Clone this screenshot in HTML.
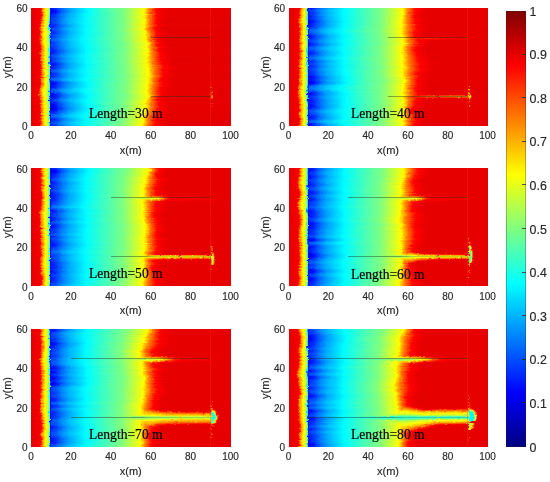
<!DOCTYPE html>
<html><head><meta charset="utf-8"><title>Length comparison</title>
<style>
html,body{margin:0;padding:0;background:#fff}
body{width:550px;height:482px;position:relative;overflow:hidden;font-family:"Liberation Sans",Arial,sans-serif;color:#262626;-webkit-text-stroke:.15px #262626}
.p{position:absolute;overflow:hidden}
.h{position:absolute;left:-3px;top:-3px;right:-3px;filter:url(#d)}
.h i{display:block;height:1px}
.t{position:absolute;font-size:10px;line-height:10px;white-space:nowrap}
.xt{transform:translateX(-50%)}
.yt{text-align:right;width:20px}
.xl{position:absolute;font-size:11px;line-height:11px;transform:translateX(-50%);white-space:nowrap}
.yl{position:absolute;font-size:11px;line-height:11px;transform:translate(-50%,-50%) rotate(-90deg);white-space:nowrap}
.lg{position:absolute;font-family:"Liberation Serif","Times New Roman",serif;font-size:14px;line-height:14px;color:#000;white-space:nowrap;transform:scaleX(.97);transform-origin:0 0;-webkit-text-stroke:.2px #000}
.f{position:absolute;height:1px;background:rgba(30,45,30,.42)}
.v{position:absolute;width:1px;top:0;bottom:0;background:rgba(255,50,0,.32)}
.cb{position:absolute;left:506px;top:10.5px;width:20px;height:436px;background:linear-gradient(180deg,#800000 0%,#ff0000 12.5%,#ffff00 37.5%,#00ffff 62.5%,#0000ff 87.5%,#000080 100%);box-shadow:inset 0 0 0 .6px rgba(38,38,38,.5)}
.ct{position:absolute;left:529.6px;font-size:12.4px;line-height:12px;white-space:nowrap}
.tk{position:absolute;left:522px;width:4px;height:1px;background:rgba(38,38,38,.75)}
</style></head><body>
<svg width="0" height="0" style="position:absolute"><filter id="d" x="0" y="0" width="100%" height="100%" color-interpolation-filters="sRGB"><feTurbulence type="fractalNoise" baseFrequency="0.4" numOctaves="1" seed="3" result="n"/><feDisplacementMap in="SourceGraphic" in2="n" scale="3" xChannelSelector="R" yChannelSelector="G"/></filter></svg>
<div class="p" style="left:31px;top:7.5px;width:199.5px;height:118px"><div class="h"><i style="background:linear-gradient(90deg,#e50000 3.5px,#f40000 12.5px,#ff1d00 13.5px,#ff6a00 14.5px,#ffc800 16.5px,#fff200 17.5px,#f5ff0a 18.5px,#baff45 20.5px,#61ff9e 21.5px,#000dff 22.5px,#0026ff 27.4px,#006fff 34.4px,#00a3ff 41.4px,#00feff 59.4px,#53ffac 81.3px,#7fff80 96.3px,#fcff03 116.2px,#fff300 117.2px,#ff8500 122.2px,#ff0300 131.2px,#e60000 144.1px,#e60000 202px)"></i><i style="background:linear-gradient(90deg,#e50000 3.5px,#f40000 12.5px,#ff1d00 13.5px,#ff6a00 14.5px,#ffc800 16.5px,#fff200 17.5px,#f5ff0a 18.5px,#baff45 20.5px,#61ff9e 21.5px,#000dff 22.5px,#0026ff 27.4px,#006fff 34.4px,#00a3ff 41.4px,#00feff 59.4px,#53ffac 81.3px,#7fff80 96.3px,#fcff03 116.2px,#fff300 117.2px,#ff8500 122.2px,#ff0300 131.2px,#e60000 144.1px,#e60000 202px)"></i><i style="background:linear-gradient(90deg,#e50000 3.5px,#f40000 12.5px,#ff1d00 13.5px,#ff6a00 14.5px,#ffc800 16.5px,#fff200 17.5px,#f5ff0a 18.5px,#baff45 20.5px,#61ff9e 21.5px,#000dff 22.5px,#0026ff 27.4px,#006fff 34.4px,#00a3ff 41.4px,#00feff 59.4px,#53ffac 81.3px,#7fff80 96.3px,#fcff03 116.2px,#fff300 117.2px,#ff8500 122.2px,#ff0300 131.2px,#e60000 144.1px,#e60000 202px)"></i><i style="background:linear-gradient(90deg,#e50000 3.5px,#f40000 12.5px,#ff1d00 13.5px,#ff6a00 14.5px,#ffc800 16.5px,#fff200 17.5px,#f5ff0a 18.5px,#baff45 20.5px,#61ff9e 21.5px,#000dff 22.5px,#0026ff 27.4px,#006fff 34.4px,#00a3ff 41.4px,#00feff 59.4px,#53ffac 81.3px,#7fff80 96.3px,#fcff03 116.2px,#fff300 117.2px,#ff8500 122.2px,#ff0300 131.2px,#e60000 144.1px,#e60000 202px)"></i><i style="background:linear-gradient(90deg,#e50000 3.5px,#f40000 12.5px,#ff2000 13.5px,#ff6c00 14.5px,#ffc900 16.5px,#fff200 17.5px,#f6ff09 18.5px,#c7ff38 20.5px,#97ff68 21.5px,#0039ff 22.5px,#0006ff 23.4px,#002cff 28.4px,#006dff 34.4px,#00a2ff 41.4px,#00fdff 59.4px,#53ffac 81.3px,#7eff81 96.3px,#faff05 116.2px,#fff400 117.2px,#ff7a00 121.2px,#f00 127.2px,#e60000 136.2px,#e60000 202px)"></i><i style="background:linear-gradient(90deg,#e60000 3.5px,#f40000 12.5px,#ff2b00 13.5px,#f70 14.5px,#ffa400 15.5px,#fff400 17.5px,#f3ff0c 18.5px,#b6ff49 20.5px,#58ffa7 21.5px,#000dff 22.5px,#0000fb 23.4px,#0016ff 27.4px,#0064ff 34.4px,#009cff 41.4px,#0ff 60.4px,#50ffaf 80.3px,#80ff7f 96.3px,#fffa00 116.2px,#ff7b00 121.2px,#ff0400 128.2px,#fc0000 129.2px,#e60000 139.2px,#e60000 202px)"></i><i style="background:linear-gradient(90deg,#e60000 3.5px,#f50000 12.5px,#ff8700 14.5px,#fff900 17.5px,#f0ff0f 18.5px,#c0ff3f 20.5px,#92ff6d 21.5px,#03f 22.5px,#00e 23.4px,#0000fb 24.4px,#01f 27.4px,#0060ff 34.4px,#00a0ff 42.4px,#04fffb 61.4px,#53ffac 81.3px,#80ff7f 96.3px,#fffb00 116.2px,#ff7d00 121.2px,#ff0700 128.2px,#fd0000 129.2px,#e60000 139.2px,#e60000 202px)"></i><i style="background:linear-gradient(90deg,#e50000 3.5px,#f40000 13.5px,#ff3100 14.5px,#ff7f00 15.5px,#ffdf00 17.5px,#feff01 18.5px,#c7ff38 20.5px,#80ff7f 21.5px,#000aff 22.5px,#0000fd 23.4px,#0019ff 27.4px,#06f 34.4px,#009dff 41.4px,#00fcff 59.4px,#81ff7e 96.3px,#faff05 115.2px,#fff500 116.2px,#ff7500 121.2px,#fe0000 128.2px,#e60000 138.2px,#e60000 202px)"></i><i style="background:linear-gradient(90deg,#e60000 3.5px,#f40000 12.5px,#ff2d00 13.5px,#ff7900 14.5px,#ffa400 15.5px,#fff500 17.5px,#f2ff0d 18.5px,#b5ff4a 20.5px,#54ffab 21.5px,#000eff 22.5px,#002eff 27.4px,#0075ff 34.4px,#00a7ff 41.4px,#00fcff 58.4px,#7eff81 95.3px,#fdff02 115.2px,#ffeb00 116.2px,#ff8300 120.2px,#fe0000 128.2px,#e60000 138.2px,#e60000 202px)"></i><i style="background:linear-gradient(90deg,#e50000 3.5px,#f50000 13.5px,#f80 15.5px,#ffe500 17.5px,#fcff03 18.5px,#c6ff39 20.5px,#85ff7a 21.5px,#0009ff 22.5px,#02f 23.4px,#0037ff 27.4px,#007bff 34.4px,#00acff 41.4px,#00fcff 58.4px,#82ff7d 97.3px,#feff01 117.2px,#ff8200 122.2px,#fe0000 130.2px,#e60000 140.2px,#e60000 202px)"></i><i style="background:linear-gradient(90deg,#e50000 3.5px,#f40000 12.5px,#ff2000 13.5px,#ff6c00 14.5px,#ffc900 16.5px,#fff200 17.5px,#f4ff0b 18.5px,#dcff23 19.5px,#b1ff4e 20.5px,#38ffc7 21.5px,#0013ff 22.5px,#0027ff 23.4px,#0039ff 27.4px,#007cff 34.4px,#00adff 41.4px,#00feff 58.4px,#81ff7e 96.3px,#fffa00 116.2px,#ff7600 121.2px,#fd0000 128.2px,#e60000 138.2px,#e60000 202px)"></i><i style="background:linear-gradient(90deg,#e50000 3.5px,#f40000 12.5px,#ff1a00 13.5px,#f60 14.5px,#fff100 17.5px,#f5ff0a 18.5px,#b6ff49 20.5px,#4dffb2 21.5px,#0010ff 22.5px,#0025ff 23.4px,#0037ff 27.4px,#007bff 34.4px,#00acff 41.4px,#00fdff 58.4px,#7fff80 96.3px,#fcff03 116.2px,#ffef00 117.2px,#ff8400 121.2px,#ff0800 128.2px,#fd0000 129.2px,#e60000 139.2px,#e60000 202px)"></i><i style="background:linear-gradient(90deg,#e60000 3.5px,#f40000 12.5px,#ff2f00 13.5px,#ff7c00 14.5px,#fff500 17.5px,#f2ff0d 18.5px,#b8ff47 20.5px,#60ff9f 21.5px,#000cff 22.5px,#0032ff 23.4px,#004aff 28.4px,#0083ff 34.4px,#00b7ff 42.4px,#00fbff 57.4px,#80ff7f 95.3px,#fffd00 115.2px,#ff8700 120.2px,#fe0000 129.2px,#e60000 140.2px,#e50000 202px)"></i><i style="background:linear-gradient(90deg,#e50000 3.5px,#f40000 12.5px,#ff0e00 13.5px,#ff5a00 14.5px,#ff9400 15.5px,#fe0 17.5px,#f8ff07 18.5px,#c1ff3e 20.5px,#7bff84 21.5px,#0009ff 22.5px,#0036ff 23.4px,#004eff 28.4px,#0087ff 34.4px,#00b9ff 42.4px,#00fbff 57.4px,#81ff7e 96.3px,#feff01 116.2px,#ff8400 121.2px,#fe0000 129.2px,#e50000 140.2px,#e50000 202px)"></i><i style="background:linear-gradient(90deg,#e70000 3.5px,#f40000 11.5px,#ff0d00 12.5px,#ff5a00 13.5px,#ff9400 14.5px,#ffe300 16.5px,#fffe00 17.5px,#eaff15 18.5px,#d4ff2b 19.5px,#a4ff5b 20.5px,#00eaff 21.5px,#0015ff 22.5px,#003eff 23.4px,#0052ff 28.4px,#0089ff 34.4px,#0bf 42.4px,#00fcff 57.4px,#7fff80 96.3px,#faff05 116.2px,#fff600 117.2px,#ff7100 122.2px,#ff0400 128.2px,#fc0000 129.2px,#e50000 138.2px,#e50000 202px)"></i><i style="background:linear-gradient(90deg,#e50000 3.5px,#fa0000 13.5px,#ff8b00 15.5px,#ffe700 17.5px,#fbff04 18.5px,#c2ff3d 20.5px,#71ff8e 21.5px,#000cff 22.5px,#0037ff 23.4px,#004eff 28.4px,#0086ff 34.4px,#00b9ff 42.4px,#00faff 57.4px,#82ff7d 97.3px,#feff01 117.2px,#ff7400 122.2px,#fe0000 128.2px,#e50000 137.2px,#e50000 202px)"></i><i style="background:linear-gradient(90deg,#e70000 3.5px,#f40000 11.5px,#ff2300 12.5px,#ff7000 13.5px,#ff9f00 14.5px,#ffec00 16.5px,#fcff03 17.5px,#d1ff2e 19.5px,#9eff61 20.5px,#00b7ff 21.5px,#0017ff 22.5px,#0039ff 23.4px,#004eff 28.4px,#0087ff 34.4px,#00baff 42.4px,#00fbff 57.4px,#81ff7e 96.3px,#feff01 116.2px,#ff7f00 121.2px,#ff0700 128.2px,#fd0000 129.2px,#e50000 139.2px,#e50000 202px)"></i><i style="background:linear-gradient(90deg,#e60000 3.5px,#fc0000 12.5px,#ff8b00 14.5px,#fffb00 17.5px,#edff12 18.5px,#d5ff2a 19.5px,#a2ff5d 20.5px,#00a7ff 21.5px,#0019ff 22.5px,#0041ff 23.4px,#0054ff 28.4px,#008bff 34.4px,#00bcff 42.4px,#00fcff 57.4px,#7fff80 96.3px,#fffe00 117.2px,#ff8100 121.2px,#ff0500 127.2px,#fc0000 128.2px,#e50000 136.2px,#e50000 202px)"></i><i style="background:linear-gradient(90deg,#e60000 3.5px,#f50000 12.5px,#ff8300 14.5px,#fff700 17.5px,#f0ff0f 18.5px,#daff25 19.5px,#b3ff4c 20.5px,#4fffb0 21.5px,#000eff 22.5px,#0039ff 23.4px,#004fff 28.4px,#0087ff 34.4px,#00baff 42.4px,#00fbff 57.4px,#7fff80 95.3px,#fcff03 115.2px,#fff200 116.2px,#ff7500 121.2px,#fe0000 128.2px,#e60000 138.2px,#e50000 202px)"></i><i style="background:linear-gradient(90deg,#e80000 3.5px,#f40000 10.5px,#ff0800 11.5px,#ff9100 13.5px,#ffe000 15.5px,#fffa00 16.5px,#f2ff0d 17.5px,#c1ff3e 19.5px,#8aff75 20.5px,#04f 21.5px,#001aff 22.5px,#0037ff 27.4px,#007bff 34.4px,#00acff 41.4px,#00fdff 58.4px,#81ff7e 96.3px,#fffa00 116.2px,#ff7e00 121.2px,#fe0000 129.2px,#e60000 140.2px,#e60000 202px)"></i><i style="background:linear-gradient(90deg,#e70000 3.5px,#f40000 11.5px,#ff2500 12.5px,#ff7100 13.5px,#ffa000 14.5px,#ffed00 16.5px,#fbff04 17.5px,#d1ff2e 19.5px,#9eff61 20.5px,#00beff 21.5px,#0016ff 22.5px,#002fff 27.4px,#0075ff 34.4px,#00a8ff 41.4px,#00fbff 58.4px,#81ff7e 96.3px,#fffa00 116.2px,#ff8300 121.2px,#ff0500 129.2px,#fd0000 130.2px,#e60000 141.2px,#e60000 202px)"></i><i style="background:linear-gradient(90deg,#e70000 3.5px,#f40000 11.5px,#ff2600 12.5px,#ff7200 13.5px,#ffa100 14.5px,#fe0 16.5px,#fbff04 17.5px,#d2ff2d 19.5px,#a2ff5d 20.5px,#00f9ff 21.5px,#0013ff 22.5px,#0af 41.4px,#00fcff 58.4px,#7eff81 96.3px,#fffc00 117.2px,#f70 122.2px,#fe0000 129.2px,#e60000 139.2px,#e60000 202px)"></i><i style="background:linear-gradient(90deg,#e90000 3.5px,#f40000 10.5px,#ff1f00 11.5px,#ff6c00 12.5px,#ff9d00 13.5px,#ffed00 15.5px,#ff0 16.5px,#dcff23 18.5px,#9bff64 20.5px,#10ffef 21.5px,#000fff 22.5px,#002bff 23.4px,#003cff 27.4px,#007fff 34.4px,#00aeff 41.4px,#00feff 58.4px,#82ff7d 96.3px,#fff800 116.2px,#ff8000 120.2px,#fd0000 127.2px,#e50000 136.2px,#e50000 202px)"></i><i style="background:linear-gradient(90deg,#e80000 3.5px,#f50000 11.5px,#ff8400 13.5px,#fff400 16.5px,#f7ff08 17.5px,#cdff32 19.5px,#9eff61 20.5px,#00e4ff 21.5px,#0013ff 22.5px,#003dff 23.4px,#0051ff 28.4px,#0089ff 34.4px,#0bf 42.4px,#00fbff 57.4px,#7fff80 96.3px,#fff900 117.2px,#ff7000 121.2px,#fe0000 126.2px,#e50000 134.2px,#e50000 202px)"></i><i style="background:linear-gradient(90deg,#e80000 3.5px,#f40000 10.5px,#ff1400 11.5px,#ff6100 12.5px,#ff9700 13.5px,#ffe700 15.5px,#fffd00 16.5px,#f0ff0f 17.5px,#c7ff38 19.5px,#9eff61 20.5px,#31ffce 21.5px,#000eff 22.5px,#003dff 23.4px,#0052ff 28.4px,#0089ff 34.4px,#0bf 42.4px,#00fdff 57.4px,#80ff7f 95.3px,#fffb00 115.2px,#ff8300 120.2px,#ff0400 128.2px,#fc0000 129.2px,#e50000 140.2px,#e50000 202px)"></i><i style="background:linear-gradient(90deg,#e80000 3.5px,#f40000 10.5px,#ff0700 11.5px,#ff9100 13.5px,#ffe000 15.5px,#fffa00 16.5px,#f2ff0d 17.5px,#d0ff2f 19.5px,#af5 20.5px,#5fffa0 21.5px,#0007ff 22.5px,#03f 23.4px,#004dff 28.4px,#0086ff 34.4px,#00b9ff 42.4px,#00fbff 57.4px,#81ff7e 96.3px,#fffe00 116.2px,#ff7800 121.2px,#fe0000 128.2px,#e50000 138.2px,#e50000 202px)"></i><i style="background:linear-gradient(90deg,#e70000 3.5px,#f40000 11.5px,#ff1600 12.5px,#ff6200 13.5px,#ff9800 14.5px,#ffe700 16.5px,#feff01 17.5px,#dbff24 19.5px,#9aff65 21.5px,#009bff 22.5px,#0021ff 23.4px,#00afff 41.4px,#00feff 58.4px,#7eff81 96.3px,#fffe00 117.2px,#ff7400 122.2px,#ff0400 128.2px,#fc0000 129.2px,#e50000 138.2px,#e50000 202px)"></i><i style="background:linear-gradient(90deg,#e80000 3.5px,#f50000 11.5px,#ff8600 13.5px,#fff500 16.5px,#f6ff09 17.5px,#d9ff26 19.5px,#a6ff59 21.5px,#3bffc4 22.5px,#0018ff 23.4px,#007cff 34.4px,#00acff 41.4px,#00fdff 58.4px,#7fff80 96.3px,#fbff04 116.2px,#fff500 117.2px,#ff7600 122.2px,#fe0000 129.2px,#e60000 139.2px,#e60000 202px)"></i><i style="background:linear-gradient(90deg,#e80000 3.5px,#f30000 10.5px,#ff0500 11.5px,#ff8f00 13.5px,#ffdf00 15.5px,#fff900 16.5px,#f3ff0c 17.5px,#d2ff2d 19.5px,#aeff51 20.5px,#70ff8f 21.5px,#0016ff 22.5px,#00adff 41.4px,#00fcff 58.4px,#7fff80 97.3px,#ff0 118.2px,#ff8700 122.2px,#fe0000 129.2px,#e60000 138.2px,#e60000 202px)"></i><i style="background:linear-gradient(90deg,#e80000 3.5px,#f40000 10.5px,#ff0f00 11.5px,#ff5c00 12.5px,#ff9500 13.5px,#ffbd00 14.5px,#ffe400 15.5px,#fffb00 16.5px,#f1ff0e 17.5px,#d2ff2d 19.5px,#89ff76 21.5px,#0078ff 22.5px,#002eff 23.4px,#00b3ff 41.4px,#00faff 57.4px,#7fff80 96.3px,#fffc00 117.2px,#ff7f00 122.2px,#fe0000 130.2px,#e50000 141.2px,#e50000 202px)"></i><i style="background:linear-gradient(90deg,#e90000 3.5px,#f40000 10.5px,#ff2900 11.5px,#ff7500 12.5px,#ffa200 13.5px,#fff100 15.5px,#fcff03 16.5px,#cf3 19.5px,#82ff7d 21.5px,#0078ff 22.5px,#0037ff 23.4px,#00b7ff 41.4px,#00fbff 57.4px,#80ff7f 97.3px,#ff0 118.2px,#ff7900 122.2px,#ff0800 127.2px,#fc0000 128.2px,#e60000 135.2px,#e50000 202px)"></i><i style="background:linear-gradient(90deg,#e80000 3.5px,#f40000 10.5px,#ff1000 11.5px,#ff5c00 12.5px,#ff9500 13.5px,#ffbd00 14.5px,#ffe500 15.5px,#fffc00 16.5px,#f0ff0f 17.5px,#cfff30 19.5px,#abff54 20.5px,#67ff98 21.5px,#0005ff 22.5px,#0037ff 23.4px,#0051ff 28.4px,#0089ff 34.4px,#0bf 42.4px,#00fbff 57.4px,#7fff80 96.3px,#fff800 117.2px,#ff7500 122.2px,#fd0000 129.2px,#e50000 139.2px,#e50000 202px)"></i><i style="background:linear-gradient(90deg,#e80000 3.5px,#f30000 10.5px,#ff0200 11.5px,#ff8e00 13.5px,#fd0 15.5px,#fff800 16.5px,#f3ff0c 17.5px,#c6ff39 19.5px,#98ff67 20.5px,#00afff 21.5px,#0015ff 22.5px,#003fff 23.4px,#0053ff 28.4px,#008aff 34.4px,#00bcff 42.4px,#00fcff 57.4px,#7fff80 96.3px,#fffc00 117.2px,#ff7c00 122.2px,#ff0400 129.2px,#fc0000 130.2px,#e50000 140.2px,#e50000 202px)"></i><i style="background:linear-gradient(90deg,#e80000 3.5px,#f50000 11.5px,#ff3800 12.5px,#ff8200 13.5px,#fff300 16.5px,#f8ff07 17.5px,#d3ff2c 19.5px,#acff53 20.5px,#59ffa6 21.5px,#0009ff 22.5px,#004eff 23.4px,#0061ff 28.4px,#0094ff 34.4px,#00beff 41.4px,#0ff 57.4px,#32ffcd 70.3px,#81ff7e 97.3px,#fff800 118.2px,#ff7400 123.2px,#fd0000 130.2px,#e50000 140.2px,#e50000 202px)"></i><i style="background:linear-gradient(90deg,#e90000 3.5px,#f40000 10.5px,#ff1900 11.5px,#f60 12.5px,#ff9a00 13.5px,#ffea00 15.5px,#fffe00 16.5px,#ef1 17.5px,#c6ff39 19.5px,#9eff61 20.5px,#3fc 21.5px,#000dff 22.5px,#005dff 23.4px,#006bff 28.4px,#009cff 34.4px,#00c8ff 42.4px,#00fdff 56.4px,#80ff7f 96.3px,#fff800 117.2px,#ff7300 122.2px,#ff0500 128.2px,#fc0000 129.2px,#e50000 138.2px,#e50000 202px)"></i><i style="background:linear-gradient(90deg,#e70000 3.5px,#f40000 11.5px,#ff1b00 12.5px,#ff6800 13.5px,#ff9b00 14.5px,#ffe900 16.5px,#fdff02 17.5px,#d4ff2b 19.5px,#a8ff57 20.5px,#36ffc9 21.5px,#0010ff 22.5px,#005bff 23.4px,#0069ff 28.4px,#009aff 34.4px,#00c7ff 42.4px,#00fbff 56.4px,#81ff7e 97.3px,#fff900 118.2px,#f70 123.2px,#fe0000 130.2px,#e50000 140.2px,#e50000 202px)"></i><i style="background:linear-gradient(90deg,#e80000 3.5px,#f70000 11.5px,#ff8900 13.5px,#ffd800 15.5px,#fff600 16.5px,#f5ff0a 17.5px,#ceff31 19.5px,#a3ff5c 20.5px,#35ffca 21.5px,#000eff 22.5px,#0048ff 23.4px,#005bff 28.4px,#0090ff 34.4px,#00baff 41.4px,#00fdff 57.4px,#80ff7f 97.3px,#ff0 118.2px,#ff7600 123.2px,#ff0700 129.2px,#fc0000 130.2px,#e50000 139.2px,#e50000 202px)"></i><i style="background:linear-gradient(90deg,#e80000 3.5px,#f30000 10.5px,#ff0500 11.5px,#ff8f00 13.5px,#ffdf00 15.5px,#fff900 16.5px,#f3ff0c 17.5px,#ceff31 19.5px,#a5ff5a 20.5px,#48ffb7 21.5px,#000bff 22.5px,#0039ff 23.4px,#0050ff 28.4px,#08f 34.4px,#00baff 42.4px,#00faff 57.4px,#7fff80 97.3px,#fcff03 118.2px,#fff000 119.2px,#f70 124.2px,#ff0400 131.2px,#fc0000 132.2px,#e50000 142.2px,#e50000 202px)"></i><i style="background:linear-gradient(90deg,#e80000 3.5px,#fc0000 11.5px,#ff8b00 13.5px,#ffdb00 15.5px,#fff700 16.5px,#f4ff0b 17.5px,#d1ff2e 19.5px,#a9ff56 20.5px,#57ffa8 21.5px,#0009ff 22.5px,#003aff 23.4px,#0052ff 28.4px,#0089ff 34.4px,#0bf 42.4px,#0ff 58.4px,#83ff7c 99.3px,#fffe00 120.2px,#ff8200 124.2px,#ff0700 130.2px,#fc0000 131.2px,#e60000 139.2px,#e50000 202px)"></i><i style="background:linear-gradient(90deg,#e70000 3.5px,#f40000 11.5px,#ff1d00 12.5px,#ff6a00 13.5px,#ff9c00 14.5px,#ffea00 16.5px,#fdff02 17.5px,#d8ff27 19.5px,#b9ff46 20.5px,#8f7 21.5px,#0037ff 22.5px,#0057ff 28.4px,#008dff 34.4px,#00b9ff 41.4px,#00fbff 57.4px,#80ff7f 98.3px,#fdff02 119.2px,#ffe600 120.2px,#ff8000 123.2px,#fe0000 129.2px,#e50000 137.2px,#e50000 202px)"></i><i style="background:linear-gradient(90deg,#e70000 3.5px,#f40000 11.5px,#ff1d00 12.5px,#ff6900 13.5px,#ff9c00 14.5px,#ffea00 16.5px,#fdff02 17.5px,#d5ff2a 19.5px,#acff53 20.5px,#4bffb4 21.5px,#000dff 22.5px,#003aff 23.4px,#0050ff 28.4px,#08f 34.4px,#00baff 42.4px,#0ff 58.4px,#32ffcd 71.3px,#81ff7e 98.3px,#fffe00 119.2px,#ff7600 124.2px,#ff0700 130.2px,#fd0000 131.2px,#e50000 140.2px,#e50000 202px)"></i><i style="background:linear-gradient(90deg,#e60000 3.5px,#f50000 12.5px,#ff8300 14.5px,#fff700 17.5px,#f0ff0f 18.5px,#daff25 19.5px,#b2ff4d 20.5px,#4dffb2 21.5px,#000fff 22.5px,#0034ff 23.4px,#004bff 28.4px,#0084ff 34.4px,#00b8ff 42.4px,#00feff 58.4px,#81ff7e 98.3px,#ff0 119.2px,#ff8a00 123.2px,#ff0200 130.2px,#e50000 140.2px,#e50000 202px)"></i><i style="background:linear-gradient(90deg,#e70000 3.5px,#f40000 11.5px,#ff1400 12.5px,#ff6000 13.5px,#ff9700 14.5px,#ffe600 16.5px,#ff0 17.5px,#d6ff29 19.5px,#adff52 20.5px,#48ffb7 21.5px,#000eff 22.5px,#0034ff 23.4px,#004bff 28.4px,#0084ff 34.4px,#00b8ff 42.4px,#00feff 58.4px,#7fff80 97.3px,#feff01 118.2px,#ff7d00 124.2px,#fd0000 133.2px,#e60000 144.1px,#e50000 202px)"></i><i style="background:linear-gradient(90deg,#e60000 3.5px,#fd0000 12.5px,#ff8c00 14.5px,#fffb00 17.5px,#ef1 18.5px,#d9ff26 19.5px,#b3ff4c 20.5px,#59ffa6 21.5px,#000cff 22.5px,#002cff 23.4px,#003eff 27.4px,#0080ff 34.4px,#00afff 41.4px,#00fdff 58.4px,#80ff7f 98.3px,#ff0 119.2px,#ff7400 124.2px,#ff0300 130.2px,#fc0000 131.2px,#e50000 140.2px,#e50000 202px)"></i><i style="background:linear-gradient(90deg,#e60000 3.5px,#f40000 12.5px,#ff3200 13.5px,#ff7e00 14.5px,#fff600 17.5px,#f1ff0e 18.5px,#d9ff26 19.5px,#af5 20.5px,#09fff6 21.5px,#0016ff 22.5px,#03f 27.4px,#0078ff 34.4px,#0af 41.4px,#00faff 58.4px,#7fff80 98.3px,#feff01 119.2px,#ff7900 124.2px,#ff0900 130.2px,#fd0000 131.2px,#e60000 140.2px,#e60000 202px)"></i><i style="background:linear-gradient(90deg,#e70000 3.5px,#f40000 11.5px,#ff3200 12.5px,#ff7e00 13.5px,#fff100 16.5px,#f9ff06 17.5px,#d4ff2b 19.5px,#afff50 20.5px,#65ff9a 21.5px,#0008ff 22.5px,#00a6ff 41.4px,#00fdff 59.4px,#7fff80 98.3px,#fcff03 119.2px,#ffed00 120.2px,#ff7a00 124.2px,#ff0700 130.2px,#fc0000 131.2px,#e60000 140.2px,#e60000 202px)"></i><i style="background:linear-gradient(90deg,#e70000 3.5px,#f40000 11.5px,#ff0f00 12.5px,#ff5b00 13.5px,#ff9500 14.5px,#ffe300 16.5px,#fffe00 17.5px,#ebff14 18.5px,#d6ff29 19.5px,#abff54 20.5px,#3fffc0 21.5px,#000fff 22.5px,#002aff 27.4px,#0072ff 34.4px,#00a5ff 41.4px,#00fdff 59.4px,#82ff7d 99.3px,#ff0 120.2px,#ff8700 124.2px,#fe0000 131.2px,#e60000 140.2px,#e60000 202px)"></i><i style="background:linear-gradient(90deg,#e70000 3.5px,#f40000 11.5px,#ff2b00 12.5px,#f70 13.5px,#ffa300 14.5px,#fff000 16.5px,#faff05 17.5px,#d3ff2c 19.5px,#a9ff56 20.5px,#45ffba 21.5px,#000dff 22.5px,#00a7ff 41.4px,#00feff 59.4px,#53ffac 82.3px,#80ff7f 98.3px,#feff01 119.2px,#ff8500 124.2px,#ff0100 132.2px,#e60000 143.1px,#e60000 202px)"></i><i style="background:linear-gradient(90deg,#e70000 3.5px,#f40000 11.5px,#ff0b00 12.5px,#ff5700 13.5px,#ff9200 14.5px,#fffd00 17.5px,#ecff13 18.5px,#d7ff28 19.5px,#aeff51 20.5px,#48ffb7 21.5px,#000eff 22.5px,#0029ff 23.4px,#003bff 27.4px,#007eff 34.4px,#00aeff 41.4px,#00fdff 58.4px,#7fff80 97.3px,#feff01 118.2px,#f70 124.2px,#fe0000 132.2px,#e50000 143.1px,#e50000 202px)"></i><i style="background:linear-gradient(90deg,#e80000 3.5px,#f50000 11.5px,#ff8500 13.5px,#fff400 16.5px,#f7ff08 17.5px,#ceff31 19.5px,#a1ff5e 20.5px,#20ffdf 21.5px,#01f 22.5px,#0034ff 23.4px,#004bff 28.4px,#0084ff 34.4px,#00b8ff 42.4px,#00feff 58.4px,#80ff7f 98.3px,#feff01 119.2px,#ff8600 124.2px,#ff0200 132.2px,#e60000 143.1px,#e50000 202px)"></i><i style="background:linear-gradient(90deg,#e60000 3.5px,#fb0000 12.5px,#ff8b00 14.5px,#fffa00 17.5px,#edff12 18.5px,#d7ff28 19.5px,#a9ff56 20.5px,#26ffd9 21.5px,#0013ff 22.5px,#0046ff 23.4px,#0059ff 28.4px,#008eff 34.4px,#00b9ff 41.4px,#00fcff 57.4px,#82ff7d 98.3px,#fff900 119.2px,#f70 125.2px,#ff0200 133.2px,#e60000 145.1px,#e50000 202px)"></i><i style="background:linear-gradient(90deg,#e70000 3.5px,#f40000 11.5px,#ff1a00 12.5px,#f60 13.5px,#ff9a00 14.5px,#ffe800 16.5px,#feff01 17.5px,#d2ff2d 19.5px,#9eff61 20.5px,#009fff 21.5px,#0018ff 22.5px,#0049ff 23.4px,#05f 27.4px,#0090ff 34.4px,#00c0ff 42.4px,#00fdff 57.4px,#82ff7d 98.3px,#fff700 119.2px,#ff7f00 124.2px,#f00 132.2px,#e60000 143.1px,#e50000 202px)"></i><i style="background:linear-gradient(90deg,#e80000 3.5px,#f80000 11.5px,#ff8900 13.5px,#ffd900 15.5px,#fff600 16.5px,#f5ff0a 17.5px,#c9ff36 19.5px,#9bff64 20.5px,#00c7ff 21.5px,#0014ff 22.5px,#0041ff 23.4px,#05f 28.4px,#008bff 34.4px,#00bdff 42.4px,#00fbff 57.4px,#82ff7d 98.3px,#fff800 119.2px,#ff7f00 124.2px,#f00 132.2px,#e60000 143.1px,#e50000 202px)"></i><i style="background:linear-gradient(90deg,#e70000 3.5px,#f40000 11.5px,#ff1600 12.5px,#ff6200 13.5px,#ff9800 14.5px,#ffe600 16.5px,#ff0 17.5px,#d4ff2b 19.5px,#a4ff5b 20.5px,#05fffa 21.5px,#0014ff 22.5px,#0032ff 23.4px,#0042ff 27.4px,#0083ff 34.4px,#00b1ff 41.4px,#00fdff 58.4px,#80ff7f 98.3px,#feff01 119.2px,#ff7a00 125.2px,#f00 133.2px,#e50000 145.1px,#e50000 202px)"></i><i style="background:linear-gradient(90deg,#e70000 3.5px,#f40000 11.5px,#ff3000 12.5px,#ff7c00 13.5px,#fff100 16.5px,#f9ff06 17.5px,#d1ff2e 19.5px,#a2ff5d 20.5px,#13ffec 21.5px,#0012ff 22.5px,#0032ff 23.4px,#0042ff 27.4px,#0083ff 34.4px,#00b1ff 41.4px,#00feff 58.4px,#82ff7d 98.3px,#fff700 119.2px,#ff8000 124.2px,#ff0300 132.2px,#fc0000 133.2px,#e50000 144.1px,#e50000 202px)"></i><i style="background:linear-gradient(90deg,#e70000 3.5px,#f40000 11.5px,#ff1e00 12.5px,#ff6a00 13.5px,#ff9c00 14.5px,#ffea00 16.5px,#fdff02 17.5px,#d3ff2c 19.5px,#a6ff59 20.5px,#2fffd0 21.5px,#01f 22.5px,#0038ff 23.4px,#004eff 28.4px,#0086ff 34.4px,#00b9ff 42.4px,#00feff 58.4px,#80ff7f 98.3px,#fdff02 119.2px,#fff100 120.2px,#ff8000 125.2px,#fe0000 134.2px,#e50000 146.1px,#e50000 202px)"></i><i style="background:linear-gradient(90deg,#e60000 3.5px,#f50000 12.5px,#ff8700 14.5px,#fff900 17.5px,#efff10 18.5px,#d8ff27 19.5px,#adff52 20.5px,#3affc5 21.5px,#01f 22.5px,#0035ff 23.4px,#004bff 28.4px,#0084ff 34.4px,#00b8ff 42.4px,#00feff 58.4px,#7fff80 97.3px,#feff01 118.2px,#ff7b00 124.2px,#ff0200 132.2px,#e50000 144.1px,#e50000 202px)"></i><i style="background:linear-gradient(90deg,#e60000 3.5px,#f50000 12.5px,#ff8500 14.5px,#fff800 17.5px,#ef1 18.5px,#d5ff2a 19.5px,#a0ff5f 20.5px,#0073ff 21.5px,#001cff 22.5px,#0036ff 27.4px,#007aff 34.4px,#00abff 41.4px,#00fcff 58.4px,#7fff80 97.3px,#fffa00 118.2px,#f70 125.2px,#fd0000 135.2px,#e60000 148.1px,#e60000 202px)"></i><i style="background:linear-gradient(90deg,#e80000 3.5px,#fd0000 11.5px,#ff8c00 13.5px,#ffdb00 15.5px,#fff700 16.5px,#f4ff0b 17.5px,#c7ff38 19.5px,#98ff67 20.5px,#009cff 21.5px,#0016ff 22.5px,#0013ff 23.4px,#0028ff 27.4px,#0070ff 34.4px,#00a4ff 41.4px,#00fdff 59.4px,#7eff81 98.3px,#fff700 120.2px,#ff7d00 125.2px,#fe0000 133.2px,#e60000 144.1px,#e60000 202px)"></i><i style="background:linear-gradient(90deg,#e60000 3.5px,#f30000 11.5px,#ff0300 12.5px,#ff8e00 14.5px,#fffc00 17.5px,#edff12 18.5px,#d7ff28 19.5px,#abff54 20.5px,#38ffc7 21.5px,#01f 22.5px,#0008ff 23.4px,#001fff 27.4px,#006aff 34.4px,#00a0ff 41.4px,#00fbff 59.4px,#7fff80 98.3px,#feff01 119.2px,#ff7e00 125.2px,#f00 134.2px,#e60000 146.1px,#e60000 202px)"></i><i style="background:linear-gradient(90deg,#e70000 3.5px,#f40000 11.5px,#ff1400 12.5px,#ff6000 13.5px,#ff9700 14.5px,#ffe600 16.5px,#ff0 17.5px,#d6ff29 19.5px,#acff53 20.5px,#47ffb8 21.5px,#000eff 22.5px,#0028ff 27.4px,#0070ff 34.4px,#00a4ff 41.4px,#00fcff 59.4px,#7eff81 98.3px,#fffb00 120.2px,#ff8200 126.2px,#fe0000 136.2px,#e60000 149.1px,#e60000 202px)"></i><i style="background:linear-gradient(90deg,#e60000 3.5px,#f60000 12.5px,#f80 14.5px,#fff900 17.5px,#f0ff0f 18.5px,#bfff40 20.5px,#8cff73 21.5px,#001cff 22.5px,#01f 23.4px,#00a6ff 41.4px,#00feff 59.4px,#80ff7f 98.3px,#feff01 119.2px,#ff8600 125.2px,#f00 135.2px,#e60000 148.1px,#e60000 202px)"></i><i style="background:linear-gradient(90deg,#e70000 3.5px,#f40000 11.5px,#ff0f00 12.5px,#ff5c00 13.5px,#ff9500 14.5px,#ffe400 16.5px,#fffe00 17.5px,#ebff14 18.5px,#d8ff27 19.5px,#b2ff4d 20.5px,#5fffa0 21.5px,#000aff 22.5px,#00a7ff 41.4px,#00feff 59.4px,#80ff7f 98.3px,#ff0 119.2px,#ff8000 126.2px,#fe0000 137.2px,#e60000 152.1px,#e60000 202px)"></i><i style="background:linear-gradient(90deg,#e60000 3.5px,#f50000 12.5px,#ff8600 14.5px,#fff900 17.5px,#f1ff0e 18.5px,#c1ff3e 20.5px,#95ff6a 21.5px,#003dff 22.5px,#001cff 23.4px,#00abff 41.4px,#00faff 58.4px,#81ff7e 99.3px,#fdff02 120.2px,#fff000 121.2px,#ff8000 126.2px,#fe0000 135.2px,#e60000 147.1px,#e60000 202px)"></i><i style="background:linear-gradient(90deg,#e70000 3.5px,#f40000 11.5px,#ff2800 12.5px,#ff7400 13.5px,#ffa200 14.5px,#fe0 16.5px,#fbff04 17.5px,#d4ff2b 19.5px,#adff52 20.5px,#54ffab 21.5px,#000bff 22.5px,#003dff 23.4px,#0053ff 28.4px,#008aff 34.4px,#00bcff 42.4px,#00faff 57.4px,#7fff80 98.3px,#fffb00 120.2px,#ff7c00 126.2px,#f00 135.2px,#e50000 148.1px,#e50000 202px)"></i><i style="background:linear-gradient(90deg,#e60000 3.5px,#f50000 12.5px,#ff3700 13.5px,#ff8100 14.5px,#fff700 17.5px,#f1ff0e 18.5px,#b6ff49 20.5px,#5effa1 21.5px,#000cff 22.5px,#0050ff 23.4px,#0061ff 28.4px,#0095ff 34.4px,#00c3ff 42.4px,#00fdff 57.4px,#83ff7c 99.3px,#ff0 120.2px,#ff8500 125.2px,#ff0400 133.2px,#fc0000 134.2px,#e60000 144.1px,#e50000 202px)"></i><i style="background:linear-gradient(90deg,#e70000 3.5px,#f40000 11.5px,#ff1000 12.5px,#ff5c00 13.5px,#ff9500 14.5px,#ffbd00 15.5px,#fffe00 17.5px,#ebff14 18.5px,#d5ff2a 19.5px,#a9ff56 20.5px,#35ffca 21.5px,#01f 22.5px,#0050ff 23.4px,#0060ff 28.4px,#0094ff 34.4px,#00c2ff 42.4px,#00fdff 57.4px,#7fff80 98.3px,#fffd00 120.2px,#ff7c00 126.2px,#fe0000 135.2px,#e60000 147.1px,#e50000 202px)"></i><i style="background:linear-gradient(90deg,#e60000 3.5px,#f50000 12.5px,#ff3500 13.5px,#ff8100 14.5px,#fff700 17.5px,#f2ff0d 18.5px,#bdff42 20.5px,#7dff82 21.5px,#0007ff 22.5px,#003bff 23.4px,#0054ff 28.4px,#008bff 34.4px,#00bcff 42.4px,#00fbff 57.4px,#80ff7f 98.3px,#fdff02 119.2px,#fff200 120.2px,#ff7b00 126.2px,#ff0300 135.2px,#fd0000 136.2px,#e50000 149.1px,#e50000 202px)"></i><i style="background:linear-gradient(90deg,#e60000 3.5px,#fc0000 12.5px,#ff8b00 14.5px,#fffb00 17.5px,#efff10 18.5px,#bf4 20.5px,#7dff82 21.5px,#0006ff 22.5px,#0029ff 23.4px,#0046ff 28.4px,#0081ff 34.4px,#00b6ff 42.4px,#02fffd 59.4px,#80ff7f 99.3px,#fbff04 120.2px,#fff700 121.2px,#ff8100 126.2px,#ff0500 134.2px,#fd0000 135.2px,#e50000 146.1px,#e50000 202px)"></i><i style="background:linear-gradient(90deg,#e50000 3.5px,#f40000 12.5px,#ff2300 13.5px,#ff7000 14.5px,#ffcb00 16.5px,#fff300 17.5px,#f4ff0b 18.5px,#bf4 20.5px,#67ff98 21.5px,#000bff 22.5px,#0028ff 23.4px,#003bff 27.4px,#007eff 34.4px,#00aeff 41.4px,#00fcff 58.4px,#7eff81 98.3px,#fffb00 120.2px,#ff7900 126.2px,#fd0000 135.2px,#e60000 147.1px,#e60000 202px)"></i><i style="background:linear-gradient(90deg,#e50000 3.5px,#f40000 12.5px,#ff1500 13.5px,#ff6100 14.5px,#ff9800 15.5px,#fff000 17.5px,#f6ff09 18.5px,#df2 19.5px,#b2ff4d 20.5px,#38ffc7 21.5px,#0014ff 22.5px,#002bff 23.4px,#003cff 27.4px,#007fff 34.4px,#00aeff 41.4px,#00fbff 58.4px,#7fff80 99.3px,#feff01 121.2px,#ff7b00 127.2px,#ff0300 135.2px,#e60000 147.1px,#e50000 202px)"></i><i style="background:linear-gradient(90deg,#e70000 3.5px,#f40000 11.5px,#ff1500 12.5px,#ff6200 13.5px,#ff9800 14.5px,#ffe600 16.5px,#ff0 17.5px,#d4ff2b 19.5px,#a7ff58 20.5px,#2fffd0 21.5px,#0012ff 22.5px,#002eff 23.4px,#003fff 27.4px,#0080ff 34.4px,#00b0ff 41.4px,#00fcff 58.4px,#80ff7f 99.3px,#fff900 121.2px,#ff7b00 127.2px,#f00 136.2px,#e50000 149.1px,#e50000 202px)"></i><i style="background:linear-gradient(90deg,#e50000 3.5px,#f40000 13.5px,#ff2f00 14.5px,#ff7d00 15.5px,#ffde00 17.5px,#fdff02 18.5px,#e0ff1f 19.5px,#b2ff4d 20.5px,#00ecff 21.5px,#001bff 22.5px,#003aff 23.4px,#0048ff 27.4px,#0087ff 34.4px,#00b4ff 41.4px,#00feff 58.4px,#81ff7e 99.3px,#fcff03 120.2px,#fff000 121.2px,#ff7b00 126.2px,#fe0000 134.2px,#e60000 145.1px,#e50000 202px)"></i><i style="background:linear-gradient(90deg,#e60000 3.5px,#f70000 12.5px,#ff8900 14.5px,#fffa00 17.5px,#ef1 18.5px,#d8ff27 19.5px,#acff53 20.5px,#35ffca 21.5px,#0012ff 22.5px,#0056ff 23.4px,#0065ff 28.4px,#0097ff 34.4px,#00c5ff 42.4px,#00feff 57.4px,#82ff7d 99.3px,#feff01 120.2px,#ff8200 125.2px,#fe0000 133.2px,#e60000 143.1px,#e50000 202px)"></i><i style="background:linear-gradient(90deg,#e60000 3.5px,#f80000 12.5px,#ff8900 14.5px,#fffa00 17.5px,#ecff13 18.5px,#d3ff2c 19.5px,#9aff65 20.5px,#0023ff 21.5px,#05f 22.5px,#005fff 23.4px,#006bff 28.4px,#009cff 34.4px,#00c8ff 42.4px,#00fbff 56.4px,#7fff80 98.3px,#fffc00 120.2px,#ff8100 125.2px,#f00 133.2px,#e50000 144.1px,#e50000 202px)"></i><i style="background:linear-gradient(90deg,#e70000 3.5px,#f40000 11.5px,#ff0c00 12.5px,#ff5900 13.5px,#ff9300 14.5px,#ffe200 16.5px,#fffe00 17.5px,#eaff15 18.5px,#d4ff2b 19.5px,#a3ff5c 20.5px,#00d9ff 21.5px,#0016ff 22.5px,#004bff 23.4px,#0056ff 27.4px,#0091ff 34.4px,#00c1ff 42.4px,#00fcff 57.4px,#7fff80 98.3px,#fff800 120.2px,#ff8000 125.2px,#ff0200 133.2px,#e60000 144.1px,#e50000 202px)"></i><i style="background:linear-gradient(90deg,#e70000 3.5px,#f40000 11.5px,#ff2a00 12.5px,#f70 13.5px,#ffa300 14.5px,#ffef00 16.5px,#faff05 17.5px,#cdff32 19.5px,#9aff65 20.5px,#007fff 21.5px,#0019ff 22.5px,#0034ff 27.4px,#0079ff 34.4px,#0af 41.4px,#0ff 59.4px,#81ff7e 99.3px,#feff01 120.2px,#ff7a00 125.2px,#fe0000 132.2px,#e60000 142.2px,#e60000 202px)"></i><i style="background:linear-gradient(90deg,#e70000 3.5px,#f40000 11.5px,#ff0d00 12.5px,#ff5a00 13.5px,#ff9400 14.5px,#ffe300 16.5px,#fffe00 17.5px,#ebff14 18.5px,#d5ff2a 19.5px,#a9ff56 20.5px,#35ffca 21.5px,#01f 22.5px,#0001ff 23.4px,#001aff 27.4px,#06f 34.4px,#009dff 41.4px,#00feff 60.4px,#53ffac 83.3px,#80ff7f 99.3px,#fcff03 120.2px,#ff7a00 126.2px,#fe0000 134.2px,#e60000 145.1px,#e60000 202px)"></i><i style="background:linear-gradient(90deg,#e60000 3.5px,#f30000 11.5px,#fe0000 12.5px,#ff8c00 14.5px,#fffb00 17.5px,#edff12 18.5px,#d7ff28 19.5px,#af5 20.5px,#2fffd0 21.5px,#0013ff 22.5px,#0000f7 23.4px,#0012ff 27.4px,#0061ff 34.4px,#00a0ff 42.4px,#02fffd 61.4px,#52ffad 82.3px,#80ff7f 98.3px,#fffe00 119.2px,#ff7d00 125.2px,#fe0000 134.2px,#e60000 146.1px,#e60000 202px)"></i><i style="background:linear-gradient(90deg,#e60000 3.5px,#f40000 12.5px,#ff2f00 13.5px,#ff7b00 14.5px,#fff500 17.5px,#f2ff0d 18.5px,#b6ff49 20.5px,#5affa5 21.5px,#000dff 22.5px,#0003ff 23.4px,#001cff 27.4px,#0068ff 34.4px,#009eff 41.4px,#0ff 60.4px,#52ffad 82.3px,#7eff81 98.3px,#fcff03 119.2px,#ff7d00 125.2px,#ff0200 133.2px,#e60000 145.1px,#e60000 202px)"></i><i style="background:linear-gradient(90deg,#e70000 3.5px,#f40000 11.5px,#ff2a00 12.5px,#f70 13.5px,#ffa300 14.5px,#fff000 16.5px,#faff05 17.5px,#d5ff2a 19.5px,#aeff51 20.5px,#5affa5 21.5px,#000aff 22.5px,#00f 23.4px,#009eff 41.4px,#0ff 60.4px,#49ffb6 79.3px,#81ff7e 98.3px,#fbff04 118.2px,#fff600 119.2px,#ff7d00 125.2px,#fe0000 135.2px,#e60000 148.1px,#e60000 202px)"></i><i style="background:linear-gradient(90deg,#e80000 3.5px,#f50000 11.5px,#ff8400 13.5px,#fff400 16.5px,#f7ff08 17.5px,#d1ff2e 19.5px,#a5ff5a 20.5px,#3dffc2 21.5px,#000eff 22.5px,#0009ff 23.4px,#0021ff 27.4px,#006bff 34.4px,#00a1ff 41.4px,#00fbff 59.4px,#7fff80 98.3px,#fdff02 119.2px,#ffed00 120.2px,#ff7900 125.2px,#fe0000 133.2px,#e60000 144.1px,#e60000 202px)"></i><i style="background:linear-gradient(90deg,#e80000 3.5px,#f50000 11.5px,#ff3700 12.5px,#ff8200 13.5px,#fff300 16.5px,#f8ff07 17.5px,#d2ff2d 19.5px,#a8ff57 20.5px,#4fb 21.5px,#000dff 22.5px,#002dff 27.4px,#0074ff 34.4px,#00a7ff 41.4px,#00feff 59.4px,#53ffac 82.3px,#7fff80 98.3px,#fdff02 119.2px,#fe0 120.2px,#f80 124.2px,#f00 132.2px,#e60000 143.1px,#e60000 182.1px,#ff8b00 183px,#ff0c00 184px,#e60000 185px,#e60000 202px)"></i><i style="background:linear-gradient(90deg,#e80000 3.5px,#f40000 10.5px,#ff0d00 11.5px,#ff5a00 12.5px,#ff9400 13.5px,#ffe300 15.5px,#fffb00 16.5px,#f1ff0e 17.5px,#c7ff38 19.5px,#9cff63 20.5px,#09fff6 21.5px,#0010ff 22.5px,#03f 23.4px,#0043ff 27.4px,#0083ff 34.4px,#00b2ff 41.4px,#00fdff 58.4px,#7fff80 98.3px,#fcff03 119.2px,#fff100 120.2px,#ff7800 125.2px,#ff0700 132.2px,#fd0000 133.2px,#e60000 143.1px,#e50000 202px)"></i><i style="background:linear-gradient(90deg,#e90000 3.5px,#f40000 10.5px,#ff2f00 11.5px,#ff7c00 12.5px,#fff200 15.5px,#fbff04 16.5px,#daff25 18.5px,#9fff60 20.5px,#40ffbf 21.5px,#000aff 22.5px,#004aff 23.4px,#005dff 28.4px,#0092ff 34.4px,#00bcff 41.4px,#00fdff 57.4px,#82ff7d 98.3px,#fffb00 119.2px,#ff7f00 124.2px,#f00 132.2px,#e50000 143.1px,#e50000 202px)"></i><i style="background:linear-gradient(90deg,#e90000 3.5px,#f40000 10.5px,#ff2100 11.5px,#ff6e00 12.5px,#ff9e00 13.5px,#ffed00 15.5px,#feff01 16.5px,#c7ff38 19.5px,#a3ff5c 20.5px,#4cffb3 21.5px,#0009ff 22.5px,#0054ff 23.4px,#06f 28.4px,#0098ff 34.4px,#00c0ff 41.4px,#00fbff 56.4px,#80ff7f 97.3px,#feff01 118.2px,#ff8000 124.2px,#f00 133.2px,#e60000 145.1px,#e50000 182.1px,#ff2900 183px,#e50000 184px,#e50000 202px)"></i><i style="background:linear-gradient(90deg,#e90000 3.5px,#f80000 10.5px,#ff8900 12.5px,#fff900 15.5px,#f6ff09 16.5px,#d6ff29 18.5px,#b5ff4a 19.5px,#80ff7f 20.5px,#0087ff 21.5px,#0014ff 22.5px,#004fff 23.4px,#0060ff 28.4px,#0093ff 34.4px,#00c2ff 42.4px,#00feff 57.4px,#7fff80 97.3px,#fdff02 118.2px,#fff000 119.2px,#f70 124.2px,#ff0400 131.2px,#fc0000 132.2px,#e50000 142.2px,#e50000 183px,#ff7e00 184px,#e50000 185px,#e50000 202px)"></i><i style="background:linear-gradient(90deg,#e90000 3.5px,#f40000 10.5px,#ff1a00 11.5px,#ff6700 12.5px,#ff9b00 13.5px,#ffea00 15.5px,#fffe00 16.5px,#ef1 17.5px,#caff35 19.5px,#a6ff59 20.5px,#57ffa8 21.5px,#0007ff 22.5px,#002fff 23.4px,#004aff 28.4px,#0083ff 34.4px,#00b7ff 42.4px,#00feff 58.4px,#81ff7e 98.3px,#faff05 118.2px,#fffa00 119.2px,#ff7400 125.2px,#fe0000 133.2px,#e60000 144.1px,#e50000 183px,#ffd000 184px,#e50000 185px,#e50000 202px)"></i><i style="background:linear-gradient(90deg,#e90000 3.5px,#f40000 10.5px,#ff1f00 11.5px,#ff6b00 12.5px,#ff9d00 13.5px,#ffec00 15.5px,#ff0 16.5px,#c8ff37 19.5px,#a4ff5b 20.5px,#51ffae 21.5px,#0008ff 22.5px,#0029ff 27.4px,#0071ff 34.4px,#00a5ff 41.4px,#00fdff 59.4px,#80ff7f 98.3px,#fffe00 119.2px,#ff7900 124.2px,#fe0000 131.2px,#e60000 141.2px,#e60000 182.1px,#ff4900 183px,#e60000 184px,#e60000 202px)"></i><i style="background:linear-gradient(90deg,#eb0000 3.5px,#f40000 9.5px,#ff2e00 10.5px,#ff7a00 11.5px,#ffa500 12.5px,#fff300 14.5px,#f6ff09 15.5px,#cbff34 18.5px,#92ff6d 20.5px,#35ffca 21.5px,#0008ff 22.5px,#0000f7 23.4px,#0015ff 27.4px,#0063ff 34.4px,#009bff 41.4px,#00fdff 60.4px,#54ffab 83.3px,#7eff81 98.3px,#faff05 119.2px,#fff700 120.2px,#ff7d00 125.2px,#fe0000 133.2px,#e60000 144.1px,#e60000 182.1px,#ffa400 183px,#e60000 184px,#e60000 202px)"></i><i style="background:linear-gradient(90deg,#e90000 3.5px,#f40000 10.5px,#ff3200 11.5px,#ff7e00 12.5px,#fff300 15.5px,#faff05 16.5px,#d9ff26 18.5px,#98ff67 20.5px,#0bfff4 21.5px,#000eff 22.5px,#0000fa 23.4px,#0016ff 27.4px,#0063ff 34.4px,#009bff 41.4px,#00fdff 60.4px,#54ffab 83.3px,#7dff82 98.3px,#fffd00 120.2px,#ff7e00 125.2px,#fe0000 133.2px,#e60000 143.1px,#e60000 183px,#ffdf00 184px,#e60000 185px,#e60000 202px)"></i><i style="background:linear-gradient(90deg,#e90000 3.5px,#f40000 10.5px,#ff1f00 11.5px,#ff6c00 12.5px,#ff9d00 13.5px,#ffed00 15.5px,#ff0 16.5px,#dbff24 18.5px,#bf4 19.5px,#80ff7f 20.5px,#0041ff 21.5px,#0000fd 23.4px,#0017ff 27.4px,#0064ff 34.4px,#009cff 41.4px,#00fdff 60.4px,#53ffac 83.3px,#7fff80 99.3px,#fbff04 120.2px,#fff000 121.2px,#ff7400 125.2px,#ff0a00 130.2px,#fd0000 131.2px,#e60000 139.2px,#e60000 183px,#ffe900 184px,#e60000 185px,#e60000 202px)"></i><i style="background:linear-gradient(90deg,#e80000 3.5px,#f50000 11.5px,#ff3500 12.5px,#ff8100 13.5px,#fff200 16.5px,#f8ff07 17.5px,#d0ff2f 19.5px,#a2ff5d 20.5px,#1fffe0 21.5px,#01f 22.5px,#0006ff 23.4px,#001eff 27.4px,#0069ff 34.4px,#009fff 41.4px,#0ff 60.4px,#52ffad 82.3px,#7fff80 98.3px,#feff01 119.2px,#ff8700 123.2px,#fe0000 130.2px,#e60000 139.2px,#e60000 182.1px,#ff7200 183px,#ffdf00 184px,#e60000 185px,#e60000 202px)"></i><i style="background:linear-gradient(90deg,#e90000 3.5px,#f40000 10.5px,#ff1a00 11.5px,#f60 12.5px,#ff9a00 13.5px,#ffea00 15.5px,#fffe00 16.5px,#ef1 17.5px,#bdff42 19.5px,#8f7 20.5px,#005dff 21.5px,#0018ff 22.5px,#0014ff 23.4px,#0029ff 27.4px,#0071ff 34.4px,#00a5ff 41.4px,#00fdff 59.4px,#7eff81 98.3px,#fff700 120.2px,#f70 125.2px,#fe0000 132.2px,#e60000 142.2px,#e60000 183px,#ff8600 184px,#e60000 185px,#e60000 202px)"></i><i style="background:linear-gradient(90deg,#e80000 3.5px,#f30000 10.5px,#ff0300 11.5px,#ff8e00 13.5px,#ffde00 15.5px,#fff800 16.5px,#f3ff0c 17.5px,#c5ff3a 19.5px,#97ff68 20.5px,#00a0ff 21.5px,#0016ff 22.5px,#0030ff 23.4px,#0040ff 27.4px,#0081ff 34.4px,#00b0ff 41.4px,#00fdff 58.4px,#82ff7d 98.3px,#fbff04 118.2px,#fff200 119.2px,#ff7800 123.2px,#fe0000 129.2px,#e50000 138.2px,#e50000 202px)"></i><i style="background:linear-gradient(90deg,#e70000 3.5px,#f40000 11.5px,#ff1d00 12.5px,#ff6900 13.5px,#ff9c00 14.5px,#ffea00 16.5px,#fdff02 17.5px,#caff35 19.5px,#87ff78 20.5px,#0008ff 21.5px,#0030ff 22.5px,#004dff 28.4px,#0086ff 34.4px,#00b9ff 42.4px,#0ff 58.4px,#82ff7d 98.3px,#fbff04 118.2px,#fff100 119.2px,#f70 123.2px,#fe0000 129.2px,#e60000 137.2px,#e50000 182.1px,#ff1f00 183px,#e50000 184px,#e50000 202px)"></i><i style="background:linear-gradient(90deg,#e70000 3.5px,#f40000 11.5px,#ff1d00 12.5px,#ff6a00 13.5px,#ff9c00 14.5px,#ffea00 16.5px,#fdff02 17.5px,#d3ff2c 19.5px,#a3ff5c 20.5px,#00fcff 21.5px,#0014ff 22.5px,#002bff 23.4px,#003cff 27.4px,#007fff 34.4px,#00aeff 41.4px,#00fdff 58.4px,#81ff7e 97.3px,#fcff03 117.2px,#fff300 118.2px,#f70 124.2px,#fd0000 133.2px,#e60000 145.1px,#e50000 202px)"></i><i style="background:linear-gradient(90deg,#e70000 3.5px,#f40000 11.5px,#ff2800 12.5px,#ff7400 13.5px,#ffa200 14.5px,#fe0 16.5px,#fbff04 17.5px,#d2ff2d 19.5px,#a4ff5b 20.5px,#1dffe2 21.5px,#0012ff 22.5px,#0028ff 27.4px,#0071ff 34.4px,#00a4ff 41.4px,#00feff 59.4px,#5fa 82.3px,#7fff80 97.3px,#fffa00 118.2px,#ff7600 123.2px,#fd0000 130.2px,#e60000 140.2px,#e60000 202px)"></i><i style="background:linear-gradient(90deg,#e90000 3.5px,#f40000 10.5px,#ff1c00 11.5px,#ff6900 12.5px,#ffeb00 15.5px,#ff0 16.5px,#ef1 17.5px,#c8ff37 19.5px,#a3ff5c 20.5px,#48ffb7 21.5px,#000aff 22.5px,#0003ff 23.4px,#001eff 27.4px,#0069ff 34.4px,#009fff 41.4px,#01fffe 60.4px,#53ffac 81.3px,#7eff81 96.3px,#faff05 116.2px,#fff700 117.2px,#ff8600 122.2px,#f00 131.2px,#e60000 143.1px,#e60000 183px,#ff4b00 184px,#e60000 185px,#e60000 202px)"></i><i style="background:linear-gradient(90deg,#e70000 3.5px,#f40000 11.5px,#ff0e00 12.5px,#ff5b00 13.5px,#ff9400 14.5px,#ffe300 16.5px,#fffe00 17.5px,#ebff14 18.5px,#d7ff28 19.5px,#b1ff4e 20.5px,#5bffa4 21.5px,#000bff 22.5px,#0000f9 23.4px,#0016ff 27.4px,#0063ff 34.4px,#00a2ff 42.4px,#04fffb 61.4px,#52ffad 81.3px,#7dff82 96.3px,#fffb00 117.2px,#ff8500 122.2px,#fe0000 131.2px,#e60000 142.2px,#e60000 202px)"></i><i style="background:linear-gradient(90deg,#e80000 3.5px,#f50000 11.5px,#ff8700 13.5px,#fff500 16.5px,#f6ff09 17.5px,#cfff30 19.5px,#a3ff5c 20.5px,#34ffcb 21.5px,#000fff 22.5px,#0000fb 23.4px,#0016ff 27.4px,#0064ff 34.4px,#009bff 41.4px,#00feff 60.4px,#81ff7e 98.3px,#fbff04 118.2px,#fff400 119.2px,#ff8600 123.2px,#ff0600 130.2px,#fd0000 131.2px,#e60000 140.2px,#e60000 202px)"></i><i style="background:linear-gradient(90deg,#e80000 3.5px,#fa0000 11.5px,#ff8a00 13.5px,#ffda00 15.5px,#fff700 16.5px,#f5ff0a 17.5px,#d3ff2c 19.5px,#b0ff4f 20.5px,#73ff8c 21.5px,#0016ff 22.5px,#0000e6 23.4px,#0000fb 25.4px,#000aff 27.4px,#005bff 34.4px,#009cff 42.4px,#00fcff 60.4px,#7fff80 97.3px,#fbff04 117.2px,#fff400 118.2px,#ff8100 123.2px,#fe0000 132.2px,#e60000 143.1px,#e60000 183px,#ff1e00 184px,#e60000 185px,#e60000 202px)"></i><i style="background:linear-gradient(90deg,#e70000 3.5px,#f40000 11.5px,#ff2c00 12.5px,#ff7800 13.5px,#ffa400 14.5px,#fff000 16.5px,#faff05 17.5px,#d0ff2f 19.5px,#a0ff5f 20.5px,#00e1ff 21.5px,#0014ff 22.5px,#0000e6 23.4px,#0005ff 27.4px,#0058ff 34.4px,#009aff 42.4px,#00fbff 60.4px,#7fff80 97.3px,#faff05 117.2px,#fff600 118.2px,#ff7c00 123.2px,#fe0000 131.2px,#e60000 142.2px,#e60000 202px)"></i><i style="background:linear-gradient(90deg,#e70000 3.5px,#f40000 11.5px,#ff0f00 12.5px,#ff5c00 13.5px,#ff9500 14.5px,#ffe400 16.5px,#fffe00 17.5px,#edff12 18.5px,#c3ff3c 20.5px,#9bff64 21.5px,#00a7ff 22.5px,#0000d3 23.4px,#0000e4 24.4px,#0008ff 28.4px,#0053ff 34.4px,#008fff 41.4px,#0ff 61.4px,#51ffae 81.3px,#7dff82 96.3px,#fbff04 116.2px,#fff300 117.2px,#ff7f00 122.2px,#ff0400 130.2px,#fd0000 131.2px,#e60000 142.2px,#e60000 202px)"></i><i style="background:linear-gradient(90deg,#e70000 3.5px,#f40000 11.5px,#ff3200 12.5px,#ff7e00 13.5px,#fff100 16.5px,#f9ff06 17.5px,#d5ff2a 19.5px,#b3ff4c 20.5px,#74ff8b 21.5px,#0006ff 22.5px,#0000dc 23.4px,#0001ff 27.4px,#05f 34.4px,#0091ff 41.4px,#0ff 61.4px,#53ffac 82.3px,#7eff81 97.3px,#faff05 117.2px,#fff400 118.2px,#ff8100 122.2px,#f00 129.2px,#e60000 138.2px,#e60000 202px)"></i><i style="background:linear-gradient(90deg,#e80000 3.5px,#f50000 11.5px,#ff3900 12.5px,#ff8300 13.5px,#fff300 16.5px,#f7ff08 17.5px,#ceff31 19.5px,#9fff60 20.5px,#00f8ff 21.5px,#0013ff 22.5px,#0000f2 23.4px,#000eff 27.4px,#005eff 34.4px,#009fff 42.4px,#00fdff 60.4px,#52ffad 81.3px,#7eff81 96.3px,#fbff04 116.2px,#fff600 117.2px,#f70 123.2px,#ff0400 131.2px,#fd0000 132.2px,#e60000 144.1px,#e60000 202px)"></i><i style="background:linear-gradient(90deg,#e70000 3.5px,#f40000 11.5px,#ff1e00 12.5px,#ff6b00 13.5px,#ff9d00 14.5px,#ffea00 16.5px,#fdff02 17.5px,#cdff32 19.5px,#97ff68 20.5px,#0037ff 21.5px,#01f 23.4px,#0026ff 27.4px,#006fff 34.4px,#00a3ff 41.4px,#00feff 59.4px,#54ffab 81.3px,#80ff7f 96.3px,#feff01 116.2px,#ff8000 121.2px,#ff0800 128.2px,#fd0000 129.2px,#e60000 139.2px,#e60000 202px)"></i><i style="background:linear-gradient(90deg,#e60000 3.5px,#f50000 12.5px,#ff8400 14.5px,#fff800 17.5px,#efff10 18.5px,#d7ff28 19.5px,#a6ff59 20.5px,#00d8ff 21.5px,#0017ff 22.5px,#00acff 41.4px,#00fdff 58.4px,#7fff80 96.3px,#fcff03 116.2px,#fff300 117.2px,#ff7d00 122.2px,#ff0100 130.2px,#e60000 142.2px,#e60000 202px)"></i><i style="background:linear-gradient(90deg,#e80000 3.5px,#f30000 10.5px,#ff0300 11.5px,#ff8e00 13.5px,#ffde00 15.5px,#fff900 16.5px,#f3ff0c 17.5px,#c7ff38 19.5px,#9bff64 20.5px,#00d6ff 21.5px,#0013ff 22.5px,#0039ff 23.4px,#004eff 28.4px,#0086ff 34.4px,#00b9ff 42.4px,#00fbff 57.4px,#82ff7d 96.3px,#fffc00 116.2px,#ff8000 121.2px,#f00 129.2px,#e50000 140.2px,#e50000 202px)"></i><i style="background:linear-gradient(90deg,#e70000 3.5px,#f40000 11.5px,#ff2e00 12.5px,#ff7a00 13.5px,#fff000 16.5px,#faff05 17.5px,#d1ff2e 19.5px,#a2ff5d 20.5px,#0bfff4 21.5px,#0012ff 22.5px,#0052ff 23.4px,#0062ff 28.4px,#0095ff 34.4px,#00beff 41.4px,#00fbff 56.4px,#82ff7d 96.3px,#ff0 116.2px,#ff7e00 121.2px,#ff0600 128.2px,#fc0000 129.2px,#e50000 139.2px,#e50000 202px)"></i><i style="background:linear-gradient(90deg,#e60000 3.5px,#f40000 12.5px,#ff2700 13.5px,#ff7400 14.5px,#fc0 16.5px,#fff400 17.5px,#f3ff0c 18.5px,#b7ff48 20.5px,#59ffa6 21.5px,#000eff 22.5px,#0065ff 23.4px,#0071ff 28.4px,#00a1ff 34.4px,#00cbff 42.4px,#00faff 55.4px,#80ff7f 94.3px,#feff01 114.2px,#ff7d00 120.2px,#fd0000 129.2px,#e50000 141.2px,#e50000 202px)"></i><i style="background:linear-gradient(90deg,#e70000 3.5px,#f40000 11.5px,#ff1600 12.5px,#ff6300 13.5px,#ff9800 14.5px,#ffe700 16.5px,#feff01 17.5px,#d7ff28 19.5px,#b1ff4e 20.5px,#60ff9f 21.5px,#000aff 22.5px,#0065ff 23.4px,#0073ff 28.4px,#00a2ff 34.4px,#0cf 42.4px,#00fbff 55.4px,#84ff7b 95.3px,#feff01 114.2px,#ff7b00 120.2px,#ff0200 128.2px,#e50000 140.2px,#e50000 202px)"></i><i style="background:linear-gradient(90deg,#e80000 3.5px,#f40000 10.5px,#ff0a00 11.5px,#ff5700 12.5px,#ff9200 13.5px,#ffe200 15.5px,#fffa00 16.5px,#f2ff0d 17.5px,#c7ff38 19.5px,#9dff62 20.5px,#07fff8 21.5px,#01f 22.5px,#004dff 23.4px,#005eff 28.4px,#0092ff 34.4px,#00bcff 41.4px,#00faff 56.4px,#83ff7c 95.3px,#fdff02 114.2px,#ffec00 115.2px,#ff8000 119.2px,#ff0500 126.2px,#fc0000 127.2px,#e50000 137.2px,#e50000 202px)"></i><i style="background:linear-gradient(90deg,#e60000 3.5px,#f50000 12.5px,#ff3800 13.5px,#ff8200 14.5px,#fff700 17.5px,#f1ff0e 18.5px,#dbff24 19.5px,#b4ff4b 20.5px,#53ffac 21.5px,#000eff 22.5px,#002eff 23.4px,#0047ff 28.4px,#0081ff 34.4px,#00b6ff 42.4px,#00faff 57.4px,#81ff7e 95.3px,#fff700 115.2px,#ff7d00 120.2px,#fe0000 128.2px,#e50000 139.2px,#e50000 202px)"></i><i style="background:linear-gradient(90deg,#e70000 3.5px,#f40000 11.5px,#ff1f00 12.5px,#ff6b00 13.5px,#ff9d00 14.5px,#ffea00 16.5px,#fdff02 17.5px,#d4ff2b 19.5px,#a8ff57 20.5px,#37ffc8 21.5px,#0010ff 22.5px,#002eff 27.4px,#0075ff 34.4px,#00a7ff 41.4px,#00fcff 58.4px,#81ff7e 95.3px,#fcff03 114.2px,#fff100 115.2px,#f70 120.2px,#ff0500 127.2px,#fd0000 128.2px,#e60000 138.2px,#e60000 202px)"></i><i style="background:linear-gradient(90deg,#e70000 3.5px,#f40000 11.5px,#ff3400 12.5px,#ff8000 13.5px,#fff200 16.5px,#f8ff07 17.5px,#d1ff2e 19.5px,#a5ff5a 20.5px,#34ffcb 21.5px,#000fff 22.5px,#0021ff 23.4px,#0034ff 27.4px,#0079ff 34.4px,#0af 41.4px,#00fdff 58.4px,#80ff7f 95.3px,#faff05 114.2px,#fff600 115.2px,#ff7d00 119.2px,#ff0400 125.2px,#fc0000 126.2px,#e60000 134.2px,#e60000 202px)"></i><i style="background:linear-gradient(90deg,#e60000 3.5px,#fb0000 12.5px,#ff8b00 14.5px,#fffa00 17.5px,#ef1 18.5px,#d8ff27 19.5px,#b0ff4f 20.5px,#4affb5 21.5px,#000eff 22.5px,#03f 23.4px,#004aff 28.4px,#0084ff 34.4px,#00b7ff 42.4px,#00fbff 57.4px,#81ff7e 95.3px,#fbff04 114.2px,#fff300 115.2px,#ff7f00 120.2px,#ff0500 128.2px,#fd0000 129.2px,#e50000 140.2px,#e50000 202px)"></i><i style="background:linear-gradient(90deg,#e70000 3.5px,#f40000 11.5px,#ff1600 12.5px,#ff6300 13.5px,#ff9800 14.5px,#ffe700 16.5px,#feff01 17.5px,#d1ff2e 19.5px,#9aff65 20.5px,#005eff 21.5px,#001bff 22.5px,#0047ff 23.4px,#0059ff 28.4px,#008eff 34.4px,#00bfff 42.4px,#00feff 57.4px,#80ff7f 95.3px,#ff0 115.2px,#ff7d00 120.2px,#ff0500 127.2px,#fc0000 128.2px,#e50000 138.2px,#e50000 202px)"></i><i style="background:linear-gradient(90deg,#e70000 3.5px,#f40000 11.5px,#ff1d00 12.5px,#ff6900 13.5px,#ff9c00 14.5px,#ffe900 16.5px,#fdff02 17.5px,#d3ff2c 19.5px,#a5ff5a 20.5px,#18ffe7 21.5px,#0012ff 22.5px,#0047ff 23.4px,#005aff 28.4px,#008fff 34.4px,#00baff 41.4px,#00faff 56.4px,#80ff7f 94.3px,#fffa00 114.2px,#f70 120.2px,#ff0200 128.2px,#e60000 140.2px,#e50000 202px)"></i><i style="background:linear-gradient(90deg,#e70000 3.5px,#f40000 11.5px,#ff2600 12.5px,#ff7300 13.5px,#ffa100 14.5px,#fe0 16.5px,#fbff04 17.5px,#d4ff2b 19.5px,#acff53 20.5px,#50ffaf 21.5px,#000bff 22.5px,#0039ff 23.4px,#004fff 28.4px,#0087ff 34.4px,#00baff 42.4px,#00fdff 57.4px,#80ff7f 94.3px,#fcff03 113.2px,#fff200 114.2px,#ff7c00 119.2px,#f00 127.2px,#e60000 138.2px,#e50000 202px)"></i><i style="background:linear-gradient(90deg,#e60000 3.5px,#fc0000 12.5px,#ff8b00 14.5px,#fffb00 17.5px,#edff12 18.5px,#d5ff2a 19.5px,#a5ff5a 20.5px,#00deff 21.5px,#0017ff 22.5px,#002cff 23.4px,#003dff 27.4px,#007fff 34.4px,#00afff 41.4px,#00faff 57.4px,#80ff7f 94.3px,#fcff03 113.2px,#fff100 114.2px,#f70 119.2px,#ff0200 126.2px,#e50000 137.2px,#e50000 202px)"></i><i style="background:linear-gradient(90deg,#e60000 3.5px,#fc0000 12.5px,#ff8b00 14.5px,#fffb00 17.5px,#edff12 18.5px,#d5ff2a 19.5px,#a5ff5a 20.5px,#00deff 21.5px,#0017ff 22.5px,#002cff 23.4px,#003dff 27.4px,#007fff 34.4px,#00afff 41.4px,#00faff 57.4px,#80ff7f 94.3px,#fcff03 113.2px,#fff100 114.2px,#f70 119.2px,#ff0200 126.2px,#e50000 137.2px,#e50000 202px)"></i><i style="background:linear-gradient(90deg,#e60000 3.5px,#fc0000 12.5px,#ff8b00 14.5px,#fffb00 17.5px,#edff12 18.5px,#d5ff2a 19.5px,#a5ff5a 20.5px,#00deff 21.5px,#0017ff 22.5px,#002cff 23.4px,#003dff 27.4px,#007fff 34.4px,#00afff 41.4px,#00faff 57.4px,#80ff7f 94.3px,#fcff03 113.2px,#fff100 114.2px,#f70 119.2px,#ff0200 126.2px,#e50000 137.2px,#e50000 202px)"></i><i style="background:linear-gradient(90deg,#e60000 3.5px,#fc0000 12.5px,#ff8b00 14.5px,#fffb00 17.5px,#edff12 18.5px,#d5ff2a 19.5px,#a5ff5a 20.5px,#00deff 21.5px,#0017ff 22.5px,#002cff 23.4px,#003dff 27.4px,#007fff 34.4px,#00afff 41.4px,#00faff 57.4px,#80ff7f 94.3px,#fcff03 113.2px,#fff100 114.2px,#f70 119.2px,#ff0200 126.2px,#e50000 137.2px,#e50000 202px)"></i></div><b class="f" style="left:119.7px;top:29.0px;width:59.8px"></b><b class="f" style="left:119.7px;top:88.0px;width:59.8px"></b><b class="v" style="left:178.9px"></b></div>
<span class="t xt" style="left:31.0px;top:131.0px">0</span><span class="t xt" style="left:70.9px;top:131.0px">20</span><span class="t xt" style="left:110.8px;top:131.0px">40</span><span class="t xt" style="left:150.7px;top:131.0px">60</span><span class="t xt" style="left:190.6px;top:131.0px">80</span><span class="t xt" style="left:230.5px;top:131.0px">100</span><span class="t yt" style="left:7.5px;top:121.8px">0</span><span class="t yt" style="left:7.5px;top:82.5px">20</span><span class="t yt" style="left:7.5px;top:43.1px">40</span><span class="t yt" style="left:7.5px;top:3.8px">60</span><span class="xl" style="left:130.8px;top:144.5px">x(m)</span><span class="yl" style="left:7.0px;top:66.5px">y(m)</span><span class="lg" style="left:88.9px;top:107.0px">Length=30 m</span>
<div class="p" style="left:288.5px;top:7.5px;width:199px;height:118px"><div class="h"><i style="background:linear-gradient(90deg,#e60000 3.5px,#f40000 13.4px,#ff1a00 14.4px,#ff6800 15.4px,#ffd600 17.4px,#fffe00 18.4px,#e1ff1e 19.4px,#b1ff4e 20.4px,#00aeff 21.4px,#0000fc 22.4px,#0021ff 27.4px,#006bff 34.3px,#00a1ff 41.3px,#02fffd 60.2px,#53ffac 81.1px,#7eff81 96px,#fffb00 116.9px,#ff8500 121.9px,#fd0000 130.9px,#e60000 141.8px,#e60000 201.5px)"></i><i style="background:linear-gradient(90deg,#e60000 3.5px,#f40000 13.4px,#ff1a00 14.4px,#ff6800 15.4px,#ffd600 17.4px,#fffe00 18.4px,#e1ff1e 19.4px,#b1ff4e 20.4px,#00aeff 21.4px,#0000fc 22.4px,#0021ff 27.4px,#006bff 34.3px,#00a1ff 41.3px,#02fffd 60.2px,#53ffac 81.1px,#7eff81 96px,#fffb00 116.9px,#ff8500 121.9px,#fd0000 130.9px,#e60000 141.8px,#e60000 201.5px)"></i><i style="background:linear-gradient(90deg,#e60000 3.5px,#f40000 13.4px,#ff1a00 14.4px,#ff6800 15.4px,#ffd600 17.4px,#fffe00 18.4px,#e1ff1e 19.4px,#b1ff4e 20.4px,#00aeff 21.4px,#0000fc 22.4px,#0021ff 27.4px,#006bff 34.3px,#00a1ff 41.3px,#02fffd 60.2px,#53ffac 81.1px,#7eff81 96px,#fffb00 116.9px,#ff8500 121.9px,#fd0000 130.9px,#e60000 141.8px,#e60000 201.5px)"></i><i style="background:linear-gradient(90deg,#e60000 3.5px,#f40000 13.4px,#ff1a00 14.4px,#ff6800 15.4px,#ffd600 17.4px,#fffe00 18.4px,#e1ff1e 19.4px,#b1ff4e 20.4px,#00aeff 21.4px,#0000fc 22.4px,#0021ff 27.4px,#006bff 34.3px,#00a1ff 41.3px,#02fffd 60.2px,#53ffac 81.1px,#7eff81 96px,#fffb00 116.9px,#ff8500 121.9px,#fd0000 130.9px,#e60000 141.8px,#e60000 201.5px)"></i><i style="background:linear-gradient(90deg,#e60000 3.5px,#f40000 13.4px,#ff2c00 14.4px,#ff7a00 15.4px,#fd0 17.4px,#fcff03 18.4px,#df2 19.4px,#a5ff5a 20.4px,#000eff 21.4px,#0027ff 22.4px,#003cff 27.4px,#007fff 34.3px,#00aeff 41.3px,#00feff 58.2px,#7fff80 96px,#fbff04 115.9px,#fff600 116.9px,#ff7b00 121.9px,#fd0000 129.9px,#e60000 139.8px,#e60000 201.5px)"></i><i style="background:linear-gradient(90deg,#e60000 3.5px,#f50000 13.4px,#ff3600 14.4px,#ff8200 15.4px,#ffe000 17.4px,#fcff03 18.4px,#e0ff1f 19.4px,#b1ff4e 20.4px,#00e9ff 21.4px,#001aff 22.4px,#003cff 23.4px,#0049ff 27.4px,#08f 34.3px,#00b5ff 41.3px,#00fbff 57.2px,#7fff80 96px,#fff900 116.9px,#ff7b00 121.9px,#ff0600 128.9px,#fd0000 129.9px,#e60000 139.8px,#e60000 201.5px)"></i><i style="background:linear-gradient(90deg,#e60000 3.5px,#f40000 12.5px,#f10 13.4px,#ff5d00 14.4px,#ff9600 15.4px,#ffef00 17.4px,#f6ff09 18.4px,#dcff23 19.4px,#aeff51 20.4px,#01fffe 21.4px,#0018ff 22.4px,#03f 23.4px,#0042ff 27.4px,#0083ff 34.3px,#00b1ff 41.3px,#0ff 58.2px,#7fff80 96px,#fffd00 116.9px,#ff8400 121.9px,#ff0400 129.9px,#fc0000 130.9px,#e60000 141.8px,#e60000 201.5px)"></i><i style="background:linear-gradient(90deg,#e60000 3.5px,#f50000 12.5px,#ff3600 13.4px,#ff8100 14.4px,#fff700 17.4px,#f2ff0d 18.4px,#beff41 20.4px,#81ff7e 21.4px,#0006ff 22.4px,#02f 23.4px,#0040ff 28.4px,#007cff 34.3px,#00adff 41.3px,#00fdff 58.2px,#7fff80 96px,#faff05 115.9px,#fff500 116.9px,#ff7200 121.9px,#ff0600 127.9px,#fc0000 128.9px,#e60000 137.8px,#e60000 201.5px)"></i><i style="background:linear-gradient(90deg,#e60000 3.5px,#f40000 12.5px,#ff1e00 13.4px,#ff6a00 14.4px,#ffc800 16.4px,#fff200 17.4px,#f5ff0a 18.4px,#b6ff49 20.4px,#50ffaf 21.4px,#000fff 22.4px,#002bff 23.4px,#003cff 27.4px,#007fff 34.3px,#00aeff 41.3px,#00fdff 58.2px,#82ff7d 97px,#ff0 116.9px,#f70 121.9px,#ff0800 127.9px,#fd0000 128.9px,#e60000 137.8px,#e60000 201.5px)"></i><i style="background:linear-gradient(90deg,#e60000 3.5px,#f40000 12.5px,#ff2300 13.4px,#ff6f00 14.4px,#ffca00 16.4px,#fff300 17.4px,#f5ff0a 18.4px,#c0ff3f 20.4px,#80ff7f 21.4px,#0007ff 22.4px,#002cff 23.4px,#0048ff 28.4px,#0082ff 34.3px,#00b6ff 42.3px,#00feff 58.2px,#83ff7c 97px,#ff0 116.9px,#ff7f00 121.9px,#fd0000 129.9px,#e60000 139.8px,#e60000 201.5px)"></i><i style="background:linear-gradient(90deg,#e60000 3.5px,#f40000 12.5px,#ff2c00 13.4px,#ff7900 14.4px,#ffa400 15.4px,#fff500 17.4px,#f3ff0c 18.4px,#bf4 20.4px,#6cff93 21.4px,#000aff 22.4px,#0027ff 23.4px,#003bff 27.4px,#007eff 34.3px,#00aeff 41.3px,#00feff 58.2px,#80ff7f 96px,#fdff02 115.9px,#ffeb00 116.9px,#ff7e00 120.9px,#ff0100 127.9px,#e60000 137.8px,#e60000 201.5px)"></i><i style="background:linear-gradient(90deg,#e60000 3.5px,#f40000 12.5px,#ff3000 13.4px,#ff7d00 14.4px,#fff500 17.4px,#f2ff0d 18.4px,#daff25 19.4px,#b1ff4e 20.4px,#42ffbd 21.4px,#01f 22.4px,#0af 41.3px,#00fcff 58.2px,#80ff7f 96px,#feff01 115.9px,#ff8200 120.9px,#fe0000 128.9px,#e60000 139.8px,#e60000 201.5px)"></i><i style="background:linear-gradient(90deg,#e60000 3.5px,#f40000 12.5px,#ff1400 13.4px,#ff6100 14.4px,#ff9800 15.4px,#fff000 17.4px,#f6ff09 18.4px,#df2 19.4px,#b2ff4d 20.4px,#37ffc8 21.4px,#0014ff 22.4px,#0031ff 27.4px,#07f 34.3px,#00a9ff 41.3px,#00fbff 58.2px,#7fff80 96px,#fbff04 115.9px,#fff300 116.9px,#ff7f00 120.9px,#fe0000 127.9px,#e60000 136.8px,#e60000 201.5px)"></i><i style="background:linear-gradient(90deg,#e70000 3.5px,#f40000 11.5px,#ff1200 12.5px,#ff5f00 13.4px,#ff9700 14.4px,#ffe500 16.4px,#ff0 17.4px,#eaff15 18.4px,#d4ff2b 19.4px,#a4ff5b 20.4px,#00faff 21.4px,#0014ff 22.4px,#00abff 41.3px,#00fcff 58.2px,#82ff7d 97px,#feff01 116.9px,#ff8500 121.9px,#ff0100 129.9px,#e60000 140.8px,#e60000 201.5px)"></i><i style="background:linear-gradient(90deg,#e70000 3.5px,#f40000 11.5px,#ff2c00 12.5px,#ff7800 13.4px,#ffa400 14.4px,#fff000 16.4px,#faff05 17.4px,#d0ff2f 19.4px,#a0ff5f 20.4px,#00e2ff 21.4px,#0014ff 22.4px,#002fff 27.4px,#0075ff 34.3px,#00a8ff 41.3px,#00fcff 58.2px,#7eff81 95px,#fdff02 114.9px,#fe0 115.9px,#ff8200 120.9px,#ff0200 129.9px,#e60000 142.8px,#e60000 201.5px)"></i><i style="background:linear-gradient(90deg,#e60000 3.5px,#fa0000 12.5px,#ff8a00 14.4px,#fffa00 17.4px,#efff10 18.4px,#daff25 19.4px,#b4ff4b 20.4px,#5effa1 21.4px,#000bff 22.4px,#000aff 23.4px,#0023ff 27.4px,#006dff 34.3px,#00a2ff 41.3px,#00fdff 59.2px,#81ff7e 96px,#fffc00 115.9px,#ff7600 121.9px,#fe0000 129.9px,#e60000 141.8px,#e60000 201.5px)"></i><i style="background:linear-gradient(90deg,#e70000 3.5px,#f40000 11.5px,#ff2500 12.5px,#ff7100 13.4px,#ffa000 14.4px,#ffed00 16.4px,#fcff03 17.4px,#d6ff29 19.4px,#b3ff4c 20.4px,#6eff91 21.4px,#0007ff 22.4px,#0000f9 23.4px,#0018ff 27.4px,#0065ff 34.3px,#009cff 41.3px,#00fbff 59.2px,#7dff82 95px,#fcff03 114.9px,#fff200 115.9px,#ff8200 120.9px,#f00 129.9px,#e60000 141.8px,#e60000 201.5px)"></i><i style="background:linear-gradient(90deg,#e80000 3.5px,#f50000 11.5px,#ff8600 13.4px,#fff400 16.4px,#f6ff09 17.4px,#d2ff2d 19.4px,#af5 20.4px,#53ffac 21.4px,#000aff 22.4px,#0001ff 23.4px,#001cff 27.4px,#0068ff 34.3px,#009eff 41.3px,#00fcff 59.2px,#7eff81 95px,#fdff02 114.9px,#fe0 115.9px,#ff7d00 120.9px,#ff0500 128.9px,#fd0000 129.9px,#e60000 140.8px,#e60000 201.5px)"></i><i style="background:linear-gradient(90deg,#e60000 3.5px,#f40000 12.5px,#ff0800 13.4px,#ff9200 15.4px,#ffec00 17.4px,#f9ff06 18.4px,#c7ff38 20.4px,#91ff6e 21.4px,#0006ff 22.4px,#00a5ff 41.3px,#0ff 59.2px,#52ffad 80.1px,#7eff81 95px,#fdff02 114.9px,#ffec00 115.9px,#ff7900 120.9px,#f00 128.9px,#e60000 139.8px,#e60000 201.5px)"></i><i style="background:linear-gradient(90deg,#e60000 3.5px,#f40000 12.5px,#ff2f00 13.4px,#ff7b00 14.4px,#fff500 17.4px,#f3ff0c 18.4px,#bcff43 20.4px,#76ff89 21.4px,#0008ff 22.4px,#00a6ff 41.3px,#00fbff 58.2px,#7fff80 96px,#fdff02 115.9px,#fff100 116.9px,#ff7800 122.9px,#f00 131.9px,#e60000 144.8px,#e60000 201.5px)"></i><i style="background:linear-gradient(90deg,#e60000 3.5px,#f90000 12.5px,#ff8a00 14.4px,#fffa00 17.4px,#efff10 18.4px,#b7ff48 20.4px,#6aff95 21.4px,#0009ff 22.4px,#00a7ff 41.3px,#00fbff 58.2px,#80ff7f 96px,#feff01 115.9px,#ff7c00 121.9px,#fe0000 130.9px,#e60000 142.8px,#e60000 201.5px)"></i><i style="background:linear-gradient(90deg,#e60000 3.5px,#f50000 12.5px,#ff8400 14.4px,#fff800 17.4px,#f0ff0f 18.4px,#b6ff49 20.4px,#5fffa0 21.4px,#000cff 22.4px,#00a8ff 41.3px,#00fcff 58.2px,#7eff81 95px,#fbff04 114.9px,#fff600 115.9px,#ff8500 120.9px,#f00 129.9px,#e60000 141.8px,#e60000 201.5px)"></i><i style="background:linear-gradient(90deg,#e60000 3.5px,#f50000 13.4px,#ff8700 15.4px,#ffe400 17.4px,#fbff04 18.4px,#b9ff46 20.4px,#43ffbc 21.4px,#0013ff 22.4px,#002cff 23.4px,#003dff 27.4px,#007fff 34.3px,#00afff 41.3px,#0ff 58.2px,#54ffab 80.1px,#7fff80 95px,#feff01 114.9px,#ff8500 120.9px,#fe0000 130.9px,#e60000 143.8px,#e60000 201.5px)"></i><i style="background:linear-gradient(90deg,#e60000 3.5px,#f30000 12.5px,#ff0300 13.4px,#ff8f00 15.4px,#ffea00 17.4px,#f9ff06 18.4px,#b8ff47 20.4px,#47ffb8 21.4px,#0012ff 22.4px,#0041ff 23.4px,#05f 28.4px,#008bff 34.3px,#00bdff 42.3px,#00fdff 57.2px,#81ff7e 96px,#ff0 115.9px,#ff7e00 121.9px,#fe0000 130.9px,#e60000 142.8px,#e60000 201.5px)"></i><i style="background:linear-gradient(90deg,#e60000 3.5px,#f40000 12.5px,#ff0800 13.4px,#ff9100 15.4px,#ffec00 17.4px,#f7ff08 18.4px,#deff21 19.4px,#b3ff4c 20.4px,#34ffcb 21.4px,#0015ff 22.4px,#0059ff 23.4px,#0067ff 28.4px,#09f 34.3px,#00c6ff 42.3px,#00fcff 56.2px,#83ff7c 96px,#fff700 115.9px,#ff7b00 121.9px,#f00 130.9px,#e50000 143.8px,#e50000 201.5px)"></i><i style="background:linear-gradient(90deg,#e60000 3.5px,#f40000 12.5px,#ff1900 13.4px,#f60 14.4px,#fff100 17.4px,#f6ff09 18.4px,#c0ff3f 20.4px,#7bff84 21.4px,#0009ff 22.4px,#005fff 23.4px,#006eff 28.4px,#009eff 34.3px,#00c5ff 41.3px,#00feff 56.2px,#3fc 69.2px,#81ff7e 95px,#ff0 114.9px,#ff7800 121.9px,#ff0200 130.9px,#e50000 144.8px,#e50000 201.5px)"></i><i style="background:linear-gradient(90deg,#e60000 3.5px,#f50000 12.5px,#ff8700 14.4px,#fff900 17.4px,#efff10 18.4px,#b6ff49 20.4px,#62ff9d 21.4px,#000bff 22.4px,#005fff 23.4px,#006dff 28.4px,#009eff 34.3px,#00c9ff 42.3px,#00feff 56.2px,#3fc 69.2px,#81ff7e 95px,#ff0 114.9px,#ff7e00 120.9px,#f00 129.9px,#e60000 141.8px,#e50000 201.5px)"></i><i style="background:linear-gradient(90deg,#e60000 3.5px,#f40000 12.5px,#ff2600 13.4px,#ff7300 14.4px,#fc0 16.4px,#fff400 17.4px,#f4ff0b 18.4px,#b9ff46 20.4px,#63ff9c 21.4px,#000cff 22.4px,#0057ff 23.4px,#0067ff 28.4px,#09f 34.3px,#00c1ff 41.3px,#00fcff 56.2px,#7fff80 95px,#fbff04 114.9px,#fff400 115.9px,#ff7800 120.9px,#ff0200 127.9px,#e50000 138.8px,#e50000 201.5px)"></i><i style="background:linear-gradient(90deg,#e60000 3.5px,#f50000 12.5px,#ff8700 14.4px,#fff900 17.4px,#f1ff0e 18.4px,#c3ff3c 20.4px,#97ff68 21.4px,#005dff 22.4px,#003cff 23.4px,#00b9ff 41.3px,#00feff 57.2px,#81ff7e 95px,#fff700 114.9px,#ff8700 119.9px,#ff0100 128.9px,#e60000 140.8px,#e60000 201.5px)"></i><i style="background:linear-gradient(90deg,#e60000 3.5px,#f40000 13.4px,#ff3400 14.4px,#ff8100 15.4px,#ffe000 17.4px,#fdff02 18.4px,#bfff40 20.4px,#5bffa4 21.4px,#0010ff 22.4px,#0031ff 23.4px,#0049ff 28.4px,#0082ff 34.3px,#00b7ff 42.3px,#00faff 57.2px,#81ff7e 96px,#fffc00 115.9px,#ff8500 120.9px,#fd0000 129.9px,#e60000 140.8px,#e60000 201.5px)"></i><i style="background:linear-gradient(90deg,#e60000 3.5px,#fa0000 12.5px,#ff8a00 14.4px,#fffa00 17.4px,#efff10 18.4px,#b6ff49 20.4px,#67ff98 21.4px,#000aff 22.4px,#0076ff 34.3px,#00a8ff 41.3px,#00fbff 58.2px,#80ff7f 96px,#feff01 115.9px,#ff7500 121.9px,#ff0400 128.9px,#fc0000 129.9px,#e60000 139.8px,#e60000 201.5px)"></i><i style="background:linear-gradient(90deg,#e60000 3.5px,#f30000 11.5px,#ff0400 12.5px,#ff8f00 14.4px,#fffc00 17.4px,#ef1 18.4px,#bcff43 20.4px,#8f7 21.4px,#001dff 22.4px,#000fff 23.4px,#00a6ff 41.3px,#0ff 59.2px,#54ffab 81.1px,#7fff80 96px,#fcff03 115.9px,#ffef00 116.9px,#ff7b00 121.9px,#f00 129.9px,#e60000 140.8px,#e60000 201.5px)"></i><i style="background:linear-gradient(90deg,#e70000 3.5px,#f40000 11.5px,#f10 12.5px,#ff5e00 13.4px,#ff9600 14.4px,#ffe400 16.4px,#ff0 17.4px,#ebff14 18.4px,#d8ff27 19.4px,#b4ff4b 20.4px,#68ff97 21.4px,#0009ff 22.4px,#0028ff 27.4px,#0071ff 34.3px,#00a4ff 41.3px,#00feff 59.2px,#81ff7e 97px,#fdff02 116.9px,#ff7000 121.9px,#ff0b00 126.9px,#ff0100 128.9px,#f50000 182.6px,#e60000 183.6px,#e60000 201.5px)"></i><i style="background:linear-gradient(90deg,#e60000 3.5px,#f40000 12.5px,#ff1200 13.4px,#ff5f00 14.4px,#ff9700 15.4px,#ffef00 17.4px,#f7ff08 18.4px,#bf4 20.4px,#61ff9e 21.4px,#000dff 22.4px,#001dff 23.4px,#0032ff 27.4px,#07f 34.3px,#00a9ff 41.3px,#00fcff 58.2px,#7fff80 96px,#fbff04 115.9px,#fff600 116.9px,#ff7d00 122.9px,#ff0e00 131.9px,#ff2500 138.8px,#f00 163.7px,#f50000 182.6px,#e60000 183.6px,#e60000 201.5px)"></i><i style="background:linear-gradient(90deg,#e70000 3.5px,#f40000 11.5px,#ff1800 12.5px,#ff6400 13.4px,#f90 14.4px,#ffe700 16.4px,#feff01 17.4px,#d4ff2b 19.4px,#a5ff5a 20.4px,#1affe5 21.4px,#0013ff 22.4px,#002dff 23.4px,#003eff 27.4px,#0080ff 34.3px,#00afff 41.3px,#00feff 58.2px,#82ff7d 97px,#feff01 116.9px,#ff7a00 122.9px,#ff0800 130.9px,#f50000 182.6px,#e60000 183.6px,#e60000 201.5px)"></i><i style="background:linear-gradient(90deg,#e60000 3.5px,#f40000 12.5px,#ff1c00 13.4px,#ff6800 14.4px,#ffc700 16.4px,#fff100 17.4px,#f5ff0a 18.4px,#baff45 20.4px,#61ff9e 21.4px,#000dff 22.4px,#003fff 23.4px,#0054ff 28.4px,#008bff 34.3px,#00bcff 42.3px,#00fcff 57.2px,#7fff80 96px,#fffa00 116.9px,#ff8500 122.9px,#ff0300 132.8px,#fd0000 133.8px,#e60000 146.8px,#e60000 201.5px)"></i><i style="background:linear-gradient(90deg,#e60000 3.5px,#f40000 12.5px,#ff2a00 13.4px,#f70 14.4px,#ffa300 15.4px,#fff400 17.4px,#f3ff0c 18.4px,#b8ff47 20.4px,#60ff9f 21.4px,#000cff 22.4px,#003fff 23.4px,#0054ff 28.4px,#008bff 34.3px,#00bcff 42.3px,#00fcff 57.2px,#7fff80 96px,#fffa00 116.9px,#ff8100 122.9px,#fe0000 132.8px,#e60000 145.8px,#e60000 201.5px)"></i><i style="background:linear-gradient(90deg,#e60000 3.5px,#f50000 12.5px,#ff3900 13.4px,#ff8300 14.4px,#fff700 17.4px,#f1ff0e 18.4px,#bcff43 20.4px,#7aff85 21.4px,#0007ff 22.4px,#002bff 23.4px,#0047ff 28.4px,#0081ff 34.3px,#00b6ff 42.3px,#00feff 58.2px,#7fff80 96px,#fffb00 116.9px,#ff7f00 122.9px,#fd0000 132.8px,#e60000 144.8px,#e60000 201.5px)"></i><i style="background:linear-gradient(90deg,#e60000 3.5px,#f40000 13.4px,#ff3400 14.4px,#ff8100 15.4px,#ffe000 17.4px,#fdff02 18.4px,#c0ff3f 20.4px,#5fffa0 21.4px,#000fff 22.4px,#00a8ff 41.3px,#0ff 59.2px,#54ffab 82.1px,#80ff7f 98px,#fffe00 118.9px,#ff7b00 124.9px,#fd0000 133.8px,#e60000 145.8px,#e60000 201.5px)"></i><i style="background:linear-gradient(90deg,#e60000 3.5px,#f50000 12.5px,#ff8700 14.4px,#fff900 17.4px,#f0ff0f 18.4px,#beff41 20.4px,#8f7 21.4px,#000eff 22.4px,#000eff 23.4px,#00a5ff 41.3px,#00feff 59.2px,#81ff7e 97px,#fcff03 116.9px,#fff000 117.9px,#ff7b00 122.9px,#f00 130.9px,#e60000 141.8px,#e60000 201.5px)"></i><i style="background:linear-gradient(90deg,#e60000 3.5px,#f40000 12.5px,#ff1c00 13.4px,#ff6900 14.4px,#ffc800 16.4px,#fff200 17.4px,#f5ff0a 18.4px,#b6ff49 20.4px,#4fffb0 21.4px,#0010ff 22.4px,#0025ff 23.4px,#0037ff 27.4px,#007bff 34.3px,#00acff 41.3px,#00fdff 58.2px,#7fff80 96px,#fffa00 116.9px,#ff7900 123.9px,#f00 133.8px,#e60000 147.8px,#e60000 201.5px)"></i><i style="background:linear-gradient(90deg,#e60000 3.5px,#fe0000 12.5px,#ff8c00 14.4px,#fffb00 17.4px,#edff12 18.4px,#d7ff28 19.4px,#af5 20.4px,#2effd1 21.4px,#0013ff 22.4px,#003fff 23.4px,#0053ff 28.4px,#008aff 34.3px,#00bcff 42.3px,#00fcff 57.2px,#81ff7e 96px,#feff01 115.9px,#ff7f00 121.9px,#f00 130.9px,#e60000 143.8px,#e60000 201.5px)"></i><i style="background:linear-gradient(90deg,#e60000 3.5px,#f50000 12.5px,#ff3700 13.4px,#ff8200 14.4px,#fff700 17.4px,#f1ff0e 18.4px,#daff25 19.4px,#b2ff4d 20.4px,#4cffb3 21.4px,#000fff 22.4px,#0050ff 23.4px,#0061ff 28.4px,#0094ff 34.3px,#00beff 41.3px,#00faff 56.2px,#82ff7d 96px,#fffd00 115.9px,#ff7f00 120.9px,#fe0000 128.9px,#e50000 139.8px,#e60000 201.5px)"></i><i style="background:linear-gradient(90deg,#e60000 3.5px,#f30000 12.5px,#ff0100 13.4px,#ff8e00 15.4px,#ffe900 17.4px,#f9ff06 18.4px,#b9ff46 20.4px,#4affb5 21.4px,#0012ff 22.4px,#0059ff 23.4px,#0067ff 28.4px,#09f 34.3px,#00c6ff 42.3px,#00fcff 56.2px,#82ff7d 96px,#fffd00 115.9px,#ff8600 120.9px,#fd0000 129.9px,#e50000 140.8px,#e50000 201.5px)"></i><i style="background:linear-gradient(90deg,#e60000 3.5px,#f40000 12.5px,#ff2600 13.4px,#ff7300 14.4px,#fc0 16.4px,#fff300 17.4px,#f4ff0b 18.4px,#b7ff48 20.4px,#5affa5 21.4px,#000dff 22.4px,#004fff 23.4px,#0060ff 28.4px,#0094ff 34.3px,#00bdff 41.3px,#00faff 56.2px,#82ff7d 96px,#fffc00 115.9px,#ff7800 121.9px,#ff0100 129.9px,#e50000 141.8px,#e60000 201.5px)"></i><i style="background:linear-gradient(90deg,#e60000 3.5px,#f30000 12.5px,#ff0400 13.4px,#ff8f00 15.4px,#ffea00 17.4px,#f8ff07 18.4px,#deff21 19.4px,#b2ff4d 20.4px,#24ffdb 21.4px,#0017ff 22.4px,#003eff 23.4px,#0052ff 28.4px,#008aff 34.3px,#0bf 42.3px,#00fcff 57.2px,#82ff7d 96px,#fffc00 115.9px,#ff7b00 120.9px,#ff0300 127.9px,#fc0000 128.9px,#e50000 138.8px,#e60000 201.5px)"></i><i style="background:linear-gradient(90deg,#e60000 3.5px,#f50000 13.4px,#ff3500 14.4px,#ff8100 15.4px,#ffe000 17.4px,#fcff03 18.4px,#b9ff46 20.4px,#40ffbf 21.4px,#0014ff 22.4px,#002eff 23.4px,#003fff 27.4px,#0080ff 34.3px,#00afff 41.3px,#00feff 58.2px,#7fff80 96px,#fbff04 115.9px,#fff500 116.9px,#ff7d00 121.9px,#fe0000 129.9px,#e60000 140.8px,#e60000 201.5px)"></i><i style="background:linear-gradient(90deg,#e60000 3.5px,#f90000 13.4px,#ff8a00 15.4px,#ffe600 17.4px,#f9ff06 18.4px,#deff21 19.4px,#afff50 20.4px,#00e2ff 21.4px,#001aff 22.4px,#0034ff 27.4px,#0079ff 34.3px,#0af 41.3px,#00fdff 58.2px,#82ff7d 96px,#fffa00 115.9px,#f70 121.9px,#ff0100 129.9px,#e60000 141.8px,#e60000 201.5px)"></i><i style="background:linear-gradient(90deg,#e60000 3.5px,#f40000 12.5px,#ff0700 13.4px,#ff9100 15.4px,#ffeb00 17.4px,#f7ff08 18.4px,#dcff23 19.4px,#acff53 20.4px,#00c9ff 21.4px,#001bff 22.4px,#0034ff 27.4px,#0079ff 34.3px,#0af 41.3px,#00fcff 58.2px,#7fff80 96px,#fdff02 115.9px,#ffef00 116.9px,#ff7c00 121.9px,#ff0200 129.9px,#e60000 141.8px,#e60000 201.5px)"></i><i style="background:linear-gradient(90deg,#e60000 3.5px,#fc0000 13.4px,#ff8c00 15.4px,#ffe800 17.4px,#f9ff06 18.4px,#deff21 19.4px,#b1ff4e 20.4px,#12ffed 21.4px,#0018ff 22.4px,#00adff 41.3px,#00fdff 58.2px,#80ff7f 96px,#feff01 115.9px,#ff8000 121.9px,#f00 130.9px,#e60000 142.8px,#e60000 201.5px)"></i><i style="background:linear-gradient(90deg,#e60000 3.5px,#fc0000 12.5px,#ff8b00 14.4px,#fffb00 17.4px,#edff12 18.4px,#d6ff29 19.4px,#a7ff58 20.4px,#00f8ff 21.4px,#0015ff 22.4px,#0036ff 23.4px,#004cff 28.4px,#0085ff 34.3px,#00b8ff 42.3px,#00faff 57.2px,#7fff80 96px,#fbff04 115.9px,#fff600 116.9px,#ff8700 121.9px,#ff0200 130.9px,#e60000 142.8px,#e60000 201.5px)"></i><i style="background:linear-gradient(90deg,#e60000 3.5px,#f40000 12.5px,#ff1600 13.4px,#ff6300 14.4px,#fff000 17.4px,#f6ff09 18.4px,#baff45 20.4px,#5fffa0 21.4px,#000dff 22.4px,#004aff 23.4px,#005cff 28.4px,#0091ff 34.3px,#0bf 41.3px,#00feff 57.2px,#80ff7f 96px,#fcff03 115.9px,#fff500 116.9px,#ff7c00 122.9px,#ff0400 131.9px,#fd0000 132.8px,#e50000 145.8px,#e60000 201.5px)"></i><i style="background:linear-gradient(90deg,#e60000 3.5px,#f80000 13.4px,#ff8a00 15.4px,#ffe600 17.4px,#f9ff06 18.4px,#dcff23 19.4px,#a8ff57 20.4px,#07f 21.4px,#005eff 22.4px,#006dff 27.4px,#00c7ff 41.3px,#0ff 56.2px,#36ffc9 70.2px,#82ff7d 96px,#feff01 115.9px,#ff7a00 122.9px,#fd0000 132.8px,#e60000 145.8px,#e50000 201.5px)"></i><i style="background:linear-gradient(90deg,#e60000 3.5px,#f50000 13.4px,#ff8600 15.4px,#ffe400 17.4px,#fcff03 18.4px,#beff41 20.4px,#5cffa3 21.4px,#000fff 22.4px,#06f 23.4px,#0072ff 28.4px,#00a1ff 34.3px,#00cbff 42.3px,#00feff 56.2px,#36ffc9 70.2px,#82ff7d 96px,#ff0 115.9px,#ff7800 122.9px,#ff0200 131.9px,#e50000 145.8px,#e50000 201.5px)"></i><i style="background:linear-gradient(90deg,#e60000 3.5px,#f40000 12.5px,#ff1f00 13.4px,#ff6c00 14.4px,#ffc900 16.4px,#fff200 17.4px,#f4ff0b 18.4px,#dbff24 19.4px,#adff52 20.4px,#0afff5 21.4px,#0016ff 22.4px,#0051ff 23.4px,#0061ff 28.4px,#0094ff 34.3px,#00c3ff 42.3px,#0ff 57.2px,#32ffcd 70.2px,#82ff7d 97px,#fdff02 116.9px,#fff000 117.9px,#ff8300 122.9px,#ff0300 131.9px,#e50000 144.8px,#e60000 201.5px)"></i><i style="background:linear-gradient(90deg,#e60000 3.5px,#f50000 12.5px,#ff3900 13.4px,#ff8300 14.4px,#fff700 17.4px,#f1ff0e 18.4px,#b6ff49 20.4px,#5effa1 21.4px,#000cff 22.4px,#002cff 23.4px,#003eff 27.4px,#0080ff 34.3px,#00afff 41.3px,#00feff 58.2px,#5fa 81.1px,#80ff7f 96px,#fdff02 115.9px,#fff100 116.9px,#ff7d00 122.9px,#fe0000 132.8px,#e60000 145.8px,#e60000 201.5px)"></i><i style="background:linear-gradient(90deg,#e60000 3.5px,#f80000 12.5px,#ff8900 14.4px,#fffa00 17.4px,#edff12 18.4px,#d5ff2a 19.4px,#a3ff5c 20.4px,#00b3ff 21.4px,#0019ff 22.4px,#0034ff 27.4px,#0079ff 34.3px,#0af 41.3px,#00fdff 58.2px,#82ff7d 96px,#fff800 115.9px,#ff7a00 122.9px,#ff0300 132.8px,#e60000 147.8px,#e60000 201.5px)"></i><i style="background:linear-gradient(90deg,#e70000 3.5px,#f40000 11.5px,#ff1700 12.5px,#ff6300 13.4px,#f90 14.4px,#ffe700 16.4px,#feff01 17.4px,#d5ff2a 19.4px,#a9ff56 20.4px,#3bffc4 21.4px,#0010ff 22.4px,#0028ff 23.4px,#003aff 27.4px,#007dff 34.3px,#00adff 41.3px,#00feff 58.2px,#80ff7f 96px,#feff01 115.9px,#ff7d00 122.9px,#ff0200 132.8px,#e60000 146.8px,#e60000 201.5px)"></i><i style="background:linear-gradient(90deg,#e60000 3.5px,#f40000 12.5px,#ff3200 13.4px,#ff7f00 14.4px,#fff600 17.4px,#f1ff0e 18.4px,#dbff24 19.4px,#b3ff4c 20.4px,#4affb5 21.4px,#000fff 22.4px,#0037ff 23.4px,#004dff 28.4px,#0086ff 34.3px,#00b9ff 42.3px,#00fbff 57.2px,#7fff80 95px,#fff800 115.9px,#ff8400 122.9px,#f00 134.8px,#e60000 150.8px,#e60000 201.5px)"></i><i style="background:linear-gradient(90deg,#e60000 3.5px,#f50000 12.5px,#ff3600 13.4px,#ff8100 14.4px,#fff700 17.4px,#f1ff0e 18.4px,#d9ff26 19.4px,#afff50 20.4px,#3bffc4 21.4px,#0012ff 22.4px,#03f 23.4px,#004aff 28.4px,#0083ff 34.3px,#00b7ff 42.3px,#00faff 57.2px,#80ff7f 96px,#fdff02 115.9px,#fff300 116.9px,#ff7c00 123.9px,#ff0100 134.8px,#e60000 150.8px,#e60000 201.5px)"></i><i style="background:linear-gradient(90deg,#e70000 3.5px,#f40000 11.5px,#ff1600 12.5px,#ff6200 13.4px,#ff9800 14.4px,#ffe600 16.4px,#feff01 17.4px,#d5ff2a 19.4px,#a8ff57 20.4px,#35ffca 21.4px,#01f 22.4px,#0027ff 23.4px,#0039ff 27.4px,#007cff 34.3px,#00adff 41.3px,#00feff 58.2px,#81ff7e 96px,#fffc00 115.9px,#ff7a00 122.9px,#f00 132.8px,#e60000 146.8px,#e60000 201.5px)"></i><i style="background:linear-gradient(90deg,#e70000 3.5px,#f40000 11.5px,#ff3200 12.5px,#ff7e00 13.4px,#fff100 16.4px,#f9ff06 17.4px,#d2ff2d 19.4px,#a4ff5b 20.4px,#3fc 21.4px,#0010ff 22.4px,#0021ff 23.4px,#0034ff 27.4px,#0079ff 34.3px,#0af 41.3px,#00fbff 58.2px,#81ff7e 97px,#fcff03 116.9px,#fff300 117.9px,#ff7900 123.9px,#f00 132.8px,#e60000 145.8px,#e60000 201.5px)"></i><i style="background:linear-gradient(90deg,#e60000 3.5px,#f50000 12.5px,#f80 14.4px,#fff900 17.4px,#efff10 18.4px,#d9ff26 19.4px,#b1ff4e 20.4px,#4bffb4 21.4px,#000eff 22.4px,#0027ff 23.4px,#0039ff 27.4px,#007cff 34.3px,#00adff 41.3px,#00fcff 58.2px,#7fff80 97px,#feff01 117.9px,#ff8000 123.9px,#f00 132.8px,#e60000 145.8px,#e60000 201.5px)"></i><i style="background:linear-gradient(90deg,#e60000 3.5px,#f40000 12.5px,#ff2600 13.4px,#ff7200 14.4px,#fc0 16.4px,#fff300 17.4px,#f3ff0c 18.4px,#daff25 19.4px,#abff54 20.4px,#00f7ff 21.4px,#0017ff 22.4px,#0035ff 23.4px,#04f 27.4px,#0084ff 34.3px,#00b2ff 41.3px,#00faff 57.2px,#7fff80 96px,#fffd00 116.9px,#ff8100 123.9px,#ff0100 134.8px,#e60000 149.8px,#e60000 201.5px)"></i><i style="background:linear-gradient(90deg,#e70000 3.5px,#f40000 11.5px,#ff0e00 12.5px,#ff5b00 13.4px,#ff9400 14.4px,#ffe300 16.4px,#fffe00 17.4px,#ebff14 18.4px,#d5ff2a 19.4px,#a8ff57 20.4px,#2effd1 21.4px,#0012ff 22.4px,#003cff 23.4px,#0051ff 28.4px,#08f 34.3px,#0bf 42.3px,#00fbff 57.2px,#80ff7f 96px,#fdff02 115.9px,#fff100 116.9px,#ff8300 122.9px,#fe0000 133.8px,#e60000 147.8px,#e60000 201.5px)"></i><i style="background:linear-gradient(90deg,#e60000 3.5px,#f60000 12.5px,#f80 14.4px,#fff900 17.4px,#efff10 18.4px,#d9ff26 19.4px,#b1ff4e 20.4px,#4cffb3 21.4px,#000eff 22.4px,#0031ff 23.4px,#0049ff 28.4px,#0082ff 34.3px,#00b7ff 42.3px,#0ff 58.2px,#56ffa9 81.1px,#80ff7f 96px,#feff01 115.9px,#ff7c00 123.9px,#ff0300 134.8px,#e60000 150.8px,#e60000 201.5px)"></i><i style="background:linear-gradient(90deg,#e60000 3.5px,#f50000 12.5px,#ff8400 14.4px,#fff800 17.4px,#efff10 18.4px,#d7ff28 19.4px,#a9ff56 20.4px,#04fffb 21.4px,#0015ff 22.4px,#002aff 23.4px,#003bff 27.4px,#007eff 34.3px,#00aeff 41.3px,#00feff 58.2px,#82ff7d 96px,#fffb00 115.9px,#ff7a00 122.9px,#f00 132.8px,#e60000 146.8px,#e60000 201.5px)"></i><i style="background:linear-gradient(90deg,#e60000 3.5px,#f40000 12.5px,#ff2800 13.4px,#ff7500 14.4px,#ffcd00 16.4px,#fff400 17.4px,#f3ff0c 18.4px,#b7ff48 20.4px,#59ffa6 21.4px,#000dff 22.4px,#0024ff 23.4px,#0037ff 27.4px,#007bff 34.3px,#00acff 41.3px,#00fdff 58.2px,#82ff7d 96px,#fff800 115.9px,#ff8000 121.9px,#f00 131.9px,#e60000 144.8px,#e60000 201.5px)"></i><i style="background:linear-gradient(90deg,#e60000 3.5px,#f50000 12.5px,#ff3800 13.4px,#ff8200 14.4px,#fff700 17.4px,#f2ff0d 18.4px,#c2ff3d 20.4px,#93ff6c 21.4px,#002aff 22.4px,#0021ff 23.4px,#00adff 41.3px,#00fdff 58.2px,#80ff7f 96px,#fdff02 115.9px,#ffef00 116.9px,#ff8100 121.9px,#f00 130.9px,#e60000 142.8px,#e60000 201.5px)"></i><i style="background:linear-gradient(90deg,#e70000 3.5px,#f40000 11.5px,#ff1200 12.5px,#ff5e00 13.4px,#ff9600 14.4px,#ffe500 16.4px,#ff0 17.4px,#ebff14 18.4px,#b7ff48 20.4px,#7f8 21.4px,#0006ff 22.4px,#001fff 23.4px,#0028ff 24.4px,#0037ff 27.4px,#007bff 34.3px,#00acff 41.3px,#02fffd 59.2px,#82ff7d 97px,#feff01 116.9px,#ff7500 122.9px,#ff0500 129.9px,#fd0000 130.9px,#e60000 141.8px,#e60000 201.5px)"></i><i style="background:linear-gradient(90deg,#e60000 3.5px,#f40000 12.5px,#ff1d00 13.4px,#ff6a00 14.4px,#ffc800 16.4px,#fff200 17.4px,#f5ff0a 18.4px,#b8ff47 20.4px,#59ffa6 21.4px,#000eff 22.4px,#0028ff 27.4px,#0070ff 34.3px,#00a4ff 41.3px,#00feff 59.2px,#54ffab 81.1px,#7fff80 96px,#fbff04 115.9px,#fff400 116.9px,#ff7600 122.9px,#ff0400 130.9px,#fd0000 131.9px,#e60000 143.8px,#e60000 201.5px)"></i><i style="background:linear-gradient(90deg,#e60000 3.5px,#f50000 12.5px,#ff8500 14.4px,#fff800 17.4px,#f0ff0f 18.4px,#baff45 20.4px,#74ff8b 21.4px,#0008ff 22.4px,#0000fd 23.4px,#001aff 27.4px,#0067ff 34.3px,#009dff 41.3px,#01fffe 60.2px,#53ffac 81.1px,#80ff7f 96px,#feff01 115.9px,#ff7f00 122.9px,#fe0000 133.8px,#e60000 147.8px,#e60000 201.5px)"></i><i style="background:linear-gradient(90deg,#e60000 3.5px,#f40000 12.5px,#ff3200 13.4px,#ff7e00 14.4px,#fff600 17.4px,#f1ff0e 18.4px,#dbff24 19.4px,#b2ff4d 20.4px,#48ffb7 21.4px,#0010ff 22.4px,#0000f4 23.4px,#0010ff 27.4px,#0060ff 34.3px,#00a0ff 42.3px,#02fffd 61.2px,#52ffad 82.1px,#80ff7f 98px,#fffa00 118.9px,#ff7f00 123.9px,#f00 131.9px,#e60000 142.8px,#e60000 201.5px)"></i><i style="background:linear-gradient(90deg,#e60000 3.5px,#f40000 12.5px,#ff1000 13.4px,#ff5d00 14.4px,#ff9600 15.4px,#ffef00 17.4px,#f6ff09 18.4px,#dcff23 19.4px,#afff50 20.4px,#0ffff0 21.4px,#0017ff 22.4px,#0000fb 23.4px,#0015ff 27.4px,#0063ff 34.3px,#00a2ff 42.3px,#04fffb 61.2px,#52ffad 81.1px,#7dff82 96px,#fffa00 116.9px,#ff7c00 122.9px,#f00 131.9px,#e60000 144.8px,#e60000 201.5px)"></i><i style="background:linear-gradient(90deg,#e70000 3.5px,#f40000 11.5px,#ff1c00 12.5px,#ff6800 13.4px,#ff9b00 14.4px,#ffe900 16.4px,#fdff02 17.4px,#d4ff2b 19.4px,#a7ff58 20.4px,#31ffce 21.4px,#01f 22.4px,#0003ff 23.4px,#001cff 27.4px,#0068ff 34.3px,#009eff 41.3px,#0ff 60.2px,#49ffb6 79.1px,#81ff7e 98px,#fbff04 117.9px,#fff300 118.9px,#ff7600 123.9px,#f00 130.9px,#e60000 141.8px,#e60000 201.5px)"></i><i style="background:linear-gradient(90deg,#e60000 3.5px,#f40000 12.5px,#ff1700 13.4px,#ff6300 14.4px,#fff000 17.4px,#f6ff09 18.4px,#bf4 20.4px,#60ff9f 21.4px,#000dff 22.4px,#0005ff 23.4px,#001eff 27.4px,#0069ff 34.3px,#009fff 41.3px,#0ff 60.2px,#52ffad 82.1px,#7eff81 98px,#fcff03 118.9px,#ffef00 119.9px,#ff8300 123.9px,#ff0700 130.9px,#fd0000 131.9px,#e60000 141.8px,#e60000 201.5px)"></i><i style="background:linear-gradient(90deg,#e70000 3.5px,#f40000 11.5px,#ff0a00 12.5px,#ff5600 13.4px,#ff9200 14.4px,#fffd00 17.4px,#ebff14 18.4px,#d5ff2a 19.4px,#a7ff58 20.4px,#18ffe7 21.4px,#0013ff 22.4px,#0000f2 23.4px,#000fff 27.4px,#005fff 34.3px,#009fff 42.3px,#02fffd 61.2px,#52ffad 82.1px,#7fff80 98px,#fffe00 118.9px,#ff7b00 123.9px,#ff0100 130.9px,#e60000 140.8px,#e60000 201.5px)"></i><i style="background:linear-gradient(90deg,#e60000 3.5px,#f30000 11.5px,#ff0500 12.5px,#ff8f00 14.4px,#fffc00 17.4px,#edff12 18.4px,#d8ff27 19.4px,#b1ff4e 20.4px,#53ffac 21.4px,#000dff 22.4px,#0000e7 23.4px,#0006ff 27.4px,#0059ff 34.3px,#009bff 42.3px,#0ff 61.2px,#4bffb4 80.1px,#81ff7e 98px,#fbff04 117.9px,#fff400 118.9px,#ff7900 123.9px,#ff0600 130.9px,#fd0000 131.9px,#e60000 141.8px,#e60000 201.5px)"></i><i style="background:linear-gradient(90deg,#e60000 3.5px,#f40000 12.5px,#f20 13.4px,#ff6e00 14.4px,#ffca00 16.4px,#fff300 17.4px,#f4ff0b 18.4px,#b8ff47 20.4px,#5bffa4 21.4px,#000dff 22.4px,#0000f0 23.4px,#000dff 27.4px,#005dff 34.3px,#009eff 42.3px,#03fffc 61.2px,#51ffae 81.1px,#7dff82 96px,#fffa00 116.9px,#ff7d00 122.9px,#f00 131.9px,#e60000 144.8px,#e60000 201.5px)"></i><i style="background:linear-gradient(90deg,#e60000 3.5px,#f40000 12.5px,#ff2e00 13.4px,#ff7a00 14.4px,#ffa500 15.4px,#fff500 17.4px,#f2ff0d 18.4px,#b8ff47 20.4px,#5fffa0 21.4px,#000cff 22.4px,#001eff 23.4px,#0032ff 27.4px,#0078ff 34.3px,#00a9ff 41.3px,#00fbff 58.2px,#7eff81 97px,#fdff02 117.9px,#fe0 118.9px,#ff7a00 123.9px,#f00 131.9px,#e60000 142.8px,#e60000 201.5px)"></i><i style="background:linear-gradient(90deg,#e70000 3.5px,#f40000 11.5px,#ff2c00 12.5px,#ff7800 13.4px,#ffa400 14.4px,#fff000 16.4px,#faff05 17.4px,#d1ff2e 19.4px,#a0ff5f 20.4px,#00e6ff 21.4px,#0014ff 22.4px,#004cff 23.4px,#005dff 28.4px,#0091ff 34.3px,#0bf 41.3px,#00feff 57.2px,#82ff7d 97px,#fcff03 116.9px,#fff100 117.9px,#ff7a00 122.9px,#fe0000 130.9px,#e50000 141.8px,#e60000 201.5px)"></i><i style="background:linear-gradient(90deg,#e80000 3.5px,#f50000 11.5px,#ff8500 13.4px,#fff400 16.4px,#f7ff08 17.4px,#caff35 19.4px,#9aff65 20.4px,#00a2ff 21.4px,#0016ff 22.4px,#006aff 23.4px,#0074ff 28.4px,#00a3ff 34.3px,#0cf 42.3px,#00feff 56.2px,#34ffcb 70.2px,#81ff7e 97px,#fffc00 117.9px,#ff8400 122.9px,#ff0500 130.9px,#fd0000 131.9px,#e50000 142.8px,#e60000 182.6px,#ffa400 183.6px,#e50000 184.6px,#e50000 201.5px)"></i><i style="background:linear-gradient(90deg,#e80000 3.5px,#f40000 10.5px,#ff0c00 11.5px,#ff5900 12.5px,#ff9300 13.4px,#ffe300 15.4px,#fffb00 16.4px,#f1ff0e 17.4px,#c2ff3d 19.4px,#93ff6c 20.4px,#0078ff 21.4px,#0017ff 22.4px,#0070ff 23.4px,#0074ff 27.4px,#00caff 41.3px,#00fbff 55.2px,#80ff7f 96px,#ff0 116.9px,#ff7600 122.9px,#fd0000 130.9px,#e50000 141.8px,#e50000 201.5px)"></i><i style="background:linear-gradient(90deg,#e80000 3.5px,#f30000 10.5px,#ff0100 11.5px,#ff8d00 13.4px,#fd0 15.4px,#fff800 16.4px,#f3ff0c 17.4px,#c9ff36 19.4px,#9cff63 20.4px,#00efff 21.4px,#0012ff 22.4px,#0075ff 23.4px,#0079ff 27.4px,#0cf 41.3px,#00fcff 55.2px,#84ff7b 97px,#feff01 116.9px,#ff7400 122.9px,#ff0400 129.9px,#fc0000 130.9px,#e60000 140.8px,#e50000 201.5px)"></i><i style="background:linear-gradient(90deg,#e70000 3.5px,#f40000 11.5px,#ff0900 12.5px,#ff5600 13.4px,#ff9200 14.4px,#fffd00 17.4px,#ebff14 18.4px,#d4ff2b 19.4px,#a4ff5b 20.4px,#00e7ff 21.4px,#0016ff 22.4px,#006fff 23.4px,#0074ff 27.4px,#00caff 41.3px,#00fbff 55.2px,#83ff7c 97px,#feff01 116.9px,#ff7b00 122.9px,#ff0100 130.9px,#fc0000 131.9px,#e50000 142.8px,#e60000 181.6px,#ffc400 182.6px,#ff9f00 183.6px,#e50000 184.6px,#e50000 201.5px)"></i><i style="background:linear-gradient(90deg,#e80000 3.5px,#f50000 11.5px,#ff8300 13.4px,#fff300 16.4px,#f7ff08 17.4px,#caff35 19.4px,#9f6 20.4px,#009aff 21.4px,#0017ff 22.4px,#0058ff 23.4px,#06f 28.4px,#0098ff 34.3px,#00c5ff 42.3px,#00faff 56.2px,#82ff7d 98px,#fffb00 118.9px,#f80 122.9px,#ff0200 129.9px,#e50000 139.8px,#e60000 181.6px,#ff0c00 182.6px,#ff4200 183.6px,#e50000 184.6px,#e50000 201.5px)"></i><i style="background:linear-gradient(90deg,#e90000 3.5px,#f40000 10.5px,#ff1b00 11.5px,#ff6700 12.5px,#ffea00 15.4px,#fffe00 16.4px,#ef1 17.4px,#c4ff3b 19.4px,#9cff63 20.4px,#1affe5 21.4px,#000fff 22.4px,#03f 23.4px,#004aff 28.4px,#0084ff 34.3px,#00b8ff 42.3px,#0ff 58.2px,#30ffcf 70.2px,#7eff81 96px,#ff0 116.9px,#ff7a00 122.9px,#ff0400 130.9px,#fd0000 131.9px,#e60000 142.8px,#e60000 182.6px,#ff7400 183.6px,#e60000 184.6px,#e60000 201.5px)"></i><i style="background:linear-gradient(90deg,#e80000 3.5px,#f30000 10.5px,#ff0400 11.5px,#ff8f00 13.4px,#ffdf00 15.4px,#fff900 16.4px,#f3ff0c 17.4px,#cf3 19.4px,#a3ff5c 20.4px,#3fffc0 21.4px,#000cff 22.4px,#0029ff 27.4px,#0071ff 34.3px,#00a5ff 41.3px,#00feff 59.2px,#54ffab 81.1px,#7fff80 96px,#fbff04 115.9px,#fff500 116.9px,#ff7800 122.9px,#fe0000 131.9px,#e60000 143.8px,#e60000 181.6px,#ff8500 182.6px,#e60000 183.6px,#e60000 201.5px)"></i><i style="background:linear-gradient(90deg,#e90000 3.5px,#f40000 10.5px,#ff2700 11.5px,#ff7400 12.5px,#ffa200 13.4px,#fff000 15.4px,#fdff02 16.4px,#d9ff26 18.4px,#b7ff48 19.4px,#71ff8e 20.4px,#0007ff 21.4px,#001bff 22.4px,#0007ff 23.4px,#001eff 27.4px,#006aff 34.3px,#00a6ff 42.3px,#00fdff 59.2px,#81ff7e 96px,#f9ff06 114.9px,#fffb00 115.9px,#ff7a00 122.9px,#f00 132.8px,#e60000 146.8px,#e60000 181.6px,#ffc600 182.6px,#ffd100 183.6px,#e60000 184.6px,#e60000 201.5px)"></i><i style="background:linear-gradient(90deg,#e80000 3.5px,#fe0000 11.5px,#ff8c00 13.4px,#ffdc00 15.4px,#fff800 16.4px,#f4ff0b 17.4px,#c2ff3d 19.4px,#89ff76 20.4px,#002fff 21.4px,#000aff 23.4px,#0020ff 27.4px,#006bff 34.3px,#00a0ff 41.3px,#00fcff 59.2px,#7eff81 97px,#fdff02 117.9px,#ffed00 118.9px,#ff7600 123.9px,#ff0500 130.9px,#fd0000 131.9px,#e60000 141.8px,#e60000 181.6px,#ff6800 182.6px,#ffaf00 183.6px,#ff3b00 184.6px,#e60000 185.6px,#e60000 201.5px)"></i><i style="background:linear-gradient(90deg,#e70000 3.5px,#f40000 11.5px,#f30 12.5px,#ff8000 13.4px,#fff200 16.4px,#f9ff06 17.4px,#cfff30 19.4px,#a0ff5f 20.4px,#00f8ff 21.4px,#0013ff 22.4px,#002dff 27.4px,#0074ff 34.3px,#00a7ff 41.3px,#0ff 59.2px,#56ffa9 82.1px,#80ff7f 97px,#fbff04 116.9px,#fff600 117.9px,#ff7200 123.9px,#ff2d00 128.9px,#ff1c00 131.9px,#ff4500 181.6px,#ffbf00 182.6px,#fff000 183.6px,#ffc500 184.6px,#ff0500 185.6px,#e60000 186.6px,#e60000 201.5px)"></i><i style="background:linear-gradient(90deg,#e90000 3.5px,#f40000 10.5px,#ff1c00 11.5px,#ff6800 12.5px,#ffeb00 15.4px,#fffe00 16.4px,#ef1 17.4px,#c3ff3c 19.4px,#9bff64 20.4px,#0ffff0 21.4px,#000fff 22.4px,#0024ff 23.4px,#0037ff 27.4px,#007bff 34.3px,#00acff 41.3px,#00fcff 58.2px,#7eff81 96px,#fffd00 116.9px,#ff7200 122.9px,#ff3d00 126.9px,#ff3600 128.9px,#ff7400 151.8px,#ff9e00 182.6px,#fff000 183.6px,#fff000 184.6px,#ff2500 185.6px,#e60000 186.6px,#e60000 201.5px)"></i><i style="background:linear-gradient(90deg,#e70000 3.5px,#f40000 11.5px,#ff1900 12.5px,#ff6500 13.4px,#ff9a00 14.4px,#ffe800 16.4px,#feff01 17.4px,#d4ff2b 19.4px,#a8ff57 20.4px,#37ffc8 21.4px,#0010ff 22.4px,#002bff 23.4px,#003cff 27.4px,#007fff 34.3px,#00aeff 41.3px,#00feff 58.2px,#81ff7e 96px,#fffd00 115.9px,#ff7b00 121.9px,#ff2b00 127.9px,#ff1a00 130.9px,#ff4500 181.6px,#fff000 183.6px,#ffc200 184.6px,#ff0300 185.6px,#e60000 186.6px,#e60000 201.5px)"></i><i style="background:linear-gradient(90deg,#e60000 3.5px,#f70000 12.5px,#ff8900 14.4px,#fffa00 17.4px,#ef1 18.4px,#d6ff29 19.4px,#a6ff59 20.4px,#00ebff 21.4px,#0016ff 22.4px,#03f 27.4px,#0078ff 34.3px,#0af 41.3px,#00fcff 58.2px,#7eff81 96px,#fffe00 116.9px,#ff7c00 122.9px,#fe0000 131.9px,#e60000 143.8px,#e60000 182.6px,#ffda00 183.6px,#ff2c00 184.6px,#e60000 185.6px,#e60000 201.5px)"></i><i style="background:linear-gradient(90deg,#e60000 3.5px,#fa0000 12.5px,#ff8a00 14.4px,#fffa00 17.4px,#ecff13 18.4px,#d2ff2d 19.4px,#98ff67 20.4px,#000aff 21.4px,#0007ff 22.4px,#0026ff 27.4px,#006fff 34.3px,#00a3ff 41.3px,#00fdff 59.2px,#81ff7e 97px,#fdff02 116.9px,#ff7d00 122.9px,#ff0500 130.9px,#fd0000 131.9px,#e60000 142.8px,#e60000 182.6px,#ff5a00 183.6px,#e60000 184.6px,#e60000 201.5px)"></i><i style="background:linear-gradient(90deg,#e70000 3.5px,#f40000 11.5px,#ff1f00 12.5px,#ff6b00 13.4px,#ff9d00 14.4px,#ffea00 16.4px,#fdff02 17.4px,#d5ff2a 19.4px,#abff54 20.4px,#45ffba 21.4px,#000eff 22.4px,#0004ff 23.4px,#001cff 27.4px,#0068ff 34.3px,#009fff 41.3px,#0ff 60.2px,#52ffad 82.1px,#7fff80 98px,#fdff02 118.9px,#ff7800 123.9px,#ff0500 129.9px,#fc0000 130.9px,#e60000 139.8px,#e60000 181.6px,#ffd700 182.6px,#e60000 183.6px,#e60000 201.5px)"></i><i style="background:linear-gradient(90deg,#e60000 3.5px,#f40000 12.5px,#ff2c00 13.4px,#ff7900 14.4px,#ffa400 15.4px,#fff500 17.4px,#f1ff0e 18.4px,#d8ff27 19.4px,#a5ff5a 20.4px,#00acff 21.4px,#001aff 22.4px,#0008ff 23.4px,#001fff 27.4px,#006aff 34.3px,#00a0ff 41.3px,#00fcff 59.2px,#7fff80 97px,#fbff04 116.9px,#fff400 117.9px,#ff8700 121.9px,#ff0700 128.9px,#fd0000 129.9px,#e60000 138.8px,#e60000 182.6px,#ff7500 183.6px,#e60000 184.6px,#e60000 201.5px)"></i><i style="background:linear-gradient(90deg,#e70000 3.5px,#f40000 11.5px,#ff0e00 12.5px,#ff5a00 13.4px,#ff9400 14.4px,#ffe300 16.4px,#fffe00 17.4px,#eaff15 18.4px,#d4ff2b 19.4px,#a5ff5a 20.4px,#00faff 21.4px,#0014ff 22.4px,#0012ff 23.4px,#0027ff 27.4px,#0070ff 34.3px,#00a4ff 41.3px,#00fdff 59.2px,#81ff7e 98px,#fbff04 117.9px,#fff200 118.9px,#ff7a00 122.9px,#ff0200 128.9px,#e60000 137.8px,#e60000 181.6px,#ff1400 182.6px,#e60000 183.6px,#e60000 201.5px)"></i><i style="background:linear-gradient(90deg,#e60000 3.5px,#f30000 11.5px,#ff0400 12.5px,#ff8f00 14.4px,#fffc00 17.4px,#ecff13 18.4px,#d5ff2a 19.4px,#a5ff5a 20.4px,#00f1ff 21.4px,#0015ff 22.4px,#0013ff 23.4px,#0028ff 27.4px,#0071ff 34.3px,#00a4ff 41.3px,#00feff 59.2px,#82ff7d 97px,#feff01 116.9px,#ff7f00 121.9px,#ff0600 128.9px,#fd0000 129.9px,#e60000 139.8px,#e60000 201.5px)"></i><i style="background:linear-gradient(90deg,#e60000 3.5px,#f50000 13.4px,#ff3700 14.4px,#ff8200 15.4px,#ffe100 17.4px,#fcff03 18.4px,#b7ff48 20.4px,#37ffc8 21.4px,#0016ff 22.4px,#000fff 23.4px,#0025ff 27.4px,#006eff 34.3px,#00a3ff 41.3px,#00fdff 59.2px,#7fff80 97px,#fff900 117.9px,#ff7300 122.9px,#ff0500 128.9px,#fc0000 129.9px,#e60000 138.8px,#e60000 201.5px)"></i><i style="background:linear-gradient(90deg,#e60000 3.5px,#f30000 11.5px,#ff0200 12.5px,#ff8e00 14.4px,#fffc00 17.4px,#edff12 18.4px,#d8ff27 19.4px,#b0ff4f 20.4px,#4effb1 21.4px,#000dff 22.4px,#0005ff 23.4px,#001dff 27.4px,#0069ff 34.3px,#009fff 41.3px,#0ff 60.2px,#53ffac 82.1px,#7dff82 97px,#fcff03 117.9px,#ffef00 118.9px,#ff7d00 122.9px,#fe0000 129.9px,#e60000 138.8px,#e60000 181.6px,#ff2d00 182.6px,#e60000 183.6px,#e60000 201.5px)"></i><i style="background:linear-gradient(90deg,#e60000 3.5px,#f50000 12.5px,#ff8600 14.4px,#fff800 17.4px,#f0ff0f 18.4px,#b6ff49 20.4px,#60ff9f 21.4px,#000bff 22.4px,#0004ff 23.4px,#001eff 27.4px,#0069ff 34.3px,#009fff 41.3px,#01fffe 60.2px,#4effb1 80.1px,#81ff7e 97px,#fdff02 116.9px,#ff7800 121.9px,#ff0500 127.9px,#fc0000 128.9px,#e60000 137.8px,#e60000 182.6px,#ff8100 183.6px,#e60000 184.6px,#e60000 201.5px)"></i><i style="background:linear-gradient(90deg,#e60000 3.5px,#f50000 12.5px,#ff3500 13.4px,#ff8100 14.4px,#fff600 17.4px,#f0ff0f 18.4px,#d8ff27 19.4px,#af5 20.4px,#07fff8 21.4px,#0016ff 22.4px,#0007ff 23.4px,#001eff 27.4px,#006aff 34.3px,#009fff 41.3px,#00fcff 59.2px,#7eff81 96px,#faff05 115.9px,#fff400 116.9px,#ff7d00 120.9px,#ff0700 126.9px,#fc0000 127.9px,#e60000 136.8px,#e60000 201.5px)"></i><i style="background:linear-gradient(90deg,#e60000 3.5px,#f40000 12.5px,#ff3000 13.4px,#ff7c00 14.4px,#fff500 17.4px,#f1ff0e 18.4px,#d8ff27 19.4px,#a6ff59 20.4px,#00c3ff 21.4px,#0019ff 22.4px,#002eff 27.4px,#0075ff 34.3px,#00aeff 42.3px,#0ff 59.2px,#5fa 82.1px,#7fff80 97px,#fff900 117.9px,#ff8600 120.9px,#ff0600 125.9px,#fb0000 126.9px,#e60000 133.8px,#e60000 201.5px)"></i><i style="background:linear-gradient(90deg,#e60000 3.5px,#f40000 12.5px,#ff1500 13.4px,#ff6200 14.4px,#fff000 17.4px,#f6ff09 18.4px,#b9ff46 20.4px,#59ffa6 21.4px,#000eff 22.4px,#0032ff 23.4px,#004aff 28.4px,#0083ff 34.3px,#00b7ff 42.3px,#00feff 58.2px,#80ff7f 97px,#faff05 116.9px,#fff200 117.9px,#ff8000 120.9px,#ff0300 125.9px,#fa0000 126.9px,#e60000 133.8px,#e60000 201.5px)"></i><i style="background:linear-gradient(90deg,#e60000 3.5px,#f40000 12.5px,#ff2c00 13.4px,#ff7900 14.4px,#ffa400 15.4px,#fff500 17.4px,#f3ff0c 18.4px,#bcff43 20.4px,#72ff8d 21.4px,#0009ff 22.4px,#0049ff 23.4px,#005dff 28.4px,#0091ff 34.3px,#00bcff 41.3px,#00feff 57.2px,#81ff7e 97px,#fcff03 116.9px,#ffe800 117.9px,#ff6b00 120.9px,#ff1200 123.9px,#fc0000 124.9px,#e50000 130.9px,#e60000 201.5px)"></i><i style="background:linear-gradient(90deg,#e60000 3.5px,#f40000 12.5px,#ff2300 13.4px,#ff6f00 14.4px,#ffca00 16.4px,#fff300 17.4px,#f4ff0b 18.4px,#bcff43 20.4px,#6cff93 21.4px,#000bff 22.4px,#004cff 23.4px,#005fff 28.4px,#0093ff 34.3px,#00bcff 41.3px,#00feff 57.2px,#80ff7f 97px,#fffe00 117.9px,#f70 120.9px,#f00 124.9px,#e50000 130.9px,#e60000 201.5px)"></i><i style="background:linear-gradient(90deg,#e60000 3.5px,#f40000 12.5px,#f30 13.4px,#ff7f00 14.4px,#fff600 17.4px,#f2ff0d 18.4px,#b7ff48 20.4px,#60ff9f 21.4px,#000cff 22.4px,#0048ff 23.4px,#005bff 28.4px,#0090ff 34.3px,#0bf 41.3px,#00feff 57.2px,#7fff80 96px,#fffe00 116.9px,#ff7300 120.9px,#fe0000 125.9px,#ea0000 129.9px,#e50000 133.8px,#e60000 201.5px)"></i><i style="background:linear-gradient(90deg,#e60000 3.5px,#f50000 12.5px,#ff8700 14.4px,#fff900 17.4px,#f0ff0f 18.4px,#b7ff48 20.4px,#69ff96 21.4px,#000aff 22.4px,#0032ff 23.4px,#004bff 28.4px,#0084ff 34.3px,#00b8ff 42.3px,#0ff 58.2px,#81ff7e 97px,#fcff03 116.9px,#ffed00 117.9px,#ff8400 120.9px,#fd0000 126.9px,#e60000 134.8px,#e60000 201.5px)"></i><i style="background:linear-gradient(90deg,#e70000 3.5px,#f40000 11.5px,#ff2400 12.5px,#ff7000 13.4px,#ffa000 14.4px,#ffed00 16.4px,#fcff03 17.4px,#d5ff2a 19.4px,#aeff51 20.4px,#5fa 21.4px,#000bff 22.4px,#0029ff 23.4px,#003cff 27.4px,#007eff 34.3px,#00aeff 41.3px,#00feff 58.2px,#7fff80 96px,#fbff04 115.9px,#fff500 116.9px,#ff7900 121.9px,#ff0400 128.9px,#fc0000 129.9px,#e60000 139.8px,#e60000 201.5px)"></i><i style="background:linear-gradient(90deg,#e60000 3.5px,#f50000 12.5px,#ff3800 13.4px,#ff8200 14.4px,#fff700 17.4px,#f0ff0f 18.4px,#d9ff26 19.4px,#aeff51 20.4px,#3affc5 21.4px,#0012ff 22.4px,#0af 41.3px,#00fcff 58.2px,#82ff7d 97px,#fdff02 116.9px,#ffea00 117.9px,#ff7d00 121.9px,#f00 128.9px,#e60000 138.8px,#e60000 201.5px)"></i><i style="background:linear-gradient(90deg,#e60000 3.5px,#f90000 12.5px,#ff8a00 14.4px,#fffa00 17.4px,#edff12 18.4px,#d6ff29 19.4px,#a6ff59 20.4px,#0ef 21.4px,#0016ff 22.4px,#002cff 27.4px,#0073ff 34.3px,#00a6ff 41.3px,#00feff 59.2px,#56ffa9 82.1px,#80ff7f 97px,#fcff03 116.9px,#fff000 117.9px,#ff7f00 121.9px,#f00 128.9px,#e60000 138.8px,#e60000 201.5px)"></i><i style="background:linear-gradient(90deg,#e60000 3.5px,#f50000 12.5px,#ff3600 13.4px,#ff8100 14.4px,#fff700 17.4px,#f0ff0f 18.4px,#d9ff26 19.4px,#adff52 20.4px,#34ffcb 21.4px,#0013ff 22.4px,#000bff 23.4px,#02f 27.4px,#006cff 34.3px,#00a1ff 41.3px,#00fdff 59.2px,#7fff80 96px,#feff01 115.9px,#ff7b00 120.9px,#fe0000 127.9px,#e60000 137.8px,#e60000 201.5px)"></i><i style="background:linear-gradient(90deg,#e60000 3.5px,#f40000 12.5px,#ff2100 13.4px,#ff6d00 14.4px,#ffc900 16.4px,#fff200 17.4px,#f5ff0a 18.4px,#bcff43 20.4px,#6eff91 21.4px,#000aff 22.4px,#0027ff 27.4px,#0070ff 34.3px,#00a4ff 41.3px,#00feff 59.2px,#53ffac 81.1px,#7eff81 96px,#ff0 116.9px,#ff7c00 121.9px,#ff0100 128.9px,#e60000 138.8px,#e60000 201.5px)"></i><i style="background:linear-gradient(90deg,#e60000 3.5px,#f40000 13.4px,#ff1c00 14.4px,#ff6a00 15.4px,#ffd700 17.4px,#fffe00 18.4px,#e4ff1b 19.4px,#bcff43 20.4px,#40ffbf 21.4px,#0016ff 22.4px,#002bff 23.4px,#003cff 27.4px,#007eff 34.3px,#00aeff 41.3px,#00fdff 58.2px,#80ff7f 97px,#fbff04 116.9px,#fff600 117.9px,#ff7900 122.9px,#ff0300 129.9px,#fc0000 130.9px,#e60000 140.8px,#e60000 201.5px)"></i><i style="background:linear-gradient(90deg,#e60000 3.5px,#f50000 13.4px,#ff8500 15.4px,#ffe300 17.4px,#fcff03 18.4px,#bfff40 20.4px,#5dffa2 21.4px,#000fff 22.4px,#0053ff 23.4px,#0063ff 28.4px,#0096ff 34.3px,#00bfff 41.3px,#00fbff 56.2px,#82ff7d 96px,#ff0 115.9px,#ff7e00 121.9px,#f00 130.9px,#e60000 142.8px,#e60000 201.5px)"></i><i style="background:linear-gradient(90deg,#e60000 3.5px,#f50000 13.4px,#ff8500 15.4px,#ffe300 17.4px,#fbff04 18.4px,#b9ff46 20.4px,#42ffbd 21.4px,#0014ff 22.4px,#0069ff 23.4px,#0074ff 28.4px,#00a2ff 34.3px,#0cf 42.3px,#0ff 56.2px,#36ffc9 70.2px,#81ff7e 96px,#fdff02 115.9px,#ffeb00 116.9px,#ff7800 120.9px,#ff0500 126.9px,#fc0000 127.9px,#e50000 136.8px,#e50000 201.5px)"></i><i style="background:linear-gradient(90deg,#e60000 3.5px,#f50000 12.5px,#ff8300 14.4px,#fff800 17.4px,#f0ff0f 18.4px,#daff25 19.4px,#b3ff4c 20.4px,#53ffac 21.4px,#000eff 22.4px,#0051ff 23.4px,#0062ff 28.4px,#0095ff 34.3px,#00beff 41.3px,#00faff 56.2px,#80ff7f 96px,#fbff04 115.9px,#fff600 116.9px,#ff8100 121.9px,#ff0600 129.9px,#fd0000 130.9px,#e50000 141.8px,#e60000 201.5px)"></i><i style="background:linear-gradient(90deg,#e60000 3.5px,#f40000 12.5px,#ff2400 13.4px,#ff7100 14.4px,#ffcb00 16.4px,#fff300 17.4px,#f3ff0c 18.4px,#daff25 19.4px,#abff54 20.4px,#00f4ff 21.4px,#0017ff 22.4px,#00acff 41.3px,#00fcff 58.2px,#7eff81 97px,#fdff02 117.9px,#ffe800 118.9px,#ff7000 122.9px,#ff0700 127.9px,#fc0000 128.9px,#e60000 136.8px,#e60000 201.5px)"></i><i style="background:linear-gradient(90deg,#e60000 3.5px,#f40000 12.5px,#ff3400 13.4px,#ff8000 14.4px,#fff600 17.4px,#efff10 18.4px,#d5ff2a 19.4px,#9eff61 20.4px,#003bff 21.4px,#0000fb 22.4px,#001fff 27.4px,#006aff 34.3px,#00a0ff 41.3px,#01fffe 60.2px,#82ff7d 97px,#feff01 116.9px,#ff7d00 121.9px,#ff0300 128.9px,#fc0000 129.9px,#e60000 139.8px,#e60000 201.5px)"></i><i style="background:linear-gradient(90deg,#e60000 3.5px,#f40000 12.5px,#ff3000 13.4px,#ff7d00 14.4px,#fff600 17.4px,#f3ff0c 18.4px,#c0ff3f 20.4px,#89ff76 21.4px,#0005ff 22.4px,#00f 23.4px,#009fff 41.3px,#02fffd 60.2px,#53ffac 81.1px,#7fff80 96px,#fdff02 115.9px,#ff7a00 120.9px,#fd0000 127.9px,#e60000 136.8px,#e60000 201.5px)"></i><i style="background:linear-gradient(90deg,#e60000 3.5px,#f40000 12.5px,#ff3000 13.4px,#ff7d00 14.4px,#fff600 17.4px,#f3ff0c 18.4px,#c0ff3f 20.4px,#89ff76 21.4px,#0005ff 22.4px,#00f 23.4px,#009fff 41.3px,#02fffd 60.2px,#53ffac 81.1px,#7fff80 96px,#fdff02 115.9px,#ff7a00 120.9px,#fd0000 127.9px,#e60000 136.8px,#e60000 201.5px)"></i><i style="background:linear-gradient(90deg,#e60000 3.5px,#f40000 12.5px,#ff3000 13.4px,#ff7d00 14.4px,#fff600 17.4px,#f3ff0c 18.4px,#c0ff3f 20.4px,#89ff76 21.4px,#0005ff 22.4px,#00f 23.4px,#009fff 41.3px,#02fffd 60.2px,#53ffac 81.1px,#7fff80 96px,#fdff02 115.9px,#ff7a00 120.9px,#fd0000 127.9px,#e60000 136.8px,#e60000 201.5px)"></i><i style="background:linear-gradient(90deg,#e60000 3.5px,#f40000 12.5px,#ff3000 13.4px,#ff7d00 14.4px,#fff600 17.4px,#f3ff0c 18.4px,#c0ff3f 20.4px,#89ff76 21.4px,#0005ff 22.4px,#00f 23.4px,#009fff 41.3px,#02fffd 60.2px,#53ffac 81.1px,#7fff80 96px,#fdff02 115.9px,#ff7a00 120.9px,#fd0000 127.9px,#e60000 136.8px,#e60000 201.5px)"></i></div><b class="f" style="left:99.5px;top:29.0px;width:79.6px"></b><b class="f" style="left:99.5px;top:88.0px;width:79.6px"></b><b class="v" style="left:178.4px"></b></div>
<span class="t xt" style="left:288.5px;top:131.0px">0</span><span class="t xt" style="left:328.3px;top:131.0px">20</span><span class="t xt" style="left:368.1px;top:131.0px">40</span><span class="t xt" style="left:407.9px;top:131.0px">60</span><span class="t xt" style="left:447.7px;top:131.0px">80</span><span class="t xt" style="left:487.5px;top:131.0px">100</span><span class="t yt" style="left:265.0px;top:121.8px">0</span><span class="t yt" style="left:265.0px;top:82.5px">20</span><span class="t yt" style="left:265.0px;top:43.1px">40</span><span class="t yt" style="left:265.0px;top:3.8px">60</span><span class="xl" style="left:388.0px;top:144.5px">x(m)</span><span class="yl" style="left:264.5px;top:66.5px">y(m)</span><span class="lg" style="left:351.4px;top:107.0px">Length=40 m</span>
<div class="p" style="left:31px;top:168.2px;width:199.5px;height:118.2px"><div class="h"><i style="background:linear-gradient(90deg,#e60000 3.5px,#f60000 12.5px,#f80 14.5px,#fff900 17.5px,#ef1 18.5px,#d7ff28 19.5px,#a8ff57 20.5px,#07fff8 21.5px,#0015ff 22.5px,#002fff 27.4px,#0076ff 34.4px,#00a8ff 41.4px,#00feff 59.4px,#56ffa9 83.3px,#7fff80 98.3px,#fbff04 119.2px,#fff200 120.2px,#ff7c00 124.2px,#ff0500 130.2px,#fc0000 131.2px,#e60000 139.2px,#e60000 202px)"></i><i style="background:linear-gradient(90deg,#e60000 3.5px,#f60000 12.5px,#f80 14.5px,#fff900 17.5px,#ef1 18.5px,#d7ff28 19.5px,#a8ff57 20.5px,#07fff8 21.5px,#0015ff 22.5px,#002fff 27.4px,#0076ff 34.4px,#00a8ff 41.4px,#00feff 59.4px,#56ffa9 83.3px,#7fff80 98.3px,#fbff04 119.2px,#fff200 120.2px,#ff7c00 124.2px,#ff0500 130.2px,#fc0000 131.2px,#e60000 139.2px,#e60000 202px)"></i><i style="background:linear-gradient(90deg,#e60000 3.5px,#f60000 12.5px,#f80 14.5px,#fff900 17.5px,#ef1 18.5px,#d7ff28 19.5px,#a8ff57 20.5px,#07fff8 21.5px,#0015ff 22.5px,#002fff 27.4px,#0076ff 34.4px,#00a8ff 41.4px,#00feff 59.4px,#56ffa9 83.3px,#7fff80 98.3px,#fbff04 119.2px,#fff200 120.2px,#ff7c00 124.2px,#ff0500 130.2px,#fc0000 131.2px,#e60000 139.2px,#e60000 202px)"></i><i style="background:linear-gradient(90deg,#e60000 3.5px,#f60000 12.5px,#f80 14.5px,#fff900 17.5px,#ef1 18.5px,#d7ff28 19.5px,#a8ff57 20.5px,#07fff8 21.5px,#0015ff 22.5px,#002fff 27.4px,#0076ff 34.4px,#00a8ff 41.4px,#00feff 59.4px,#56ffa9 83.3px,#7fff80 98.3px,#fbff04 119.2px,#fff200 120.2px,#ff7c00 124.2px,#ff0500 130.2px,#fc0000 131.2px,#e60000 139.2px,#e60000 202px)"></i><i style="background:linear-gradient(90deg,#e60000 3.5px,#f50000 12.5px,#ff8600 14.5px,#fff900 17.5px,#f0ff0f 18.5px,#b7ff48 20.5px,#67ff98 21.5px,#000aff 22.5px,#0000fe 23.4px,#001aff 27.4px,#06f 34.4px,#009dff 41.4px,#02fffd 61.4px,#52ffad 83.3px,#7eff81 99.3px,#feff01 121.2px,#ff7f00 125.2px,#f00 131.2px,#e60000 139.2px,#e60000 202px)"></i><i style="background:linear-gradient(90deg,#e80000 3.5px,#f50000 11.5px,#ff8600 13.5px,#fff500 16.5px,#f6ff09 17.5px,#d2ff2d 19.5px,#af5 20.5px,#53ffac 21.5px,#000aff 22.5px,#0000eb 23.4px,#000aff 27.4px,#005cff 34.4px,#009dff 42.4px,#00fbff 60.4px,#7dff82 98.3px,#fffd00 120.2px,#ff7600 125.2px,#ff0900 131.2px,#fd0000 132.2px,#e60000 141.2px,#e60000 202px)"></i><i style="background:linear-gradient(90deg,#e60000 3.5px,#f40000 12.5px,#ff2d00 13.5px,#ff7900 14.5px,#ffa500 15.5px,#fff500 17.5px,#f2ff0d 18.5px,#dcff23 19.5px,#b4ff4b 20.5px,#4fffb0 21.5px,#000fff 22.5px,#0000e2 23.4px,#0001ff 27.4px,#05f 34.4px,#0098ff 42.4px,#03fffc 62.4px,#53ffac 83.3px,#7dff82 98.3px,#fbff04 119.2px,#fff000 120.2px,#ff7900 124.2px,#ff0100 130.2px,#e60000 139.2px,#e60000 202px)"></i><i style="background:linear-gradient(90deg,#e70000 3.5px,#f40000 11.5px,#ff2b00 12.5px,#f70 13.5px,#ffa300 14.5px,#fff000 16.5px,#faff05 17.5px,#d6ff29 19.5px,#b3ff4c 20.5px,#74ff8b 21.5px,#0005ff 22.5px,#0000e7 23.4px,#000aff 27.4px,#005bff 34.4px,#009cff 42.4px,#00fbff 60.4px,#7fff80 98.3px,#fffe00 119.2px,#ff8300 123.2px,#ff0900 129.2px,#fd0000 130.2px,#e60000 138.2px,#e60000 202px)"></i><i style="background:linear-gradient(90deg,#e60000 3.5px,#f40000 12.5px,#ff2700 13.5px,#ff7400 14.5px,#fc0 16.5px,#fff400 17.5px,#f3ff0c 18.5px,#dcff23 19.5px,#b4ff4b 20.5px,#4affb5 21.5px,#0010ff 22.5px,#0004ff 23.4px,#001cff 27.4px,#0068ff 34.4px,#009eff 41.4px,#0ff 60.4px,#52ffad 82.3px,#80ff7f 98.3px,#fffe00 119.2px,#ff7800 124.2px,#fe0000 131.2px,#e60000 141.2px,#e60000 202px)"></i><i style="background:linear-gradient(90deg,#e60000 3.5px,#f50000 12.5px,#ff3500 13.5px,#ff8100 14.5px,#fff600 17.5px,#f0ff0f 18.5px,#d9ff26 19.5px,#acff53 20.5px,#2fffd0 21.5px,#0014ff 22.5px,#0013ff 23.4px,#0029ff 27.4px,#0071ff 34.4px,#00a5ff 41.4px,#00fdff 59.4px,#81ff7e 99.3px,#feff01 120.2px,#f80 123.2px,#f00 128.2px,#e60000 135.2px,#e60000 202px)"></i><i style="background:linear-gradient(90deg,#e60000 3.5px,#f30000 11.5px,#ff0200 12.5px,#ff8e00 14.5px,#fffc00 17.5px,#ecff13 18.5px,#d6ff29 19.5px,#a8ff57 20.5px,#17ffe8 21.5px,#0014ff 22.5px,#0013ff 23.4px,#0029ff 27.4px,#0071ff 34.4px,#00a5ff 41.4px,#00fdff 59.4px,#54ffab 82.3px,#7eff81 97.3px,#feff01 118.2px,#ff8700 122.2px,#ff0b00 128.2px,#fd0000 129.2px,#e60000 137.2px,#e60000 202px)"></i><i style="background:linear-gradient(90deg,#e60000 3.5px,#f40000 12.5px,#ff3000 13.5px,#ff7c00 14.5px,#fff500 17.5px,#f1ff0e 18.5px,#daff25 19.5px,#b0ff4f 20.5px,#3affc5 21.5px,#0012ff 22.5px,#002eff 27.4px,#0075ff 34.4px,#00a7ff 41.4px,#0ff 59.4px,#5fa 82.3px,#7fff80 97.3px,#fff900 118.2px,#ff8100 122.2px,#fd0000 129.2px,#e60000 138.2px,#e60000 202px)"></i><i style="background:linear-gradient(90deg,#e70000 3.5px,#f40000 11.5px,#f20 12.5px,#ff6e00 13.5px,#ff9f00 14.5px,#ffec00 16.5px,#fcff03 17.5px,#d4ff2b 19.5px,#a7ff58 20.5px,#37ffc8 21.5px,#0010ff 22.5px,#0020ff 23.4px,#0034ff 27.4px,#0079ff 34.4px,#0af 41.4px,#00fcff 58.4px,#7eff81 96.3px,#ff0 117.2px,#ff7d00 122.2px,#ff0500 129.2px,#fc0000 130.2px,#e60000 140.2px,#e60000 202px)"></i><i style="background:linear-gradient(90deg,#e70000 3.5px,#f40000 11.5px,#ff1f00 12.5px,#ff6b00 13.5px,#ff9d00 14.5px,#ffea00 16.5px,#fdff02 17.5px,#d3ff2c 19.5px,#a4ff5b 20.5px,#0bfff4 21.5px,#0013ff 22.5px,#0031ff 23.4px,#0041ff 27.4px,#0082ff 34.4px,#00b1ff 41.4px,#0ff 58.4px,#7fff80 96.3px,#fffc00 117.2px,#ff7f00 122.2px,#fe0000 130.2px,#e60000 141.2px,#e60000 202px)"></i><i style="background:linear-gradient(90deg,#e60000 3.5px,#f40000 12.5px,#ff1d00 13.5px,#ff6900 14.5px,#ffc800 16.5px,#fff200 17.5px,#f5ff0a 18.5px,#bcff43 20.5px,#6bff94 21.5px,#000bff 22.5px,#003dff 23.4px,#0053ff 28.4px,#008aff 34.4px,#00bcff 42.4px,#00fcff 57.4px,#7fff80 96.3px,#ff0 117.2px,#ff7f00 123.2px,#ff0200 132.2px,#e60000 145.1px,#e60000 202px)"></i><i style="background:linear-gradient(90deg,#e60000 3.5px,#f40000 12.5px,#ff1b00 13.5px,#ff6700 14.5px,#ffc700 16.5px,#fff100 17.5px,#f6ff09 18.5px,#c0ff3f 20.5px,#79ff86 21.5px,#0009ff 22.5px,#0037ff 23.4px,#004fff 28.4px,#0087ff 34.4px,#00baff 42.4px,#00fbff 57.4px,#80ff7f 96.3px,#fdff02 116.2px,#fe0 117.2px,#ff7800 122.2px,#fd0000 130.2px,#e60000 141.2px,#e60000 202px)"></i><i style="background:linear-gradient(90deg,#e60000 3.5px,#f40000 12.5px,#ff1900 13.5px,#f60 14.5px,#fff100 17.5px,#f6ff09 18.5px,#beff41 20.5px,#70ff8f 21.5px,#000aff 22.5px,#0027ff 23.4px,#003aff 27.4px,#007dff 34.4px,#00adff 41.4px,#00fdff 58.4px,#82ff7d 97.3px,#fdff02 117.2px,#ffec00 118.2px,#ff7600 123.2px,#ff0600 130.2px,#fd0000 131.2px,#e60000 142.2px,#e60000 202px)"></i><i style="background:linear-gradient(90deg,#e60000 3.5px,#f40000 12.5px,#ff2a00 13.5px,#f70 14.5px,#ffa300 15.5px,#fff400 17.5px,#f4ff0b 18.5px,#c1ff3e 20.5px,#8f7 21.5px,#0006ff 22.5px,#0074ff 34.4px,#00a6ff 41.4px,#0ff 59.4px,#53ffac 81.3px,#7eff81 96.3px,#fff900 117.2px,#ff7600 122.2px,#fe0000 129.2px,#e60000 139.2px,#e60000 202px)"></i><i style="background:linear-gradient(90deg,#e60000 3.5px,#f40000 12.5px,#ff1e00 13.5px,#ff6b00 14.5px,#ffc800 16.5px,#fff200 17.5px,#f6ff09 18.5px,#caff35 20.5px,#9bff64 21.5px,#0069ff 22.5px,#0005ff 23.4px,#006eff 34.4px,#00a3ff 41.4px,#00feff 59.4px,#81ff7e 96.3px,#fff800 116.2px,#ff8600 121.2px,#f00 130.2px,#e60000 142.2px,#e60000 202px)"></i><i style="background:linear-gradient(90deg,#e60000 3.5px,#f40000 12.5px,#ff0e00 13.5px,#ff5b00 14.5px,#ff9500 15.5px,#fe0 17.5px,#f9ff06 18.5px,#cdff32 20.5px,#9cff63 21.5px,#0067ff 22.5px,#000eff 23.4px,#0073ff 34.4px,#00a6ff 41.4px,#00fbff 58.4px,#7eff81 95.3px,#fbff04 115.2px,#fff300 116.2px,#ff7600 121.2px,#f00 128.2px,#e60000 138.2px,#e60000 202px)"></i><i style="background:linear-gradient(90deg,#e60000 3.5px,#fc0000 13.5px,#ff8c00 15.5px,#ffe700 17.5px,#fbff04 18.5px,#c7ff38 20.5px,#8dff72 21.5px,#0007ff 22.5px,#0025ff 23.4px,#0042ff 28.4px,#007eff 34.4px,#00b4ff 42.4px,#00feff 58.4px,#81ff7e 96.3px,#fffc00 116.2px,#ff8300 121.2px,#ff0300 129.2px,#fc0000 130.2px,#e60000 141.2px,#e60000 202px)"></i><i style="background:linear-gradient(90deg,#e60000 3.5px,#f60000 12.5px,#f80 14.5px,#fff900 17.5px,#f0ff0f 18.5px,#bdff42 20.5px,#87ff78 21.5px,#000cff 22.5px,#0028ff 23.4px,#0046ff 28.4px,#0081ff 34.4px,#00b5ff 42.4px,#0ff 58.4px,#81ff7e 96.3px,#ff0 116.2px,#ff7a00 121.2px,#fe0000 128.2px,#e60000 138.2px,#e60000 202px)"></i><i style="background:linear-gradient(90deg,#e60000 3.5px,#f40000 12.5px,#ff2800 13.5px,#ff7500 14.5px,#ffcd00 16.5px,#fff400 17.5px,#f4ff0b 18.5px,#c4ff3b 20.5px,#94ff6b 21.5px,#0021ff 22.5px,#0021ff 23.4px,#00adff 41.4px,#00feff 58.4px,#7fff80 95.3px,#fdff02 115.2px,#ffea00 116.2px,#ff7b00 120.2px,#fe0000 127.2px,#e60000 136.2px,#e60000 202px)"></i><i style="background:linear-gradient(90deg,#e60000 3.5px,#f40000 12.5px,#f20 13.5px,#ff6f00 14.5px,#ffca00 16.5px,#fff300 17.5px,#f5ff0a 18.5px,#c2ff3d 20.5px,#8aff75 21.5px,#0006ff 22.5px,#02f 23.4px,#0041ff 28.4px,#0091ff 37.4px,#00feff 58.4px,#7fff80 95.3px,#ff0 115.2px,#ff7800 120.2px,#fd0000 127.2px,#e60000 136.2px,#e60000 202px)"></i><i style="background:linear-gradient(90deg,#e70000 3.5px,#f40000 11.5px,#f10 12.5px,#ff5e00 13.5px,#ff9600 14.5px,#ffe400 16.5px,#ff0 17.5px,#ebff14 18.5px,#d6ff29 19.5px,#acff53 20.5px,#43ffbc 21.5px,#000fff 22.5px,#0030ff 23.4px,#0048ff 28.4px,#0082ff 34.4px,#00b6ff 42.4px,#00faff 57.4px,#7fff80 95.3px,#ff0 115.2px,#ff7900 120.2px,#fe0000 127.2px,#e60000 137.2px,#e60000 202px)"></i><i style="background:linear-gradient(90deg,#e70000 3.5px,#f40000 11.5px,#ff1300 12.5px,#ff6000 13.5px,#ff9700 14.5px,#ffe500 16.5px,#ff0 17.5px,#eaff15 18.5px,#d5ff2a 19.5px,#a8ff57 20.5px,#34ffcb 21.5px,#01f 22.5px,#003fff 23.4px,#0053ff 28.4px,#008aff 34.4px,#00bcff 42.4px,#00fdff 57.4px,#7fff80 95.3px,#fdff02 115.2px,#ffef00 116.2px,#ff7c00 121.2px,#ff0200 129.2px,#e50000 141.2px,#e60000 202px)"></i><i style="background:linear-gradient(90deg,#e60000 3.5px,#f40000 12.5px,#ff2d00 13.5px,#ff7a00 14.5px,#ffa500 15.5px,#fff500 17.5px,#f3ff0c 18.5px,#bf4 20.5px,#6fff90 21.5px,#000aff 22.5px,#0036ff 23.4px,#004fff 28.4px,#0087ff 34.4px,#00baff 42.4px,#00fbff 57.4px,#83ff7c 96.3px,#faff05 115.2px,#fff600 116.2px,#ff7400 121.2px,#fd0000 128.2px,#e60000 138.2px,#e60000 202px)"></i><i style="background:linear-gradient(90deg,#e60000 3.5px,#f50000 12.5px,#ff3500 13.5px,#ff8100 14.5px,#fff700 17.5px,#f1ff0e 18.5px,#dbff24 19.5px,#b5ff4a 20.5px,#57ffa8 21.5px,#000dff 22.5px,#0024ff 23.4px,#0037ff 27.4px,#007bff 34.4px,#00acff 41.4px,#00fdff 58.4px,#81ff7e 96.3px,#ff0 116.2px,#ff8b00 120.2px,#ff0200 127.2px,#e60000 137.2px,#e60000 202px)"></i><i style="background:linear-gradient(90deg,#e60000 3.5px,#f40000 12.5px,#ff0b00 13.5px,#ff5800 14.5px,#ff9300 15.5px,#ffed00 17.5px,#f8ff07 18.5px,#c0ff3f 20.5px,#74ff8b 21.5px,#000aff 22.5px,#00a7ff 41.4px,#00fcff 58.4px,#80ff7f 95.3px,#fbff04 114.2px,#fff500 115.2px,#ff7b00 120.2px,#fe0000 128.2px,#e60000 139.2px,#e60000 202px)"></i><i style="background:linear-gradient(90deg,#e60000 3.5px,#f40000 12.5px,#ff0a00 13.5px,#ff5700 14.5px,#ff9300 15.5px,#ffec00 17.5px,#f8ff07 18.5px,#beff41 20.5px,#67ff98 21.5px,#000dff 22.5px,#0027ff 27.4px,#0070ff 34.4px,#00a4ff 41.4px,#0ff 59.4px,#52ffad 80.3px,#7eff81 95.3px,#feff01 115.2px,#ff8600 120.2px,#ff0200 128.2px,#e60000 139.2px,#e60000 202px)"></i><i style="background:linear-gradient(90deg,#e60000 3.5px,#f40000 12.5px,#ff0a00 13.5px,#ff5600 14.5px,#ff9200 15.5px,#ffec00 17.5px,#f8ff07 18.5px,#beff41 20.5px,#68ff97 21.5px,#000cff 22.5px,#0028ff 27.4px,#0070ff 34.4px,#00a4ff 41.4px,#0ff 59.4px,#5fa 81.3px,#7eff81 95.3px,#fcff03 115.2px,#ffed00 116.2px,#ff7f00 120.2px,#ff3800 124.2px,#ff0e00 127.2px,#ff0100 130.2px,#e60000 142.2px,#e60000 202px)"></i><i style="background:linear-gradient(90deg,#e60000 3.5px,#f40000 12.5px,#ff0d00 13.5px,#ff5a00 14.5px,#ff9400 15.5px,#ffed00 17.5px,#f7ff08 18.5px,#baff45 20.5px,#57ffa8 21.5px,#000fff 22.5px,#0027ff 27.4px,#0070ff 34.4px,#00a4ff 41.4px,#0ff 59.4px,#52ffad 80.3px,#7fff80 95.3px,#ff0 115.2px,#ff9000 120.2px,#ff7600 127.2px,#ff5800 131.2px,#ff1900 136.2px,#fe0000 140.2px,#f50000 143.1px,#f50000 163.1px,#e60000 170.1px,#e60000 202px)"></i><i style="background:linear-gradient(90deg,#e60000 3.5px,#f40000 13.5px,#ff1f00 14.5px,#ff6e00 15.5px,#ffd800 17.5px,#fffd00 18.5px,#e7ff18 19.5px,#c8ff37 20.5px,#76ff89 21.5px,#000dff 22.5px,#0029ff 27.4px,#0071ff 34.4px,#00a5ff 41.4px,#0ff 59.4px,#52ffad 80.3px,#7eff81 95.3px,#faff05 115.2px,#ffdb00 118.2px,#ffc100 126.2px,#ff9500 131.2px,#ff2800 137.2px,#f00 141.2px,#f50000 143.1px,#f50000 183px,#e60000 184px,#e60000 202px)"></i><i style="background:linear-gradient(90deg,#e60000 3.5px,#f40000 12.5px,#ff0f00 13.5px,#ff5b00 14.5px,#ff9500 15.5px,#fe0 17.5px,#f8ff07 18.5px,#c8ff37 20.5px,#96ff69 21.5px,#001fff 22.5px,#000dff 23.4px,#00a5ff 41.4px,#00fbff 58.4px,#7eff81 95.3px,#b5ff4a 106.2px,#bfff40 119.2px,#e3ff1c 126.2px,#fffa00 129.2px,#ffcd00 132.2px,#f40 137.2px,#fa0000 142.2px,#f50000 183px,#e60000 184px,#e60000 202px)"></i><i style="background:linear-gradient(90deg,#e60000 3.5px,#fa0000 12.5px,#ff8a00 14.5px,#fffa00 17.5px,#edff12 18.5px,#d6ff29 19.5px,#a5ff5a 20.5px,#00daff 21.5px,#0017ff 22.5px,#0030ff 27.4px,#0076ff 34.4px,#00a8ff 41.4px,#00fdff 58.4px,#81ff7e 95.3px,#faff05 114.2px,#fff400 115.2px,#ffda00 117.2px,#ffbd00 126.2px,#ff9300 131.2px,#ff2700 137.2px,#f00 141.2px,#f50000 143.1px,#f50000 183px,#e60000 184px,#e60000 202px)"></i><i style="background:linear-gradient(90deg,#e60000 3.5px,#f40000 12.5px,#ff2f00 13.5px,#ff7c00 14.5px,#fff500 17.5px,#f1ff0e 18.5px,#d8ff27 19.5px,#a9ff56 20.5px,#00eaff 21.5px,#0017ff 22.5px,#0032ff 27.4px,#07f 34.4px,#00a9ff 41.4px,#00fdff 58.4px,#82ff7d 95.3px,#fdff02 114.2px,#ffef00 115.2px,#ff8b00 120.2px,#ff7300 127.2px,#ff5400 131.2px,#ff1800 136.2px,#fe0000 140.2px,#f50000 162.1px,#e60000 169.1px,#e60000 202px)"></i><i style="background:linear-gradient(90deg,#e60000 3.5px,#f30000 12.5px,#ff0200 13.5px,#ff8e00 15.5px,#ffe900 17.5px,#f9ff06 18.5px,#bf4 20.5px,#58ffa7 21.5px,#000fff 22.5px,#0027ff 23.4px,#0039ff 27.4px,#007dff 34.4px,#00adff 41.4px,#00feff 58.4px,#81ff7e 95.3px,#fbff04 114.2px,#fff400 115.2px,#ff7400 121.2px,#ff1300 128.2px,#ff0100 131.2px,#e60000 141.2px,#e60000 202px)"></i><i style="background:linear-gradient(90deg,#e60000 3.5px,#f40000 12.5px,#ff2100 13.5px,#ff6d00 14.5px,#ffc900 16.5px,#fff200 17.5px,#f4ff0b 18.5px,#b8ff47 20.5px,#59ffa6 21.5px,#000eff 22.5px,#002fff 23.4px,#0047ff 28.4px,#0081ff 34.4px,#00b6ff 42.4px,#00fbff 57.4px,#80ff7f 94.3px,#fcff03 113.2px,#fff000 114.2px,#ff7e00 119.2px,#fd0000 128.2px,#e60000 139.2px,#e60000 202px)"></i><i style="background:linear-gradient(90deg,#e60000 3.5px,#f40000 12.5px,#ff3200 13.5px,#ff7f00 14.5px,#fff600 17.5px,#f3ff0c 18.5px,#c0ff3f 20.5px,#8aff75 21.5px,#0008ff 22.5px,#0031ff 23.4px,#004dff 28.4px,#0086ff 34.4px,#00b9ff 42.4px,#00fcff 57.4px,#82ff7d 95.3px,#fcff03 114.2px,#fff100 115.2px,#ff8100 120.2px,#fe0000 129.2px,#e60000 141.2px,#e60000 202px)"></i><i style="background:linear-gradient(90deg,#e60000 3.5px,#f40000 12.5px,#ff1300 13.5px,#ff6000 14.5px,#ff9700 15.5px,#fff000 17.5px,#f5ff0a 18.5px,#dbff24 19.5px,#acff53 20.5px,#00e7ff 21.5px,#0019ff 22.5px,#003fff 23.4px,#0053ff 28.4px,#008aff 34.4px,#00bcff 42.4px,#00fdff 57.4px,#80ff7f 95.3px,#fffd00 115.2px,#ff7f00 120.2px,#fe0000 128.2px,#e50000 139.2px,#e60000 202px)"></i><i style="background:linear-gradient(90deg,#e60000 3.5px,#f50000 12.5px,#ff8600 14.5px,#fff900 17.5px,#f0ff0f 18.5px,#daff25 19.5px,#b5ff4a 20.5px,#5bffa4 21.5px,#000cff 22.5px,#05f 23.4px,#0065ff 28.4px,#0098ff 34.4px,#00c0ff 41.4px,#00fcff 56.4px,#81ff7e 95.3px,#fffd00 115.2px,#ff8300 120.2px,#ff0200 128.2px,#e60000 139.2px,#e50000 202px)"></i><i style="background:linear-gradient(90deg,#e60000 3.5px,#f40000 12.5px,#ff2e00 13.5px,#ff7a00 14.5px,#ffa500 15.5px,#fff500 17.5px,#f2ff0d 18.5px,#b6ff49 20.5px,#57ffa8 21.5px,#000dff 22.5px,#006cff 23.4px,#07f 28.4px,#00a5ff 34.4px,#00ceff 42.4px,#00fbff 55.4px,#81ff7e 95.3px,#fffb00 115.2px,#f70 120.2px,#fd0000 127.2px,#e50000 137.2px,#e50000 202px)"></i><i style="background:linear-gradient(90deg,#e70000 3.5px,#f40000 11.5px,#ff1600 12.5px,#ff6300 13.5px,#f90 14.5px,#ffe700 16.5px,#feff01 17.5px,#d5ff2a 19.5px,#acff53 20.5px,#4fb 21.5px,#000eff 22.5px,#006cff 23.4px,#07f 28.4px,#00a5ff 34.4px,#00ceff 42.4px,#00fbff 55.4px,#82ff7d 95.3px,#fffa00 115.2px,#ff7e00 120.2px,#fe0000 128.2px,#e50000 139.2px,#e50000 202px)"></i><i style="background:linear-gradient(90deg,#e60000 3.5px,#f30000 11.5px,#ff0400 12.5px,#ff8f00 14.5px,#fffc00 17.5px,#ecff13 18.5px,#d5ff2a 19.5px,#a3ff5c 20.5px,#00d3ff 21.5px,#0017ff 22.5px,#0052ff 23.4px,#0062ff 28.4px,#0095ff 34.4px,#00c3ff 42.4px,#00fbff 56.4px,#7fff80 95.3px,#fcff03 115.2px,#fff100 116.2px,#ff8300 120.2px,#ff0400 127.2px,#fc0000 128.2px,#e60000 137.2px,#e60000 202px)"></i><i style="background:linear-gradient(90deg,#e70000 3.5px,#f40000 11.5px,#ff0700 12.5px,#ff9000 14.5px,#fffc00 17.5px,#edff12 18.5px,#d8ff27 19.5px,#b2ff4d 20.5px,#5affa5 21.5px,#000bff 22.5px,#0028ff 23.4px,#003bff 27.4px,#007eff 34.4px,#00aeff 41.4px,#00feff 58.4px,#7fff80 95.3px,#feff01 115.2px,#ff8400 120.2px,#fe0000 128.2px,#e60000 139.2px,#e60000 202px)"></i><i style="background:linear-gradient(90deg,#e80000 3.5px,#f60000 11.5px,#f80 13.5px,#fff600 16.5px,#f5ff0a 17.5px,#d3ff2c 19.5px,#afff50 20.5px,#6fff90 21.5px,#0007ff 22.5px,#00a5ff 41.4px,#00fbff 58.4px,#7fff80 95.3px,#feff01 115.2px,#ff8a00 119.2px,#f00 126.2px,#e60000 135.2px,#e60000 202px)"></i><i style="background:linear-gradient(90deg,#e90000 3.5px,#f40000 10.5px,#ff1c00 11.5px,#ff6900 12.5px,#ffeb00 15.5px,#ff0 16.5px,#ef1 17.5px,#c5ff3a 19.5px,#9eff61 20.5px,#3fc 21.5px,#000dff 22.5px,#002bff 27.4px,#0072ff 34.4px,#00a6ff 41.4px,#00fbff 58.4px,#7eff81 95.3px,#fcff03 115.2px,#ffef00 116.2px,#f70 121.2px,#ff0500 128.2px,#fd0000 129.2px,#e60000 139.2px,#e60000 202px)"></i><i style="background:linear-gradient(90deg,#e90000 3.5px,#f40000 10.5px,#ff2500 11.5px,#ff7100 12.5px,#ffa000 13.5px,#ffef00 15.5px,#fdff02 16.5px,#ceff31 19.5px,#8f7 21.5px,#0089ff 22.5px,#0018ff 23.4px,#00abff 41.4px,#00fdff 58.4px,#80ff7f 95.3px,#faff05 114.2px,#fff600 115.2px,#ff7f00 119.2px,#ff0900 125.2px,#fd0000 126.2px,#e60000 135.2px,#e60000 202px)"></i><i style="background:linear-gradient(90deg,#e90000 3.5px,#f40000 10.5px,#f20 11.5px,#ff6f00 12.5px,#ff9f00 13.5px,#fe0 15.5px,#feff01 16.5px,#c5ff3a 19.5px,#9fff60 20.5px,#3affc5 21.5px,#000cff 22.5px,#0029ff 23.4px,#003bff 27.4px,#007eff 34.4px,#00aeff 41.4px,#00feff 58.4px,#7eff81 95.3px,#fbff04 115.2px,#fff400 116.2px,#ff7300 121.2px,#fd0000 128.2px,#e60000 138.2px,#e60000 202px)"></i><i style="background:linear-gradient(90deg,#e80000 3.5px,#f50000 11.5px,#ff8500 13.5px,#fff400 16.5px,#f7ff08 17.5px,#d1ff2e 19.5px,#a6ff59 20.5px,#3fffc0 21.5px,#000dff 22.5px,#002dff 23.4px,#0046ff 28.4px,#0080ff 34.4px,#00b5ff 42.4px,#00faff 57.4px,#7fff80 95.3px,#fdff02 115.2px,#ffeb00 116.2px,#ff7500 120.2px,#fe0000 126.2px,#e60000 135.2px,#e60000 202px)"></i><i style="background:linear-gradient(90deg,#e90000 3.5px,#f40000 10.5px,#ff1800 11.5px,#ff6500 12.5px,#ff9a00 13.5px,#ffe900 15.5px,#fffe00 16.5px,#efff10 17.5px,#c5ff3a 19.5px,#9cff63 20.5px,#1fffe0 21.5px,#000fff 22.5px,#002fff 23.4px,#0047ff 28.4px,#0082ff 34.4px,#00b6ff 42.4px,#00faff 57.4px,#80ff7f 95.3px,#fffa00 115.2px,#ff7e00 119.2px,#ff0500 125.2px,#fc0000 126.2px,#e60000 134.2px,#e60000 202px)"></i><i style="background:linear-gradient(90deg,#e80000 3.5px,#f40000 10.5px,#ff0700 11.5px,#ff9000 13.5px,#ffe000 15.5px,#fff900 16.5px,#f2ff0d 17.5px,#c7ff38 19.5px,#9bff64 20.5px,#00e8ff 21.5px,#0012ff 22.5px,#03f 23.4px,#004aff 28.4px,#0083ff 34.4px,#00b7ff 42.4px,#00fbff 57.4px,#82ff7d 95.3px,#fdff02 114.2px,#ffed00 115.2px,#ff8000 119.2px,#ff0400 126.2px,#fc0000 127.2px,#e60000 136.2px,#e60000 202px)"></i><i style="background:linear-gradient(90deg,#e90000 3.5px,#f40000 10.5px,#ff1b00 11.5px,#ff6800 12.5px,#ffeb00 15.5px,#fffe00 16.5px,#ef1 17.5px,#b9ff46 19.5px,#72ff8d 20.5px,#0006ff 21.5px,#002aff 23.4px,#003aff 27.4px,#007dff 34.4px,#00adff 41.4px,#0ff 58.4px,#80ff7f 95.3px,#faff05 114.2px,#fff700 115.2px,#ff8600 119.2px,#ff0200 126.2px,#e60000 136.2px,#e60000 202px)"></i><i style="background:linear-gradient(90deg,#e80000 3.5px,#fd0000 11.5px,#ff8c00 13.5px,#ffdb00 15.5px,#fff700 16.5px,#f4ff0b 17.5px,#c9ff36 19.5px,#9bff64 20.5px,#00d5ff 21.5px,#0013ff 22.5px,#002aff 27.4px,#0072ff 34.4px,#00a5ff 41.4px,#00fbff 58.4px,#7fff80 95.3px,#feff01 115.2px,#f70 121.2px,#fe0000 129.2px,#e60000 140.2px,#e60000 202px)"></i><i style="background:linear-gradient(90deg,#e70000 3.5px,#f40000 11.5px,#f30 12.5px,#ff8000 13.5px,#fff200 16.5px,#f9ff06 17.5px,#d2ff2d 19.5px,#a5ff5a 20.5px,#37ffc8 21.5px,#000fff 22.5px,#0027ff 27.4px,#0070ff 34.4px,#00a4ff 41.4px,#0ff 59.4px,#53ffac 80.3px,#80ff7f 95.3px,#fbff04 114.2px,#fff300 115.2px,#ff7c00 120.2px,#f00 128.2px,#e60000 139.2px,#e60000 202px)"></i><i style="background:linear-gradient(90deg,#e80000 3.5px,#fc0000 11.5px,#ff8b00 13.5px,#ffdb00 15.5px,#fff700 16.5px,#f4ff0b 17.5px,#cdff32 19.5px,#a3ff5c 20.5px,#38ffc7 21.5px,#000eff 22.5px,#0021ff 23.4px,#0034ff 27.4px,#0079ff 34.4px,#0af 41.4px,#00fdff 58.4px,#80ff7f 95.3px,#fff900 115.2px,#ff8000 120.2px,#ff0200 128.2px,#e60000 139.2px,#e60000 202px)"></i><i style="background:linear-gradient(90deg,#e70000 3.5px,#f40000 11.5px,#ff3400 12.5px,#ff8000 13.5px,#fff200 16.5px,#f9ff06 17.5px,#cfff30 19.5px,#a0ff5f 20.5px,#00f4ff 21.5px,#0013ff 22.5px,#003fff 23.4px,#0053ff 28.4px,#008aff 34.4px,#00bcff 42.4px,#00fdff 57.4px,#7fff80 95.3px,#fdff02 115.2px,#ffed00 116.2px,#f70 121.2px,#fd0000 129.2px,#e50000 140.2px,#e60000 202px)"></i><i style="background:linear-gradient(90deg,#e70000 3.5px,#f40000 11.5px,#ff2c00 12.5px,#ff7900 13.5px,#ffa400 14.5px,#fff000 16.5px,#faff05 17.5px,#d2ff2d 19.5px,#a5ff5a 20.5px,#32ffcd 21.5px,#0010ff 22.5px,#004aff 23.4px,#005cff 28.4px,#0091ff 34.4px,#0bf 41.4px,#00feff 57.4px,#83ff7c 96.3px,#fff800 116.2px,#ff8100 120.2px,#fd0000 127.2px,#e50000 136.2px,#e60000 202px)"></i><i style="background:linear-gradient(90deg,#e80000 3.5px,#f50000 11.5px,#ff3600 12.5px,#ff8100 13.5px,#fff200 16.5px,#f8ff07 17.5px,#cf3 19.5px,#9bff64 20.5px,#00a4ff 21.5px,#0017ff 22.5px,#0037ff 23.4px,#0045ff 27.4px,#0085ff 34.4px,#00b3ff 41.4px,#00faff 57.4px,#80ff7f 96.3px,#fcff03 116.2px,#fff100 117.2px,#ff7900 122.2px,#fd0000 130.2px,#e60000 141.2px,#e60000 202px)"></i><i style="background:linear-gradient(90deg,#e70000 3.5px,#f40000 11.5px,#ff3200 12.5px,#ff7e00 13.5px,#fff100 16.5px,#f9ff06 17.5px,#d0ff2f 19.5px,#a1ff5e 20.5px,#01fffe 21.5px,#0013ff 22.5px,#002fff 27.4px,#0075ff 34.4px,#00a8ff 41.4px,#00faff 58.4px,#80ff7f 97.3px,#fcff03 117.2px,#fe0 118.2px,#ff7a00 122.2px,#ff0600 128.2px,#fc0000 129.2px,#e60000 138.2px,#e60000 202px)"></i><i style="background:linear-gradient(90deg,#e70000 3.5px,#f40000 11.5px,#ff2100 12.5px,#ff6d00 13.5px,#ff9e00 14.5px,#ffeb00 16.5px,#fcff03 17.5px,#d4ff2b 19.5px,#a9ff56 20.5px,#3dffc2 21.5px,#000fff 22.5px,#0026ff 27.4px,#006fff 34.4px,#00a3ff 41.4px,#00feff 59.4px,#54ffab 81.3px,#7fff80 96.3px,#fcff03 116.2px,#ffef00 117.2px,#ff7800 122.2px,#ff0700 129.2px,#fd0000 130.2px,#e60000 141.2px,#e60000 202px)"></i><i style="background:linear-gradient(90deg,#e90000 3.5px,#f50000 10.5px,#ff3600 11.5px,#ff8100 12.5px,#fff400 15.5px,#f9ff06 16.5px,#d9ff26 18.5px,#a0ff5f 20.5px,#49ffb6 21.5px,#0008ff 22.5px,#0024ff 27.4px,#006eff 34.4px,#00a3ff 41.4px,#00fdff 59.4px,#7eff81 97.3px,#fffe00 118.2px,#ff8300 122.2px,#ff0900 128.2px,#fd0000 129.2px,#e60000 137.2px,#e60000 202px)"></i><i style="background:linear-gradient(90deg,#e70000 3.5px,#f40000 11.5px,#ff0c00 12.5px,#ff5800 13.5px,#ff9300 14.5px,#fffd00 17.5px,#ebff14 18.5px,#d5ff2a 19.5px,#a7ff58 20.5px,#24ffdb 21.5px,#0013ff 22.5px,#0029ff 27.4px,#0071ff 34.4px,#00a5ff 41.4px,#00feff 59.4px,#53ffac 81.3px,#7eff81 96.3px,#faff05 116.2px,#fff600 117.2px,#ff7800 122.2px,#ff0100 129.2px,#e60000 140.2px,#e60000 202px)"></i><i style="background:linear-gradient(90deg,#e60000 3.5px,#f70000 12.5px,#f80 14.5px,#fff900 17.5px,#ef1 18.5px,#d7ff28 19.5px,#abff54 20.5px,#2effd1 21.5px,#0013ff 22.5px,#03f 27.4px,#0078ff 34.4px,#0af 41.4px,#00fcff 58.4px,#7fff80 96.3px,#fbff04 116.2px,#fff600 117.2px,#ff7a00 122.2px,#ff0600 129.2px,#fd0000 130.2px,#e60000 140.2px,#e60000 202px)"></i><i style="background:linear-gradient(90deg,#e80000 3.5px,#f50000 11.5px,#ff3700 12.5px,#ff8200 13.5px,#fff300 16.5px,#f8ff07 17.5px,#c7ff38 19.5px,#93ff6c 20.5px,#0039ff 21.5px,#001bff 22.5px,#002fff 23.4px,#003fff 27.4px,#0081ff 34.4px,#00b0ff 41.4px,#00feff 58.4px,#81ff7e 97.3px,#fcff03 117.2px,#fe0 118.2px,#ff7f00 122.2px,#ff0100 129.2px,#e60000 139.2px,#e60000 202px)"></i><i style="background:linear-gradient(90deg,#e80000 3.5px,#fe0000 11.5px,#ff8c00 13.5px,#ffdc00 15.5px,#fff800 16.5px,#f4ff0b 17.5px,#c1ff3e 19.5px,#86ff79 20.5px,#001dff 21.5px,#001cff 22.5px,#0031ff 23.4px,#0041ff 27.4px,#0082ff 34.4px,#00b0ff 41.4px,#0ff 58.4px,#5fa 81.3px,#7fff80 96.3px,#fbff04 116.2px,#fff400 117.2px,#ff8100 122.2px,#fe0000 131.2px,#e60000 142.2px,#e60000 202px)"></i><i style="background:linear-gradient(90deg,#e70000 3.5px,#f40000 11.5px,#f30 12.5px,#ff8000 13.5px,#fff200 16.5px,#f9ff06 17.5px,#ceff31 19.5px,#9fff60 20.5px,#00dfff 21.5px,#0014ff 22.5px,#002dff 23.4px,#003eff 27.4px,#0080ff 34.4px,#00afff 41.4px,#00feff 58.4px,#7fff80 96.3px,#fbff04 116.2px,#fff400 117.2px,#ff7600 122.2px,#f00 129.2px,#e60000 139.2px,#e60000 202px)"></i><i style="background:linear-gradient(90deg,#e70000 3.5px,#f40000 11.5px,#f10 12.5px,#ff5e00 13.5px,#ff9600 14.5px,#ffe400 16.5px,#ff0 17.5px,#eaff15 18.5px,#d4ff2b 19.5px,#a6ff59 20.5px,#14ffeb 21.5px,#0013ff 22.5px,#002cff 23.4px,#003dff 27.4px,#007fff 34.4px,#00afff 41.4px,#00fdff 58.4px,#82ff7d 97.3px,#feff01 117.2px,#ff7900 122.2px,#ff0900 128.2px,#fd0000 129.2px,#e60000 138.2px,#e60000 202px)"></i><i style="background:linear-gradient(90deg,#e70000 3.5px,#f40000 11.5px,#ff0800 12.5px,#f50 13.5px,#ff9100 14.5px,#fffd00 17.5px,#eaff15 18.5px,#d2ff2d 19.5px,#9f6 20.5px,#0037ff 21.5px,#001eff 22.5px,#0041ff 23.4px,#0054ff 28.4px,#008bff 34.4px,#00bcff 42.4px,#00fcff 57.4px,#81ff7e 96.3px,#feff01 116.2px,#ff7900 121.2px,#fd0000 128.2px,#e60000 137.2px,#e60000 202px)"></i><i style="background:linear-gradient(90deg,#e80000 3.5px,#fd0000 11.5px,#ff8c00 13.5px,#ffdb00 15.5px,#fff700 16.5px,#f4ff0b 17.5px,#c6ff39 19.5px,#98ff67 20.5px,#009cff 21.5px,#0016ff 22.5px,#004cff 23.4px,#005dff 28.4px,#0091ff 34.4px,#00bcff 41.4px,#00feff 57.4px,#7fff80 96.3px,#fffc00 117.2px,#ff7400 122.2px,#ff0600 128.2px,#fc0000 129.2px,#e50000 138.2px,#e60000 202px)"></i><i style="background:linear-gradient(90deg,#e70000 3.5px,#f40000 11.5px,#ff0d00 12.5px,#ff5900 13.5px,#ff9400 14.5px,#ffe300 16.5px,#fffe00 17.5px,#eaff15 18.5px,#d4ff2b 19.5px,#a2ff5d 20.5px,#00d4ff 21.5px,#0016ff 22.5px,#0042ff 23.4px,#05f 28.4px,#008cff 34.4px,#00bdff 42.4px,#00fcff 57.4px,#7fff80 96.3px,#fbff04 116.2px,#fff400 117.2px,#ff7a00 121.2px,#f00 127.2px,#e50000 136.2px,#e60000 202px)"></i><i style="background:linear-gradient(90deg,#e70000 3.5px,#f40000 11.5px,#ff0c00 12.5px,#ff5800 13.5px,#ff9300 14.5px,#fffd00 17.5px,#ebff14 18.5px,#d5ff2a 19.5px,#a8ff57 20.5px,#26ffd9 21.5px,#0013ff 22.5px,#0027ff 23.4px,#0039ff 27.4px,#007cff 34.4px,#00adff 41.4px,#00fdff 58.4px,#80ff7f 96.3px,#feff01 116.2px,#ff7b00 121.2px,#fe0000 128.2px,#e60000 138.2px,#e60000 202px)"></i><i style="background:linear-gradient(90deg,#e60000 3.5px,#f40000 12.5px,#ff2400 13.5px,#ff7000 14.5px,#ffcb00 16.5px,#fff300 17.5px,#f4ff0b 18.5px,#b8ff47 20.5px,#5affa5 21.5px,#000dff 22.5px,#0023ff 23.4px,#0036ff 27.4px,#007bff 34.4px,#00abff 41.4px,#00feff 58.4px,#80ff7f 95.3px,#faff05 114.2px,#fff600 115.2px,#ff8400 120.2px,#fe0000 129.2px,#e60000 141.2px,#e60000 202px)"></i><i style="background:linear-gradient(90deg,#e70000 3.5px,#f40000 11.5px,#ff1b00 12.5px,#ff6700 13.5px,#ff9b00 14.5px,#ffe800 16.5px,#feff01 17.5px,#d5ff2a 19.5px,#af5 20.5px,#3effc1 21.5px,#000fff 22.5px,#0031ff 23.4px,#0048ff 28.4px,#0082ff 34.4px,#00b7ff 42.4px,#0ff 58.4px,#7fff80 96.3px,#fffc00 117.2px,#ff7400 122.2px,#ff0500 128.2px,#fc0000 129.2px,#e60000 138.2px,#e60000 202px)"></i><i style="background:linear-gradient(90deg,#e60000 3.5px,#f50000 12.5px,#ff8400 14.5px,#fff800 17.5px,#f0ff0f 18.5px,#d9ff26 19.5px,#aeff51 20.5px,#38ffc7 21.5px,#0012ff 22.5px,#0037ff 23.4px,#004dff 28.4px,#0086ff 34.4px,#00b9ff 42.4px,#00fbff 57.4px,#7fff80 95.3px,#fcff03 115.2px,#fff400 116.2px,#ff7500 122.2px,#ff0300 130.2px,#fd0000 131.2px,#e60000 143.1px,#e60000 202px)"></i><i style="background:linear-gradient(90deg,#e70000 3.5px,#f40000 11.5px,#ff1300 12.5px,#ff6000 13.5px,#ff9700 14.5px,#ffe500 16.5px,#ff0 17.5px,#ebff14 18.5px,#d7ff28 19.5px,#b0ff4f 20.5px,#58ffa7 21.5px,#000bff 22.5px,#0029ff 23.4px,#003cff 27.4px,#007eff 34.4px,#00aeff 41.4px,#00feff 58.4px,#7fff80 96.3px,#fbff04 116.2px,#fff500 117.2px,#ff8600 121.2px,#ff0500 128.2px,#fc0000 129.2px,#e60000 138.2px,#e60000 202px)"></i><i style="background:linear-gradient(90deg,#e70000 3.5px,#f40000 11.5px,#ff0c00 12.5px,#ff5900 13.5px,#ff9300 14.5px,#ffe200 16.5px,#fffe00 17.5px,#ecff13 18.5px,#b7ff48 20.5px,#76ff89 21.5px,#0006ff 22.5px,#0023ff 23.4px,#0042ff 28.4px,#0084ff 35.4px,#00b3ff 42.4px,#00feff 58.4px,#7eff81 95.3px,#fbff04 115.2px,#fff300 116.2px,#ff7a00 121.2px,#fd0000 129.2px,#e60000 140.2px,#e60000 202px)"></i><i style="background:linear-gradient(90deg,#e60000 3.5px,#fe0000 12.5px,#ff8c00 14.5px,#fffb00 17.5px,#ef1 18.5px,#d9ff26 19.5px,#b5ff4a 20.5px,#62ff9d 21.5px,#000aff 22.5px,#001dff 23.4px,#03f 27.4px,#0078ff 34.4px,#0af 41.4px,#00fcff 58.4px,#7eff81 95.3px,#fcff03 115.2px,#fff200 116.2px,#ff7a00 121.2px,#fe0000 129.2px,#e60000 140.2px,#e60000 202px)"></i><i style="background:linear-gradient(90deg,#e60000 3.5px,#f40000 12.5px,#ff2c00 13.5px,#ff7800 14.5px,#ffa400 15.5px,#fff500 17.5px,#f3ff0c 18.5px,#b6ff49 20.5px,#56ffa9 21.5px,#000eff 22.5px,#0029ff 27.4px,#0071ff 34.4px,#00a5ff 41.4px,#00feff 59.4px,#5fa 82.3px,#7fff80 97.3px,#fff800 118.2px,#ff8200 122.2px,#fe0000 129.2px,#e60000 138.2px,#e60000 202px)"></i><i style="background:linear-gradient(90deg,#e60000 3.5px,#f40000 12.5px,#ff2300 13.5px,#ff6f00 14.5px,#ffca00 16.5px,#fff300 17.5px,#f4ff0b 18.5px,#dcff23 19.5px,#b4ff4b 20.5px,#46ffb9 21.5px,#01f 22.5px,#0008ff 23.4px,#0020ff 27.4px,#006bff 34.4px,#00a0ff 41.4px,#00fdff 59.4px,#82ff7d 96.3px,#faff05 115.2px,#fff500 116.2px,#ff7600 121.2px,#fe0000 128.2px,#e60000 138.2px,#e60000 202px)"></i><i style="background:linear-gradient(90deg,#e70000 3.5px,#f40000 11.5px,#ff2000 12.5px,#ff6c00 13.5px,#ff9d00 14.5px,#ffeb00 16.5px,#fdff02 17.5px,#d2ff2d 19.5px,#a2ff5d 20.5px,#00f8ff 21.5px,#0014ff 22.5px,#000aff 23.4px,#0021ff 27.4px,#006cff 34.4px,#00a1ff 41.4px,#00fcff 59.4px,#81ff7e 97.3px,#fdff02 117.2px,#fe0 118.2px,#ff7600 123.2px,#ff0400 130.2px,#fc0000 131.2px,#e60000 141.2px,#e60000 202px)"></i><i style="background:linear-gradient(90deg,#e70000 3.5px,#f40000 11.5px,#ff2100 12.5px,#ff6e00 13.5px,#ff9e00 14.5px,#ffec00 16.5px,#fcff03 17.5px,#d4ff2b 19.5px,#abff54 20.5px,#46ffb9 21.5px,#000dff 22.5px,#002dff 27.4px,#0074ff 34.4px,#00a7ff 41.4px,#00fbff 58.4px,#7fff80 96.3px,#fcff03 116.2px,#fff100 117.2px,#f70 122.2px,#ff0400 129.2px,#fc0000 130.2px,#e60000 140.2px,#e60000 182.1px,#ffa000 183px,#ff5600 184px,#e60000 185px,#e60000 202px)"></i><i style="background:linear-gradient(90deg,#e70000 3.5px,#f40000 11.5px,#ff1200 12.5px,#ff5f00 13.5px,#ff9600 14.5px,#ffe500 16.5px,#ff0 17.5px,#eaff15 18.5px,#d4ff2b 19.5px,#a6ff59 20.5px,#1effe1 21.5px,#0013ff 22.5px,#0030ff 23.4px,#0040ff 27.4px,#0081ff 34.4px,#00b0ff 41.4px,#0ff 58.4px,#5fa 81.3px,#80ff7f 96.3px,#fcff03 116.2px,#fff000 117.2px,#ff7800 122.2px,#ff0700 129.2px,#fd0000 130.2px,#e60000 140.2px,#e60000 182.1px,#ff7100 183px,#ff3400 184px,#e60000 185px,#e60000 202px)"></i><i style="background:linear-gradient(90deg,#e60000 3.5px,#f40000 12.5px,#ff2300 13.5px,#ff7000 14.5px,#ffcb00 16.5px,#fff300 17.5px,#f3ff0c 18.5px,#dbff24 19.5px,#b1ff4e 20.5px,#3cffc3 21.5px,#0012ff 22.5px,#0035ff 23.4px,#004bff 28.4px,#0084ff 34.4px,#00b8ff 42.4px,#00faff 57.4px,#80ff7f 96.3px,#feff01 116.2px,#ff7600 122.2px,#ff0700 129.2px,#fd0000 130.2px,#e60000 141.2px,#e60000 183px,#ff8b00 184px,#e60000 185px,#e60000 202px)"></i><i style="background:linear-gradient(90deg,#e60000 3.5px,#f30000 11.5px,#ff0500 12.5px,#ff8f00 14.5px,#fffc00 17.5px,#ecff13 18.5px,#d5ff2a 19.5px,#a4ff5b 20.5px,#00deff 21.5px,#0016ff 22.5px,#003eff 23.4px,#0052ff 28.4px,#008aff 34.4px,#0bf 42.4px,#00fcff 57.4px,#80ff7f 96.3px,#fcff03 116.2px,#fff000 117.2px,#f80 121.2px,#fe0000 129.2px,#e60000 139.2px,#e60000 183px,#ffb000 184px,#e50000 185px,#e60000 202px)"></i><i style="background:linear-gradient(90deg,#e60000 3.5px,#f30000 12.5px,#ff0500 13.5px,#ff9000 15.5px,#ffea00 17.5px,#f9ff06 18.5px,#c1ff3e 20.5px,#75ff8a 21.5px,#000aff 22.5px,#0052ff 23.4px,#0063ff 28.4px,#0096ff 34.4px,#00bfff 41.4px,#00fbff 56.4px,#7fff80 95.3px,#fcff03 115.2px,#fff400 116.2px,#ff8200 121.2px,#fe0000 130.2px,#e50000 142.2px,#e60000 182.1px,#ff6800 183px,#e50000 184px,#e60000 202px)"></i><i style="background:linear-gradient(90deg,#e70000 3.5px,#f40000 11.5px,#ff2b00 12.5px,#ff7800 13.5px,#ffa400 14.5px,#fff000 16.5px,#faff05 17.5px,#d2ff2d 19.5px,#a5ff5a 20.5px,#3fc 21.5px,#0010ff 22.5px,#0061ff 23.4px,#006eff 28.4px,#009eff 34.4px,#00c9ff 42.4px,#00fdff 56.4px,#80ff7f 96.3px,#fbff04 116.2px,#fff400 117.2px,#ff7d00 121.2px,#ff0900 127.2px,#fd0000 128.2px,#e50000 137.2px,#e50000 202px)"></i><i style="background:linear-gradient(90deg,#e60000 3.5px,#f40000 12.5px,#ff3000 13.5px,#ff7d00 14.5px,#fff600 17.5px,#f2ff0d 18.5px,#daff25 19.5px,#b1ff4e 20.5px,#43ffbc 21.5px,#01f 22.5px,#005fff 23.4px,#006dff 28.4px,#009dff 34.4px,#00c9ff 42.4px,#00feff 56.4px,#83ff7c 95.3px,#fdff02 114.2px,#fff000 115.2px,#ff7500 120.2px,#f00 127.2px,#e50000 138.2px,#e60000 182.1px,#ff4f00 183px,#ffbf00 184px,#e50000 185px,#e50000 202px)"></i><i style="background:linear-gradient(90deg,#e60000 3.5px,#f40000 12.5px,#ff3100 13.5px,#ff7d00 14.5px,#fff600 17.5px,#f2ff0d 18.5px,#bdff42 20.5px,#79ff86 21.5px,#0008ff 22.5px,#004bff 23.4px,#0060ff 28.4px,#0093ff 34.4px,#00bdff 41.4px,#00faff 56.4px,#80ff7f 95.3px,#ff0 115.2px,#ff7500 120.2px,#ff0500 126.2px,#fc0000 127.2px,#e50000 136.2px,#e60000 183px,#ff7100 184px,#ff1b00 185px,#e50000 186px,#e60000 202px)"></i><i style="background:linear-gradient(90deg,#e60000 3.5px,#f50000 12.5px,#ff3900 13.5px,#ff8300 14.5px,#fff700 17.5px,#f0ff0f 18.5px,#daff25 19.5px,#b2ff4d 20.5px,#4cffb3 21.5px,#000fff 22.5px,#003aff 23.4px,#0050ff 28.4px,#08f 34.4px,#00baff 42.4px,#00fcff 57.4px,#7fff80 95.3px,#fbff04 115.2px,#fff400 116.2px,#ff7000 121.2px,#f20 126.2px,#ff0900 129.2px,#f00 134.2px,#e60000 182.1px,#ff5a00 183px,#beff41 184px,#ffcf00 185px,#ff3100 186px,#e60000 187px,#e60000 202px)"></i><i style="background:linear-gradient(90deg,#e60000 3.5px,#f40000 12.5px,#ff3400 13.5px,#ff8000 14.5px,#fff600 17.5px,#f3ff0c 18.5px,#c6ff39 20.5px,#9f6 21.5px,#0062ff 22.5px,#002bff 23.4px,#00b2ff 41.4px,#00faff 57.4px,#81ff7e 96.3px,#fffe00 116.2px,#ffc900 118.2px,#ffbc00 119.2px,#ffa400 128.2px,#ff7d00 183px,#bdff42 184px,#ffd300 185px,#ff3400 186px,#e60000 187px,#e60000 202px)"></i><i style="background:linear-gradient(90deg,#e60000 3.5px,#f40000 12.5px,#ff1700 13.5px,#ff6300 14.5px,#fff000 17.5px,#f7ff08 18.5px,#c7ff38 20.5px,#95ff6a 21.5px,#001aff 22.5px,#0034ff 23.4px,#0050ff 28.4px,#08f 34.4px,#00baff 42.4px,#00fcff 57.4px,#7eff81 95.3px,#c7ff38 109.2px,#e5ff1a 118.2px,#ff0 147.1px,#ffe600 183px,#bdff42 184px,#beff41 185px,#f80 186px,#e60000 187px,#e60000 202px)"></i><i style="background:linear-gradient(90deg,#e70000 3.5px,#f40000 11.5px,#ff1b00 12.5px,#ff6700 13.5px,#ff9b00 14.5px,#ffe900 16.5px,#feff01 17.5px,#d5ff2a 19.5px,#adff52 20.5px,#4dffb2 21.5px,#000cff 22.5px,#003eff 23.4px,#0053ff 28.4px,#008aff 34.4px,#00bcff 42.4px,#00fdff 57.4px,#81ff7e 95.3px,#feff01 115.2px,#fe0 117.2px,#ffcf00 129.2px,#ff9c00 183px,#bdff42 184px,#bdff42 185px,#ffbd00 186px,#e90000 187px,#e60000 202px)"></i><i style="background:linear-gradient(90deg,#e70000 3.5px,#f40000 11.5px,#ff1b00 12.5px,#ff6800 13.5px,#ff9b00 14.5px,#ffe900 16.5px,#fdff02 17.5px,#d4ff2b 19.5px,#a7ff58 20.5px,#30ffcf 21.5px,#01f 22.5px,#003fff 23.4px,#0054ff 28.4px,#008aff 34.4px,#00bcff 42.4px,#00fdff 57.4px,#81ff7e 95.3px,#faff05 114.2px,#fff600 115.2px,#ffc000 117.2px,#ff9e00 119.2px,#ff8100 128.2px,#ff5300 183px,#bdff42 184px,#bdff42 185px,#ffcf00 186px,#f70000 187px,#e50000 188px,#e60000 202px)"></i><i style="background:linear-gradient(90deg,#e70000 3.5px,#f40000 11.5px,#ff2f00 12.5px,#ff7c00 13.5px,#fff100 16.5px,#f9ff06 17.5px,#d0ff2f 19.5px,#a0ff5f 20.5px,#00f3ff 21.5px,#0013ff 22.5px,#0039ff 23.4px,#004eff 28.4px,#0087ff 34.4px,#00baff 42.4px,#00fcff 57.4px,#80ff7f 95.3px,#fff900 115.2px,#ff7900 120.2px,#ff4500 124.2px,#ff1e00 129.2px,#f00 157.1px,#ec0000 182.1px,#ff4000 183px,#bdff42 184px,#bdff42 185px,#ffc600 186px,#f00000 187px,#e60000 188px,#e60000 202px)"></i><i style="background:linear-gradient(90deg,#e80000 3.5px,#f40000 10.5px,#ff0600 11.5px,#ff9000 13.5px,#ffe000 15.5px,#fff900 16.5px,#f2ff0d 17.5px,#c8ff37 19.5px,#9cff63 20.5px,#00f7ff 21.5px,#01f 22.5px,#0036ff 23.4px,#004dff 28.4px,#0085ff 34.4px,#00b9ff 42.4px,#00fcff 57.4px,#82ff7d 95.3px,#fcff03 114.2px,#ffed00 115.2px,#ff7a00 119.2px,#ff0700 125.2px,#fd0000 126.2px,#e60000 135.2px,#e60000 182.1px,#ff3000 183px,#bdff42 184px,#ffed00 185px,#ff4900 186px,#e60000 187px,#e60000 202px)"></i><i style="background:linear-gradient(90deg,#e70000 3.5px,#f40000 11.5px,#f10 12.5px,#ff5e00 13.5px,#ff9600 14.5px,#ffe400 16.5px,#ff0 17.5px,#ebff14 18.5px,#d7ff28 19.5px,#b0ff4f 20.5px,#5fa 21.5px,#000cff 22.5px,#002bff 23.4px,#0045ff 28.4px,#007fff 34.4px,#00b5ff 42.4px,#00faff 57.4px,#83ff7c 95.3px,#feff01 114.2px,#ff7400 119.2px,#f00 125.2px,#e60000 134.2px,#e60000 183px,#bdff42 184px,#e6ff19 185px,#ff6a00 186px,#e60000 187px,#e60000 202px)"></i><i style="background:linear-gradient(90deg,#e70000 3.5px,#f40000 11.5px,#ff2100 12.5px,#ff6e00 13.5px,#ff9e00 14.5px,#ffeb00 16.5px,#fcff03 17.5px,#d3ff2c 19.5px,#a6ff59 20.5px,#2fffd0 21.5px,#01f 22.5px,#0af 41.4px,#00fcff 58.4px,#81ff7e 96.3px,#fffb00 116.2px,#ff7e00 120.2px,#ff0200 126.2px,#e60000 135.2px,#e60000 183px,#bdff42 184px,#fffe00 185px,#ff5600 186px,#e60000 187px,#e60000 202px)"></i><i style="background:linear-gradient(90deg,#e80000 3.5px,#fd0000 11.5px,#ff8c00 13.5px,#ffdb00 15.5px,#fff700 16.5px,#f4ff0b 17.5px,#cdff32 19.5px,#a3ff5c 20.5px,#39ffc6 21.5px,#000dff 22.5px,#002eff 27.4px,#0074ff 34.4px,#00a7ff 41.4px,#00fbff 58.4px,#81ff7e 96.3px,#fff700 116.2px,#ff7a00 120.2px,#fe0000 126.2px,#e60000 134.2px,#e60000 182.1px,#ff5400 183px,#bdff42 184px,#ffea00 185px,#ff4600 186px,#e60000 187px,#e60000 202px)"></i><i style="background:linear-gradient(90deg,#e80000 3.5px,#f50000 11.5px,#ff8300 13.5px,#fff300 16.5px,#f7ff08 17.5px,#ceff31 19.5px,#a0ff5f 20.5px,#0ff 21.5px,#0012ff 22.5px,#0030ff 27.4px,#0076ff 34.4px,#00a8ff 41.4px,#00fdff 58.4px,#82ff7d 95.3px,#fdff02 114.2px,#ff7900 120.2px,#fe0000 128.2px,#e60000 139.2px,#e60000 183px,#e5ff1a 184px,#ffae00 185px,#ff1600 186px,#e60000 187px,#e60000 202px)"></i><i style="background:linear-gradient(90deg,#e70000 3.5px,#f40000 11.5px,#ff0b00 12.5px,#ff5800 13.5px,#ff9300 14.5px,#fffd00 17.5px,#ecff13 18.5px,#d8ff27 19.5px,#b1ff4e 20.5px,#58ffa7 21.5px,#000bff 22.5px,#002bff 27.4px,#0072ff 34.4px,#00a6ff 41.4px,#00fbff 58.4px,#7eff81 95.3px,#fcff03 115.2px,#ffe700 116.2px,#ff7a00 119.2px,#f00 124.2px,#e60000 131.2px,#e60000 183px,#ff5900 184px,#ff0600 185px,#e60000 186px,#e60000 202px)"></i><i style="background:linear-gradient(90deg,#e80000 3.5px,#fd0000 11.5px,#ff8c00 13.5px,#ffdc00 15.5px,#fff700 16.5px,#f4ff0b 17.5px,#c9ff36 19.5px,#9cff63 20.5px,#00e7ff 21.5px,#0013ff 22.5px,#002eff 27.4px,#0075ff 34.4px,#00a7ff 41.4px,#00fcff 58.4px,#7eff81 95.3px,#fdff02 115.2px,#ffe900 116.2px,#ff7200 120.2px,#fd0000 126.2px,#e60000 134.2px,#e60000 182.1px,#ff0b00 183px,#e60000 184px,#e60000 202px)"></i><i style="background:linear-gradient(90deg,#e70000 3.5px,#f40000 11.5px,#ff1f00 12.5px,#ff6b00 13.5px,#ff9d00 14.5px,#ffea00 16.5px,#fdff02 17.5px,#d5ff2a 19.5px,#abff54 20.5px,#46ffb9 21.5px,#000dff 22.5px,#0029ff 27.4px,#0071ff 34.4px,#00a5ff 41.4px,#00fbff 58.4px,#7fff80 95.3px,#fff700 115.2px,#ff8900 118.2px,#ff0e00 123.2px,#fd0000 124.2px,#e60000 131.2px,#e60000 202px)"></i><i style="background:linear-gradient(90deg,#e60000 3.5px,#fc0000 12.5px,#ff8c00 14.5px,#fffb00 17.5px,#edff12 18.5px,#d8ff27 19.5px,#adff52 20.5px,#3dffc2 21.5px,#0010ff 22.5px,#00a9ff 41.4px,#00fdff 58.4px,#81ff7e 95.3px,#fcff03 114.2px,#ffe900 115.2px,#ff8200 118.2px,#fe0000 124.2px,#e60000 132.2px,#e60000 183px,#ff6700 184px,#e60000 185px,#e60000 202px)"></i><i style="background:linear-gradient(90deg,#e70000 3.5px,#f40000 11.5px,#ff2d00 12.5px,#ff7900 13.5px,#ffa400 14.5px,#fff000 16.5px,#faff05 17.5px,#d3ff2c 19.5px,#a8ff57 20.5px,#41ffbe 21.5px,#000eff 22.5px,#0023ff 23.4px,#0036ff 27.4px,#007aff 34.4px,#00abff 41.4px,#00fdff 58.4px,#81ff7e 96.3px,#ff0 116.2px,#ff7000 120.2px,#ff0e00 124.2px,#fd0000 125.2px,#e60000 132.2px,#e60000 182.1px,#ff9200 183px,#e60000 184px,#e60000 202px)"></i><i style="background:linear-gradient(90deg,#e70000 3.5px,#f40000 11.5px,#ff0c00 12.5px,#ff5900 13.5px,#ff9300 14.5px,#ffe200 16.5px,#fffe00 17.5px,#ecff13 18.5px,#b7ff48 20.5px,#72ff8d 21.5px,#0007ff 22.5px,#001cff 23.4px,#0034ff 27.4px,#0079ff 34.4px,#0af 41.4px,#00fdff 58.4px,#7eff81 95.3px,#fcff03 115.2px,#ffe700 116.2px,#ff6f00 119.2px,#f00 123.2px,#e60000 130.2px,#e60000 202px)"></i><i style="background:linear-gradient(90deg,#e60000 3.5px,#f30000 11.5px,#f00 12.5px,#ff8d00 14.5px,#fffb00 17.5px,#ef1 18.5px,#baff45 20.5px,#7aff85 21.5px,#0006ff 22.5px,#00a6ff 41.4px,#0ff 59.4px,#5fa 81.3px,#7eff81 95.3px,#fbff04 115.2px,#fff000 116.2px,#f70 120.2px,#fe0000 126.2px,#e60000 135.2px,#e60000 202px)"></i><i style="background:linear-gradient(90deg,#e70000 3.5px,#f40000 11.5px,#ff0c00 12.5px,#ff5800 13.5px,#ff9300 14.5px,#fffd00 17.5px,#ecff13 18.5px,#d7ff28 19.5px,#afff50 20.5px,#4fffb0 21.5px,#000dff 22.5px,#002dff 27.4px,#0074ff 34.4px,#00a7ff 41.4px,#00fbff 58.4px,#7eff81 95.3px,#feff01 115.2px,#ff8100 119.2px,#f00 125.2px,#e60000 133.2px,#e60000 202px)"></i><i style="background:linear-gradient(90deg,#e60000 3.5px,#f40000 12.5px,#ff2c00 13.5px,#ff7800 14.5px,#ffa400 15.5px,#fff500 17.5px,#f4ff0b 18.5px,#c5ff3a 20.5px,#97ff68 21.5px,#0045ff 22.5px,#0018ff 23.4px,#0af 41.4px,#00fdff 58.4px,#7fff80 95.3px,#fffc00 115.2px,#ff7900 120.2px,#f00 127.2px,#e60000 137.2px,#e60000 202px)"></i><i style="background:linear-gradient(90deg,#e60000 3.5px,#f40000 12.5px,#ff1500 13.5px,#ff6200 14.5px,#fff000 17.5px,#f6ff09 18.5px,#b9ff46 20.5px,#57ffa8 21.5px,#000fff 22.5px,#002fff 23.4px,#0040ff 27.4px,#0081ff 34.4px,#00b0ff 41.4px,#0ff 58.4px,#81ff7e 96.3px,#feff01 116.2px,#ff7a00 120.2px,#ff0900 125.2px,#fc0000 126.2px,#e60000 133.2px,#e60000 202px)"></i><i style="background:linear-gradient(90deg,#e60000 3.5px,#f40000 12.5px,#f20 13.5px,#ff6f00 14.5px,#ffca00 16.5px,#fff300 17.5px,#f4ff0b 18.5px,#dcff23 19.5px,#b4ff4b 20.5px,#48ffb7 21.5px,#0010ff 22.5px,#0037ff 23.4px,#004dff 28.4px,#0086ff 34.4px,#00b9ff 42.4px,#00fcff 57.4px,#81ff7e 95.3px,#fff700 115.2px,#ff7300 120.2px,#ff0600 126.2px,#fc0000 127.2px,#e60000 136.2px,#e60000 202px)"></i><i style="background:linear-gradient(90deg,#e60000 3.5px,#f40000 13.5px,#ff2b00 14.5px,#ff7900 15.5px,#ffdc00 17.5px,#ff0 18.5px,#c5ff3a 20.5px,#73ff8c 21.5px,#000dff 22.5px,#002aff 23.4px,#003cff 27.4px,#007eff 34.4px,#00aeff 41.4px,#0ff 58.4px,#54ffab 80.3px,#80ff7f 95.3px,#fff900 115.2px,#ff8400 120.2px,#fe0000 129.2px,#e60000 140.2px,#e60000 202px)"></i><i style="background:linear-gradient(90deg,#e60000 3.5px,#f50000 13.5px,#ff3700 14.5px,#ff8300 15.5px,#ffe100 17.5px,#fcff03 18.5px,#e0ff1f 19.5px,#b3ff4c 20.5px,#12ffed 21.5px,#0019ff 22.5px,#0034ff 27.4px,#0079ff 34.4px,#0af 41.4px,#00fdff 58.4px,#7eff81 95.3px,#fcff03 115.2px,#ffed00 116.2px,#ff7b00 120.2px,#ff0a00 126.2px,#fd0000 127.2px,#e60000 136.2px,#e60000 202px)"></i><i style="background:linear-gradient(90deg,#e60000 3.5px,#f40000 13.5px,#ff3100 14.5px,#ff7f00 15.5px,#ffdf00 17.5px,#fcff03 18.5px,#dfff20 19.5px,#adff52 20.5px,#00a3ff 21.5px,#0013ff 22.5px,#0032ff 27.4px,#0078ff 34.4px,#00a9ff 41.4px,#00fdff 58.4px,#7fff80 95.3px,#fffe00 115.2px,#f70 120.2px,#fd0000 127.2px,#e60000 137.2px,#e60000 202px)"></i><i style="background:linear-gradient(90deg,#e60000 3.5px,#f40000 13.5px,#ff3400 14.5px,#ff8100 15.5px,#ffe000 17.5px,#fcff03 18.5px,#e1ff1e 19.5px,#b5ff4a 20.5px,#1dffe2 21.5px,#0018ff 22.5px,#0032ff 27.4px,#07f 34.4px,#00a9ff 41.4px,#00fdff 58.4px,#7fff80 95.3px,#fffc00 115.2px,#ff7a00 120.2px,#ff0100 127.2px,#e60000 137.2px,#e60000 202px)"></i><i style="background:linear-gradient(90deg,#e60000 3.5px,#f40000 13.5px,#ff1600 14.5px,#ff6500 15.5px,#ffd500 17.5px,#fffe00 18.5px,#e3ff1c 19.5px,#b4ff4b 20.5px,#00d6ff 21.5px,#001dff 22.5px,#03f 27.4px,#0078ff 34.4px,#0af 41.4px,#00fdff 58.4px,#81ff7e 95.3px,#fbff04 114.2px,#fff200 115.2px,#ff7600 120.2px,#ff0100 127.2px,#e60000 138.2px,#e60000 202px)"></i><i style="background:linear-gradient(90deg,#e60000 3.5px,#f40000 12.5px,#ff0500 13.5px,#ff9000 15.5px,#ffeb00 17.5px,#f8ff07 18.5px,#baff45 20.5px,#51ffae 21.5px,#0010ff 22.5px,#0025ff 23.4px,#0038ff 27.4px,#007bff 34.4px,#00acff 41.4px,#0ff 58.4px,#56ffa9 80.3px,#80ff7f 94.3px,#fcff03 113.2px,#fff100 114.2px,#ff7f00 119.2px,#fd0000 128.2px,#e60000 139.2px,#e60000 202px)"></i><i style="background:linear-gradient(90deg,#e60000 3.5px,#f40000 12.5px,#ff0c00 13.5px,#ff5800 14.5px,#ff9400 15.5px,#ffed00 17.5px,#f7ff08 18.5px,#b8ff47 20.5px,#4effb1 21.5px,#0010ff 22.5px,#0029ff 23.4px,#003aff 27.4px,#007dff 34.4px,#00adff 41.4px,#00faff 57.4px,#80ff7f 94.3px,#fdff02 113.2px,#ffef00 114.2px,#ff7d00 119.2px,#ff0500 127.2px,#fd0000 128.2px,#e60000 139.2px,#e60000 202px)"></i><i style="background:linear-gradient(90deg,#e60000 3.5px,#f60000 12.5px,#f80 14.5px,#fff900 17.5px,#efff10 18.5px,#d9ff26 19.5px,#b1ff4e 20.5px,#4bffb4 21.5px,#000eff 22.5px,#0034ff 23.4px,#004bff 28.4px,#0084ff 34.4px,#00b8ff 42.4px,#00fcff 57.4px,#7fff80 94.3px,#fff900 114.2px,#ff8400 119.2px,#fd0000 128.2px,#e60000 139.2px,#e60000 202px)"></i><i style="background:linear-gradient(90deg,#e60000 3.5px,#f40000 12.5px,#ff0e00 13.5px,#ff5a00 14.5px,#ff9400 15.5px,#fe0 17.5px,#f7ff08 18.5px,#bcff43 20.5px,#5fffa0 21.5px,#000eff 22.5px,#0047ff 23.4px,#005aff 28.4px,#008fff 34.4px,#00baff 41.4px,#00faff 56.4px,#80ff7f 94.3px,#fbff04 113.2px,#fff500 114.2px,#ff7d00 119.2px,#f00 127.2px,#e60000 138.2px,#e60000 202px)"></i><i style="background:linear-gradient(90deg,#e60000 3.5px,#f50000 12.5px,#ff3900 13.5px,#ff8300 14.5px,#fff700 17.5px,#efff10 18.5px,#d7ff28 19.5px,#a6ff59 20.5px,#00d2ff 21.5px,#0018ff 22.5px,#0050ff 23.4px,#0060ff 28.4px,#0094ff 34.4px,#00bdff 41.4px,#00fbff 56.4px,#7fff80 94.3px,#ff0 114.2px,#ff7d00 119.2px,#ff0500 126.2px,#fc0000 127.2px,#e50000 137.2px,#e60000 202px)"></i><i style="background:linear-gradient(90deg,#e60000 3.5px,#f50000 12.5px,#ff3900 13.5px,#ff8300 14.5px,#fff700 17.5px,#efff10 18.5px,#d7ff28 19.5px,#a6ff59 20.5px,#00d2ff 21.5px,#0018ff 22.5px,#0050ff 23.4px,#0060ff 28.4px,#0094ff 34.4px,#00bdff 41.4px,#00fbff 56.4px,#7fff80 94.3px,#ff0 114.2px,#ff7d00 119.2px,#ff0500 126.2px,#fc0000 127.2px,#e50000 137.2px,#e60000 202px)"></i><i style="background:linear-gradient(90deg,#e60000 3.5px,#f50000 12.5px,#ff3900 13.5px,#ff8300 14.5px,#fff700 17.5px,#efff10 18.5px,#d7ff28 19.5px,#a6ff59 20.5px,#00d2ff 21.5px,#0018ff 22.5px,#0050ff 23.4px,#0060ff 28.4px,#0094ff 34.4px,#00bdff 41.4px,#00fbff 56.4px,#7fff80 94.3px,#ff0 114.2px,#ff7d00 119.2px,#ff0500 126.2px,#fc0000 127.2px,#e50000 137.2px,#e60000 202px)"></i><i style="background:linear-gradient(90deg,#e60000 3.5px,#f50000 12.5px,#ff3900 13.5px,#ff8300 14.5px,#fff700 17.5px,#efff10 18.5px,#d7ff28 19.5px,#a6ff59 20.5px,#00d2ff 21.5px,#0018ff 22.5px,#0050ff 23.4px,#0060ff 28.4px,#0094ff 34.4px,#00bdff 41.4px,#00fbff 56.4px,#7fff80 94.3px,#ff0 114.2px,#ff7d00 119.2px,#ff0500 126.2px,#fc0000 127.2px,#e50000 137.2px,#e60000 202px)"></i></div><b class="f" style="left:79.8px;top:29.1px;width:99.8px"></b><b class="f" style="left:79.8px;top:88.2px;width:99.8px;background:linear-gradient(90deg,rgba(30,45,30,.42) 34%,rgba(30,45,30,.2) 46%)"></b><b class="v" style="left:178.9px"></b></div>
<span class="t xt" style="left:31.0px;top:291.9px">0</span><span class="t xt" style="left:70.9px;top:291.9px">20</span><span class="t xt" style="left:110.8px;top:291.9px">40</span><span class="t xt" style="left:150.7px;top:291.9px">60</span><span class="t xt" style="left:190.6px;top:291.9px">80</span><span class="t xt" style="left:230.5px;top:291.9px">100</span><span class="t yt" style="left:7.5px;top:282.7px">0</span><span class="t yt" style="left:7.5px;top:243.3px">20</span><span class="t yt" style="left:7.5px;top:203.9px">40</span><span class="t yt" style="left:7.5px;top:164.5px">60</span><span class="xl" style="left:130.8px;top:305.4px">x(m)</span><span class="yl" style="left:7.0px;top:227.3px">y(m)</span><span class="lg" style="left:88.9px;top:267.0px">Length=50 m</span>
<div class="p" style="left:288.5px;top:168.2px;width:199px;height:118.2px"><div class="h"><i style="background:linear-gradient(90deg,#e60000 3.5px,#f50000 13.4px,#ff3700 14.4px,#ff8200 15.4px,#ffe100 17.4px,#fbff04 18.4px,#dfff20 19.4px,#b0ff4f 20.4px,#00d7ff 21.4px,#001bff 22.4px,#000dff 23.4px,#0023ff 27.4px,#006dff 34.3px,#00a2ff 41.3px,#00fdff 59.2px,#80ff7f 97px,#fbff04 116.9px,#fff500 117.9px,#ff8200 122.9px,#fe0000 131.9px,#e60000 142.8px,#e60000 201.5px)"></i><i style="background:linear-gradient(90deg,#e60000 3.5px,#f50000 13.4px,#ff3700 14.4px,#ff8200 15.4px,#ffe100 17.4px,#fbff04 18.4px,#dfff20 19.4px,#b0ff4f 20.4px,#00d7ff 21.4px,#001bff 22.4px,#000dff 23.4px,#0023ff 27.4px,#006dff 34.3px,#00a2ff 41.3px,#00fdff 59.2px,#80ff7f 97px,#fbff04 116.9px,#fff500 117.9px,#ff8200 122.9px,#fe0000 131.9px,#e60000 142.8px,#e60000 201.5px)"></i><i style="background:linear-gradient(90deg,#e60000 3.5px,#f50000 13.4px,#ff3700 14.4px,#ff8200 15.4px,#ffe100 17.4px,#fbff04 18.4px,#dfff20 19.4px,#b0ff4f 20.4px,#00d7ff 21.4px,#001bff 22.4px,#000dff 23.4px,#0023ff 27.4px,#006dff 34.3px,#00a2ff 41.3px,#00fdff 59.2px,#80ff7f 97px,#fbff04 116.9px,#fff500 117.9px,#ff8200 122.9px,#fe0000 131.9px,#e60000 142.8px,#e60000 201.5px)"></i><i style="background:linear-gradient(90deg,#e60000 3.5px,#f50000 13.4px,#ff3700 14.4px,#ff8200 15.4px,#ffe100 17.4px,#fbff04 18.4px,#dfff20 19.4px,#b0ff4f 20.4px,#00d7ff 21.4px,#001bff 22.4px,#000dff 23.4px,#0023ff 27.4px,#006dff 34.3px,#00a2ff 41.3px,#00fdff 59.2px,#80ff7f 97px,#fbff04 116.9px,#fff500 117.9px,#ff8200 122.9px,#fe0000 131.9px,#e60000 142.8px,#e60000 201.5px)"></i><i style="background:linear-gradient(90deg,#e60000 3.5px,#f50000 12.5px,#ff8300 14.4px,#fff700 17.4px,#f0ff0f 18.4px,#daff25 19.4px,#b2ff4d 20.4px,#4bffb4 21.4px,#000fff 22.4px,#0006ff 23.4px,#001eff 27.4px,#006aff 34.3px,#009fff 41.3px,#00fcff 59.2px,#80ff7f 97px,#fbff04 116.9px,#fff400 117.9px,#ff7b00 123.9px,#ff0300 132.8px,#e60000 145.8px,#e60000 201.5px)"></i><i style="background:linear-gradient(90deg,#e60000 3.5px,#f50000 12.5px,#ff3400 13.4px,#ff8000 14.4px,#fff600 17.4px,#f0ff0f 18.4px,#d8ff27 19.4px,#a7ff58 20.4px,#00deff 21.4px,#0018ff 22.4px,#000cff 23.4px,#02f 27.4px,#006cff 34.3px,#00a1ff 41.3px,#00fdff 59.2px,#53ffac 81.1px,#7eff81 96px,#fbff04 115.9px,#fff400 116.9px,#ff7900 122.9px,#f00 131.9px,#e60000 144.8px,#e60000 201.5px)"></i><i style="background:linear-gradient(90deg,#e60000 3.5px,#f40000 12.5px,#ff1000 13.4px,#ff5d00 14.4px,#ff9600 15.4px,#ffef00 17.4px,#f6ff09 18.4px,#deff21 19.4px,#b5ff4a 20.4px,#40ffbf 21.4px,#0013ff 22.4px,#0032ff 27.4px,#0078ff 34.3px,#00a9ff 41.3px,#00fbff 58.2px,#80ff7f 97px,#fbff04 116.9px,#fff600 117.9px,#ff7c00 123.9px,#ff0300 132.8px,#e60000 145.8px,#e60000 201.5px)"></i><i style="background:linear-gradient(90deg,#e60000 3.5px,#f40000 12.5px,#ff3000 13.4px,#ff7d00 14.4px,#fff600 17.4px,#f1ff0e 18.4px,#d8ff27 19.4px,#a7ff58 20.4px,#00d6ff 21.4px,#0018ff 22.4px,#002aff 23.4px,#003bff 27.4px,#007eff 34.3px,#00aeff 41.3px,#00fcff 58.2px,#7eff81 97px,#fcff03 117.9px,#fff100 118.9px,#ff7900 123.9px,#fe0000 131.9px,#e60000 142.8px,#e60000 201.5px)"></i><i style="background:linear-gradient(90deg,#e60000 3.5px,#f40000 12.5px,#ff2700 13.4px,#ff7300 14.4px,#fc0 16.4px,#fff400 17.4px,#f3ff0c 18.4px,#dcff23 19.4px,#b3ff4c 20.4px,#4fb 21.4px,#01f 22.4px,#002aff 23.4px,#003cff 27.4px,#007eff 34.3px,#00aeff 41.3px,#00fdff 58.2px,#80ff7f 97px,#fff900 117.9px,#ff7a00 122.9px,#ff0200 129.9px,#e60000 140.8px,#e60000 201.5px)"></i><i style="background:linear-gradient(90deg,#e70000 3.5px,#f40000 11.5px,#ff0c00 12.5px,#ff5900 13.4px,#ff9300 14.4px,#ffe200 16.4px,#fffe00 17.4px,#ebff14 18.4px,#d5ff2a 19.4px,#a9ff56 20.4px,#32ffcd 21.4px,#0012ff 22.4px,#0025ff 23.4px,#0038ff 27.4px,#007cff 34.3px,#00acff 41.3px,#00fdff 58.2px,#80ff7f 96px,#feff01 115.9px,#ff7a00 122.9px,#fd0000 132.8px,#e60000 145.8px,#e60000 201.5px)"></i><i style="background:linear-gradient(90deg,#e60000 3.5px,#f50000 12.5px,#ff8700 14.4px,#fff900 17.4px,#f0ff0f 18.4px,#b7ff48 20.4px,#65ff9a 21.4px,#000aff 22.4px,#00a8ff 41.3px,#0ff 59.2px,#56ffa9 82.1px,#80ff7f 97px,#fbff04 116.9px,#fff300 117.9px,#ff7500 122.9px,#fe0000 129.9px,#e60000 139.8px,#e60000 201.5px)"></i><i style="background:linear-gradient(90deg,#e60000 3.5px,#f40000 12.5px,#ff2d00 13.4px,#ff7a00 14.4px,#ffa500 15.4px,#fff500 17.4px,#f2ff0d 18.4px,#daff25 19.4px,#aeff51 20.4px,#32ffcd 21.4px,#0013ff 22.4px,#000fff 23.4px,#0025ff 27.4px,#006fff 34.3px,#00a3ff 41.3px,#00fdff 59.2px,#7eff81 97px,#fdff02 117.9px,#ffea00 118.9px,#ff7b00 122.9px,#fe0000 129.9px,#e60000 138.8px,#e60000 201.5px)"></i><i style="background:linear-gradient(90deg,#e80000 3.5px,#f50000 11.5px,#ff8600 13.4px,#fff500 16.4px,#f6ff09 17.4px,#d4ff2b 19.4px,#b1ff4e 20.4px,#75ff8a 21.4px,#0015ff 22.4px,#000cff 23.4px,#00a4ff 41.3px,#00feff 59.2px,#53ffac 81.1px,#7eff81 96px,#fbff04 115.9px,#fff500 116.9px,#ff7f00 121.9px,#ff0300 129.9px,#e60000 141.8px,#e60000 201.5px)"></i><i style="background:linear-gradient(90deg,#e80000 3.5px,#fa0000 11.5px,#ff8a00 13.4px,#ffda00 15.4px,#fff700 16.4px,#f5ff0a 17.4px,#d0ff2f 19.4px,#a6ff59 20.4px,#47ffb8 21.4px,#000bff 22.4px,#001dff 23.4px,#0032ff 27.4px,#0078ff 34.3px,#00a9ff 41.3px,#00fcff 58.2px,#81ff7e 96px,#fffc00 115.9px,#ff7c00 120.9px,#ff0600 127.9px,#fd0000 128.9px,#e60000 138.8px,#e60000 201.5px)"></i><i style="background:linear-gradient(90deg,#e70000 3.5px,#f40000 11.5px,#ff2400 12.5px,#ff7000 13.4px,#ffa000 14.4px,#ffed00 16.4px,#fcff03 17.4px,#d3ff2c 19.4px,#a7ff58 20.4px,#38ffc7 21.4px,#000fff 22.4px,#002dff 23.4px,#003eff 27.4px,#0080ff 34.3px,#00afff 41.3px,#00feff 58.2px,#7fff80 96px,#fbff04 115.9px,#fff400 116.9px,#ff7300 121.9px,#fd0000 128.9px,#e60000 138.8px,#e60000 201.5px)"></i><i style="background:linear-gradient(90deg,#e80000 3.5px,#f50000 11.5px,#ff8500 13.4px,#fff400 16.4px,#f7ff08 17.4px,#caff35 19.4px,#9f6 20.4px,#009dff 21.4px,#0017ff 22.4px,#003bff 23.4px,#004fff 28.4px,#0087ff 34.3px,#00baff 42.3px,#00fbff 57.2px,#80ff7f 96px,#feff01 115.9px,#ff7600 120.9px,#ff0200 126.9px,#e60000 135.8px,#e60000 201.5px)"></i><i style="background:linear-gradient(90deg,#e80000 3.5px,#f40000 10.5px,#ff1300 11.5px,#ff6000 12.5px,#ff9700 13.4px,#ffe600 15.4px,#fffc00 16.4px,#f0ff0f 17.4px,#c8ff37 19.4px,#a0ff5f 20.4px,#36ffc9 21.4px,#000dff 22.4px,#03f 23.4px,#004aff 28.4px,#0083ff 34.3px,#00b7ff 42.3px,#00faff 57.2px,#80ff7f 96px,#fdff02 115.9px,#ffe800 116.9px,#ff7400 120.9px,#fe0000 126.9px,#e60000 135.8px,#e60000 201.5px)"></i><i style="background:linear-gradient(90deg,#e80000 3.5px,#f40000 10.5px,#ff1300 11.5px,#ff5f00 12.5px,#ff9700 13.4px,#ffe600 15.4px,#fffc00 16.4px,#f0ff0f 17.4px,#cbff34 19.4px,#a5ff5a 20.4px,#4cffb3 21.4px,#0009ff 22.4px,#0027ff 23.4px,#003bff 27.4px,#007eff 34.3px,#00aeff 41.3px,#00feff 58.2px,#7fff80 95px,#fdff02 114.9px,#ffeb00 115.9px,#ff7d00 119.9px,#f00 126.9px,#e60000 136.8px,#e60000 201.5px)"></i><i style="background:linear-gradient(90deg,#e80000 3.5px,#f40000 10.5px,#ff0d00 11.5px,#ff5a00 12.5px,#ff9400 13.4px,#ffe300 15.4px,#fffb00 16.4px,#f1ff0e 17.4px,#c6ff39 19.4px,#9cff63 20.4px,#00fdff 21.4px,#01f 22.4px,#0af 41.3px,#00fdff 58.2px,#7eff81 95px,#fdff02 114.9px,#fe0 115.9px,#ff7600 120.9px,#ff0500 127.9px,#fd0000 128.9px,#e60000 138.8px,#e60000 201.5px)"></i><i style="background:linear-gradient(90deg,#e80000 3.5px,#f50000 11.5px,#ff3600 12.5px,#ff8100 13.4px,#fff200 16.4px,#f8ff07 17.4px,#d3ff2c 19.4px,#abff54 20.4px,#52ffad 21.4px,#000aff 22.4px,#00a6ff 41.3px,#00fcff 58.2px,#80ff7f 95px,#fff900 114.9px,#ff8200 119.9px,#ff0600 127.9px,#fd0000 128.9px,#e60000 139.8px,#e60000 201.5px)"></i><i style="background:linear-gradient(90deg,#e70000 3.5px,#f40000 11.5px,#ff3100 12.5px,#ff7d00 13.4px,#fff100 16.4px,#f9ff06 17.4px,#cf3 19.4px,#9aff65 20.4px,#0098ff 21.4px,#0017ff 22.4px,#0017ff 23.4px,#002bff 27.4px,#0073ff 34.3px,#00a6ff 41.3px,#00fbff 58.2px,#7fff80 95px,#ff0 114.9px,#ff8500 119.9px,#ff0300 127.9px,#fc0000 128.9px,#e60000 138.8px,#e60000 201.5px)"></i><i style="background:linear-gradient(90deg,#e80000 3.5px,#f40000 10.5px,#ff0700 11.5px,#ff9000 13.4px,#ffe000 15.4px,#fff900 16.4px,#f2ff0d 17.4px,#c4ff3b 19.4px,#96ff69 20.4px,#0097ff 21.4px,#0016ff 22.4px,#002aff 23.4px,#003bff 27.4px,#007eff 34.3px,#00aeff 41.3px,#0ff 58.2px,#82ff7d 95px,#fdff02 113.9px,#ffef00 114.9px,#ff7e00 119.9px,#fe0000 128.9px,#e60000 140.8px,#e60000 201.5px)"></i><i style="background:linear-gradient(90deg,#e70000 3.5px,#f40000 11.5px,#ff2c00 12.5px,#ff7900 13.4px,#ffa400 14.4px,#fff000 16.4px,#faff05 17.4px,#d0ff2f 19.4px,#9fff60 20.4px,#00e0ff 21.4px,#0014ff 22.4px,#0037ff 23.4px,#004dff 28.4px,#0086ff 34.3px,#00b9ff 42.3px,#00fcff 57.2px,#81ff7e 95px,#fbff04 113.9px,#fff600 114.9px,#ff7900 120.9px,#fe0000 129.9px,#e60000 141.8px,#e60000 201.5px)"></i><i style="background:linear-gradient(90deg,#e70000 3.5px,#f40000 11.5px,#ff2600 12.5px,#ff7200 13.4px,#ffa100 14.4px,#ffed00 16.4px,#fbff04 17.4px,#d3ff2c 19.4px,#a7ff58 20.4px,#36ffc9 21.4px,#0010ff 22.4px,#0043ff 23.4px,#0057ff 28.4px,#008dff 34.3px,#00b8ff 41.3px,#00feff 57.2px,#81ff7e 95px,#fffa00 114.9px,#ff7900 120.9px,#ff0500 128.9px,#fd0000 129.9px,#e50000 141.8px,#e60000 201.5px)"></i><i style="background:linear-gradient(90deg,#e60000 3.5px,#f30000 11.5px,#ff0300 12.5px,#ff8e00 14.4px,#fffc00 17.4px,#edff12 18.4px,#d7ff28 19.4px,#adff52 20.4px,#41ffbe 21.4px,#0010ff 22.4px,#003eff 23.4px,#0053ff 28.4px,#008aff 34.3px,#00bcff 42.3px,#00fdff 57.2px,#80ff7f 95px,#feff01 114.9px,#ff7c00 120.9px,#fd0000 129.9px,#e50000 141.8px,#e60000 201.5px)"></i><i style="background:linear-gradient(90deg,#e60000 3.5px,#fc0000 12.5px,#ff8b00 14.4px,#fffa00 17.4px,#edff12 18.4px,#d6ff29 19.4px,#a7ff58 20.4px,#00fbff 21.4px,#0015ff 22.4px,#002cff 23.4px,#003dff 27.4px,#007fff 34.3px,#00afff 41.3px,#0ff 58.2px,#54ffab 80.1px,#80ff7f 95px,#fffd00 114.9px,#ff8000 120.9px,#fd0000 130.9px,#e60000 143.8px,#e60000 201.5px)"></i><i style="background:linear-gradient(90deg,#e60000 3.5px,#fa0000 13.4px,#ff8b00 15.4px,#ffe700 17.4px,#faff05 18.4px,#bcff43 20.4px,#57ffa8 21.4px,#0010ff 22.4px,#0029ff 27.4px,#0071ff 34.3px,#00a5ff 41.3px,#0ff 59.2px,#54ffab 81.1px,#7fff80 96px,#fdff02 115.9px,#ffed00 116.9px,#f70 121.9px,#fd0000 129.9px,#e60000 140.8px,#e60000 201.5px)"></i><i style="background:linear-gradient(90deg,#e60000 3.5px,#f30000 12.5px,#f00 13.4px,#ff8d00 15.4px,#ffe800 17.4px,#f8ff07 18.4px,#df2 19.4px,#afff50 20.4px,#00f0ff 21.4px,#0019ff 22.4px,#000bff 23.4px,#0021ff 27.4px,#006cff 34.3px,#00a1ff 41.3px,#00fdff 59.2px,#5fa 81.1px,#7eff81 95px,#fdff02 114.9px,#ffec00 115.9px,#ff8400 119.9px,#fe0000 127.9px,#e60000 137.8px,#e60000 201.5px)"></i><i style="background:linear-gradient(90deg,#e60000 3.5px,#f40000 13.4px,#ff1800 14.4px,#ff6700 15.4px,#ffd500 17.4px,#fffd00 18.4px,#e4ff1b 19.4px,#baff45 20.4px,#35ffca 21.4px,#0018ff 22.4px,#000bff 23.4px,#0021ff 27.4px,#006cff 34.3px,#00a1ff 41.3px,#00fdff 59.2px,#7fff80 96px,#fdff02 115.9px,#ff8400 121.9px,#fd0000 131.9px,#e60000 143.8px,#e60000 201.5px)"></i><i style="background:linear-gradient(90deg,#e60000 3.5px,#f40000 12.5px,#ff0700 13.4px,#ff9100 15.4px,#ffeb00 17.4px,#f9ff06 18.4px,#c1ff3e 20.4px,#74ff8b 21.4px,#000bff 22.4px,#0020ff 23.4px,#0035ff 27.4px,#0079ff 34.3px,#00abff 41.3px,#00fdff 58.2px,#7fff80 95px,#fffe00 114.9px,#ff7800 120.9px,#f00 128.9px,#e60000 140.8px,#e60000 201.5px)"></i><i style="background:linear-gradient(90deg,#e60000 3.5px,#fd0000 13.4px,#ff8c00 15.4px,#ffe800 17.4px,#faff05 18.4px,#c1ff3e 20.4px,#72ff8d 21.4px,#000bff 22.4px,#03f 23.4px,#004bff 28.4px,#0084ff 34.3px,#00b8ff 42.3px,#00fcff 57.2px,#7fff80 94px,#fff900 113.9px,#ff7b00 119.9px,#ff1500 127.9px,#ff0100 130.9px,#e60000 140.8px,#e60000 201.5px)"></i><i style="background:linear-gradient(90deg,#e70000 3.5px,#f40000 11.5px,#ff2600 12.5px,#ff7200 13.4px,#ffa100 14.4px,#ffed00 16.4px,#fbff04 17.4px,#d6ff29 19.4px,#b1ff4e 20.4px,#64ff9b 21.4px,#0008ff 22.4px,#0037ff 23.4px,#0050ff 28.4px,#08f 34.3px,#00baff 42.3px,#00fcff 57.2px,#83ff7c 95px,#fdff02 113.9px,#ffed00 114.9px,#ffa200 118.9px,#ff7500 128.9px,#ff0100 140.8px,#e60000 168.7px,#e60000 201.5px)"></i><i style="background:linear-gradient(90deg,#e60000 3.5px,#f30000 11.5px,#ff0200 12.5px,#ff8e00 14.4px,#fffc00 17.4px,#edff12 18.4px,#d7ff28 19.4px,#abff54 20.4px,#35ffca 21.4px,#01f 22.4px,#0029ff 23.4px,#003bff 27.4px,#007dff 34.3px,#00adff 41.3px,#00feff 58.2px,#54ffab 80.1px,#7fff80 95px,#faff05 114.9px,#fff500 115.9px,#ffc300 127.9px,#ff8400 133.8px,#ff1b00 139.8px,#f00 143.8px,#f50000 146.8px,#f50000 182.6px,#e60000 183.6px,#e60000 201.5px)"></i><i style="background:linear-gradient(90deg,#e80000 3.5px,#f50000 11.5px,#ff8600 13.4px,#fff500 16.4px,#f6ff09 17.4px,#c7ff38 19.4px,#95ff6a 20.4px,#0064ff 21.4px,#0019ff 22.4px,#0016ff 23.4px,#002aff 27.4px,#0072ff 34.3px,#00a5ff 41.3px,#00fbff 58.2px,#7dff82 95px,#acff53 105px,#bfff40 118.9px,#e3ff1c 127.9px,#fff700 130.9px,#ffb900 134.8px,#ff2000 140.8px,#fe0000 144.8px,#f50000 146.8px,#f50000 182.6px,#e60000 183.6px,#e60000 201.5px)"></i><i style="background:linear-gradient(90deg,#e60000 3.5px,#f40000 12.5px,#ff2500 13.4px,#ff7100 14.4px,#ffcb00 16.4px,#fff300 17.4px,#f4ff0b 18.4px,#bfff40 20.4px,#7eff81 21.4px,#0008ff 22.4px,#0024ff 27.4px,#006dff 34.3px,#00a2ff 41.3px,#00feff 59.2px,#5fa 81.1px,#7eff81 95px,#f8ff07 114.9px,#fff600 115.9px,#ffb600 128.9px,#ff8200 133.8px,#ff1a00 139.8px,#f00 143.8px,#f50000 146.8px,#f50000 182.6px,#e60000 183.6px,#e60000 201.5px)"></i><i style="background:linear-gradient(90deg,#e70000 3.5px,#f40000 11.5px,#ff1900 12.5px,#f60 13.4px,#ff9a00 14.4px,#ffe800 16.4px,#feff01 17.4px,#d6ff29 19.4px,#afff50 20.4px,#5fa 21.4px,#000bff 22.4px,#002bff 27.4px,#0073ff 34.3px,#00a6ff 41.3px,#00fbff 58.2px,#7fff80 95px,#ff0 114.9px,#fb0 117.9px,#ff9e00 119.9px,#ff7a00 127.9px,#f00 140.8px,#f50000 159.7px,#e70000 166.7px,#e60000 201.5px)"></i><i style="background:linear-gradient(90deg,#e70000 3.5px,#f40000 11.5px,#ff2c00 12.5px,#ff7800 13.4px,#ffa400 14.4px,#fff000 16.4px,#faff05 17.4px,#d1ff2e 19.4px,#a2ff5d 20.4px,#05fffa 21.4px,#0013ff 22.4px,#002aff 23.4px,#003cff 27.4px,#007eff 34.3px,#00aeff 41.3px,#0ff 58.2px,#54ffab 80.1px,#80ff7f 95px,#fffa00 114.9px,#ff7c00 120.9px,#ff1200 128.9px,#ff0200 130.9px,#ea0000 136.8px,#e60000 142.8px,#e60000 201.5px)"></i><i style="background:linear-gradient(90deg,#e90000 3.5px,#f40000 10.5px,#ff3400 11.5px,#ff8000 12.5px,#fff400 15.4px,#faff05 16.4px,#d9ff26 18.4px,#9aff65 20.4px,#29ffd6 21.4px,#000dff 22.4px,#03f 23.4px,#004aff 28.4px,#0083ff 34.3px,#00b7ff 42.3px,#00fbff 57.2px,#82ff7d 95px,#fcff03 113.9px,#fff100 114.9px,#ff7900 119.9px,#ff0700 126.9px,#fd0000 127.9px,#e60000 137.8px,#e60000 201.5px)"></i><i style="background:linear-gradient(90deg,#e90000 3.5px,#f50000 10.5px,#ff8500 12.5px,#fff600 15.4px,#f8ff07 16.4px,#d7ff28 18.4px,#91ff6e 20.4px,#00ceff 21.4px,#01f 22.4px,#0030ff 23.4px,#0048ff 28.4px,#0082ff 34.3px,#00b6ff 42.3px,#00fbff 57.2px,#7fff80 94px,#fffc00 113.9px,#ff8700 118.9px,#fe0000 127.9px,#e60000 138.8px,#e60000 201.5px)"></i><i style="background:linear-gradient(90deg,#e80000 3.5px,#f40000 10.5px,#ff0800 11.5px,#ff9100 13.4px,#ffe100 15.4px,#fffa00 16.4px,#f2ff0d 17.4px,#caff35 19.4px,#a0ff5f 20.4px,#30ffcf 21.4px,#000fff 22.4px,#0030ff 23.4px,#0048ff 28.4px,#0082ff 34.3px,#00b6ff 42.3px,#00fbff 57.2px,#7fff80 94px,#fffe00 113.9px,#ff7800 119.9px,#f00 127.9px,#e60000 139.8px,#e60000 201.5px)"></i><i style="background:linear-gradient(90deg,#e80000 3.5px,#fc0000 11.5px,#ff8b00 13.4px,#ffdb00 15.4px,#fff700 16.4px,#f4ff0b 17.4px,#d2ff2d 19.4px,#acff53 20.4px,#63ff9c 21.4px,#0007ff 22.4px,#0038ff 23.4px,#0051ff 28.4px,#0089ff 34.3px,#0bf 42.3px,#00fcff 57.2px,#80ff7f 95px,#ff0 114.9px,#ff8000 119.9px,#fe0000 127.9px,#e50000 138.8px,#e60000 201.5px)"></i><i style="background:linear-gradient(90deg,#ea0000 3.5px,#f40000 9.5px,#ff0b00 10.5px,#ff5700 11.5px,#ff9200 12.5px,#ffe300 14.4px,#fffe00 15.4px,#f1ff0e 16.4px,#d4ff2b 18.4px,#9eff61 20.4px,#52ffad 21.4px,#0005ff 22.4px,#04f 23.4px,#004bff 24.4px,#005bff 28.4px,#0090ff 34.3px,#0bf 41.3px,#0ff 57.2px,#31ffce 69.2px,#80ff7f 95px,#fffc00 114.9px,#ff7500 119.9px,#ff0700 125.9px,#fc0000 126.9px,#e50000 135.8px,#e60000 201.5px)"></i><i style="background:linear-gradient(90deg,#e80000 3.5px,#fa0000 11.5px,#ff8a00 13.4px,#ffda00 15.4px,#fff700 16.4px,#f5ff0a 17.4px,#cbff34 19.4px,#9fff60 20.4px,#09fff6 21.4px,#01f 22.4px,#004bff 23.4px,#005dff 28.4px,#0091ff 34.3px,#0bf 41.3px,#0ff 57.2px,#31ffce 69.2px,#80ff7f 95px,#fffe00 114.9px,#ff7d00 119.9px,#ff0500 126.9px,#fc0000 127.9px,#e50000 137.8px,#e60000 201.5px)"></i><i style="background:linear-gradient(90deg,#e80000 3.5px,#fa0000 11.5px,#ff8a00 13.4px,#ffda00 15.4px,#fff700 16.4px,#f5ff0a 17.4px,#cbff34 19.4px,#9fff60 20.4px,#08fff7 21.4px,#01f 22.4px,#0038ff 23.4px,#004eff 28.4px,#0086ff 34.3px,#00b9ff 42.3px,#00fcff 57.2px,#83ff7c 95px,#fdff02 113.9px,#f80 118.9px,#ff0300 126.9px,#e60000 137.8px,#e60000 201.5px)"></i><i style="background:linear-gradient(90deg,#e80000 3.5px,#fd0000 11.5px,#ff8c00 13.4px,#ffdc00 15.4px,#fff700 16.4px,#f4ff0b 17.4px,#c7ff38 19.4px,#9f6 20.4px,#00b6ff 21.4px,#0015ff 22.4px,#0027ff 23.4px,#0039ff 27.4px,#007cff 34.3px,#00adff 41.3px,#00feff 58.2px,#7eff81 95px,#fcff03 114.9px,#fe0 115.9px,#ff7f00 119.9px,#f00 126.9px,#e60000 136.8px,#e60000 201.5px)"></i><i style="background:linear-gradient(90deg,#e60000 3.5px,#f50000 12.5px,#ff8700 14.4px,#fff900 17.4px,#efff10 18.4px,#d9ff26 19.4px,#b1ff4e 20.4px,#4effb1 21.4px,#000eff 22.4px,#002eff 27.4px,#0075ff 34.3px,#00a7ff 41.3px,#00fdff 58.2px,#80ff7f 94px,#feff01 112.9px,#ff7f00 118.9px,#f00 127.9px,#e60000 139.8px,#e60000 201.5px)"></i><i style="background:linear-gradient(90deg,#e70000 3.5px,#f40000 11.5px,#ff0d00 12.5px,#ff5a00 13.4px,#ff9400 14.4px,#ffe300 16.4px,#fffe00 17.4px,#eaff15 18.4px,#d3ff2c 19.4px,#9fff60 20.4px,#009eff 21.4px,#0019ff 22.4px,#0013ff 23.4px,#0028ff 27.4px,#0071ff 34.3px,#00a4ff 41.3px,#00fbff 58.2px,#81ff7e 95px,#fcff03 113.9px,#fff000 114.9px,#ff8100 118.9px,#ff0200 125.9px,#e60000 135.8px,#e60000 201.5px)"></i><i style="background:linear-gradient(90deg,#e70000 3.5px,#f40000 11.5px,#ff1200 12.5px,#ff5f00 13.4px,#ff9600 14.4px,#ffe500 16.4px,#ff0 17.4px,#e9ff16 18.4px,#d2ff2d 19.4px,#9cff63 20.4px,#007dff 21.4px,#001aff 22.4px,#000fff 23.4px,#0025ff 27.4px,#006eff 34.3px,#00a3ff 41.3px,#0ff 59.2px,#82ff7d 95px,#feff01 113.9px,#ff8000 119.9px,#f00 128.9px,#e60000 140.8px,#e60000 201.5px)"></i><i style="background:linear-gradient(90deg,#e60000 3.5px,#f40000 12.5px,#ff2b00 13.4px,#ff7800 14.4px,#ffa400 15.4px,#fff400 17.4px,#f2ff0d 18.4px,#daff25 19.4px,#adff52 20.4px,#28ffd7 21.4px,#0015ff 22.4px,#0012ff 23.4px,#0028ff 27.4px,#0070ff 34.3px,#00a4ff 41.3px,#00fbff 58.2px,#81ff7e 95px,#fcff03 113.9px,#fff200 114.9px,#ff7f00 119.9px,#fd0000 128.9px,#e60000 139.8px,#e60000 201.5px)"></i><i style="background:linear-gradient(90deg,#e60000 3.5px,#f40000 12.5px,#ff2100 13.4px,#ff6e00 14.4px,#ffca00 16.4px,#fff200 17.4px,#f5ff0a 18.4px,#bfff40 20.4px,#79ff86 21.4px,#0009ff 22.4px,#0025ff 27.4px,#006eff 34.3px,#00a3ff 41.3px,#0ff 59.2px,#82ff7d 95px,#fdff02 113.9px,#ffef00 114.9px,#f70 120.9px,#f00 129.9px,#e60000 142.8px,#e60000 201.5px)"></i><i style="background:linear-gradient(90deg,#e60000 3.5px,#f40000 12.5px,#ff1700 13.4px,#ff6400 14.4px,#fff100 17.4px,#f5ff0a 18.4px,#df2 19.4px,#b5ff4a 20.4px,#47ffb8 21.4px,#01f 22.4px,#000fff 23.4px,#0026ff 27.4px,#006fff 34.3px,#00a3ff 41.3px,#00fbff 58.2px,#7eff81 94px,#fffc00 113.9px,#ff7f00 119.9px,#ff0400 128.9px,#fd0000 129.9px,#e60000 141.8px,#e60000 201.5px)"></i><i style="background:linear-gradient(90deg,#e60000 3.5px,#f40000 12.5px,#ff0f00 13.4px,#ff5b00 14.4px,#ff9500 15.4px,#fe0 17.4px,#f9ff06 18.4px,#cbff34 20.4px,#9aff65 21.4px,#004cff 22.4px,#0006ff 23.4px,#002dff 28.4px,#006eff 34.3px,#00a3ff 41.3px,#0ff 59.2px,#54ffab 80.1px,#7eff81 94px,#fffb00 113.9px,#ff7f00 119.9px,#fd0000 129.9px,#e60000 142.8px,#e60000 201.5px)"></i><i style="background:linear-gradient(90deg,#e60000 3.5px,#f50000 13.4px,#ff3800 14.4px,#ff8300 15.4px,#ffe100 17.4px,#feff01 18.4px,#d1ff2e 20.4px,#9eff61 21.4px,#0052ff 22.4px,#0015ff 23.4px,#00a9ff 41.3px,#00fdff 58.2px,#80ff7f 94px,#feff01 112.9px,#ff8100 118.9px,#ff0100 127.9px,#e60000 140.8px,#e60000 201.5px)"></i><i style="background:linear-gradient(90deg,#e60000 3.5px,#f40000 12.5px,#ff2b00 13.4px,#ff7800 14.4px,#ffa400 15.4px,#fff400 17.4px,#f3ff0c 18.4px,#b7ff48 20.4px,#5bffa4 21.4px,#000dff 22.4px,#002aff 23.4px,#003bff 27.4px,#007eff 34.3px,#00aeff 41.3px,#00fbff 57.2px,#7fff80 93px,#feff01 112px,#ff7900 119.9px,#fe0000 130.9px,#e60000 145.8px,#e60000 201.5px)"></i><i style="background:linear-gradient(90deg,#e60000 3.5px,#f40000 13.4px,#ff1500 14.4px,#ff6400 15.4px,#ffd400 17.4px,#fffc00 18.4px,#e7ff18 19.4px,#c4ff3b 20.4px,#5effa1 21.4px,#01f 22.4px,#003bff 23.4px,#0050ff 28.4px,#08f 34.3px,#00baff 42.3px,#00fdff 57.2px,#83ff7c 94px,#fffb00 112.9px,#ff7a00 119.9px,#f00 129.9px,#e60000 143.8px,#e60000 201.5px)"></i><i style="background:linear-gradient(90deg,#e60000 3.5px,#f50000 13.4px,#f80 15.4px,#ffe500 17.4px,#faff05 18.4px,#b7ff48 20.4px,#3effc1 21.4px,#0014ff 22.4px,#003aff 23.4px,#004fff 28.4px,#0087ff 34.3px,#00baff 42.3px,#00fdff 57.2px,#81ff7e 94px,#fdff02 112.9px,#fff100 113.9px,#ff7d00 119.9px,#fe0000 129.9px,#e60000 143.8px,#e60000 201.5px)"></i><i style="background:linear-gradient(90deg,#e60000 3.5px,#f40000 12.5px,#ff0800 13.4px,#ff9100 15.4px,#ffeb00 17.4px,#f9ff06 18.4px,#c0ff3f 20.4px,#71ff8e 21.4px,#000bff 22.4px,#0024ff 23.4px,#0038ff 27.4px,#007bff 34.3px,#00acff 41.3px,#0ff 58.2px,#82ff7d 94px,#fffb00 112.9px,#ff8000 118.9px,#fe0000 128.9px,#e60000 141.8px,#e60000 201.5px)"></i><i style="background:linear-gradient(90deg,#e60000 3.5px,#f50000 13.4px,#ff3500 14.4px,#ff8100 15.4px,#ffe000 17.4px,#fdff02 18.4px,#c3ff3c 20.4px,#6fff90 21.4px,#000dff 22.4px,#0025ff 27.4px,#006eff 34.3px,#00a3ff 41.3px,#00fbff 58.2px,#7fff80 94px,#fcff03 112.9px,#fff300 113.9px,#ff7c00 119.9px,#fe0000 129.9px,#e60000 142.8px,#e60000 201.5px)"></i><i style="background:linear-gradient(90deg,#e60000 3.5px,#f40000 12.5px,#ff1800 13.4px,#ff6500 14.4px,#fff100 17.4px,#f6ff09 18.4px,#c0ff3f 20.4px,#7aff85 21.4px,#0009ff 22.4px,#0000f9 23.4px,#0016ff 27.4px,#0064ff 34.3px,#009bff 41.3px,#00fcff 59.2px,#7dff82 94px,#fffc00 113.9px,#ff7d00 119.9px,#f00 128.9px,#e60000 141.8px,#e60000 201.5px)"></i><i style="background:linear-gradient(90deg,#e60000 3.5px,#fa0000 13.4px,#ff8b00 15.4px,#ffe700 17.4px,#fbff04 18.4px,#c5ff3a 20.4px,#83ff7c 21.4px,#0009ff 22.4px,#0000f8 23.4px,#0016ff 27.4px,#0064ff 34.3px,#009bff 41.3px,#00fbff 59.2px,#80ff7f 96px,#fffc00 115.9px,#ff7600 120.9px,#fd0000 127.9px,#e60000 136.8px,#e60000 201.5px)"></i><i style="background:linear-gradient(90deg,#e60000 3.5px,#f40000 12.5px,#ff2600 13.4px,#ff7300 14.4px,#fc0 16.4px,#fff400 17.4px,#f4ff0b 18.4px,#bf4 20.4px,#6bff94 21.4px,#000bff 22.4px,#0004ff 23.4px,#001eff 27.4px,#0069ff 34.3px,#009fff 41.3px,#00fdff 59.2px,#80ff7f 95px,#fff700 114.9px,#ff7b00 120.9px,#f00 129.9px,#e60000 142.8px,#e60000 201.5px)"></i><i style="background:linear-gradient(90deg,#e60000 3.5px,#f40000 12.5px,#ff1000 13.4px,#ff5c00 14.4px,#ff9600 15.4px,#fe0 17.4px,#f7ff08 18.4px,#c0ff3f 20.4px,#76ff89 21.4px,#000aff 22.4px,#0007ff 23.4px,#0021ff 27.4px,#006bff 34.3px,#00a1ff 41.3px,#00fdff 59.2px,#52ffad 80.1px,#7eff81 95px,#feff01 114.9px,#ff8300 119.9px,#f00 127.9px,#e60000 138.8px,#e60000 201.5px)"></i><i style="background:linear-gradient(90deg,#e70000 3.5px,#f40000 11.5px,#ff2300 12.5px,#ff6f00 13.4px,#ff9f00 14.4px,#ffec00 16.4px,#fcff03 17.4px,#d4ff2b 19.4px,#a9ff56 20.4px,#41ffbe 21.4px,#000eff 22.4px,#0005ff 23.4px,#001dff 27.4px,#0069ff 34.3px,#009fff 41.3px,#00fdff 59.2px,#7fff80 95px,#fff800 114.9px,#ff7e00 119.9px,#f00 127.9px,#e60000 138.8px,#e60000 201.5px)"></i><i style="background:linear-gradient(90deg,#e70000 3.5px,#f40000 11.5px,#ff2600 12.5px,#ff7200 13.4px,#ffa100 14.4px,#fe0 16.4px,#fbff04 17.4px,#d4ff2b 19.4px,#abff54 20.4px,#49ffb6 21.4px,#000dff 22.4px,#000bff 23.4px,#0023ff 27.4px,#006dff 34.3px,#00a2ff 41.3px,#0ff 59.2px,#54ffab 80.1px,#7eff81 94px,#ff0 113.9px,#ff7e00 119.9px,#ff0100 128.9px,#e60000 141.8px,#e60000 201.5px)"></i><i style="background:linear-gradient(90deg,#e70000 3.5px,#f40000 11.5px,#ff1300 12.5px,#ff5f00 13.4px,#ff9700 14.4px,#ffe500 16.4px,#ff0 17.4px,#e9ff16 18.4px,#d3ff2c 19.4px,#9fff60 20.4px,#00b0ff 21.4px,#0018ff 22.4px,#002eff 27.4px,#0074ff 34.3px,#00a7ff 41.3px,#00fcff 58.2px,#7fff80 95px,#feff01 114.9px,#ff7d00 120.9px,#fe0000 129.9px,#e60000 141.8px,#e60000 201.5px)"></i><i style="background:linear-gradient(90deg,#e70000 3.5px,#f40000 11.5px,#ff2000 12.5px,#ff6c00 13.4px,#ff9d00 14.4px,#ffeb00 16.4px,#fdff02 17.4px,#d4ff2b 19.4px,#abff54 20.4px,#45ffba 21.4px,#000eff 22.4px,#0025ff 23.4px,#0038ff 27.4px,#007cff 34.3px,#00acff 41.3px,#00feff 58.2px,#7eff81 95px,#fcff03 114.9px,#fff100 115.9px,#ff7a00 120.9px,#fe0000 128.9px,#e60000 139.8px,#e60000 201.5px)"></i><i style="background:linear-gradient(90deg,#e70000 3.5px,#f40000 11.5px,#ff0d00 12.5px,#ff5900 13.4px,#ff9300 14.4px,#ffe200 16.4px,#fffe00 17.4px,#ebff14 18.4px,#d7ff28 19.4px,#afff50 20.4px,#4fffb0 21.4px,#000dff 22.4px,#0024ff 23.4px,#0037ff 27.4px,#007bff 34.3px,#00acff 41.3px,#00feff 58.2px,#80ff7f 95px,#fff700 114.9px,#ff7a00 120.9px,#fe0000 129.9px,#e60000 142.8px,#e60000 201.5px)"></i><i style="background:linear-gradient(90deg,#e70000 3.5px,#f40000 11.5px,#ff1600 12.5px,#ff6200 13.4px,#ff9800 14.4px,#ffe600 16.4px,#ff0 17.4px,#d4ff2b 19.4px,#a7ff58 20.4px,#30ffcf 21.4px,#01f 22.4px,#00a9ff 41.3px,#00fdff 58.2px,#7fff80 95px,#feff01 114.9px,#ff8200 120.9px,#ff0400 129.9px,#fd0000 130.9px,#e60000 142.8px,#e60000 201.5px)"></i><i style="background:linear-gradient(90deg,#e60000 3.5px,#f30000 11.5px,#ff0400 12.5px,#ff8f00 14.4px,#fffc00 17.4px,#ecff13 18.4px,#d4ff2b 19.4px,#a2ff5d 20.4px,#00b8ff 21.4px,#0018ff 22.4px,#0034ff 27.4px,#0079ff 34.3px,#0af 41.3px,#00fdff 58.2px,#7fff80 95px,#fffe00 114.9px,#ff7e00 120.9px,#f00 129.9px,#e60000 142.8px,#e60000 201.5px)"></i><i style="background:linear-gradient(90deg,#e70000 3.5px,#f40000 11.5px,#ff2600 12.5px,#ff7300 13.4px,#ffa100 14.4px,#fe0 16.4px,#fbff04 17.4px,#d3ff2c 19.4px,#a7ff58 20.4px,#38ffc7 21.4px,#000fff 22.4px,#002cff 23.4px,#003dff 27.4px,#007fff 34.3px,#00afff 41.3px,#0ff 58.2px,#7eff81 95px,#fbff04 114.9px,#fff600 115.9px,#ff8300 120.9px,#fe0000 129.9px,#e60000 141.8px,#e60000 201.5px)"></i><i style="background:linear-gradient(90deg,#e80000 3.5px,#f60000 11.5px,#f80 13.4px,#fff600 16.4px,#f5ff0a 17.4px,#cdff32 19.4px,#a1ff5e 20.4px,#2cffd3 21.4px,#0010ff 22.4px,#003aff 23.4px,#0050ff 28.4px,#08f 34.3px,#00baff 42.3px,#00fcff 57.2px,#7fff80 95px,#fcff03 114.9px,#fff400 115.9px,#f70 121.9px,#fd0000 130.9px,#e60000 142.8px,#e60000 201.5px)"></i><i style="background:linear-gradient(90deg,#e70000 3.5px,#f40000 11.5px,#ff1800 12.5px,#ff6500 13.4px,#f90 14.4px,#ffe700 16.4px,#feff01 17.4px,#d5ff2a 19.4px,#a9ff56 20.4px,#39ffc6 21.4px,#0010ff 22.4px,#0046ff 23.4px,#0059ff 28.4px,#008eff 34.3px,#00b9ff 41.3px,#00feff 57.2px,#7fff80 95px,#fcff03 114.9px,#fff200 115.9px,#ff7d00 120.9px,#ff0300 128.9px,#fc0000 129.9px,#e50000 140.8px,#e60000 201.5px)"></i><i style="background:linear-gradient(90deg,#e60000 3.5px,#f50000 12.5px,#ff8300 14.4px,#fff800 17.4px,#efff10 18.4px,#d6ff29 19.4px,#a3ff5c 20.4px,#00a4ff 21.4px,#001aff 22.4px,#003bff 23.4px,#0050ff 28.4px,#0087ff 34.3px,#00baff 42.3px,#00fcff 57.2px,#7fff80 95px,#feff01 114.9px,#ff7900 120.9px,#fe0000 128.9px,#e60000 139.8px,#e60000 201.5px)"></i><i style="background:linear-gradient(90deg,#e80000 3.5px,#f50000 11.5px,#ff3500 12.5px,#ff8100 13.4px,#fff200 16.4px,#f8ff07 17.4px,#cfff30 19.4px,#a0ff5f 20.4px,#00f8ff 21.4px,#0013ff 22.4px,#002aff 27.4px,#0072ff 34.3px,#00a5ff 41.3px,#00fbff 58.2px,#7fff80 95px,#feff01 114.9px,#ff8500 120.9px,#fe0000 130.9px,#e60000 143.8px,#e60000 181.6px,#ff7f00 182.6px,#e60000 183.6px,#e60000 201.5px)"></i><i style="background:linear-gradient(90deg,#e60000 3.5px,#f70000 12.5px,#ff8900 14.4px,#fffa00 17.4px,#edff12 18.4px,#d3ff2c 19.4px,#9bff64 20.4px,#002cff 21.4px,#0000e5 22.4px,#00f 25.4px,#000dff 27.4px,#005eff 34.3px,#009eff 42.3px,#03fffc 61.2px,#81ff7e 96px,#faff05 114.9px,#fff600 115.9px,#ff8500 120.9px,#f00 129.9px,#e60000 141.8px,#e60000 181.6px,#ff3200 182.6px,#e60000 183.6px,#e60000 201.5px)"></i><i style="background:linear-gradient(90deg,#e70000 3.5px,#f40000 11.5px,#ff0a00 12.5px,#ff5700 13.4px,#ff9200 14.4px,#fffd00 17.4px,#eaff15 18.4px,#d3ff2c 19.4px,#9dff62 20.4px,#007dff 21.4px,#001aff 22.4px,#0000f8 23.4px,#0013ff 27.4px,#0061ff 34.3px,#009aff 41.3px,#01fffe 60.2px,#52ffad 80.1px,#7dff82 94px,#feff01 113.9px,#ff7e00 119.9px,#f00 128.9px,#e60000 140.8px,#e60000 181.6px,#ff1e00 182.6px,#ff6300 183.6px,#e60000 184.6px,#e60000 201.5px)"></i><i style="background:linear-gradient(90deg,#e70000 3.5px,#f40000 11.5px,#ff1400 12.5px,#ff6000 13.4px,#ff9700 14.4px,#ffe600 16.4px,#ff0 17.4px,#d2ff2d 19.4px,#9dff62 20.4px,#008cff 21.4px,#0019ff 22.4px,#03f 27.4px,#0078ff 34.3px,#0af 41.3px,#00feff 58.2px,#7eff81 94px,#fffb00 113.9px,#ff7600 119.9px,#f00 127.9px,#e60000 139.8px,#e60000 201.5px)"></i><i style="background:linear-gradient(90deg,#e60000 3.5px,#f40000 12.5px,#ff1200 13.4px,#ff5f00 14.4px,#ff9700 15.4px,#ffef00 17.4px,#f5ff0a 18.4px,#d9ff26 19.4px,#a4ff5b 20.4px,#0063ff 21.4px,#004aff 22.4px,#005eff 27.4px,#00bfff 41.3px,#00fcff 56.2px,#83ff7c 95px,#feff01 113.9px,#ff8200 119.9px,#ff0300 128.9px,#fd0000 129.9px,#e50000 141.8px,#e60000 181.6px,#ff5c00 182.6px,#ffa300 183.6px,#e50000 184.6px,#e60000 201.5px)"></i><i style="background:linear-gradient(90deg,#e60000 3.5px,#f40000 12.5px,#ff2800 13.4px,#ff7500 14.4px,#ffcd00 16.4px,#fff400 17.4px,#f3ff0c 18.4px,#b6ff49 20.4px,#52ffad 21.4px,#000fff 22.4px,#0059ff 23.4px,#0068ff 28.4px,#09f 34.3px,#00c1ff 41.3px,#00fdff 56.2px,#82ff7d 95px,#fcff03 113.9px,#fff200 114.9px,#ff7b00 119.9px,#fe0000 127.9px,#e50000 138.8px,#e60000 182.6px,#ff7200 183.6px,#e50000 184.6px,#e50000 201.5px)"></i><i style="background:linear-gradient(90deg,#e60000 3.5px,#f50000 12.5px,#ff8400 14.4px,#fff800 17.4px,#f0ff0f 18.4px,#d9ff26 19.4px,#aeff51 20.4px,#37ffc8 21.4px,#0012ff 22.4px,#0039ff 23.4px,#004eff 28.4px,#0087ff 34.3px,#00baff 42.3px,#00fbff 57.2px,#7fff80 95px,#fcff03 114.9px,#f70 120.9px,#ff0400 127.9px,#fc0000 128.9px,#e60000 138.8px,#e60000 182.6px,#ffd000 183.6px,#e60000 184.6px,#e60000 201.5px)"></i><i style="background:linear-gradient(90deg,#e60000 3.5px,#f50000 13.4px,#ff8600 15.4px,#ffe300 17.4px,#feff01 18.4px,#d3ff2c 20.4px,#a2ff5d 21.4px,#008eff 22.4px,#000aff 23.4px,#0072ff 34.3px,#00a5ff 41.3px,#00fbff 58.2px,#7fff80 95px,#fffc00 114.9px,#ff7800 119.9px,#fe0000 126.9px,#e60000 136.8px,#e60000 182.6px,#ffb900 183.6px,#ff5c00 184.6px,#e60000 185.6px,#e60000 201.5px)"></i><i style="background:linear-gradient(90deg,#e70000 3.5px,#f40000 11.5px,#ff1300 12.5px,#ff5f00 13.4px,#ff9700 14.4px,#ffe500 16.4px,#ff0 17.4px,#ecff13 18.4px,#bf4 20.4px,#89ff76 21.4px,#002eff 22.4px,#0003ff 23.4px,#002aff 28.4px,#006cff 34.3px,#00a1ff 41.3px,#00fdff 59.2px,#80ff7f 96px,#f8ff07 114.9px,#fffe00 115.9px,#ff7e00 119.9px,#f00 125.9px,#e60000 134.8px,#e60000 181.6px,#ffcb00 182.6px,#d0ff2f 183.6px,#ffc400 184.6px,#ff2800 185.6px,#e60000 186.6px,#e60000 201.5px)"></i><i style="background:linear-gradient(90deg,#e60000 3.5px,#f40000 12.5px,#ff2400 13.4px,#ff7000 14.4px,#ffcb00 16.4px,#fff300 17.4px,#f4ff0b 18.4px,#bf4 20.4px,#6aff95 21.4px,#000bff 22.4px,#0008ff 23.4px,#0021ff 27.4px,#006bff 34.3px,#00a1ff 41.3px,#00feff 59.2px,#80ff7f 95px,#fbff04 113.9px,#fff300 114.9px,#ff7a00 119.9px,#fe0000 127.9px,#e60000 138.8px,#e60000 181.6px,#ff6f00 182.6px,#73ff8c 183.6px,#eaff15 184.6px,#ff6b00 185.6px,#e60000 186.6px,#e60000 201.5px)"></i><i style="background:linear-gradient(90deg,#e60000 3.5px,#f40000 12.5px,#ff0600 13.4px,#ff9100 15.4px,#ffeb00 17.4px,#faff05 18.4px,#c8ff37 20.4px,#95ff6a 21.4px,#0008ff 22.4px,#00a5ff 41.3px,#00fbff 58.2px,#7fff80 95px,#fffe00 114.9px,#ff8700 118.9px,#fe0000 125.9px,#e60000 134.8px,#e60000 182.6px,#61ff9e 183.6px,#daff25 184.6px,#ff7800 185.6px,#e60000 186.6px,#e60000 201.5px)"></i><i style="background:linear-gradient(90deg,#e60000 3.5px,#f40000 12.5px,#ff1a00 13.4px,#ff6700 14.4px,#ffc700 16.4px,#fff100 17.4px,#f6ff09 18.4px,#bcff43 20.4px,#68ff97 21.4px,#000cff 22.4px,#0028ff 27.4px,#0070ff 34.3px,#00a4ff 41.3px,#00fbff 58.2px,#7fff80 94px,#fbff04 112.9px,#fff300 113.9px,#ff7e00 118.9px,#ff0400 126.9px,#fd0000 127.9px,#e60000 138.8px,#e60000 182.6px,#ecff13 183.6px,#ffac00 184.6px,#ff1300 185.6px,#e60000 186.6px,#e60000 201.5px)"></i><i style="background:linear-gradient(90deg,#e60000 3.5px,#f50000 12.5px,#ff8700 14.4px,#fff900 17.4px,#f0ff0f 18.4px,#baff45 20.4px,#76ff89 21.4px,#0008ff 22.4px,#0076ff 34.3px,#00a8ff 41.3px,#00fcff 58.2px,#80ff7f 95px,#fff700 114.9px,#ff7600 119.9px,#fe0000 126.9px,#e60000 136.8px,#e60000 182.6px,#8bff74 183.6px,#fdff02 184.6px,#ff5b00 185.6px,#e60000 186.6px,#e60000 201.5px)"></i><i style="background:linear-gradient(90deg,#e60000 3.5px,#f40000 12.5px,#ff0e00 13.4px,#ff5b00 14.4px,#ff9500 15.4px,#fe0 17.4px,#f7ff08 18.4px,#beff41 20.4px,#69ff96 21.4px,#000cff 22.4px,#00a8ff 41.3px,#00fbff 58.2px,#81ff7e 96px,#fff900 115.9px,#ff7100 119.9px,#ff1600 123.9px,#fe0000 125.9px,#ea0000 128.9px,#e60000 132.8px,#e60000 181.6px,#ffef00 182.6px,#61ff9e 183.6px,#61ff9e 184.6px,#efff10 185.6px,#ff2800 186.6px,#e60000 187.6px,#e60000 201.5px)"></i><i style="background:linear-gradient(90deg,#e60000 3.5px,#f50000 12.5px,#ff3800 13.4px,#ff8200 14.4px,#fff700 17.4px,#f1ff0e 18.4px,#b8ff47 20.4px,#65ff9a 21.4px,#000bff 22.4px,#002aff 27.4px,#0072ff 34.3px,#00a5ff 41.3px,#00fcff 58.2px,#7eff81 94px,#fff800 113.9px,#ff7e00 118.9px,#ff5800 121.9px,#ff4c00 124.9px,#ff0600 128.9px,#f80000 129.9px,#e60000 137.8px,#e60000 182.6px,#61ff9e 183.6px,#61ff9e 184.6px,#c9ff36 185.6px,#ff4600 186.6px,#e60000 187.6px,#e60000 201.5px)"></i><i style="background:linear-gradient(90deg,#e60000 3.5px,#f50000 13.4px,#f80 15.4px,#ffe500 17.4px,#fcff03 18.4px,#c6ff39 20.4px,#83ff7c 21.4px,#0009ff 22.4px,#0000fc 23.4px,#0019ff 27.4px,#06f 34.3px,#009dff 41.3px,#00fcff 59.2px,#80ff7f 95px,#fbff04 113.9px,#fff300 114.9px,#ffa200 118.9px,#ff8d00 125.9px,#ff2700 131.9px,#f00 136.8px,#e60000 142.8px,#e60000 181.6px,#ff9200 182.6px,#61ff9e 183.6px,#61ff9e 184.6px,#b8ff47 185.6px,#ff5300 186.6px,#e60000 187.6px,#e60000 201.5px)"></i><i style="background:linear-gradient(90deg,#e60000 3.5px,#f30000 11.5px,#ff0300 12.5px,#ff8e00 14.4px,#fffc00 17.4px,#ef1 18.4px,#bf4 20.4px,#81ff7e 21.4px,#0005ff 22.4px,#0000e8 23.4px,#0000fc 25.4px,#000bff 27.4px,#005cff 34.3px,#009dff 42.3px,#04fffb 61.2px,#51ffae 80.1px,#80ff7f 95px,#faff05 113.9px,#fff200 114.9px,#ffc700 117.9px,#ffc000 124.9px,#ff9100 130.9px,#ff4f00 143.8px,#ff3100 154.7px,#ff0900 182.6px,#61ff9e 183.6px,#61ff9e 184.6px,#acff53 185.6px,#ff5b00 186.6px,#e60000 187.6px,#e60000 201.5px)"></i><i style="background:linear-gradient(90deg,#e60000 3.5px,#f40000 12.5px,#ff2c00 13.4px,#ff7900 14.4px,#ffa400 15.4px,#fff500 17.4px,#f3ff0c 18.4px,#b6ff49 20.4px,#5fa 21.4px,#000eff 22.4px,#0000e7 23.4px,#0005ff 27.4px,#0058ff 34.3px,#009aff 42.3px,#03fffc 61.2px,#51ffae 80.1px,#7fff80 95px,#c3ff3c 108px,#d9ff26 122.9px,#fffd00 128.9px,#ffd500 133.8px,#ffb800 142.8px,#ff9d00 182.6px,#61ff9e 183.6px,#61ff9e 184.6px,#a6ff59 185.6px,#ff6000 186.6px,#e60000 187.6px,#e60000 201.5px)"></i><i style="background:linear-gradient(90deg,#e60000 3.5px,#f70000 12.5px,#ff8900 14.4px,#fffa00 17.4px,#efff10 18.4px,#b6ff49 20.4px,#6f9 21.4px,#000aff 22.4px,#0000eb 23.4px,#000bff 27.4px,#005cff 34.3px,#009dff 42.3px,#03fffc 61.2px,#45ffba 77.1px,#95ff6a 102px,#b2ff4d 121.9px,#e6ff19 134.8px,#faff05 182.6px,#61ff9e 183.6px,#61ff9e 184.6px,#a2ff5d 185.6px,#ff6300 186.6px,#e60000 187.6px,#e60000 201.5px)"></i><i style="background:linear-gradient(90deg,#e60000 3.5px,#f40000 12.5px,#ff0600 13.4px,#ff9000 15.4px,#ffeb00 17.4px,#f9ff06 18.4px,#bf4 20.4px,#58ffa7 21.4px,#000fff 22.4px,#0000fd 23.4px,#0018ff 27.4px,#0065ff 34.3px,#009cff 41.3px,#00fcff 59.2px,#54ffab 81.1px,#7cff83 95px,#b3ff4c 107px,#cbff34 122.9px,#ff0 131.9px,#ffd800 143.8px,#ffb100 182.6px,#61ff9e 183.6px,#61ff9e 184.6px,#a4ff5b 185.6px,#ff6100 186.6px,#e60000 187.6px,#e60000 201.5px)"></i><i style="background:linear-gradient(90deg,#e60000 3.5px,#f40000 12.5px,#ff2000 13.4px,#ff6c00 14.4px,#ffc900 16.4px,#fff200 17.4px,#f5ff0a 18.4px,#bcff43 20.4px,#6dff92 21.4px,#000bff 22.4px,#00a6ff 41.3px,#00fcff 58.2px,#7eff81 94px,#fffd00 113.9px,#ffe100 115.9px,#ffd700 124.9px,#ffa000 133.8px,#ff8600 143.8px,#ff5f00 181.6px,#ff6f00 182.6px,#61ff9e 183.6px,#61ff9e 184.6px,#aeff51 185.6px,#ff5a00 186.6px,#e60000 187.6px,#e60000 201.5px)"></i><i style="background:linear-gradient(90deg,#e60000 3.5px,#f40000 12.5px,#ff0e00 13.4px,#ff5a00 14.4px,#ff9500 15.4px,#fe0 17.4px,#f8ff07 18.4px,#c3ff3c 20.4px,#80ff7f 21.4px,#0008ff 22.4px,#0026ff 23.4px,#0042ff 28.4px,#007eff 34.3px,#00aeff 41.3px,#0ff 58.2px,#54ffab 80.1px,#7fff80 95px,#fffd00 114.9px,#ffca00 116.9px,#ffbe00 117.9px,#ffb400 124.9px,#ff2b00 143.8px,#ff0a00 153.7px,#f00 160.7px,#ea0000 182.6px,#61ff9e 183.6px,#61ff9e 184.6px,#d3ff2c 185.6px,#ff3e00 186.6px,#e60000 187.6px,#e60000 201.5px)"></i><i style="background:linear-gradient(90deg,#e60000 3.5px,#f50000 12.5px,#f80 14.4px,#fff900 17.4px,#f0ff0f 18.4px,#bf4 20.4px,#7aff85 21.4px,#0007ff 22.4px,#0034ff 23.4px,#004eff 28.4px,#0086ff 34.3px,#00b9ff 42.3px,#00fbff 57.2px,#7fff80 95px,#fbff04 114.9px,#fff000 115.9px,#ffa200 118.9px,#ff9000 125.9px,#ff3000 131.9px,#f00 137.8px,#e60000 143.8px,#e60000 182.6px,#61ff9e 183.6px,#61ff9e 184.6px,#fff300 185.6px,#ff1300 186.6px,#e60000 187.6px,#e60000 201.5px)"></i><i style="background:linear-gradient(90deg,#e60000 3.5px,#f40000 12.5px,#ff1500 13.4px,#ff6100 14.4px,#ff9800 15.4px,#fff000 17.4px,#f5ff0a 18.4px,#dcff23 19.4px,#b0ff4f 20.4px,#2fffd0 21.4px,#0015ff 22.4px,#0049ff 23.4px,#005bff 28.4px,#0090ff 34.3px,#00baff 41.3px,#00feff 57.2px,#34ffcb 70.2px,#7fff80 95px,#fdff02 114.9px,#ffeb00 115.9px,#ff8e00 118.9px,#ff7b00 119.9px,#ff5c00 125.9px,#ff0a00 129.9px,#f50000 130.9px,#e60000 135.8px,#e60000 181.6px,#ff6000 182.6px,#61ff9e 183.6px,#80ff7f 184.6px,#ffc000 185.6px,#e90000 186.6px,#e60000 201.5px)"></i><i style="background:linear-gradient(90deg,#e60000 3.5px,#f50000 12.5px,#ff8700 14.4px,#fff900 17.4px,#f0ff0f 18.4px,#c1ff3e 20.4px,#94ff6b 21.4px,#003bff 22.4px,#0057ff 24.4px,#0065ff 28.4px,#0097ff 34.3px,#00c0ff 41.3px,#00fbff 56.2px,#83ff7c 96px,#faff05 114.9px,#fff400 115.9px,#ff7a00 118.9px,#ff4800 120.9px,#ff2f00 122.9px,#ff3000 124.9px,#fa0000 127.9px,#e50000 130.9px,#e60000 182.6px,#9aff65 183.6px,#fff300 184.6px,#ff4f00 185.6px,#e50000 186.6px,#e50000 201.5px)"></i><i style="background:linear-gradient(90deg,#e60000 3.5px,#f40000 12.5px,#f30 13.4px,#ff8000 14.4px,#fff600 17.4px,#f1ff0e 18.4px,#dbff24 19.4px,#b4ff4b 20.4px,#4fffb0 21.4px,#000fff 22.4px,#004aff 23.4px,#005cff 28.4px,#0091ff 34.3px,#0bf 41.3px,#0ff 57.2px,#34ffcb 70.2px,#7fff80 95px,#fbff04 114.9px,#ffeb00 115.9px,#ff8a00 117.9px,#ff6700 118.9px,#ff0c00 121.9px,#ff0200 122.9px,#e50000 128.9px,#e60000 182.6px,#ffb800 183.6px,#e50000 184.6px,#e60000 201.5px)"></i><i style="background:linear-gradient(90deg,#e60000 3.5px,#f40000 12.5px,#ff0600 13.4px,#ff9100 15.4px,#ffeb00 17.4px,#f9ff06 18.4px,#c5ff3a 20.4px,#87ff78 21.4px,#0008ff 22.4px,#0031ff 23.4px,#004cff 28.4px,#0085ff 34.3px,#00b8ff 42.3px,#00faff 57.2px,#81ff7e 96px,#ff0 115.9px,#ff6b00 119.9px,#ff0100 123.9px,#fa0000 124.9px,#e50000 130.9px,#e60000 181.6px,#f60 182.6px,#ffc000 183.6px,#e60000 184.6px,#e60000 201.5px)"></i><i style="background:linear-gradient(90deg,#e80000 3.5px,#f50000 11.5px,#ff8400 13.4px,#fff400 16.4px,#f7ff08 17.4px,#d3ff2c 19.4px,#adff52 20.4px,#5fffa0 21.4px,#0008ff 22.4px,#0027ff 23.4px,#0043ff 28.4px,#007fff 34.3px,#00b4ff 42.3px,#0ff 58.2px,#54ffab 80.1px,#7fff80 95px,#feff01 114.9px,#ff6d00 118.9px,#ff0300 122.9px,#fa0000 123.9px,#e60000 129.9px,#e60000 181.6px,#ffcd00 182.6px,#e60000 183.6px,#e60000 201.5px)"></i><i style="background:linear-gradient(90deg,#e60000 3.5px,#f40000 12.5px,#ff1b00 13.4px,#ff6700 14.4px,#ffc700 16.4px,#fff100 17.4px,#f5ff0a 18.4px,#dcff23 19.4px,#b2ff4d 20.4px,#3bffc4 21.4px,#0013ff 22.4px,#0037ff 23.4px,#004dff 28.4px,#0086ff 34.3px,#00b9ff 42.3px,#00fbff 57.2px,#7fff80 95px,#fbff04 114.9px,#ffed00 115.9px,#ff7800 118.9px,#ff0f00 122.9px,#fc0000 123.9px,#e50000 130.9px,#e60000 182.6px,#ff6d00 183.6px,#e60000 184.6px,#e60000 201.5px)"></i><i style="background:linear-gradient(90deg,#e60000 3.5px,#f40000 12.5px,#ff2100 13.4px,#ff6d00 14.4px,#ffca00 16.4px,#fff200 17.4px,#f3ff0c 18.4px,#dbff24 19.4px,#adff52 20.4px,#19ffe6 21.4px,#0016ff 22.4px,#0040ff 23.4px,#0054ff 28.4px,#008bff 34.3px,#00bcff 42.3px,#00fdff 57.2px,#83ff7c 95px,#fdff02 113.9px,#ff7600 118.9px,#ff0100 124.9px,#e60000 133.8px,#e60000 201.5px)"></i><i style="background:linear-gradient(90deg,#e80000 3.5px,#f50000 11.5px,#ff8500 13.4px,#fff400 16.4px,#f6ff09 17.4px,#cfff30 19.4px,#a3ff5c 20.4px,#3fc 21.4px,#000fff 22.4px,#0032ff 23.4px,#004aff 28.4px,#0083ff 34.3px,#00b7ff 42.3px,#00fbff 57.2px,#7fff80 94px,#fffc00 113.9px,#ff6d00 117.9px,#ff0900 121.9px,#fc0000 122.9px,#e60000 129.9px,#e60000 201.5px)"></i><i style="background:linear-gradient(90deg,#e70000 3.5px,#f40000 11.5px,#ff0700 12.5px,#ff9100 14.4px,#fffd00 17.4px,#ecff13 18.4px,#d8ff27 19.4px,#b0ff4f 20.4px,#52ffad 21.4px,#000dff 22.4px,#000cff 23.4px,#0023ff 27.4px,#006dff 34.3px,#00a2ff 41.3px,#00feff 59.2px,#52ffad 80.1px,#7fff80 95px,#fff700 114.9px,#ff7800 118.9px,#fd0000 124.9px,#e60000 132.8px,#e60000 201.5px)"></i><i style="background:linear-gradient(90deg,#e70000 3.5px,#f40000 11.5px,#ff2600 12.5px,#ff7200 13.4px,#ffa100 14.4px,#ffed00 16.4px,#fbff04 17.4px,#d4ff2b 19.4px,#abff54 20.4px,#4cffb3 21.4px,#000cff 22.4px,#0000f2 23.4px,#000fff 27.4px,#005fff 34.3px,#009fff 42.3px,#0ff 60.2px,#51ffae 80.1px,#80ff7f 95px,#fbff04 113.9px,#fff100 114.9px,#ff7e00 118.9px,#fe0000 125.9px,#e60000 134.8px,#e60000 182.6px,#ffa300 183.6px,#e60000 184.6px,#e60000 201.5px)"></i><i style="background:linear-gradient(90deg,#e80000 3.5px,#f50000 11.5px,#ff8500 13.4px,#fff400 16.4px,#f7ff08 17.4px,#ceff31 19.4px,#a0ff5f 20.4px,#0cfff3 21.4px,#01f 22.4px,#0000f3 23.4px,#000fff 27.4px,#005fff 34.3px,#009fff 42.3px,#0ff 60.2px,#52ffad 80.1px,#80ff7f 95px,#fbff04 113.9px,#ffef00 114.9px,#ff7a00 118.9px,#ff0400 124.9px,#fc0000 125.9px,#e60000 133.8px,#e60000 181.6px,#ff5800 182.6px,#e60000 183.6px,#e60000 201.5px)"></i><i style="background:linear-gradient(90deg,#e70000 3.5px,#f40000 11.5px,#ff0900 12.5px,#ff5600 13.4px,#ff9200 14.4px,#fffd00 17.4px,#ecff13 18.4px,#d8ff27 19.4px,#b1ff4e 20.4px,#57ffa8 21.4px,#000cff 22.4px,#0002ff 23.4px,#001cff 27.4px,#0068ff 34.3px,#009eff 41.3px,#00fdff 59.2px,#80ff7f 95px,#fbff04 113.9px,#ffed00 114.9px,#ff7000 118.9px,#ff0400 123.9px,#fb0000 124.9px,#e60000 132.8px,#e60000 182.6px,#ff5400 183.6px,#fe0000 184.6px,#e60000 185.6px,#e60000 201.5px)"></i><i style="background:linear-gradient(90deg,#e60000 3.5px,#f50000 12.5px,#ff8600 14.4px,#fff800 17.4px,#f0ff0f 18.4px,#beff41 20.4px,#86ff79 21.4px,#0005ff 22.4px,#0027ff 24.4px,#0036ff 27.4px,#007aff 34.3px,#00abff 41.3px,#00feff 58.2px,#81ff7e 95px,#fcff03 113.9px,#ff7600 118.9px,#fe0000 124.9px,#e60000 133.8px,#e60000 182.6px,#ff1900 183.6px,#e60000 184.6px,#e60000 201.5px)"></i><i style="background:linear-gradient(90deg,#e60000 3.5px,#f30000 11.5px,#ff0500 12.5px,#ff8f00 14.4px,#fffc00 17.4px,#edff12 18.4px,#b7ff48 20.4px,#70ff8f 21.4px,#0008ff 22.4px,#0035ff 23.4px,#004fff 28.4px,#0087ff 34.3px,#00baff 42.3px,#03fffc 58.2px,#82ff7d 95px,#fcff03 113.9px,#fff000 114.9px,#ff7900 118.9px,#ff0200 124.9px,#e60000 133.8px,#e60000 181.6px,#fa0000 182.6px,#e60000 183.6px,#e60000 201.5px)"></i><i style="background:linear-gradient(90deg,#e70000 3.5px,#f40000 11.5px,#ff1400 12.5px,#ff6000 13.4px,#ff9700 14.4px,#ffe500 16.4px,#ff0 17.4px,#d6ff29 19.4px,#aeff51 20.4px,#50ffaf 21.4px,#000cff 22.4px,#0037ff 23.4px,#004dff 28.4px,#0086ff 34.3px,#00b9ff 42.3px,#00fcff 57.2px,#81ff7e 95px,#fbff04 113.9px,#fff500 114.9px,#ff7300 119.9px,#ff0800 125.9px,#fd0000 126.9px,#e60000 136.8px,#e60000 201.5px)"></i><i style="background:linear-gradient(90deg,#e60000 3.5px,#f50000 12.5px,#ff3700 13.4px,#ff8200 14.4px,#fff700 17.4px,#f2ff0d 18.4px,#c2ff3d 20.4px,#92ff6d 21.4px,#0028ff 22.4px,#001fff 23.4px,#00acff 41.3px,#00feff 58.2px,#82ff7d 95px,#feff01 113.9px,#ff7900 118.9px,#fd0000 125.9px,#e60000 134.8px,#e60000 201.5px)"></i><i style="background:linear-gradient(90deg,#e60000 3.5px,#f40000 12.5px,#ff2a00 13.4px,#ff7600 14.4px,#ffa300 15.4px,#fff400 17.4px,#f3ff0c 18.4px,#baff45 20.4px,#69ff96 21.4px,#000bff 22.4px,#0027ff 27.4px,#0070ff 34.3px,#00a4ff 41.3px,#0ff 59.2px,#52ffad 80.1px,#7eff81 95px,#fdff02 114.9px,#ffeb00 115.9px,#ff8000 119.9px,#ff0600 126.9px,#fd0000 127.9px,#e60000 137.8px,#e60000 201.5px)"></i><i style="background:linear-gradient(90deg,#e60000 3.5px,#f30000 11.5px,#ff0300 12.5px,#ff8f00 14.4px,#fffc00 17.4px,#ecff13 18.4px,#d7ff28 19.4px,#abff54 20.4px,#35ffca 21.4px,#01f 22.4px,#0000fd 23.4px,#0018ff 27.4px,#0065ff 34.3px,#009cff 41.3px,#02fffd 60.2px,#52ffad 80.1px,#80ff7f 95px,#fcff03 113.9px,#fe0 114.9px,#ff7a00 118.9px,#ff0600 124.9px,#fc0000 125.9px,#e60000 134.8px,#e60000 181.6px,#ffa900 182.6px,#e60000 183.6px,#e60000 201.5px)"></i><i style="background:linear-gradient(90deg,#e60000 3.5px,#fa0000 12.5px,#ff8a00 14.4px,#fffa00 17.4px,#ef1 18.4px,#d9ff26 19.4px,#b0ff4f 20.4px,#4affb5 21.4px,#000eff 22.4px,#0003ff 23.4px,#001cff 27.4px,#0068ff 34.3px,#009eff 41.3px,#00fdff 59.2px,#7dff82 94px,#ff0 113.9px,#ff8000 118.9px,#fe0000 126.9px,#e60000 136.8px,#e60000 201.5px)"></i><i style="background:linear-gradient(90deg,#e60000 3.5px,#f50000 12.5px,#ff8700 14.4px,#fff900 17.4px,#efff10 18.4px,#d9ff26 19.4px,#afff50 20.4px,#41ffbe 21.4px,#0010ff 22.4px,#000aff 23.4px,#0021ff 27.4px,#006cff 34.3px,#00a1ff 41.3px,#00feff 59.2px,#53ffac 80.1px,#7dff82 94px,#feff01 113.9px,#f70 118.9px,#ff0800 124.9px,#fd0000 125.9px,#e60000 134.8px,#e60000 201.5px)"></i><i style="background:linear-gradient(90deg,#e60000 3.5px,#f40000 12.5px,#ff3000 13.4px,#ff7c00 14.4px,#fff500 17.4px,#f2ff0d 18.4px,#b9ff46 20.4px,#6f9 21.4px,#000bff 22.4px,#0028ff 27.4px,#0071ff 34.3px,#00a4ff 41.3px,#00fcff 58.2px,#7eff81 93px,#fbff04 112px,#fff300 112.9px,#ff8400 117.9px,#f00 126.9px,#e60000 138.8px,#e60000 201.5px)"></i><i style="background:linear-gradient(90deg,#e70000 3.5px,#f40000 11.5px,#ff3100 12.5px,#ff7e00 13.4px,#fff100 16.4px,#f9ff06 17.4px,#d3ff2c 19.4px,#af5 20.4px,#4cffb3 21.4px,#000cff 22.4px,#002aff 27.4px,#0072ff 34.3px,#00a5ff 41.3px,#00fcff 58.2px,#7eff81 93px,#fcff03 112px,#fff100 112.9px,#f70 118.9px,#fe0000 127.9px,#e60000 140.8px,#e60000 201.5px)"></i><i style="background:linear-gradient(90deg,#e70000 3.5px,#f40000 11.5px,#ff2a00 12.5px,#ff7600 13.4px,#ffa300 14.4px,#ffef00 16.4px,#fbff04 17.4px,#d5ff2a 19.4px,#b1ff4e 20.4px,#6aff95 21.4px,#0007ff 22.4px,#0076ff 34.3px,#00a8ff 41.3px,#00fdff 58.2px,#7fff80 94px,#faff05 112.9px,#fff400 113.9px,#ff8700 117.9px,#ff0700 124.9px,#fd0000 125.9px,#e60000 135.8px,#e60000 201.5px)"></i><i style="background:linear-gradient(90deg,#e70000 3.5px,#f40000 11.5px,#ff2e00 12.5px,#ff7b00 13.4px,#fff100 16.4px,#faff05 17.4px,#d4ff2b 19.4px,#acff53 20.4px,#5fa 21.4px,#000aff 22.4px,#0020ff 23.4px,#0035ff 27.4px,#007aff 34.3px,#00abff 41.3px,#0ff 58.2px,#54ffab 79.1px,#7eff81 93px,#fcff03 112px,#fff300 112.9px,#ff7a00 118.9px,#ff0200 127.9px,#e60000 140.8px,#e60000 201.5px)"></i><i style="background:linear-gradient(90deg,#e60000 3.5px,#f30000 11.5px,#ff0100 12.5px,#ff8d00 14.4px,#fffb00 17.4px,#ecff13 18.4px,#d5ff2a 19.4px,#a4ff5b 20.4px,#00d3ff 21.4px,#0017ff 22.4px,#002eff 23.4px,#003eff 27.4px,#0080ff 34.3px,#00afff 41.3px,#00fbff 57.2px,#81ff7e 94px,#feff01 112.9px,#ff7f00 117.9px,#fd0000 125.9px,#e60000 135.8px,#e60000 201.5px)"></i><i style="background:linear-gradient(90deg,#e60000 3.5px,#f30000 11.5px,#ff0100 12.5px,#ff8d00 14.4px,#fffb00 17.4px,#ecff13 18.4px,#d5ff2a 19.4px,#a4ff5b 20.4px,#00d3ff 21.4px,#0017ff 22.4px,#002eff 23.4px,#003eff 27.4px,#0080ff 34.3px,#00afff 41.3px,#00fbff 57.2px,#81ff7e 94px,#feff01 112.9px,#ff7f00 117.9px,#fd0000 125.9px,#e60000 135.8px,#e60000 201.5px)"></i><i style="background:linear-gradient(90deg,#e60000 3.5px,#f30000 11.5px,#ff0100 12.5px,#ff8d00 14.4px,#fffb00 17.4px,#ecff13 18.4px,#d5ff2a 19.4px,#a4ff5b 20.4px,#00d3ff 21.4px,#0017ff 22.4px,#002eff 23.4px,#003eff 27.4px,#0080ff 34.3px,#00afff 41.3px,#00fbff 57.2px,#81ff7e 94px,#feff01 112.9px,#ff7f00 117.9px,#fd0000 125.9px,#e60000 135.8px,#e60000 201.5px)"></i><i style="background:linear-gradient(90deg,#e60000 3.5px,#f30000 11.5px,#ff0100 12.5px,#ff8d00 14.4px,#fffb00 17.4px,#ecff13 18.4px,#d5ff2a 19.4px,#a4ff5b 20.4px,#00d3ff 21.4px,#0017ff 22.4px,#002eff 23.4px,#003eff 27.4px,#0080ff 34.3px,#00afff 41.3px,#00fbff 57.2px,#81ff7e 94px,#feff01 112.9px,#ff7f00 117.9px,#fd0000 125.9px,#e60000 135.8px,#e60000 201.5px)"></i></div><b class="f" style="left:59.7px;top:29.1px;width:119.4px"></b><b class="f" style="left:59.7px;top:88.2px;width:119.4px;background:linear-gradient(90deg,rgba(30,45,30,.42) 43%,rgba(30,45,30,.2) 53%)"></b><b class="v" style="left:178.4px"></b></div>
<span class="t xt" style="left:288.5px;top:291.9px">0</span><span class="t xt" style="left:328.3px;top:291.9px">20</span><span class="t xt" style="left:368.1px;top:291.9px">40</span><span class="t xt" style="left:407.9px;top:291.9px">60</span><span class="t xt" style="left:447.7px;top:291.9px">80</span><span class="t xt" style="left:487.5px;top:291.9px">100</span><span class="t yt" style="left:265.0px;top:282.7px">0</span><span class="t yt" style="left:265.0px;top:243.3px">20</span><span class="t yt" style="left:265.0px;top:203.9px">40</span><span class="t yt" style="left:265.0px;top:164.5px">60</span><span class="xl" style="left:388.0px;top:305.4px">x(m)</span><span class="yl" style="left:264.5px;top:227.3px">y(m)</span><span class="lg" style="left:351.4px;top:267.7px">Length=60 m</span>
<div class="p" style="left:31px;top:328.8px;width:199.5px;height:117.8px"><div class="h"><i style="background:linear-gradient(90deg,#e80000 3.5px,#f50000 11.5px,#ff3700 12.5px,#ff8100 13.5px,#fff300 16.5px,#f8ff07 17.5px,#c9ff36 19.5px,#97ff68 20.5px,#006eff 21.5px,#0019ff 22.5px,#0009ff 23.4px,#0020ff 27.4px,#006bff 34.4px,#00a0ff 41.4px,#00fbff 59.4px,#7eff81 98.3px,#fcff03 119.2px,#fff200 120.2px,#ff8200 125.2px,#f00 134.2px,#e60000 146.1px,#e60000 202px)"></i><i style="background:linear-gradient(90deg,#e80000 3.5px,#f50000 11.5px,#ff3700 12.5px,#ff8100 13.5px,#fff300 16.5px,#f8ff07 17.5px,#c9ff36 19.5px,#97ff68 20.5px,#006eff 21.5px,#0019ff 22.5px,#0009ff 23.4px,#0020ff 27.4px,#006bff 34.4px,#00a0ff 41.4px,#00fbff 59.4px,#7eff81 98.3px,#fcff03 119.2px,#fff200 120.2px,#ff8200 125.2px,#f00 134.2px,#e60000 146.1px,#e60000 202px)"></i><i style="background:linear-gradient(90deg,#e80000 3.5px,#f50000 11.5px,#ff3700 12.5px,#ff8100 13.5px,#fff300 16.5px,#f8ff07 17.5px,#c9ff36 19.5px,#97ff68 20.5px,#006eff 21.5px,#0019ff 22.5px,#0009ff 23.4px,#0020ff 27.4px,#006bff 34.4px,#00a0ff 41.4px,#00fbff 59.4px,#7eff81 98.3px,#fcff03 119.2px,#fff200 120.2px,#ff8200 125.2px,#f00 134.2px,#e60000 146.1px,#e60000 202px)"></i><i style="background:linear-gradient(90deg,#e80000 3.5px,#f50000 11.5px,#ff3700 12.5px,#ff8100 13.5px,#fff300 16.5px,#f8ff07 17.5px,#c9ff36 19.5px,#97ff68 20.5px,#006eff 21.5px,#0019ff 22.5px,#0009ff 23.4px,#0020ff 27.4px,#006bff 34.4px,#00a0ff 41.4px,#00fbff 59.4px,#7eff81 98.3px,#fcff03 119.2px,#fff200 120.2px,#ff8200 125.2px,#f00 134.2px,#e60000 146.1px,#e60000 202px)"></i><i style="background:linear-gradient(90deg,#e70000 3.5px,#f40000 11.5px,#ff1700 12.5px,#ff6400 13.5px,#f90 14.5px,#ffe700 16.5px,#feff01 17.5px,#d3ff2c 19.5px,#a1ff5e 20.5px,#0cf 21.5px,#0016ff 22.5px,#00f 23.4px,#0019ff 27.4px,#06f 34.4px,#009dff 41.4px,#00feff 60.4px,#52ffad 82.3px,#7eff81 98.3px,#fdff02 119.2px,#ffec00 120.2px,#ff7f00 124.2px,#ff0200 131.2px,#e60000 141.2px,#e60000 202px)"></i><i style="background:linear-gradient(90deg,#e60000 3.5px,#f40000 12.5px,#ff1f00 13.5px,#ff6c00 14.5px,#ffc900 16.5px,#fff200 17.5px,#f4ff0b 18.5px,#dbff24 19.5px,#aeff51 20.5px,#24ffdb 21.5px,#0015ff 22.5px,#002fff 27.4px,#0076ff 34.4px,#00a8ff 41.4px,#00feff 59.4px,#7eff81 98.3px,#fffc00 120.2px,#ff7e00 125.2px,#fd0000 133.2px,#e60000 143.1px,#e60000 202px)"></i><i style="background:linear-gradient(90deg,#e70000 3.5px,#f40000 11.5px,#ff2a00 12.5px,#ff7600 13.5px,#ffa300 14.5px,#ffef00 16.5px,#faff05 17.5px,#d1ff2e 19.5px,#a1ff5e 20.5px,#00f9ff 21.5px,#0013ff 22.5px,#003aff 23.4px,#0050ff 28.4px,#08f 34.4px,#00baff 42.4px,#00faff 57.4px,#82ff7d 98.3px,#fbff04 118.2px,#fff500 119.2px,#ff7900 124.2px,#ff0400 131.2px,#fc0000 132.2px,#e60000 142.2px,#e60000 202px)"></i><i style="background:linear-gradient(90deg,#e70000 3.5px,#f40000 11.5px,#ff2300 12.5px,#ff6f00 13.5px,#ff9f00 14.5px,#ffec00 16.5px,#fcff03 17.5px,#d0ff2f 19.5px,#9cff63 20.5px,#0098ff 21.5px,#0018ff 22.5px,#0049ff 23.4px,#0054ff 27.4px,#0090ff 34.4px,#00bfff 42.4px,#00fdff 57.4px,#80ff7f 97.3px,#fff900 118.2px,#ff8400 123.2px,#fe0000 132.2px,#e60000 143.1px,#e60000 202px)"></i><i style="background:linear-gradient(90deg,#e80000 3.5px,#f40000 10.5px,#ff0b00 11.5px,#ff5700 12.5px,#ff9200 13.5px,#ffe200 15.5px,#fffa00 16.5px,#f1ff0e 17.5px,#c2ff3d 19.5px,#92ff6d 20.5px,#0070ff 21.5px,#0017ff 22.5px,#0042ff 23.4px,#05f 28.4px,#008cff 34.4px,#00bdff 42.4px,#00fcff 57.4px,#81ff7e 97.3px,#fff700 118.2px,#ff7a00 124.2px,#fe0000 133.2px,#e60000 145.1px,#e60000 202px)"></i><i style="background:linear-gradient(90deg,#e80000 3.5px,#f50000 11.5px,#ff8500 13.5px,#fff400 16.5px,#f6ff09 17.5px,#d0ff2f 19.5px,#a4ff5b 20.5px,#38ffc7 21.5px,#000eff 22.5px,#003cff 23.4px,#0051ff 28.4px,#0089ff 34.4px,#0bf 42.4px,#00fbff 57.4px,#83ff7c 97.3px,#feff01 117.2px,#ff7b00 123.2px,#ff0400 131.2px,#fd0000 132.2px,#e60000 143.1px,#e60000 202px)"></i><i style="background:linear-gradient(90deg,#e60000 3.5px,#f40000 12.5px,#ff2a00 13.5px,#ff7600 14.5px,#ffa300 15.5px,#fff400 17.5px,#f3ff0c 18.5px,#dbff24 19.5px,#b2ff4d 20.5px,#4fb 21.5px,#01f 22.5px,#003dff 23.4px,#0052ff 28.4px,#0089ff 34.4px,#0bf 42.4px,#00fbff 57.4px,#7fff80 96.3px,#fffe00 117.2px,#ff7500 123.2px,#fd0000 131.2px,#e60000 142.2px,#e60000 202px)"></i><i style="background:linear-gradient(90deg,#e70000 3.5px,#f40000 11.5px,#ff1800 12.5px,#ff6500 13.5px,#ff9a00 14.5px,#ffe700 16.5px,#feff01 17.5px,#d5ff2a 19.5px,#acff53 20.5px,#48ffb7 21.5px,#000dff 22.5px,#0039ff 23.4px,#004fff 28.4px,#0087ff 34.4px,#00baff 42.4px,#00fcff 57.4px,#7fff80 95.3px,#fcff03 115.2px,#fff400 116.2px,#f70 122.2px,#fd0000 131.2px,#e60000 143.1px,#e60000 202px)"></i><i style="background:linear-gradient(90deg,#e70000 3.5px,#f40000 11.5px,#ff1700 12.5px,#ff6400 13.5px,#f90 14.5px,#ffe700 16.5px,#feff01 17.5px,#d2ff2d 19.5px,#9fff60 20.5px,#00b8ff 21.5px,#0017ff 22.5px,#002dff 23.4px,#003dff 27.4px,#007fff 34.4px,#00afff 41.4px,#00feff 58.4px,#81ff7e 96.3px,#ff0 116.2px,#ff7a00 123.2px,#fe0000 133.2px,#e60000 146.1px,#e60000 202px)"></i><i style="background:linear-gradient(90deg,#e60000 3.5px,#f30000 11.5px,#ff0300 12.5px,#ff8f00 14.5px,#fffc00 17.5px,#edff12 18.5px,#d7ff28 19.5px,#adff52 20.5px,#3fffc0 21.5px,#0010ff 22.5px,#0026ff 23.4px,#0038ff 27.4px,#007cff 34.4px,#00acff 41.4px,#00fdff 58.4px,#80ff7f 96.3px,#fdff02 116.2px,#fff100 117.2px,#ff7800 123.2px,#f00 132.2px,#e60000 145.1px,#e60000 202px)"></i><i style="background:linear-gradient(90deg,#e70000 3.5px,#f40000 11.5px,#ff0e00 12.5px,#ff5b00 13.5px,#ff9400 14.5px,#ffe300 16.5px,#fffe00 17.5px,#ebff14 18.5px,#d6ff29 19.5px,#abff54 20.5px,#3effc1 21.5px,#000fff 22.5px,#0028ff 23.4px,#003aff 27.4px,#007dff 34.4px,#00adff 41.4px,#00feff 58.4px,#7fff80 95.3px,#ff0 115.2px,#ff7f00 121.2px,#ff0100 130.2px,#e60000 143.1px,#e60000 202px)"></i><i style="background:linear-gradient(90deg,#e60000 3.5px,#f40000 12.5px,#ff0700 13.5px,#ff9100 15.5px,#ffeb00 17.5px,#f9ff06 18.5px,#bfff40 20.5px,#6bff94 21.5px,#000cff 22.5px,#0024ff 23.4px,#0037ff 27.4px,#007bff 34.4px,#00acff 41.4px,#00fdff 58.4px,#81ff7e 96.3px,#fffe00 116.2px,#ff7800 122.2px,#f00 130.2px,#e60000 142.2px,#e60000 202px)"></i><i style="background:linear-gradient(90deg,#e60000 3.5px,#f40000 12.5px,#ff2600 13.5px,#ff7200 14.5px,#fc0 16.5px,#fff300 17.5px,#f3ff0c 18.5px,#b6ff49 20.5px,#5fa 21.5px,#000eff 22.5px,#000eff 23.4px,#0025ff 27.4px,#006eff 34.4px,#00a3ff 41.4px,#00feff 59.4px,#81ff7e 96.3px,#fffd00 116.2px,#ff8600 121.2px,#fe0000 130.2px,#e60000 141.2px,#e60000 202px)"></i><i style="background:linear-gradient(90deg,#e60000 3.5px,#f40000 12.5px,#ff2800 13.5px,#ff7500 14.5px,#ffcd00 16.5px,#fff400 17.5px,#f3ff0c 18.5px,#b7ff48 20.5px,#58ffa7 21.5px,#000eff 22.5px,#0000f9 23.4px,#0015ff 27.4px,#0063ff 34.4px,#009bff 41.4px,#02fffd 60.4px,#52ffad 79.3px,#7eff81 93.3px,#fdff02 112.2px,#fff300 113.2px,#ff7e00 120.2px,#fe0000 132.2px,#e60000 148.1px,#e60000 202px)"></i><i style="background:linear-gradient(90deg,#e60000 3.5px,#f40000 12.5px,#ff3100 13.5px,#ff7d00 14.5px,#fff600 17.5px,#f2ff0d 18.5px,#dbff24 19.5px,#b5ff4a 20.5px,#54ffab 21.5px,#000eff 22.5px,#00f 23.4px,#001aff 27.4px,#06f 34.4px,#009dff 41.4px,#00fdff 59.4px,#54ffab 80.3px,#7eff81 94.3px,#fbff04 113.2px,#fff600 114.2px,#ff7e00 120.2px,#fe0000 130.2px,#e60000 143.1px,#e60000 202px)"></i><i style="background:linear-gradient(90deg,#e60000 3.5px,#f40000 12.5px,#ff1f00 13.5px,#ff6b00 14.5px,#ffc800 16.5px,#fff200 17.5px,#f5ff0a 18.5px,#b9ff46 20.5px,#5bffa4 21.5px,#000eff 22.5px,#0026ff 27.4px,#006fff 34.4px,#00a3ff 41.4px,#00fbff 58.4px,#7eff81 94.3px,#fff700 114.2px,#ff7d00 120.2px,#ff0400 129.2px,#fd0000 130.2px,#e60000 143.1px,#e60000 202px)"></i><i style="background:linear-gradient(90deg,#e60000 3.5px,#f40000 12.5px,#ff3000 13.5px,#ff7c00 14.5px,#fff500 17.5px,#f3ff0c 18.5px,#c5ff3a 20.5px,#98ff67 21.5px,#0052ff 22.5px,#0017ff 23.4px,#00a9ff 41.4px,#00feff 58.4px,#54ffab 79.3px,#7eff81 93.3px,#fcff03 112.2px,#fff200 113.2px,#ff7c00 119.2px,#fe0000 129.2px,#e60000 142.2px,#e60000 202px)"></i><i style="background:linear-gradient(90deg,#e60000 3.5px,#f30000 12.5px,#ff0100 13.5px,#ff8e00 15.5px,#ffe900 17.5px,#faff05 18.5px,#c8ff37 20.5px,#92ff6d 21.5px,#0006ff 22.5px,#0024ff 24.4px,#03f 27.4px,#0078ff 34.4px,#0af 41.4px,#00feff 58.4px,#80ff7f 94.3px,#fcff03 113.2px,#fff000 114.2px,#ff7f00 119.2px,#fe0000 128.2px,#e60000 140.2px,#e60000 202px)"></i><i style="background:linear-gradient(90deg,#e60000 3.5px,#f40000 12.5px,#ff1f00 13.5px,#ff6b00 14.5px,#ffc900 16.5px,#fff200 17.5px,#f4ff0b 18.5px,#b6ff49 20.5px,#50ffaf 21.5px,#000fff 22.5px,#002aff 23.4px,#003cff 27.4px,#007eff 34.4px,#00aeff 41.4px,#00faff 57.4px,#7eff81 93.3px,#fff800 113.2px,#ff8600 118.2px,#f00 127.2px,#e60000 139.2px,#e60000 202px)"></i><i style="background:linear-gradient(90deg,#e60000 3.5px,#f50000 12.5px,#ff3500 13.5px,#ff8100 14.5px,#fff600 17.5px,#f2ff0d 18.5px,#bf4 20.5px,#72ff8d 21.5px,#0009ff 22.5px,#0030ff 23.4px,#004aff 28.4px,#0084ff 34.4px,#00b8ff 42.4px,#00fcff 57.4px,#7eff81 93.3px,#faff05 112.2px,#fff600 113.2px,#ff7a00 118.2px,#ff0600 125.2px,#fd0000 126.2px,#e60000 136.2px,#e60000 202px)"></i><i style="background:linear-gradient(90deg,#e60000 3.5px,#f50000 12.5px,#ff8500 14.5px,#fff800 17.5px,#f0ff0f 18.5px,#b6ff49 20.5px,#5dffa2 21.5px,#000cff 22.5px,#0036ff 23.4px,#004dff 28.4px,#0086ff 34.4px,#00b9ff 42.4px,#00d5ff 50.4px,#00feff 57.4px,#7fff80 92.3px,#fffd00 111.2px,#ff7600 117.2px,#fe0000 125.2px,#e60000 137.2px,#e60000 202px)"></i><i style="background:linear-gradient(90deg,#e60000 3.5px,#f30000 11.5px,#ff0200 12.5px,#ff8e00 14.5px,#fffc00 17.5px,#ecff13 18.5px,#d4ff2b 19.5px,#a1ff5e 20.5px,#0af 21.5px,#0019ff 22.5px,#0035ff 23.4px,#04f 27.4px,#0084ff 34.4px,#00b2ff 41.4px,#00d4ff 50.4px,#00feff 57.4px,#82ff7d 92.3px,#ff0 110.2px,#ff7800 116.2px,#f00 124.2px,#e60000 136.2px,#e60000 202px)"></i><i style="background:linear-gradient(90deg,#e70000 3.5px,#f40000 11.5px,#ff1e00 12.5px,#ff6a00 13.5px,#ff9c00 14.5px,#ffea00 16.5px,#fdff02 17.5px,#d2ff2d 19.5px,#a2ff5d 20.5px,#00eaff 21.5px,#0014ff 22.5px,#003eff 23.4px,#0052ff 28.4px,#0089ff 34.4px,#0bf 42.4px,#00d7ff 50.4px,#0ff 57.4px,#83ff7c 93.3px,#fcff03 111.2px,#fff000 112.2px,#f80 116.2px,#fe0000 124.2px,#e60000 134.2px,#e60000 202px)"></i><i style="background:linear-gradient(90deg,#e70000 3.5px,#f40000 11.5px,#ff1500 12.5px,#ff6200 13.5px,#ff9800 14.5px,#ffe600 16.5px,#ff0 17.5px,#d3ff2c 19.5px,#a0ff5f 20.5px,#00bfff 21.5px,#0017ff 22.5px,#003cff 23.4px,#0050ff 28.4px,#08f 34.4px,#00baff 42.4px,#00d6ff 50.4px,#00feff 57.4px,#80ff7f 93.3px,#ff0 112.2px,#ff7800 118.2px,#fe0000 126.2px,#e50000 138.2px,#e60000 202px)"></i><i style="background:linear-gradient(90deg,#e80000 3.5px,#f50000 11.5px,#ff8300 13.5px,#fff300 16.5px,#f7ff08 17.5px,#d1ff2e 19.5px,#a5ff5a 20.5px,#39ffc6 21.5px,#000eff 22.5px,#0036ff 23.4px,#004cff 28.4px,#0085ff 34.4px,#00b8ff 42.4px,#00d5ff 50.4px,#00feff 57.4px,#7fff80 92.3px,#fffd00 111.2px,#ff7f00 117.2px,#ff0400 126.2px,#fd0000 127.2px,#e60000 139.2px,#e60000 202px)"></i><i style="background:linear-gradient(90deg,#e70000 3.5px,#f40000 11.5px,#ff0f00 12.5px,#ff5b00 13.5px,#ff9500 14.5px,#ffe300 16.5px,#fffe00 17.5px,#eaff15 18.5px,#d3ff2c 19.5px,#a2ff5d 20.5px,#00cdff 21.5px,#0016ff 22.5px,#002dff 23.4px,#003dff 27.4px,#007fff 34.4px,#00afff 41.4px,#00fbff 57.4px,#80ff7f 93.3px,#fffb00 112.2px,#f70 118.2px,#ff0100 126.2px,#e60000 138.2px,#e60000 202px)"></i><i style="background:linear-gradient(90deg,#e70000 3.5px,#f40000 11.5px,#ff2100 12.5px,#ff6e00 13.5px,#ff9e00 14.5px,#ffeb00 16.5px,#fcff03 17.5px,#d4ff2b 19.5px,#abff54 20.5px,#47ffb8 21.5px,#000dff 22.5px,#002cff 23.4px,#0045ff 28.4px,#007fff 34.4px,#00b5ff 42.4px,#00d2ff 50.4px,#00fbff 57.4px,#82ff7d 93.3px,#fbff04 111.2px,#fff400 112.2px,#ff8e00 117.2px,#ff1e00 130.2px,#ff0200 135.2px,#e60000 146.1px,#e60000 202px)"></i><i style="background:linear-gradient(90deg,#e80000 3.5px,#f50000 11.5px,#ff8300 13.5px,#fff300 16.5px,#f7ff08 17.5px,#cdff32 19.5px,#9eff61 20.5px,#00ecff 21.5px,#0013ff 22.5px,#003cff 23.4px,#0051ff 28.4px,#0089ff 34.4px,#0bf 42.4px,#00d6ff 50.4px,#00feff 57.4px,#80ff7f 93.3px,#fcff03 112.2px,#ffef00 113.2px,#ffc100 116.2px,#ff8300 130.2px,#ff0200 147.1px,#f50000 164.1px,#e60000 170.1px,#e60000 202px)"></i><i style="background:linear-gradient(90deg,#e90000 3.5px,#f40000 10.5px,#ff2f00 11.5px,#ff7c00 12.5px,#fff300 15.5px,#fbff04 16.5px,#d9ff26 18.5px,#baff45 19.5px,#8f7 20.5px,#0084ff 21.5px,#0015ff 22.5px,#0047ff 23.4px,#0053ff 27.4px,#008eff 34.4px,#00b9ff 41.4px,#00faff 56.4px,#7eff81 93.3px,#d7ff28 109.2px,#eaff15 119.2px,#feff01 122.2px,#ffc200 131.2px,#ff1800 146.1px,#ff0100 151.1px,#f50000 155.1px,#f50000 183px,#e50000 184px,#e60000 202px)"></i><i style="background:linear-gradient(90deg,#e80000 3.5px,#f40000 10.5px,#ff1300 11.5px,#ff6000 12.5px,#ff9700 13.5px,#ffe600 15.5px,#fffc00 16.5px,#f0ff0f 17.5px,#bfff40 19.5px,#8dff72 20.5px,#0068ff 21.5px,#0017ff 22.5px,#0048ff 23.4px,#0053ff 27.4px,#008fff 34.4px,#00baff 41.4px,#00faff 56.4px,#96ff69 100.3px,#abff54 119.2px,#e3ff1c 130.2px,#f9ff06 132.2px,#ffb900 138.2px,#ff2e00 146.1px,#ff0200 152.1px,#f50000 155.1px,#f50000 183px,#e50000 184px,#e60000 202px)"></i><i style="background:linear-gradient(90deg,#e80000 3.5px,#f50000 11.5px,#ff8400 13.5px,#fff400 16.5px,#f7ff08 17.5px,#ceff31 19.5px,#a0ff5f 20.5px,#00feff 21.5px,#0012ff 22.5px,#0049ff 23.4px,#005bff 28.4px,#0090ff 34.4px,#0bf 41.4px,#00fbff 56.4px,#80ff7f 93.3px,#e1ff1e 110.2px,#fffa00 122.2px,#ffbc00 131.2px,#ff1800 146.1px,#f00 151.1px,#f50000 155.1px,#f50000 183px,#e50000 184px,#e60000 202px)"></i><i style="background:linear-gradient(90deg,#e90000 3.5px,#f40000 10.5px,#ff1900 11.5px,#f60 12.5px,#ff9a00 13.5px,#ffea00 15.5px,#fffe00 16.5px,#ef1 17.5px,#bf4 19.5px,#7dff82 20.5px,#0027ff 21.5px,#001aff 22.5px,#0051ff 23.4px,#0061ff 28.4px,#0094ff 34.4px,#00bdff 41.4px,#00fcff 56.4px,#83ff7c 94.3px,#fffc00 113.2px,#ffc200 116.2px,#ff8100 130.2px,#ff0100 147.1px,#e60000 169.1px,#e60000 202px)"></i><i style="background:linear-gradient(90deg,#e80000 3.5px,#f50000 11.5px,#ff3600 12.5px,#ff8100 13.5px,#fff200 16.5px,#f8ff07 17.5px,#cdff32 19.5px,#9cff63 20.5px,#00c3ff 21.5px,#0015ff 22.5px,#0054ff 23.4px,#0064ff 28.4px,#0096ff 34.4px,#00bfff 41.4px,#00fcff 56.4px,#80ff7f 94.3px,#fffd00 114.2px,#ffa400 117.2px,#ff7f00 119.2px,#ff1900 130.2px,#ff0200 134.2px,#e60000 145.1px,#e60000 202px)"></i><i style="background:linear-gradient(90deg,#e70000 3.5px,#f40000 11.5px,#ff1700 12.5px,#ff6300 13.5px,#f90 14.5px,#ffe700 16.5px,#feff01 17.5px,#d2ff2d 19.5px,#a0ff5f 20.5px,#00c4ff 21.5px,#0017ff 22.5px,#0050ff 23.4px,#0060ff 28.4px,#0093ff 34.4px,#00bdff 41.4px,#00fbff 56.4px,#81ff7e 94.3px,#feff01 113.2px,#ff7e00 118.2px,#ff0400 125.2px,#fd0000 126.2px,#e60000 135.2px,#e60000 202px)"></i><i style="background:linear-gradient(90deg,#e80000 3.5px,#f80000 11.5px,#ff8900 13.5px,#ffd900 15.5px,#fff600 16.5px,#f5ff0a 17.5px,#cbff34 19.5px,#9eff61 20.5px,#02fffd 21.5px,#0012ff 22.5px,#0043ff 23.4px,#0050ff 27.4px,#008dff 34.4px,#00b8ff 41.4px,#00feff 57.4px,#31ffce 69.3px,#80ff7f 94.3px,#fff700 114.2px,#ff7200 119.2px,#ff0500 125.2px,#fc0000 126.2px,#e60000 135.2px,#e60000 202px)"></i><i style="background:linear-gradient(90deg,#e80000 3.5px,#f30000 10.5px,#ff0300 11.5px,#ff8f00 13.5px,#ffde00 15.5px,#fff900 16.5px,#f3ff0c 17.5px,#cf3 19.5px,#a3ff5c 20.5px,#3bffc4 21.5px,#000dff 22.5px,#002eff 23.4px,#0046ff 28.4px,#0081ff 34.4px,#00b6ff 42.4px,#00fbff 57.4px,#7fff80 94.3px,#faff05 113.2px,#fff700 114.2px,#ff7500 119.2px,#fe0000 126.2px,#e60000 136.2px,#e60000 202px)"></i><i style="background:linear-gradient(90deg,#e60000 3.5px,#f30000 11.5px,#ff0400 12.5px,#ff8f00 14.5px,#fffc00 17.5px,#ecff13 18.5px,#d5ff2a 19.5px,#a3ff5c 20.5px,#00d3ff 21.5px,#0017ff 22.5px,#0014ff 23.4px,#0029ff 27.4px,#0071ff 34.4px,#00a5ff 41.4px,#00fcff 58.4px,#7fff80 94.3px,#fbff04 113.2px,#fff300 114.2px,#ff7b00 119.2px,#fe0000 127.2px,#e60000 138.2px,#e60000 202px)"></i><i style="background:linear-gradient(90deg,#e70000 3.5px,#f40000 11.5px,#ff2100 12.5px,#ff6d00 13.5px,#ff9e00 14.5px,#ffeb00 16.5px,#fcff03 17.5px,#d4ff2b 19.5px,#af5 20.5px,#4fb 21.5px,#000eff 22.5px,#0001ff 23.4px,#001bff 27.4px,#0067ff 34.4px,#009eff 41.4px,#00fcff 59.4px,#7eff81 95.3px,#fffe00 115.2px,#ff7500 120.2px,#ff0500 126.2px,#fc0000 127.2px,#e60000 136.2px,#e60000 202px)"></i><i style="background:linear-gradient(90deg,#e70000 3.5px,#f40000 11.5px,#ff0d00 12.5px,#ff5a00 13.5px,#ff9400 14.5px,#ffe300 16.5px,#fffe00 17.5px,#ebff14 18.5px,#d5ff2a 19.5px,#a9ff56 20.5px,#35ffca 21.5px,#01f 22.5px,#0000fb 23.4px,#0016ff 27.4px,#0063ff 34.4px,#009bff 41.4px,#02fffd 60.4px,#54ffab 80.3px,#7eff81 94.3px,#fbff04 113.2px,#fff300 114.2px,#ff7600 120.2px,#fd0000 129.2px,#e60000 141.2px,#e60000 202px)"></i><i style="background:linear-gradient(90deg,#e70000 3.5px,#f40000 11.5px,#ff2a00 12.5px,#f70 13.5px,#ffa300 14.5px,#fff000 16.5px,#faff05 17.5px,#d2ff2d 19.5px,#a4ff5b 20.5px,#28ffd7 21.5px,#01f 22.5px,#0008ff 23.4px,#001fff 27.4px,#006aff 34.4px,#00a0ff 41.4px,#00feff 59.4px,#54ffab 80.3px,#7eff81 94.3px,#fffd00 114.2px,#ff8000 120.2px,#fd0000 130.2px,#e60000 142.2px,#e60000 202px)"></i><i style="background:linear-gradient(90deg,#e60000 3.5px,#f40000 12.5px,#ff2700 13.5px,#ff7400 14.5px,#fc0 16.5px,#fff400 17.5px,#f3ff0c 18.5px,#dbff24 19.5px,#b1ff4e 20.5px,#3effc1 21.5px,#0012ff 22.5px,#01f 23.4px,#0027ff 27.4px,#0070ff 34.4px,#00a4ff 41.4px,#00feff 59.4px,#81ff7e 96.3px,#fffb00 116.2px,#ff7500 121.2px,#ff0700 127.2px,#fd0000 128.2px,#e60000 137.2px,#e60000 202px)"></i><i style="background:linear-gradient(90deg,#e60000 3.5px,#f40000 12.5px,#ff3100 13.5px,#ff7e00 14.5px,#fff600 17.5px,#f1ff0e 18.5px,#daff25 19.5px,#b0ff4f 20.5px,#3effc1 21.5px,#01f 22.5px,#000bff 23.4px,#02f 27.4px,#006cff 34.4px,#00a1ff 41.4px,#0ff 59.4px,#52ffad 79.3px,#81ff7e 94.3px,#fffe00 113.2px,#ff8200 119.2px,#fe0000 129.2px,#e60000 142.2px,#e60000 202px)"></i><i style="background:linear-gradient(90deg,#e70000 3.5px,#f40000 11.5px,#ff0a00 12.5px,#ff5600 13.5px,#ff9200 14.5px,#fffd00 17.5px,#edff12 18.5px,#b8ff47 20.5px,#78ff87 21.5px,#0006ff 22.5px,#0000fc 23.4px,#001aff 27.4px,#0067ff 34.4px,#009eff 41.4px,#02fffd 60.4px,#52ffad 80.3px,#80ff7f 95.3px,#fbff04 114.2px,#fff100 115.2px,#ff8600 119.2px,#fe0000 127.2px,#e60000 137.2px,#e60000 202px)"></i><i style="background:linear-gradient(90deg,#e60000 3.5px,#f40000 12.5px,#ff1b00 13.5px,#ff6700 14.5px,#ffc700 16.5px,#fff100 17.5px,#f5ff0a 18.5px,#baff45 20.5px,#5dffa2 21.5px,#000dff 22.5px,#0026ff 27.4px,#006fff 34.4px,#00a3ff 41.4px,#0ff 59.4px,#53ffac 80.3px,#81ff7e 95.3px,#fbff04 114.2px,#fff200 115.2px,#ff7b00 120.2px,#f00 128.2px,#e60000 139.2px,#e60000 202px)"></i><i style="background:linear-gradient(90deg,#e60000 3.5px,#f30000 11.5px,#ff0100 12.5px,#ff8e00 14.5px,#fffb00 17.5px,#ecff13 18.5px,#d4ff2b 19.5px,#a0ff5f 20.5px,#0094ff 21.5px,#001aff 22.5px,#03f 27.4px,#0078ff 34.4px,#0af 41.4px,#00fdff 58.4px,#7fff80 95.3px,#fffb00 115.2px,#ff7a00 120.2px,#ff0200 127.2px,#e60000 138.2px,#e60000 202px)"></i><i style="background:linear-gradient(90deg,#e60000 3.5px,#f40000 12.5px,#ff2300 13.5px,#ff6f00 14.5px,#ffca00 16.5px,#fff300 17.5px,#f5ff0a 18.5px,#bfff40 20.5px,#7dff82 21.5px,#0008ff 22.5px,#001cff 23.4px,#03f 27.4px,#0078ff 34.4px,#0af 41.4px,#00fdff 58.4px,#7eff81 95.3px,#fcff03 115.2px,#fff100 116.2px,#ff8300 120.2px,#ff0500 127.2px,#fc0000 128.2px,#e60000 137.2px,#e60000 202px)"></i><i style="background:linear-gradient(90deg,#e60000 3.5px,#f40000 12.5px,#ff2300 13.5px,#ff7000 14.5px,#ffcb00 16.5px,#fff300 17.5px,#f5ff0a 18.5px,#bfff40 20.5px,#7cff83 21.5px,#0008ff 22.5px,#0007ff 23.4px,#00a1ff 41.4px,#00fdff 59.4px,#81ff7e 96.3px,#fff800 116.2px,#ff8000 121.2px,#ff0300 129.2px,#fc0000 130.2px,#e60000 141.2px,#e60000 202px)"></i><i style="background:linear-gradient(90deg,#e70000 3.5px,#f40000 11.5px,#ff1500 12.5px,#ff6200 13.5px,#ff9800 14.5px,#ffe600 16.5px,#ff0 17.5px,#d8ff27 19.5px,#b7ff48 20.5px,#7aff85 21.5px,#0005ff 22.5px,#0000f0 23.4px,#01f 27.4px,#0061ff 34.4px,#00a0ff 42.4px,#00feff 60.4px,#52ffad 81.3px,#7eff81 96.3px,#fcff03 116.2px,#ffed00 117.2px,#ff7400 121.2px,#fd0000 127.2px,#e60000 135.2px,#e60000 202px)"></i><i style="background:linear-gradient(90deg,#e60000 3.5px,#f40000 12.5px,#ff3100 13.5px,#ff7d00 14.5px,#fff600 17.5px,#f2ff0d 18.5px,#dbff24 19.5px,#b5ff4a 20.5px,#52ffad 21.5px,#000eff 22.5px,#0000f6 23.4px,#0012ff 27.4px,#0061ff 34.4px,#00a0ff 42.4px,#04fffb 61.4px,#52ffad 81.3px,#7eff81 96.3px,#fcff03 116.2px,#ffec00 117.2px,#ff7a00 121.2px,#ff0800 127.2px,#fd0000 128.2px,#e60000 137.2px,#e60000 202px)"></i><i style="background:linear-gradient(90deg,#e60000 3.5px,#f50000 12.5px,#ff3500 13.5px,#ff8000 14.5px,#fff600 17.5px,#f2ff0d 18.5px,#bfff40 20.5px,#87ff78 21.5px,#0005ff 22.5px,#0004ff 23.4px,#00a1ff 41.4px,#00fdff 59.4px,#80ff7f 96.3px,#feff01 116.2px,#ff8500 121.2px,#f00 129.2px,#e60000 140.2px,#e60000 202px)"></i><i style="background:linear-gradient(90deg,#e60000 3.5px,#f50000 12.5px,#ff8700 14.5px,#fff900 17.5px,#efff10 18.5px,#b6ff49 20.5px,#61ff9e 21.5px,#000bff 22.5px,#0028ff 27.4px,#0070ff 34.4px,#00a4ff 41.4px,#00feff 59.4px,#54ffab 81.3px,#80ff7f 96.3px,#feff01 116.2px,#ff7a00 121.2px,#f00 128.2px,#e60000 138.2px,#e60000 202px)"></i><i style="background:linear-gradient(90deg,#e60000 3.5px,#f50000 12.5px,#ff8400 14.5px,#fff800 17.5px,#f1ff0e 18.5px,#c1ff3e 20.5px,#92ff6d 21.5px,#002bff 22.5px,#0003ff 23.4px,#002aff 28.4px,#006cff 34.4px,#00a1ff 41.4px,#00fdff 59.4px,#5fa 81.3px,#7eff81 95.3px,#fcff03 115.2px,#ff8500 120.2px,#fe0000 128.2px,#e60000 138.2px,#e60000 202px)"></i><i style="background:linear-gradient(90deg,#e60000 3.5px,#f40000 12.5px,#ff1b00 13.5px,#ff6800 14.5px,#ffc700 16.5px,#fff100 17.5px,#f7ff08 18.5px,#cf3 20.5px,#9eff61 21.5px,#0085ff 22.5px,#0000ec 23.4px,#0004ff 25.4px,#0061ff 34.4px,#09f 41.4px,#00faff 59.4px,#7eff81 95.3px,#feff01 115.2px,#f70 121.2px,#fe0000 129.2px,#e60000 140.2px,#e60000 202px)"></i><i style="background:linear-gradient(90deg,#e60000 3.5px,#f50000 12.5px,#ff3700 13.5px,#ff8200 14.5px,#fff700 17.5px,#f1ff0e 18.5px,#b8ff47 20.5px,#68ff97 21.5px,#000aff 22.5px,#0000e6 23.4px,#0006ff 27.4px,#0058ff 34.4px,#009bff 42.4px,#02fffd 61.4px,#53ffac 81.3px,#7dff82 95.3px,#fcff03 115.2px,#fe0 116.2px,#ff7b00 120.2px,#ff0800 126.2px,#fd0000 127.2px,#e60000 136.2px,#e60000 202px)"></i><i style="background:linear-gradient(90deg,#e70000 3.5px,#f40000 11.5px,#ff0b00 12.5px,#ff5700 13.5px,#ff9300 14.5px,#fffd00 17.5px,#edff12 18.5px,#b9ff46 20.5px,#7fff80 21.5px,#0005ff 22.5px,#0000e9 23.4px,#0000fc 25.4px,#000bff 27.4px,#005cff 34.4px,#009dff 42.4px,#03fffc 61.4px,#54ffab 81.3px,#7dff82 95.3px,#fcff03 115.2px,#fe0 116.2px,#ff7800 121.2px,#fd0000 129.2px,#e60000 140.2px,#e60000 202px)"></i><i style="background:linear-gradient(90deg,#e70000 3.5px,#f40000 11.5px,#ff2800 12.5px,#ff7400 13.5px,#ffa200 14.5px,#fe0 16.5px,#fbff04 17.5px,#d8ff27 19.5px,#96ff69 21.5px,#0083ff 22.5px,#0003ff 23.4px,#006eff 34.4px,#00a2ff 41.4px,#00feff 59.4px,#5fa 81.3px,#7dff82 95.3px,#fbff04 115.2px,#fff400 116.2px,#ff7a00 121.2px,#fd0000 129.2px,#e60000 139.2px,#e60000 202px)"></i><i style="background:linear-gradient(90deg,#e60000 3.5px,#f50000 12.5px,#ff8600 14.5px,#fff800 17.5px,#f1ff0e 18.5px,#c5ff3a 20.5px,#9f6 21.5px,#0076ff 22.5px,#0024ff 23.4px,#00afff 41.4px,#0ff 58.4px,#57ffa8 81.3px,#7fff80 95.3px,#fdff02 115.2px,#ffec00 116.2px,#ff8100 120.2px,#ff0600 127.2px,#fd0000 128.2px,#e60000 138.2px,#e60000 202px)"></i><i style="background:linear-gradient(90deg,#e70000 3.5px,#f40000 11.5px,#ff1600 12.5px,#ff6200 13.5px,#ff9800 14.5px,#ffe600 16.5px,#ff0 17.5px,#d6ff29 19.5px,#adff52 20.5px,#4cffb3 21.5px,#000dff 22.5px,#0043ff 23.4px,#0057ff 28.4px,#008dff 34.4px,#00b8ff 41.4px,#00feff 57.4px,#80ff7f 95.3px,#fffe00 115.2px,#ff8300 120.2px,#f00 128.2px,#e50000 139.2px,#e60000 202px)"></i><i style="background:linear-gradient(90deg,#e70000 3.5px,#f40000 11.5px,#ff0f00 12.5px,#ff5b00 13.5px,#ff9500 14.5px,#ffe300 16.5px,#fffe00 17.5px,#ebff14 18.5px,#d6ff29 19.5px,#adff52 20.5px,#45ffba 21.5px,#000eff 22.5px,#04f 23.4px,#0058ff 28.4px,#008dff 34.4px,#00b9ff 41.4px,#00feff 57.4px,#80ff7f 95.3px,#feff01 115.2px,#ff7c00 121.2px,#ff0500 129.2px,#fd0000 130.2px,#e60000 141.2px,#e60000 202px)"></i><i style="background:linear-gradient(90deg,#e60000 3.5px,#fa0000 12.5px,#ff8a00 14.5px,#fffa00 17.5px,#ef1 18.5px,#d9ff26 19.5px,#b3ff4c 20.5px,#56ffa9 21.5px,#000cff 22.5px,#0043ff 23.4px,#0057ff 28.4px,#008dff 34.4px,#00b8ff 41.4px,#00feff 57.4px,#81ff7e 95.3px,#fff700 115.2px,#ff8100 121.2px,#f00 131.2px,#e50000 145.1px,#e60000 202px)"></i><i style="background:linear-gradient(90deg,#e60000 3.5px,#f70000 12.5px,#ff8900 14.5px,#fffa00 17.5px,#ef1 18.5px,#d6ff29 19.5px,#a6ff59 20.5px,#0df 21.5px,#0017ff 22.5px,#0047ff 23.4px,#0052ff 27.4px,#008eff 34.4px,#00b9ff 41.4px,#00feff 57.4px,#80ff7f 95.3px,#ff0 115.2px,#ff8500 120.2px,#ff0200 128.2px,#e60000 139.2px,#e60000 202px)"></i><i style="background:linear-gradient(90deg,#e70000 3.5px,#f40000 11.5px,#ff0f00 12.5px,#ff5b00 13.5px,#ff9500 14.5px,#ffe300 16.5px,#fffe00 17.5px,#eaff15 18.5px,#d4ff2b 19.5px,#a4ff5b 20.5px,#00ecff 21.5px,#0015ff 22.5px,#003cff 23.4px,#0051ff 28.4px,#08f 34.4px,#0bf 42.4px,#00fcff 57.4px,#7fff80 95.3px,#fbff04 115.2px,#fff500 116.2px,#ff7f00 121.2px,#ff0400 129.2px,#fd0000 130.2px,#e60000 141.2px,#e60000 202px)"></i><i style="background:linear-gradient(90deg,#e70000 3.5px,#f40000 11.5px,#ff1200 12.5px,#ff5f00 13.5px,#ff9700 14.5px,#ffe500 16.5px,#ff0 17.5px,#eaff15 18.5px,#d5ff2a 19.5px,#a9ff56 20.5px,#38ffc7 21.5px,#0010ff 22.5px,#002eff 23.4px,#003fff 27.4px,#0081ff 34.4px,#00b0ff 41.4px,#00faff 57.4px,#80ff7f 95.3px,#fff900 115.2px,#ff7d00 121.2px,#ff0300 130.2px,#fd0000 131.2px,#e60000 143.1px,#e60000 202px)"></i><i style="background:linear-gradient(90deg,#e70000 3.5px,#f50000 11.5px,#ff3400 12.5px,#ff8000 13.5px,#fff200 16.5px,#f8ff07 17.5px,#d0ff2f 19.5px,#a2ff5d 20.5px,#1bffe4 21.5px,#01f 22.5px,#002dff 23.4px,#003eff 27.4px,#0080ff 34.4px,#00afff 41.4px,#00faff 57.4px,#80ff7f 95.3px,#fffd00 115.2px,#ff7c00 120.2px,#ff0500 127.2px,#fc0000 128.2px,#e60000 138.2px,#e60000 202px)"></i><i style="background:linear-gradient(90deg,#e80000 3.5px,#fe0000 11.5px,#ff8c00 13.5px,#ffdc00 15.5px,#fff800 16.5px,#f4ff0b 17.5px,#cf3 19.5px,#a1ff5e 20.5px,#30ffcf 21.5px,#000fff 22.5px,#0035ff 23.4px,#004cff 28.4px,#0085ff 34.4px,#00b8ff 42.4px,#00fbff 57.4px,#81ff7e 95.3px,#fbff04 114.2px,#fff600 115.2px,#ff7f00 120.2px,#ff0200 128.2px,#e60000 140.2px,#e60000 202px)"></i><i style="background:linear-gradient(90deg,#e60000 3.5px,#f30000 11.5px,#ff0300 12.5px,#ff8e00 14.5px,#fffc00 17.5px,#ecff13 18.5px,#d6ff29 19.5px,#a7ff58 20.5px,#06fff9 21.5px,#0014ff 22.5px,#003cff 23.4px,#0050ff 28.4px,#08f 34.4px,#0bf 42.4px,#00fcff 57.4px,#82ff7d 95.3px,#fcff03 114.2px,#fff000 115.2px,#ff8400 119.2px,#ff0700 126.2px,#fd0000 127.2px,#e50000 137.2px,#e60000 202px)"></i><i style="background:linear-gradient(90deg,#e60000 3.5px,#f30000 11.5px,#ff0100 12.5px,#ff8d00 14.5px,#fffb00 17.5px,#edff12 18.5px,#d6ff29 19.5px,#a8ff57 20.5px,#12ffed 21.5px,#0014ff 22.5px,#0034ff 23.4px,#004aff 28.4px,#0084ff 34.4px,#00b8ff 42.4px,#00fbff 57.4px,#80ff7f 95.3px,#fffa00 115.2px,#ff7b00 120.2px,#ff0500 127.2px,#fd0000 128.2px,#e60000 138.2px,#e60000 202px)"></i><i style="background:linear-gradient(90deg,#e70000 3.5px,#f40000 11.5px,#ff0900 12.5px,#ff5600 13.5px,#ff9200 14.5px,#fffd00 17.5px,#ecff13 18.5px,#d7ff28 19.5px,#afff50 20.5px,#4bffb4 21.5px,#000eff 22.5px,#0023ff 23.4px,#0036ff 27.4px,#007aff 34.4px,#00abff 41.4px,#00fdff 58.4px,#7fff80 95.3px,#fdff02 115.2px,#ffeb00 116.2px,#ff7d00 120.2px,#f00 127.2px,#e60000 137.2px,#e60000 202px)"></i><i style="background:linear-gradient(90deg,#e70000 3.5px,#f40000 11.5px,#ff2d00 12.5px,#ff7a00 13.5px,#ffa400 14.5px,#fff000 16.5px,#faff05 17.5px,#d1ff2e 19.5px,#a2ff5d 20.5px,#05fffa 21.5px,#0013ff 22.5px,#002dff 27.4px,#0074ff 34.4px,#00a7ff 41.4px,#00fcff 58.4px,#82ff7d 95.3px,#fdff02 114.2px,#ffeb00 115.2px,#ff7b00 119.2px,#fe0000 126.2px,#e60000 135.2px,#e60000 202px)"></i><i style="background:linear-gradient(90deg,#e70000 3.5px,#f40000 11.5px,#ff2b00 12.5px,#ff7800 13.5px,#ffa300 14.5px,#fff000 16.5px,#faff05 17.5px,#d3ff2c 19.5px,#a8ff57 20.5px,#3dffc2 21.5px,#000eff 22.5px,#002aff 27.4px,#0072ff 34.4px,#00a5ff 41.4px,#00fcff 58.4px,#7eff81 94.3px,#fffd00 114.2px,#ff8300 119.2px,#ff0200 127.2px,#e60000 138.2px,#e60000 202px)"></i><i style="background:linear-gradient(90deg,#e70000 3.5px,#f40000 11.5px,#ff3100 12.5px,#ff7e00 13.5px,#fff100 16.5px,#f9ff06 17.5px,#d3ff2c 19.5px,#af5 20.5px,#4bffb4 21.5px,#000cff 22.5px,#002cff 27.4px,#0073ff 34.4px,#00a6ff 41.4px,#00fcff 58.4px,#82ff7d 95.3px,#feff01 114.2px,#ff7400 119.2px,#f00 125.2px,#e60000 134.2px,#e60000 202px)"></i><i style="background:linear-gradient(90deg,#e80000 3.5px,#f40000 10.5px,#ff1400 11.5px,#ff6100 12.5px,#ff9800 13.5px,#ffe700 15.5px,#fffd00 16.5px,#efff10 17.5px,#c6ff39 19.5px,#9dff62 20.5px,#21ffde 21.5px,#000fff 22.5px,#0028ff 23.4px,#003aff 27.4px,#007dff 34.4px,#00adff 41.4px,#00feff 58.4px,#54ffab 80.3px,#7fff80 95.3px,#fffb00 115.2px,#ff7a00 119.2px,#fe0000 125.2px,#e60000 133.2px,#e60000 183px,#ffb200 184px,#e60000 185px,#e60000 202px)"></i><i style="background:linear-gradient(90deg,#e70000 3.5px,#f40000 11.5px,#ff2c00 12.5px,#ff7800 13.5px,#ffa400 14.5px,#fff000 16.5px,#faff05 17.5px,#d2ff2d 19.5px,#a6ff59 20.5px,#37ffc8 21.5px,#000fff 22.5px,#0047ff 23.4px,#0059ff 28.4px,#008fff 34.4px,#00baff 41.4px,#0ff 57.4px,#32ffcd 69.3px,#7fff80 94.3px,#fffe00 114.2px,#f70 119.2px,#fd0000 126.2px,#e60000 135.2px,#e60000 202px)"></i><i style="background:linear-gradient(90deg,#e60000 3.5px,#f40000 12.5px,#f30 13.5px,#ff7f00 14.5px,#fff600 17.5px,#f1ff0e 18.5px,#daff25 19.5px,#b2ff4d 20.5px,#47ffb8 21.5px,#0010ff 22.5px,#0058ff 23.4px,#0067ff 28.4px,#09f 34.4px,#00c1ff 41.4px,#00fdff 56.4px,#83ff7c 94.3px,#ff0 113.2px,#ff7c00 118.2px,#ff0400 125.2px,#fc0000 126.2px,#e50000 136.2px,#e50000 202px)"></i><i style="background:linear-gradient(90deg,#e80000 3.5px,#f40000 10.5px,#ff0700 11.5px,#ff9100 13.5px,#ffe000 15.5px,#fffa00 16.5px,#f2ff0d 17.5px,#ceff31 19.5px,#a7ff58 20.5px,#52ffad 21.5px,#0009ff 22.5px,#0043ff 23.4px,#0059ff 28.4px,#008eff 34.4px,#00b9ff 41.4px,#00faff 56.4px,#7fff80 93.3px,#fbff04 112.2px,#fff300 113.2px,#ff7b00 118.2px,#fe0000 126.2px,#e50000 137.2px,#e60000 202px)"></i><i style="background:linear-gradient(90deg,#e80000 3.5px,#f90000 11.5px,#ff8a00 13.5px,#ffd900 15.5px,#fff600 16.5px,#f5ff0a 17.5px,#ceff31 19.5px,#a3ff5c 20.5px,#35ffca 21.5px,#000eff 22.5px,#0024ff 23.4px,#0037ff 27.4px,#007bff 34.4px,#00acff 41.4px,#00faff 57.4px,#7fff80 93.3px,#fdff02 112.2px,#ffec00 113.2px,#f70 118.2px,#fd0000 126.2px,#e60000 137.2px,#e60000 182.1px,#ff6200 183px,#ff2a00 184px,#e60000 185px,#e60000 202px)"></i><i style="background:linear-gradient(90deg,#e70000 3.5px,#f40000 11.5px,#ff3400 12.5px,#ff8000 13.5px,#fff200 16.5px,#f9ff06 17.5px,#d4ff2b 19.5px,#acff53 20.5px,#59ffa6 21.5px,#0009ff 22.5px,#00a6ff 41.4px,#00fdff 58.4px,#7fff80 93.3px,#fffc00 112.2px,#f70 118.2px,#f00 126.2px,#e60000 138.2px,#e60000 182.1px,#ffa300 183px,#e60000 184px,#e60000 202px)"></i><i style="background:linear-gradient(90deg,#e80000 3.5px,#f50000 11.5px,#ff3700 12.5px,#ff8200 13.5px,#fff300 16.5px,#f8ff07 17.5px,#d4ff2b 19.5px,#aeff51 20.5px,#60ff9f 21.5px,#0008ff 22.5px,#0024ff 23.4px,#0041ff 28.4px,#007dff 34.4px,#00b3ff 42.4px,#00faff 57.4px,#7fff80 93.3px,#fcff03 112.2px,#fff000 113.2px,#ff8500 117.2px,#fe0000 125.2px,#e60000 135.2px,#e60000 202px)"></i><i style="background:linear-gradient(90deg,#e80000 3.5px,#f40000 10.5px,#ff1500 11.5px,#ff6200 12.5px,#ff9800 13.5px,#ffe700 15.5px,#fffd00 16.5px,#efff10 17.5px,#cdff32 19.5px,#a9ff56 20.5px,#63ff9c 21.5px,#0006ff 22.5px,#0042ff 23.4px,#0049ff 24.4px,#005aff 28.4px,#008fff 34.4px,#00baff 41.4px,#00faff 56.4px,#80ff7f 93.3px,#fdff02 112.2px,#ffeb00 113.2px,#ff7c00 117.2px,#ff0300 124.2px,#e60000 133.2px,#e60000 182.1px,#f50 183px,#ffa300 184px,#e50000 185px,#e60000 202px)"></i><i style="background:linear-gradient(90deg,#e80000 3.5px,#f50000 11.5px,#ff8300 13.5px,#fff300 16.5px,#f7ff08 17.5px,#cfff30 19.5px,#a1ff5e 20.5px,#1bffe4 21.5px,#01f 22.5px,#004dff 23.4px,#005eff 28.4px,#0092ff 34.4px,#00bcff 41.4px,#00fbff 56.4px,#80ff7f 93.3px,#feff01 112.2px,#ff7600 118.2px,#ff0100 127.2px,#eb0000 131.2px,#e60000 136.2px,#e60000 182.1px,#f20 183px,#ff9d00 184px,#e50000 185px,#e60000 202px)"></i><i style="background:linear-gradient(90deg,#e70000 3.5px,#f40000 11.5px,#ff3000 12.5px,#ff7d00 13.5px,#fff100 16.5px,#f9ff06 17.5px,#d3ff2c 19.5px,#af5 20.5px,#4bffb4 21.5px,#000cff 22.5px,#003bff 23.4px,#0051ff 28.4px,#08f 34.4px,#0bf 42.4px,#00fdff 57.4px,#81ff7e 94.3px,#feff01 113.2px,#ff8300 118.2px,#ff4500 125.2px,#fc0000 130.2px,#e70000 139.2px,#e60000 183px,#fff500 184px,#ffcb00 185px,#ff8500 186px,#ff2900 187px,#e60000 188px,#e60000 202px)"></i><i style="background:linear-gradient(90deg,#e80000 3.5px,#f40000 10.5px,#ff0c00 11.5px,#ff5900 12.5px,#ff9300 13.5px,#ffe300 15.5px,#fffb00 16.5px,#f1ff0e 17.5px,#cbff34 19.5px,#a2ff5d 20.5px,#3fffc0 21.5px,#000cff 22.5px,#0026ff 23.4px,#0039ff 27.4px,#007dff 34.4px,#00adff 41.4px,#00faff 57.4px,#7eff81 93.3px,#fbff04 112.2px,#fff300 113.2px,#ffa400 116.2px,#ff9700 117.2px,#ff7e00 124.2px,#ff2a00 131.2px,#ff0100 140.2px,#ef0000 154.1px,#eb0000 183px,#7f8 184px,#a8ff57 185px,#f8ff07 186px,#ffa000 187px,#ff2800 188px,#e60000 189px,#e60000 202px)"></i><i style="background:linear-gradient(90deg,#e80000 3.5px,#f40000 10.5px,#ff0800 11.5px,#f50 12.5px,#ff9100 13.5px,#ffe100 15.5px,#fffa00 16.5px,#f2ff0d 17.5px,#c6ff39 19.5px,#9aff65 20.5px,#00dcff 21.5px,#0013ff 22.5px,#00abff 41.4px,#00feff 58.4px,#81ff7e 94.3px,#fdff02 113.2px,#fc0 115.2px,#ffb400 117.2px,#ffa400 125.2px,#ff6b00 131.2px,#ff3c00 143.1px,#ff2100 183px,#47ffb8 184px,#7cff83 185px,#cfff30 186px,#ffc500 187px,#ff4900 188px,#e60000 189px,#e60000 202px)"></i><i style="background:linear-gradient(90deg,#e60000 3.5px,#fa0000 12.5px,#ff8a00 14.5px,#fffa00 17.5px,#ef1 18.5px,#d9ff26 19.5px,#b1ff4e 20.5px,#51ffae 21.5px,#000dff 22.5px,#001eff 23.4px,#0032ff 27.4px,#0078ff 34.4px,#00a9ff 41.4px,#00feff 58.4px,#54ffab 79.3px,#7fff80 93.3px,#fdff02 112.2px,#ffea00 113.2px,#ffca00 116.2px,#ffc100 124.2px,#ff8200 143.1px,#ff6a00 183px,#1affe5 184px,#1affe5 185px,#75ff8a 186px,#eaff15 187px,#ff9000 188px,#f00 189px,#e60000 190px,#e60000 202px)"></i><i style="background:linear-gradient(90deg,#e70000 3.5px,#f40000 11.5px,#ff1000 12.5px,#ff5d00 13.5px,#ff9500 14.5px,#ffbd00 15.5px,#fffe00 17.5px,#eaff15 18.5px,#d5ff2a 19.5px,#a9ff56 20.5px,#36ffc9 21.5px,#01f 22.5px,#00a9ff 41.4px,#00feff 58.4px,#7eff81 93.3px,#fff800 113.2px,#ffe700 115.2px,#ffdf00 124.2px,#ffc400 131.2px,#ffb000 143.1px,#ffa000 183px,#1affe5 184px,#1affe5 186px,#87ff78 187px,#ffe500 188px,#ff4b00 189px,#e60000 190px,#e60000 202px)"></i><i style="background:linear-gradient(90deg,#e60000 3.5px,#f30000 11.5px,#fe0000 12.5px,#ff8d00 14.5px,#fffb00 17.5px,#edff12 18.5px,#d8ff27 19.5px,#afff50 20.5px,#49ffb6 21.5px,#000eff 22.5px,#0020ff 23.4px,#0034ff 27.4px,#0079ff 34.4px,#0af 41.4px,#0ff 58.4px,#54ffab 79.3px,#7fff80 93.3px,#deff21 109.2px,#e9ff16 113.2px,#e2ff1d 119.2px,#ff0 127.2px,#ffec00 131.2px,#ffda00 143.1px,#ffc900 183px,#1affe5 184px,#1affe5 187px,#b5ff4a 188px,#ffa000 189px,#f40000 190px,#e60000 191px,#e60000 202px)"></i><i style="background:linear-gradient(90deg,#e60000 3.5px,#f50000 12.5px,#ff3600 13.5px,#ff8100 14.5px,#fff700 17.5px,#f1ff0e 18.5px,#d9ff26 19.5px,#aeff51 20.5px,#37ffc8 21.5px,#0012ff 22.5px,#0025ff 23.4px,#0037ff 27.4px,#007bff 34.4px,#00acff 41.4px,#00faff 57.4px,#54ffab 79.3px,#9f6 102.3px,#cdff32 152.1px,#d8ff27 182.1px,#d8ff27 183px,#1affe5 184px,#1affe5 187px,#8cff73 188px,#ffc300 189px,#ff1300 190px,#e60000 191px,#e60000 202px)"></i><i style="background:linear-gradient(90deg,#e60000 3.5px,#f50000 12.5px,#ff8700 14.5px,#fff900 17.5px,#f0ff0f 18.5px,#beff41 20.5px,#8aff75 21.5px,#0015ff 22.5px,#002fff 24.4px,#04f 28.4px,#007fff 34.4px,#00afff 41.4px,#00faff 57.4px,#51ffae 80.3px,#80ff7f 101.3px,#b2ff4d 152.1px,#bdff42 182.1px,#bdff42 183px,#1affe5 184px,#1affe5 187px,#80ff7f 188px,#ffcd00 189px,#ff1c00 190px,#e60000 191px,#e60000 202px)"></i><i style="background:linear-gradient(90deg,#e60000 3.5px,#fb0000 12.5px,#ff8b00 14.5px,#fffa00 17.5px,#ef1 18.5px,#d8ff27 19.5px,#b0ff4f 20.5px,#49ffb6 21.5px,#000fff 22.5px,#0037ff 23.4px,#004dff 28.4px,#0086ff 34.4px,#00b9ff 42.4px,#00d5ff 50.4px,#00fdff 57.4px,#5fa 79.3px,#95ff6a 102.3px,#c8ff37 152.1px,#d3ff2c 182.1px,#d3ff2c 183px,#1affe5 184px,#1affe5 187px,#8dff72 188px,#ffc200 189px,#ff1200 190px,#e60000 191px,#e60000 202px)"></i><i style="background:linear-gradient(90deg,#e60000 3.5px,#f40000 12.5px,#ff2f00 13.5px,#ff7c00 14.5px,#fff500 17.5px,#f2ff0d 18.5px,#b8ff47 20.5px,#5fffa0 21.5px,#000cff 22.5px,#0045ff 23.4px,#0058ff 28.4px,#008eff 34.4px,#00b9ff 41.4px,#00faff 56.4px,#7fff80 92.3px,#cdff32 106.2px,#cdff32 119.2px,#dcff23 125.2px,#ff0 132.2px,#ffde00 152.1px,#ffd500 183px,#1affe5 184px,#1affe5 186px,#2dffd2 187px,#cdff32 188px,#ff8c00 189px,#e50000 190px,#e60000 202px)"></i><i style="background:linear-gradient(90deg,#e60000 3.5px,#f50000 13.5px,#ff8600 15.5px,#ffe300 17.5px,#fbff04 18.5px,#b9ff46 20.5px,#45ffba 21.5px,#0013ff 22.5px,#0050ff 23.4px,#0060ff 28.4px,#0094ff 34.4px,#00bdff 41.4px,#00fcff 56.4px,#83ff7c 94.3px,#fff700 114.2px,#ffed00 124.2px,#ffc100 143.1px,#ffb000 182.1px,#fe0 183px,#1affe5 184px,#43ffbc 185px,#9bff64 186px,#fff200 187px,#ff7200 188px,#e50000 189px,#e60000 202px)"></i><i style="background:linear-gradient(90deg,#e60000 3.5px,#fc0000 13.5px,#ff8c00 15.5px,#ffe800 17.5px,#faff05 18.5px,#bcff43 20.5px,#58ffa7 21.5px,#0010ff 22.5px,#0053ff 23.4px,#0063ff 28.4px,#0096ff 34.4px,#00bfff 41.4px,#00fdff 56.4px,#83ff7c 93.3px,#faff05 111.2px,#fff400 112.2px,#ffdc00 114.2px,#ffd300 124.2px,#ffb700 131.2px,#ffa200 143.1px,#ff9500 183px,#3effc1 184px,#73ff8c 185px,#c7ff38 186px,#ffcb00 187px,#ff4f00 188px,#e50000 189px,#e60000 202px)"></i><i style="background:linear-gradient(90deg,#e60000 3.5px,#f40000 12.5px,#f20 13.5px,#ff6e00 14.5px,#ffca00 16.5px,#fff300 17.5px,#f3ff0c 18.5px,#d9ff26 19.5px,#a9ff56 20.5px,#00cdff 21.5px,#0019ff 22.5px,#0049ff 23.4px,#0054ff 27.4px,#008fff 34.4px,#00baff 41.4px,#00faff 56.4px,#83ff7c 94.3px,#fffa00 113.2px,#ffda00 114.2px,#ffc400 116.2px,#ffbc00 124.2px,#ff7300 143.1px,#ff5b00 182.1px,#ffdb00 183px,#1affe5 184px,#49ffb6 185px,#a1ff5e 186px,#fe0 187px,#ff6d00 188px,#e50000 189px,#e60000 202px)"></i><i style="background:linear-gradient(90deg,#e60000 3.5px,#f40000 13.5px,#ff0500 14.5px,#ff9c00 16.5px,#ffcf00 17.5px,#fffb00 18.5px,#e5ff1a 19.5px,#baff45 20.5px,#2fd 21.5px,#001aff 22.5px,#004bff 23.4px,#0056ff 27.4px,#0091ff 34.4px,#0bf 41.4px,#00fbff 56.4px,#80ff7f 93.3px,#fdff02 112.2px,#ffcb00 114.2px,#ffb100 116.2px,#ffa300 125.2px,#ff6800 131.2px,#ff3c00 142.2px,#ff1e00 182.1px,#f60 183px,#ffd500 184px,#ffab00 185px,#ff6800 186px,#ff0e00 187px,#e50000 188px,#e60000 202px)"></i><i style="background:linear-gradient(90deg,#e60000 3.5px,#f40000 12.5px,#ff1600 13.5px,#ff6200 14.5px,#fff000 17.5px,#f4ff0b 18.5px,#d9ff26 19.5px,#a5ff5a 20.5px,#0076ff 21.5px,#001eff 22.5px,#0046ff 23.4px,#0057ff 28.4px,#008dff 34.4px,#00beff 42.4px,#00faff 56.4px,#83ff7c 93.3px,#fcff03 111.2px,#ffef00 112.2px,#ffb600 114.2px,#ff9600 116.2px,#ff9800 119.2px,#ff8400 124.2px,#f30 131.2px,#f00 142.2px,#e00 182.1px,#ff9100 183px,#e50000 184px,#e60000 202px)"></i><i style="background:linear-gradient(90deg,#e60000 3.5px,#f40000 12.5px,#ff1600 13.5px,#ff6200 14.5px,#fff000 17.5px,#f6ff09 18.5px,#b6ff49 20.5px,#48ffb7 21.5px,#01f 22.5px,#0036ff 23.4px,#004cff 28.4px,#0085ff 34.4px,#00b8ff 42.4px,#00d5ff 50.4px,#00fdff 57.4px,#80ff7f 93.3px,#ff0 112.2px,#ff8300 117.2px,#ff5400 125.2px,#fe0000 131.2px,#e70000 142.2px,#e60000 183px,#ff6b00 184px,#ff4500 185px,#ff0700 186px,#e60000 187px,#e60000 202px)"></i><i style="background:linear-gradient(90deg,#e60000 3.5px,#f50000 13.5px,#ff8600 15.5px,#ffe300 17.5px,#fcff03 18.5px,#c5ff3a 20.5px,#7cff83 21.5px,#000aff 22.5px,#001fff 23.4px,#0034ff 27.4px,#0079ff 34.4px,#0af 41.4px,#00feff 58.4px,#7eff81 93.3px,#faff05 112.2px,#fff500 113.2px,#ff7600 118.2px,#ff0100 128.2px,#ed0000 130.2px,#e70000 134.2px,#e60000 183px,#ffa900 184px,#ff8100 185px,#ff4000 186px,#e80000 187px,#e60000 202px)"></i><i style="background:linear-gradient(90deg,#e60000 3.5px,#fd0000 13.5px,#ff8d00 15.5px,#ffe800 17.5px,#faff05 18.5px,#bfff40 20.5px,#6f9 21.5px,#000dff 22.5px,#00a8ff 41.4px,#00feff 58.4px,#7eff81 93.3px,#fdff02 112.2px,#ffec00 113.2px,#ff7d00 117.2px,#ff1a00 123.2px,#fe0000 126.2px,#eb0000 129.2px,#e60000 134.2px,#e60000 202px)"></i><i style="background:linear-gradient(90deg,#e60000 3.5px,#f40000 13.5px,#ff1200 14.5px,#ffa100 16.5px,#ffd300 17.5px,#fffb00 18.5px,#e8ff17 19.5px,#c7ff38 20.5px,#6cff93 21.5px,#000fff 22.5px,#0024ff 23.4px,#0036ff 27.4px,#007bff 34.4px,#00abff 41.4px,#0ff 58.4px,#81ff7e 94.3px,#ff0 113.2px,#ff8900 117.2px,#ff0200 124.2px,#e60000 133.2px,#e60000 182.1px,#ff4900 183px,#e60000 184px,#e60000 202px)"></i><i style="background:linear-gradient(90deg,#e60000 3.5px,#f40000 12.5px,#ff1300 13.5px,#ff5f00 14.5px,#ff9700 15.5px,#fff000 17.5px,#f6ff09 18.5px,#b6ff49 20.5px,#49ffb6 21.5px,#01f 22.5px,#0032ff 23.4px,#004aff 28.4px,#0083ff 34.4px,#00b7ff 42.4px,#00fcff 57.4px,#7fff80 93.3px,#feff01 112.2px,#ff7b00 117.2px,#fe0000 124.2px,#e60000 134.2px,#e60000 202px)"></i><i style="background:linear-gradient(90deg,#e60000 3.5px,#f40000 12.5px,#ff1e00 13.5px,#ff6b00 14.5px,#ffc800 16.5px,#fff200 17.5px,#f5ff0a 18.5px,#baff45 20.5px,#61ff9e 21.5px,#000dff 22.5px,#0036ff 23.4px,#004cff 28.4px,#0085ff 34.4px,#00b9ff 42.4px,#00d5ff 50.4px,#00fdff 57.4px,#80ff7f 93.3px,#fffb00 112.2px,#ff8700 116.2px,#f00 123.2px,#e60000 133.2px,#e60000 202px)"></i><i style="background:linear-gradient(90deg,#e70000 3.5px,#f40000 11.5px,#ff1a00 12.5px,#ff6700 13.5px,#ff9b00 14.5px,#ffe800 16.5px,#feff01 17.5px,#d6ff29 19.5px,#aeff51 20.5px,#51ffae 21.5px,#000cff 22.5px,#003aff 23.4px,#0050ff 28.4px,#08f 34.4px,#00baff 42.4px,#00d6ff 50.4px,#00feff 57.4px,#80ff7f 93.3px,#fffd00 112.2px,#ff7b00 117.2px,#ff0200 124.2px,#e50000 135.2px,#e60000 202px)"></i><i style="background:linear-gradient(90deg,#e60000 3.5px,#fc0000 12.5px,#ff8b00 14.5px,#fffb00 17.5px,#edff12 18.5px,#d7ff28 19.5px,#abff54 20.5px,#3fc 21.5px,#0012ff 22.5px,#0049ff 23.4px,#005bff 28.4px,#0090ff 34.4px,#0bf 41.4px,#00fbff 56.4px,#82ff7d 93.3px,#faff05 111.2px,#fff500 112.2px,#f70 116.2px,#fd0000 122.2px,#e50000 130.2px,#e60000 182.1px,#f60 183px,#e50000 184px,#e60000 202px)"></i><i style="background:linear-gradient(90deg,#e70000 3.5px,#f40000 11.5px,#ff1300 12.5px,#ff5f00 13.5px,#ff9700 14.5px,#ffe500 16.5px,#ff0 17.5px,#eaff15 18.5px,#d4ff2b 19.5px,#a6ff59 20.5px,#19ffe6 21.5px,#0013ff 22.5px,#004cff 23.4px,#005dff 28.4px,#0092ff 34.4px,#00bcff 41.4px,#00fbff 56.4px,#81ff7e 93.3px,#fffb00 112.2px,#ff7400 116.2px,#ff0200 121.2px,#e50000 129.2px,#e60000 183px,#ff5400 184px,#e50000 185px,#e60000 202px)"></i><i style="background:linear-gradient(90deg,#e70000 3.5px,#f40000 11.5px,#ff2b00 12.5px,#f70 13.5px,#ffa300 14.5px,#fff000 16.5px,#faff05 17.5px,#d3ff2c 19.5px,#a7ff58 20.5px,#3cffc3 21.5px,#000eff 22.5px,#004aff 23.4px,#005cff 28.4px,#0091ff 34.4px,#0bf 41.4px,#00fbff 56.4px,#7fff80 93.3px,#fcff03 112.2px,#ffec00 113.2px,#ff7b00 116.2px,#fe0000 121.2px,#e50000 128.2px,#e60000 182.1px,#ff9a00 183px,#e50000 184px,#e60000 202px)"></i><i style="background:linear-gradient(90deg,#e70000 3.5px,#f40000 11.5px,#ff0f00 12.5px,#ff5b00 13.5px,#ff9500 14.5px,#ffe300 16.5px,#fffe00 17.5px,#eaff15 18.5px,#d4ff2b 19.5px,#a4ff5b 20.5px,#00f9ff 21.5px,#0014ff 22.5px,#003fff 23.4px,#0053ff 28.4px,#008aff 34.4px,#00bcff 42.4px,#00d7ff 50.4px,#0ff 57.4px,#82ff7d 93.3px,#fbff04 111.2px,#fff100 112.2px,#ff7c00 116.2px,#ff0800 122.2px,#fc0000 123.2px,#e50000 132.2px,#e60000 202px)"></i><i style="background:linear-gradient(90deg,#e60000 3.5px,#f30000 11.5px,#ff0400 12.5px,#ff8f00 14.5px,#fffc00 17.5px,#ebff14 18.5px,#d4ff2b 19.5px,#a1ff5e 20.5px,#00a9ff 21.5px,#0019ff 22.5px,#0030ff 23.4px,#003fff 27.4px,#0081ff 34.4px,#00b0ff 41.4px,#00fbff 57.4px,#81ff7e 94.3px,#feff01 113.2px,#ff7100 117.2px,#ff0a00 121.2px,#fc0000 122.2px,#e60000 129.2px,#e60000 202px)"></i><i style="background:linear-gradient(90deg,#e60000 3.5px,#f40000 12.5px,#ff1900 13.5px,#ff6500 14.5px,#fff100 17.5px,#f5ff0a 18.5px,#b6ff49 20.5px,#4bffb4 21.5px,#0010ff 22.5px,#0021ff 23.4px,#0034ff 27.4px,#0079ff 34.4px,#0af 41.4px,#00feff 58.4px,#54ffab 79.3px,#7eff81 93.3px,#fcff03 112.2px,#ffe900 113.2px,#ff7800 116.2px,#fe0000 121.2px,#e60000 128.2px,#e60000 182.1px,#ff9700 183px,#e60000 184px,#e60000 202px)"></i><i style="background:linear-gradient(90deg,#e60000 3.5px,#f40000 12.5px,#ff2700 13.5px,#ff7400 14.5px,#fc0 16.5px,#fff400 17.5px,#f4ff0b 18.5px,#b9ff46 20.5px,#62ff9d 21.5px,#000cff 22.5px,#002cff 27.4px,#0073ff 34.4px,#00a6ff 41.4px,#00fdff 58.4px,#7fff80 93.3px,#fffb00 112.2px,#ff7a00 116.2px,#fd0000 122.2px,#e60000 130.2px,#e60000 202px)"></i><i style="background:linear-gradient(90deg,#e60000 3.5px,#f50000 12.5px,#ff8400 14.5px,#fff800 17.5px,#f0ff0f 18.5px,#daff25 19.5px,#b1ff4e 20.5px,#4affb5 21.5px,#000fff 22.5px,#0028ff 27.4px,#0070ff 34.4px,#00a4ff 41.4px,#00fcff 58.4px,#7eff81 93.3px,#fbff04 112.2px,#fff200 113.2px,#ff7b00 117.2px,#ff0400 123.2px,#fc0000 124.2px,#e60000 132.2px,#e60000 202px)"></i><i style="background:linear-gradient(90deg,#e60000 3.5px,#fd0000 12.5px,#ff8c00 14.5px,#fffb00 17.5px,#ef1 18.5px,#d8ff27 19.5px,#aeff51 20.5px,#3fffc0 21.5px,#0010ff 22.5px,#000fff 23.4px,#0026ff 27.4px,#006fff 34.4px,#00a3ff 41.4px,#00fbff 58.4px,#81ff7e 94.3px,#fffa00 113.2px,#ff7e00 117.2px,#ff0300 123.2px,#fb0000 124.2px,#e60000 132.2px,#e60000 202px)"></i><i style="background:linear-gradient(90deg,#e60000 3.5px,#f40000 12.5px,#ff2c00 13.5px,#ff7900 14.5px,#ffa400 15.5px,#fff500 17.5px,#f3ff0c 18.5px,#bf4 20.5px,#6fff90 21.5px,#000aff 22.5px,#0024ff 27.4px,#006eff 34.4px,#00a2ff 41.4px,#00fbff 58.4px,#7eff81 93.3px,#fbff04 112.2px,#fff100 113.2px,#ff7d00 117.2px,#fd0000 124.2px,#e60000 133.2px,#e60000 202px)"></i><i style="background:linear-gradient(90deg,#e60000 3.5px,#f40000 12.5px,#ff0d00 13.5px,#ff5a00 14.5px,#ff9400 15.5px,#fe0 17.5px,#f6ff09 18.5px,#dcff23 19.5px,#adff52 20.5px,#00e8ff 21.5px,#0019ff 22.5px,#000eff 23.4px,#0024ff 27.4px,#006dff 34.4px,#00a2ff 41.4px,#00fbff 58.4px,#80ff7f 94.3px,#fdff02 113.2px,#ff7100 118.2px,#fd0000 124.2px,#e60000 133.2px,#e60000 202px)"></i><i style="background:linear-gradient(90deg,#e70000 3.5px,#f40000 11.5px,#ff0f00 12.5px,#ff5c00 13.5px,#ff9500 14.5px,#ffbd00 15.5px,#fffe00 17.5px,#eaff15 18.5px,#d3ff2c 19.5px,#a0ff5f 20.5px,#00adff 21.5px,#0018ff 22.5px,#002fff 27.4px,#0075ff 34.4px,#00a8ff 41.4px,#00fdff 58.4px,#81ff7e 94.3px,#fffd00 113.2px,#ff8500 117.2px,#fe0000 124.2px,#e60000 133.2px,#e60000 202px)"></i><i style="background:linear-gradient(90deg,#e60000 3.5px,#f50000 12.5px,#ff8300 14.5px,#fff700 17.5px,#f0ff0f 18.5px,#d9ff26 19.5px,#acff53 20.5px,#32ffcd 21.5px,#0013ff 22.5px,#0030ff 23.4px,#0040ff 27.4px,#0081ff 34.4px,#00b0ff 41.4px,#00fbff 57.4px,#7eff81 93.3px,#fbff04 112.2px,#fff200 113.2px,#ff7200 117.2px,#ff0400 122.2px,#fb0000 123.2px,#e60000 130.2px,#e60000 202px)"></i><i style="background:linear-gradient(90deg,#e70000 3.5px,#f40000 11.5px,#ff2400 12.5px,#ff7000 13.5px,#ffa000 14.5px,#ffed00 16.5px,#fcff03 17.5px,#ceff31 19.5px,#9f6 20.5px,#0069ff 21.5px,#001aff 22.5px,#0047ff 23.4px,#0052ff 27.4px,#008eff 34.4px,#00b9ff 41.4px,#00faff 56.4px,#82ff7d 93.3px,#fbff04 111.2px,#fff200 112.2px,#ff7500 117.2px,#fe0000 124.2px,#e60000 134.2px,#e60000 202px)"></i><i style="background:linear-gradient(90deg,#e60000 3.5px,#f40000 12.5px,#ff1200 13.5px,#ff5f00 14.5px,#ff9700 15.5px,#ffef00 17.5px,#f6ff09 18.5px,#dcff23 19.5px,#aeff51 20.5px,#04fffb 21.5px,#0017ff 22.5px,#0050ff 23.4px,#0060ff 28.4px,#0094ff 34.4px,#00bdff 41.4px,#00fcff 56.4px,#80ff7f 93.3px,#fdff02 112.2px,#ffe900 113.2px,#ff7500 117.2px,#f00 123.2px,#e50000 132.2px,#e60000 202px)"></i><i style="background:linear-gradient(90deg,#e60000 3.5px,#f40000 12.5px,#ff1200 13.5px,#ff5f00 14.5px,#ff9700 15.5px,#ffef00 17.5px,#f6ff09 18.5px,#dcff23 19.5px,#aeff51 20.5px,#04fffb 21.5px,#0017ff 22.5px,#0050ff 23.4px,#0060ff 28.4px,#0094ff 34.4px,#00bdff 41.4px,#00fcff 56.4px,#80ff7f 93.3px,#fdff02 112.2px,#ffe900 113.2px,#ff7500 117.2px,#f00 123.2px,#e50000 132.2px,#e60000 202px)"></i><i style="background:linear-gradient(90deg,#e60000 3.5px,#f40000 12.5px,#ff1200 13.5px,#ff5f00 14.5px,#ff9700 15.5px,#ffef00 17.5px,#f6ff09 18.5px,#dcff23 19.5px,#aeff51 20.5px,#04fffb 21.5px,#0017ff 22.5px,#0050ff 23.4px,#0060ff 28.4px,#0094ff 34.4px,#00bdff 41.4px,#00fcff 56.4px,#80ff7f 93.3px,#fdff02 112.2px,#ffe900 113.2px,#ff7500 117.2px,#f00 123.2px,#e50000 132.2px,#e60000 202px)"></i><i style="background:linear-gradient(90deg,#e60000 3.5px,#f40000 12.5px,#ff1200 13.5px,#ff5f00 14.5px,#ff9700 15.5px,#ffef00 17.5px,#f6ff09 18.5px,#dcff23 19.5px,#aeff51 20.5px,#04fffb 21.5px,#0017ff 22.5px,#0050ff 23.4px,#0060ff 28.4px,#0094ff 34.4px,#00bdff 41.4px,#00fcff 56.4px,#80ff7f 93.3px,#fdff02 112.2px,#ffe900 113.2px,#ff7500 117.2px,#f00 123.2px,#e50000 132.2px,#e60000 202px)"></i></div><b class="f" style="left:39.9px;top:28.9px;width:139.6px"></b><b class="f" style="left:39.9px;top:87.8px;width:139.6px;background:linear-gradient(90deg,rgba(30,45,30,.42) 50%,rgba(30,45,30,.2) 59%)"></b><b class="v" style="left:178.9px"></b></div>
<span class="t xt" style="left:31.0px;top:452.1px">0</span><span class="t xt" style="left:70.9px;top:452.1px">20</span><span class="t xt" style="left:110.8px;top:452.1px">40</span><span class="t xt" style="left:150.7px;top:452.1px">60</span><span class="t xt" style="left:190.6px;top:452.1px">80</span><span class="t xt" style="left:230.5px;top:452.1px">100</span><span class="t yt" style="left:7.5px;top:442.9px">0</span><span class="t yt" style="left:7.5px;top:403.6px">20</span><span class="t yt" style="left:7.5px;top:364.4px">40</span><span class="t yt" style="left:7.5px;top:325.1px">60</span><span class="xl" style="left:130.8px;top:465.6px">x(m)</span><span class="yl" style="left:7.0px;top:387.7px">y(m)</span><span class="lg" style="left:88.9px;top:427.6px">Length=70 m</span>
<div class="p" style="left:288.5px;top:328.8px;width:199px;height:117.8px"><div class="h"><i style="background:linear-gradient(90deg,#e70000 3.5px,#f40000 11.5px,#ff2e00 12.5px,#ff7b00 13.4px,#fff100 16.4px,#faff05 17.4px,#d2ff2d 19.4px,#a7ff58 20.4px,#3bffc4 21.4px,#000eff 22.4px,#003cff 23.4px,#0051ff 28.4px,#0089ff 34.3px,#0bf 42.3px,#00fbff 57.2px,#80ff7f 97px,#fffa00 117.9px,#f80 121.9px,#ff0200 128.9px,#e50000 138.8px,#e60000 201.5px)"></i><i style="background:linear-gradient(90deg,#e70000 3.5px,#f40000 11.5px,#ff2e00 12.5px,#ff7b00 13.4px,#fff100 16.4px,#faff05 17.4px,#d2ff2d 19.4px,#a7ff58 20.4px,#3bffc4 21.4px,#000eff 22.4px,#003cff 23.4px,#0051ff 28.4px,#0089ff 34.3px,#0bf 42.3px,#00fbff 57.2px,#80ff7f 97px,#fffa00 117.9px,#f80 121.9px,#ff0200 128.9px,#e50000 138.8px,#e60000 201.5px)"></i><i style="background:linear-gradient(90deg,#e70000 3.5px,#f40000 11.5px,#ff2e00 12.5px,#ff7b00 13.4px,#fff100 16.4px,#faff05 17.4px,#d2ff2d 19.4px,#a7ff58 20.4px,#3bffc4 21.4px,#000eff 22.4px,#003cff 23.4px,#0051ff 28.4px,#0089ff 34.3px,#0bf 42.3px,#00fbff 57.2px,#80ff7f 97px,#fffa00 117.9px,#f80 121.9px,#ff0200 128.9px,#e50000 138.8px,#e60000 201.5px)"></i><i style="background:linear-gradient(90deg,#e70000 3.5px,#f40000 11.5px,#ff2e00 12.5px,#ff7b00 13.4px,#fff100 16.4px,#faff05 17.4px,#d2ff2d 19.4px,#a7ff58 20.4px,#3bffc4 21.4px,#000eff 22.4px,#003cff 23.4px,#0051ff 28.4px,#0089ff 34.3px,#0bf 42.3px,#00fbff 57.2px,#80ff7f 97px,#fffa00 117.9px,#f80 121.9px,#ff0200 128.9px,#e50000 138.8px,#e60000 201.5px)"></i><i style="background:linear-gradient(90deg,#e70000 3.5px,#f40000 11.5px,#ff3000 12.5px,#ff7c00 13.4px,#fff100 16.4px,#f9ff06 17.4px,#ceff31 19.4px,#9dff62 20.4px,#00baff 21.4px,#0016ff 22.4px,#0039ff 23.4px,#004fff 28.4px,#0087ff 34.3px,#00baff 42.3px,#00faff 57.2px,#81ff7e 97px,#fcff03 116.9px,#fff000 117.9px,#ff8000 121.9px,#f00 128.9px,#e60000 138.8px,#e60000 201.5px)"></i><i style="background:linear-gradient(90deg,#e70000 3.5px,#f40000 11.5px,#ff0800 12.5px,#f50 13.4px,#ff9100 14.4px,#fffd00 17.4px,#ecff13 18.4px,#d6ff29 19.4px,#a9ff56 20.4px,#32ffcd 21.4px,#0012ff 22.4px,#0036ff 23.4px,#004cff 28.4px,#0085ff 34.3px,#00b8ff 42.3px,#00faff 57.2px,#80ff7f 96px,#fcff03 115.9px,#fe0 116.9px,#ff8300 120.9px,#ff0600 127.9px,#fd0000 128.9px,#e60000 138.8px,#e60000 201.5px)"></i><i style="background:linear-gradient(90deg,#e60000 3.5px,#f40000 12.5px,#ff2e00 13.4px,#ff7b00 14.4px,#ffa500 15.4px,#fff500 17.4px,#f2ff0d 18.4px,#b7ff48 20.4px,#5bffa4 21.4px,#000dff 22.4px,#0032ff 23.4px,#004aff 28.4px,#0083ff 34.3px,#00b7ff 42.3px,#0ff 58.2px,#5fa 81.1px,#7fff80 96px,#faff05 115.9px,#fff600 116.9px,#ff7600 120.9px,#ff0a00 125.9px,#fd0000 126.9px,#e60000 134.8px,#e60000 201.5px)"></i><i style="background:linear-gradient(90deg,#e60000 3.5px,#f40000 12.5px,#ff1f00 13.4px,#ff6b00 14.4px,#ffc900 16.4px,#fff200 17.4px,#f4ff0b 18.4px,#daff25 19.4px,#acff53 20.4px,#00fcff 21.4px,#0017ff 22.4px,#002bff 23.4px,#003cff 27.4px,#007fff 34.3px,#00aeff 41.3px,#00feff 58.2px,#82ff7d 96px,#fffa00 115.9px,#ff7e00 120.9px,#fe0000 128.9px,#e60000 139.8px,#e60000 201.5px)"></i><i style="background:linear-gradient(90deg,#e60000 3.5px,#f40000 12.5px,#f20 13.4px,#ff6e00 14.4px,#ffca00 16.4px,#fff300 17.4px,#f4ff0b 18.4px,#baff45 20.4px,#63ff9c 21.4px,#000cff 22.4px,#0029ff 27.4px,#0071ff 34.3px,#00a5ff 41.3px,#0ff 59.2px,#5fa 81.1px,#7eff81 95px,#fcff03 114.9px,#ffef00 115.9px,#f80 119.9px,#f00 127.9px,#e60000 138.8px,#e60000 201.5px)"></i><i style="background:linear-gradient(90deg,#e60000 3.5px,#f40000 12.5px,#ff0d00 13.4px,#ff5900 14.4px,#ff9400 15.4px,#ffed00 17.4px,#f7ff08 18.4px,#b6ff49 20.4px,#45ffba 21.4px,#0012ff 22.4px,#0004ff 23.4px,#001dff 27.4px,#0068ff 34.3px,#009fff 41.3px,#00fdff 59.2px,#7fff80 95px,#fff900 114.9px,#ff7b00 120.9px,#fe0000 129.9px,#e60000 141.8px,#e60000 201.5px)"></i><i style="background:linear-gradient(90deg,#e60000 3.5px,#f40000 12.5px,#ff1500 13.4px,#ff6100 14.4px,#ff9800 15.4px,#fff000 17.4px,#f7ff08 18.4px,#c0ff3f 20.4px,#76ff89 21.4px,#000aff 22.4px,#0000fc 23.4px,#0019ff 27.4px,#06f 34.3px,#009dff 41.3px,#00fdff 59.2px,#81ff7e 94px,#fffb00 112.9px,#ff7f00 118.9px,#fe0000 128.9px,#e60000 141.8px,#e60000 201.5px)"></i><i style="background:linear-gradient(90deg,#e60000 3.5px,#f40000 13.4px,#ff2000 14.4px,#ff6f00 15.4px,#ffd800 17.4px,#fffd00 18.4px,#e9ff16 19.4px,#ceff31 20.4px,#94ff6b 21.4px,#0008ff 22.4px,#0000fc 23.4px,#001aff 27.4px,#06f 34.3px,#009dff 41.3px,#03fffc 60.2px,#51ffae 79.1px,#80ff7f 94px,#ff0 112.9px,#ff7a00 118.9px,#ff0500 126.9px,#fd0000 127.9px,#e60000 138.8px,#e60000 201.5px)"></i><i style="background:linear-gradient(90deg,#e60000 3.5px,#f40000 13.4px,#ff2d00 14.4px,#ff7b00 15.4px,#fd0 17.4px,#ff0 18.4px,#e6ff19 19.4px,#c9ff36 20.4px,#85ff7a 21.4px,#000aff 22.4px,#0000f9 23.4px,#0016ff 27.4px,#0064ff 34.3px,#009bff 41.3px,#03fffc 60.2px,#52ffad 79.1px,#7dff82 93px,#fbff04 112px,#fff400 112.9px,#ff7a00 118.9px,#f00 127.9px,#e60000 140.8px,#e60000 201.5px)"></i><i style="background:linear-gradient(90deg,#e60000 3.5px,#fc0000 14.4px,#ff9800 16.4px,#fc0 17.4px,#fff700 18.4px,#ecff13 19.4px,#d1ff2e 20.4px,#8fff70 21.4px,#000aff 22.4px,#0000f7 23.4px,#0014ff 27.4px,#0062ff 34.3px,#009aff 41.3px,#02fffd 60.2px,#51ffae 79.1px,#81ff7e 94px,#fffd00 112.9px,#ff7900 118.9px,#ff0300 126.9px,#fd0000 127.9px,#e60000 138.8px,#e60000 201.5px)"></i><i style="background:linear-gradient(90deg,#e60000 3.5px,#f40000 13.4px,#ff2e00 14.4px,#ff7c00 15.4px,#fd0 17.4px,#ff0 18.4px,#e7ff18 19.4px,#cdff32 20.4px,#95ff6a 21.4px,#0007ff 22.4px,#0000fa 23.4px,#0019ff 27.4px,#06f 34.3px,#009dff 41.3px,#03fffc 60.2px,#51ffae 79.1px,#80ff7f 94px,#ff0 112.9px,#ff8100 117.9px,#f00 125.9px,#e60000 136.8px,#e60000 201.5px)"></i><i style="background:linear-gradient(90deg,#e60000 3.5px,#f40000 12.5px,#ff0600 13.4px,#ff9100 15.4px,#ffeb00 17.4px,#f7ff08 18.4px,#dcff23 19.4px,#acff53 20.4px,#00d5ff 21.4px,#001aff 22.4px,#000aff 23.4px,#0020ff 27.4px,#006bff 34.3px,#00a0ff 41.3px,#0ff 59.2px,#51ffae 79.1px,#80ff7f 94px,#ff0 112.9px,#ff7b00 118.9px,#fd0000 127.9px,#e60000 139.8px,#e60000 201.5px)"></i><i style="background:linear-gradient(90deg,#e60000 3.5px,#f50000 13.4px,#ff8400 15.4px,#ffe200 17.4px,#fcff03 18.4px,#c0ff3f 20.4px,#61ff9e 21.4px,#000fff 22.4px,#0028ff 27.4px,#0070ff 34.3px,#00a4ff 41.3px,#00fbff 58.2px,#80ff7f 94px,#fdff02 112.9px,#ffeb00 113.9px,#ff7f00 117.9px,#ff0300 124.9px,#fc0000 125.9px,#e60000 134.8px,#e60000 201.5px)"></i><i style="background:linear-gradient(90deg,#e60000 3.5px,#f40000 13.4px,#ff2400 14.4px,#ff7200 15.4px,#ffda00 17.4px,#ff0 18.4px,#e3ff1c 19.4px,#bf4 20.4px,#3fffc0 21.4px,#0015ff 22.4px,#002fff 27.4px,#0075ff 34.3px,#00a8ff 41.3px,#00fdff 58.2px,#7eff81 94px,#feff01 113.9px,#ff7800 118.9px,#fd0000 125.9px,#e60000 134.8px,#e60000 201.5px)"></i><i style="background:linear-gradient(90deg,#e60000 3.5px,#f50000 13.4px,#ff8500 15.4px,#ffe300 17.4px,#fcff03 18.4px,#bdff42 20.4px,#56ffa9 21.4px,#0010ff 22.4px,#0030ff 27.4px,#0076ff 34.3px,#00a8ff 41.3px,#00fdff 58.2px,#7fff80 94px,#fcff03 112.9px,#ffef00 113.9px,#ff8700 117.9px,#fe0000 125.9px,#e60000 135.8px,#e60000 201.5px)"></i><i style="background:linear-gradient(90deg,#e60000 3.5px,#f30000 12.5px,#ff0400 13.4px,#ff8f00 15.4px,#ffea00 17.4px,#f8ff07 18.4px,#deff21 19.4px,#b4ff4b 20.4px,#36ffc9 21.4px,#0015ff 22.4px,#002eff 27.4px,#0075ff 34.3px,#00a7ff 41.3px,#00fdff 58.2px,#81ff7e 94px,#feff01 112.9px,#ff7f00 117.9px,#ff0700 124.9px,#fd0000 125.9px,#e60000 135.8px,#e60000 201.5px)"></i><i style="background:linear-gradient(90deg,#e60000 3.5px,#f40000 12.5px,#ff0e00 13.4px,#ff5a00 14.4px,#ff9500 15.4px,#fe0 17.4px,#f7ff08 18.4px,#df2 19.4px,#b2ff4d 20.4px,#35ffca 21.4px,#0014ff 22.4px,#00abff 41.3px,#0ff 58.2px,#82ff7d 94px,#fff800 112.9px,#ff8000 117.9px,#ff0300 125.9px,#e60000 137.8px,#e60000 201.5px)"></i><i style="background:linear-gradient(90deg,#e60000 3.5px,#f40000 12.5px,#ff2c00 13.4px,#ff7800 14.4px,#ffa400 15.4px,#fff500 17.4px,#f1ff0e 18.4px,#d6ff29 19.4px,#a1ff5e 20.4px,#005cff 21.4px,#02f 22.4px,#0046ff 28.4px,#0080ff 34.3px,#00afff 41.3px,#00fbff 57.2px,#80ff7f 94px,#fdff02 112.9px,#ffec00 113.9px,#ff7f00 117.9px,#ff0200 124.9px,#e60000 134.8px,#e60000 201.5px)"></i><i style="background:linear-gradient(90deg,#e70000 3.5px,#f40000 11.5px,#ff1600 12.5px,#ff6200 13.4px,#ff9800 14.4px,#ffe600 16.4px,#ff0 17.4px,#d4ff2b 19.4px,#a7ff58 20.4px,#30ffcf 21.4px,#01f 22.4px,#0039ff 23.4px,#004fff 28.4px,#0087ff 34.3px,#00baff 42.3px,#00d6ff 50.3px,#00fdff 57.2px,#7fff80 93px,#fcff03 112px,#fff000 112.9px,#ff7500 117.9px,#ff0100 124.9px,#e50000 135.8px,#e60000 201.5px)"></i><i style="background:linear-gradient(90deg,#e70000 3.5px,#f40000 11.5px,#ff1900 12.5px,#ff6500 13.4px,#ff9a00 14.4px,#ffe800 16.4px,#feff01 17.4px,#d4ff2b 19.4px,#a6ff59 20.4px,#24ffdb 21.4px,#0012ff 22.4px,#0034ff 23.4px,#004bff 28.4px,#0084ff 34.3px,#00b8ff 42.3px,#00fcff 57.2px,#7eff81 93px,#fff700 112.9px,#ff8700 117.9px,#f00 126.9px,#e60000 138.8px,#e60000 201.5px)"></i><i style="background:linear-gradient(90deg,#e70000 3.5px,#f40000 11.5px,#ff1f00 12.5px,#ff6b00 13.4px,#ff9d00 14.4px,#ffea00 16.4px,#fdff02 17.4px,#d5ff2a 19.4px,#acff53 20.4px,#4bffb4 21.4px,#000dff 22.4px,#02f 23.4px,#0035ff 27.4px,#007aff 34.3px,#00abff 41.3px,#0ff 58.2px,#54ffab 79.1px,#7eff81 93px,#fbff04 112px,#fff500 112.9px,#ff7f00 117.9px,#ff0300 125.9px,#fc0000 126.9px,#e60000 137.8px,#e60000 201.5px)"></i><i style="background:linear-gradient(90deg,#e70000 3.5px,#f40000 11.5px,#ff1600 12.5px,#ff6300 13.4px,#f90 14.4px,#ffe700 16.4px,#feff01 17.4px,#d6ff29 19.4px,#acff53 20.4px,#47ffb8 21.4px,#000eff 22.4px,#001fff 23.4px,#03f 27.4px,#0078ff 34.3px,#0af 41.3px,#00feff 58.2px,#54ffab 79.1px,#7fff80 93px,#feff01 112px,#f70 117.9px,#fd0000 125.9px,#e60000 136.8px,#e60000 201.5px)"></i><i style="background:linear-gradient(90deg,#e80000 3.5px,#f50000 11.5px,#ff8500 13.4px,#fff400 16.4px,#f6ff09 17.4px,#d5ff2a 19.4px,#b5ff4a 20.4px,#84ff7b 21.4px,#004aff 22.4px,#0025ff 23.4px,#00afff 41.3px,#00fbff 57.2px,#7fff80 93px,#fdff02 112px,#ffeb00 112.9px,#ff8600 116.9px,#f00 124.9px,#e60000 135.8px,#e60000 201.5px)"></i><i style="background:linear-gradient(90deg,#e70000 3.5px,#f40000 11.5px,#ff0900 12.5px,#ff5600 13.4px,#ff9200 14.4px,#fffd00 17.4px,#ecff13 18.4px,#d7ff28 19.4px,#b0ff4f 20.4px,#52ffad 21.4px,#000cff 22.4px,#0039ff 23.4px,#004fff 28.4px,#0087ff 34.3px,#00baff 42.3px,#00d6ff 50.3px,#00feff 57.2px,#81ff7e 93px,#fff800 112px,#ff7e00 116.9px,#f00 124.9px,#e60000 135.8px,#e60000 201.5px)"></i><i style="background:linear-gradient(90deg,#e60000 3.5px,#f50000 12.5px,#ff8300 14.4px,#fff700 17.4px,#f2ff0d 18.4px,#c8ff37 20.4px,#9dff62 21.4px,#00a0ff 22.4px,#03f 23.4px,#00b6ff 41.3px,#00feff 57.2px,#7fff80 93px,#fdff02 112px,#fe0 112.9px,#ff8600 116.9px,#fe0000 124.9px,#e60000 134.8px,#e60000 201.5px)"></i><i style="background:linear-gradient(90deg,#e60000 3.5px,#f30000 11.5px,#ff0400 12.5px,#ff8f00 14.4px,#fffc00 17.4px,#ef1 18.4px,#bf4 20.4px,#82ff7d 21.4px,#0008ff 22.4px,#0034ff 23.4px,#004fff 28.4px,#0087ff 34.3px,#00baff 42.3px,#00d6ff 50.3px,#00feff 57.2px,#5fa 78.1px,#80ff7f 92.1px,#f9ff06 110px,#fff900 111px,#ff8500 115.9px,#ff0c00 124.9px,#fc0000 126.9px,#e60000 135.8px,#e60000 201.5px)"></i><i style="background:linear-gradient(90deg,#e60000 3.5px,#f40000 12.5px,#ff2500 13.4px,#ff7100 14.4px,#ffcb00 16.4px,#fff300 17.4px,#f4ff0b 18.4px,#beff41 20.4px,#7f8 21.4px,#0009ff 22.4px,#002aff 23.4px,#0046ff 28.4px,#0080ff 34.3px,#00b5ff 42.3px,#00d3ff 50.3px,#00fcff 57.2px,#7fff80 92.1px,#feff01 111px,#ffd100 112.9px,#ffb500 114.9px,#ffa200 119.9px,#ff5900 126.9px,#fc0000 137.8px,#e60000 144.8px,#e60000 201.5px)"></i><i style="background:linear-gradient(90deg,#e60000 3.5px,#f40000 12.5px,#ff0a00 13.4px,#ff5700 14.4px,#ff9300 15.4px,#ffec00 17.4px,#faff05 18.4px,#d2ff2d 20.4px,#a4ff5b 21.4px,#00b6ff 22.4px,#001fff 23.4px,#00aeff 41.3px,#00fbff 57.2px,#82ff7d 93px,#fff700 112px,#ff8300 133.8px,#ff2000 145.8px,#ff0300 150.8px,#e60000 170.7px,#e60000 201.5px)"></i><i style="background:linear-gradient(90deg,#e70000 3.5px,#f40000 11.5px,#ff2c00 12.5px,#ff7800 13.4px,#ffa400 14.4px,#fff000 16.4px,#faff05 17.4px,#d6ff29 19.4px,#b4ff4b 20.4px,#79ff86 21.4px,#000fff 22.4px,#002cff 24.4px,#0042ff 28.4px,#007dff 34.3px,#00adff 41.3px,#00fbff 57.2px,#a9ff56 102px,#bdff42 117.9px,#ff0 127.9px,#ff8300 141.8px,#ff2400 149.8px,#f00 155.7px,#f50000 158.7px,#f50000 182.6px,#e60000 183.6px,#e60000 201.5px)"></i><i style="background:linear-gradient(90deg,#e60000 3.5px,#f70000 12.5px,#ff8900 14.4px,#fffa00 17.4px,#efff10 18.4px,#b7ff48 20.4px,#6aff95 21.4px,#0009ff 22.4px,#001cff 23.4px,#0032ff 27.4px,#0078ff 34.3px,#00a9ff 41.3px,#0ff 58.2px,#57ffa8 82.1px,#75ff8a 98px,#81ff7e 114.9px,#acff53 126.9px,#ff0 136.8px,#ffbe00 142.8px,#ff3400 150.8px,#fe0000 156.7px,#f50000 158.7px,#f50000 182.6px,#e60000 183.6px,#e60000 201.5px)"></i><i style="background:linear-gradient(90deg,#e60000 3.5px,#f40000 12.5px,#ff0500 13.4px,#ff9000 15.4px,#ffeb00 17.4px,#faff05 18.4px,#c7ff38 20.4px,#8eff71 21.4px,#0006ff 22.4px,#0027ff 27.4px,#0070ff 34.3px,#00a4ff 41.3px,#00fcff 58.2px,#54ffab 79.1px,#7eff81 93px,#aeff51 103px,#c3ff3c 117.9px,#fff800 127.9px,#ff8100 141.8px,#ff2300 149.8px,#f00 155.7px,#f50000 158.7px,#f50000 182.6px,#e60000 183.6px,#e60000 201.5px)"></i><i style="background:linear-gradient(90deg,#e60000 3.5px,#f40000 12.5px,#ff2f00 13.4px,#ff7c00 14.4px,#fff500 17.4px,#f1ff0e 18.4px,#d9ff26 19.4px,#adff52 20.4px,#2bffd4 21.4px,#0014ff 22.4px,#0007ff 23.4px,#001fff 27.4px,#006aff 34.3px,#00a0ff 41.3px,#00fbff 58.2px,#7dff82 91.1px,#ff0 110px,#ffe700 112px,#ffd800 118.9px,#ff8200 133.8px,#ff2500 144.8px,#ff0300 150.8px,#e60000 169.7px,#e60000 201.5px)"></i><i style="background:linear-gradient(90deg,#e60000 3.5px,#f50000 12.5px,#ff3600 13.4px,#ff8100 14.4px,#fff700 17.4px,#f2ff0d 18.4px,#bf4 20.4px,#75ff8a 21.4px,#0008ff 22.4px,#0003ff 23.4px,#00a0ff 41.3px,#01fffe 59.2px,#51ffae 78.1px,#7eff81 92.1px,#f8ff07 110px,#fffd00 111px,#ffb800 114.9px,#ffa100 119.9px,#f50 126.9px,#ff0100 136.8px,#e70000 143.8px,#e60000 201.5px)"></i><i style="background:linear-gradient(90deg,#e60000 3.5px,#f40000 12.5px,#f30 13.4px,#ff8000 14.4px,#fff600 17.4px,#f2ff0d 18.4px,#beff41 20.4px,#80ff7f 21.4px,#0007ff 22.4px,#00a5ff 41.3px,#00fdff 58.2px,#7eff81 92.1px,#feff01 111px,#ff8000 116.9px,#ff1000 124.9px,#fe0000 126.9px,#e60000 137.8px,#e60000 201.5px)"></i><i style="background:linear-gradient(90deg,#e60000 3.5px,#f40000 12.5px,#f30 13.4px,#ff8000 14.4px,#fff600 17.4px,#f2ff0d 18.4px,#beff41 20.4px,#82ff7d 21.4px,#0006ff 22.4px,#0020ff 23.4px,#003fff 28.4px,#007bff 34.3px,#00b2ff 42.3px,#00d0ff 50.3px,#00faff 57.2px,#7eff81 92.1px,#ff0 111px,#ff7600 116.9px,#fe0000 124.9px,#e60000 135.8px,#e60000 201.5px)"></i><i style="background:linear-gradient(90deg,#e70000 3.5px,#f40000 11.5px,#f20 12.5px,#ff6f00 13.4px,#ff9f00 14.4px,#ffec00 16.4px,#fcff03 17.4px,#d3ff2c 19.4px,#a5ff5a 20.4px,#21ffde 21.4px,#0012ff 22.4px,#0038ff 23.4px,#004eff 28.4px,#0086ff 34.3px,#00b9ff 42.3px,#00d5ff 50.3px,#00feff 57.2px,#80ff7f 92.1px,#fcff03 110px,#fff300 111px,#ff8400 115.9px,#f00 124.9px,#e60000 136.8px,#e60000 201.5px)"></i><i style="background:linear-gradient(90deg,#e70000 3.5px,#f40000 11.5px,#ff0900 12.5px,#f50 13.4px,#ff9100 14.4px,#fffd00 17.4px,#edff12 18.4px,#b7ff48 20.4px,#70ff8f 21.4px,#0008ff 22.4px,#0049ff 23.4px,#005eff 28.4px,#0092ff 34.3px,#00bcff 41.3px,#00dbff 50.3px,#00fdff 56.2px,#82ff7d 91.1px,#f9ff06 108px,#fffc00 109px,#ff8200 114.9px,#fe0000 124.9px,#e60000 137.8px,#e60000 201.5px)"></i><i style="background:linear-gradient(90deg,#e70000 3.5px,#f40000 11.5px,#ff1e00 12.5px,#ff6b00 13.4px,#ff9d00 14.4px,#ffea00 16.4px,#fdff02 17.4px,#d6ff29 19.4px,#b1ff4e 20.4px,#64ff9b 21.4px,#0009ff 22.4px,#0054ff 23.4px,#06f 28.4px,#0098ff 34.3px,#00c0ff 41.3px,#00deff 50.3px,#0ff 56.2px,#34ffcb 68.2px,#84ff7b 92.1px,#fffd00 110px,#ff8300 115.9px,#fe0000 125.9px,#e60000 138.8px,#e50000 201.5px)"></i><i style="background:linear-gradient(90deg,#e70000 3.5px,#f40000 11.5px,#ff3100 12.5px,#ff7d00 13.4px,#fff100 16.4px,#f9ff06 17.4px,#d1ff2e 19.4px,#a4ff5b 20.4px,#2fffd0 21.4px,#0010ff 22.4px,#0048ff 23.4px,#005aff 28.4px,#008fff 34.3px,#00baff 41.3px,#00fcff 56.2px,#82ff7d 92.1px,#fdff02 110px,#fe0 111px,#ff7d00 115.9px,#ff0500 123.9px,#fd0000 124.9px,#e60000 135.8px,#e60000 201.5px)"></i><i style="background:linear-gradient(90deg,#e80000 3.5px,#f40000 10.5px,#ff0a00 11.5px,#ff5700 12.5px,#ff9200 13.4px,#ffe200 15.4px,#fffa00 16.4px,#f1ff0e 17.4px,#c9ff36 19.4px,#9fff60 20.4px,#29ffd6 21.4px,#000fff 22.4px,#002bff 23.4px,#04f 28.4px,#007fff 34.3px,#00b4ff 42.3px,#00d2ff 50.3px,#00fdff 57.2px,#7fff80 91.1px,#fbff04 109px,#fff300 110px,#ff7800 115.9px,#fe0000 124.9px,#e60000 136.8px,#e60000 201.5px)"></i><i style="background:linear-gradient(90deg,#e80000 3.5px,#f40000 10.5px,#ff1700 11.5px,#ff6400 12.5px,#f90 13.4px,#ffe800 15.4px,#fffd00 16.4px,#efff10 17.4px,#c5ff3a 19.4px,#9dff62 20.4px,#26ffd9 21.4px,#000eff 22.4px,#0026ff 27.4px,#006fff 34.3px,#00a3ff 41.3px,#00fcff 58.2px,#7eff81 92.1px,#fff700 111px,#ff8200 115.9px,#fe0000 124.9px,#e60000 135.8px,#e60000 201.5px)"></i><i style="background:linear-gradient(90deg,#ea0000 3.5px,#f90000 10.5px,#ff8a00 12.5px,#fff900 15.4px,#f5ff0a 16.4px,#d6ff29 18.4px,#8eff71 20.4px,#00cfff 21.4px,#0010ff 22.4px,#0027ff 27.4px,#0070ff 34.3px,#00a4ff 41.3px,#00fdff 58.2px,#80ff7f 92.1px,#fdff02 110px,#ffec00 111px,#ff8000 114.9px,#ff0600 121.9px,#fd0000 122.9px,#e60000 132.8px,#e60000 201.5px)"></i><i style="background:linear-gradient(90deg,#ea0000 3.5px,#fd0000 10.5px,#ff8c00 12.5px,#fffa00 15.4px,#f4ff0b 16.4px,#d5ff2a 18.4px,#b2ff4d 19.4px,#79ff86 20.4px,#0071ff 21.4px,#0014ff 22.4px,#0028ff 23.4px,#003aff 27.4px,#007dff 34.3px,#00adff 41.3px,#00d1ff 50.3px,#00fcff 57.2px,#81ff7e 92.1px,#feff01 110px,#ff7900 114.9px,#fe0000 121.9px,#e60000 131.9px,#e60000 201.5px)"></i><i style="background:linear-gradient(90deg,#e80000 3.5px,#f30000 10.5px,#ff0200 11.5px,#ff8e00 13.4px,#ffde00 15.4px,#fff800 16.4px,#f3ff0c 17.4px,#c5ff3a 19.4px,#96ff69 20.4px,#0086ff 21.4px,#0017ff 22.4px,#0047ff 23.4px,#0053ff 27.4px,#008eff 34.3px,#00b9ff 41.3px,#00fbff 56.2px,#80ff7f 92.1px,#fbff04 110px,#fff300 111px,#ff7800 115.9px,#ff0500 122.9px,#fc0000 123.9px,#e50000 133.8px,#e60000 201.5px)"></i><i style="background:linear-gradient(90deg,#e80000 3.5px,#f40000 10.5px,#ff1000 11.5px,#ff5c00 12.5px,#ff9500 13.4px,#ffbd00 14.4px,#ffe500 15.4px,#fffc00 16.4px,#f0ff0f 17.4px,#c0ff3f 19.4px,#8fff70 20.4px,#0069ff 21.4px,#0018ff 22.4px,#004bff 23.4px,#005cff 28.4px,#0091ff 34.3px,#0bf 41.3px,#00fcff 56.2px,#80ff7f 92.1px,#faff05 110px,#fff600 111px,#ff7100 115.9px,#ff0300 121.9px,#fc0000 122.9px,#e50000 131.9px,#e60000 201.5px)"></i><i style="background:linear-gradient(90deg,#ea0000 3.5px,#fe0000 10.5px,#ff8c00 12.5px,#fffa00 15.4px,#f4ff0b 16.4px,#d4ff2b 18.4px,#b2ff4d 19.4px,#78ff87 20.4px,#0070ff 21.4px,#0014ff 22.4px,#03f 23.4px,#0049ff 28.4px,#0083ff 34.3px,#00b7ff 42.3px,#00d4ff 50.3px,#00fdff 57.2px,#7eff81 92.1px,#fdff02 111px,#ffe800 112px,#ff7500 115.9px,#f00 121.9px,#e60000 130.9px,#e60000 201.5px)"></i><i style="background:linear-gradient(90deg,#ea0000 3.5px,#f30000 9.5px,#ff0300 10.5px,#ff8f00 12.5px,#fffc00 15.4px,#f3ff0c 16.4px,#d4ff2b 18.4px,#b3ff4c 19.4px,#81ff7e 20.4px,#00a2ff 21.4px,#0012ff 22.4px,#000eff 23.4px,#0025ff 27.4px,#006eff 34.3px,#00a3ff 41.3px,#00fcff 58.2px,#7fff80 92.1px,#faff05 110px,#fff400 111px,#f70 115.9px,#ff0100 122.9px,#e60000 133.8px,#e60000 201.5px)"></i><i style="background:linear-gradient(90deg,#e70000 3.5px,#f40000 11.5px,#f30 12.5px,#ff8000 13.4px,#fff200 16.4px,#f9ff06 17.4px,#d1ff2e 19.4px,#a3ff5c 20.4px,#2fffd0 21.4px,#0010ff 22.4px,#0001ff 23.4px,#001aff 27.4px,#06f 34.3px,#009dff 41.3px,#0ff 59.2px,#51ffae 78.1px,#7eff81 92.1px,#faff05 110px,#fff300 111px,#ff8600 114.9px,#ff0800 121.9px,#fd0000 122.9px,#e60000 132.8px,#e60000 201.5px)"></i><i style="background:linear-gradient(90deg,#e80000 3.5px,#f50000 11.5px,#ff8400 13.4px,#fff400 16.4px,#f7ff08 17.4px,#d2ff2d 19.4px,#a7ff58 20.4px,#4fb 21.4px,#000dff 22.4px,#000cff 23.4px,#0024ff 27.4px,#006dff 34.3px,#00a2ff 41.3px,#00fdff 58.2px,#7eff81 91.1px,#faff05 109px,#fff500 110px,#ff8100 114.9px,#fd0000 123.9px,#e60000 134.8px,#e60000 201.5px)"></i><i style="background:linear-gradient(90deg,#e80000 3.5px,#f50000 11.5px,#ff8300 13.4px,#fff300 16.4px,#f7ff08 17.4px,#d1ff2e 19.4px,#a5ff5a 20.4px,#3bffc4 21.4px,#000eff 22.4px,#0025ff 23.4px,#0038ff 27.4px,#007cff 34.3px,#00acff 41.3px,#00d1ff 50.3px,#00fcff 57.2px,#80ff7f 91.1px,#ff0 109px,#ff8500 113.9px,#ff0300 121.9px,#fc0000 122.9px,#e60000 132.8px,#e60000 201.5px)"></i><i style="background:linear-gradient(90deg,#e70000 3.5px,#f40000 11.5px,#ff0a00 12.5px,#ff5600 13.4px,#ff9200 14.4px,#fffd00 17.4px,#ecff13 18.4px,#d9ff26 19.4px,#b5ff4a 20.4px,#68ff97 21.4px,#0009ff 22.4px,#0031ff 23.4px,#004bff 28.4px,#0084ff 34.3px,#00b8ff 42.3px,#00d4ff 50.3px,#00feff 57.2px,#83ff7c 92.1px,#f9ff06 109px,#fffb00 110px,#ff8000 114.9px,#f00 122.9px,#e60000 133.8px,#e60000 201.5px)"></i><i style="background:linear-gradient(90deg,#e80000 3.5px,#f50000 11.5px,#ff8700 13.4px,#fff500 16.4px,#f6ff09 17.4px,#d2ff2d 19.4px,#abff54 20.4px,#58ffa7 21.4px,#0009ff 22.4px,#0034ff 23.4px,#004dff 28.4px,#0086ff 34.3px,#00b9ff 42.3px,#00d5ff 50.3px,#00f9ff 56.2px,#81ff7e 91.1px,#fffd00 109px,#ff8700 113.9px,#fd0000 122.9px,#e60000 133.8px,#e60000 201.5px)"></i><i style="background:linear-gradient(90deg,#e70000 3.5px,#f40000 11.5px,#ff2300 12.5px,#ff6f00 13.4px,#ff9f00 14.4px,#ffec00 16.4px,#fcff03 17.4px,#d4ff2b 19.4px,#af5 20.4px,#46ffb9 21.4px,#000dff 22.4px,#0032ff 23.4px,#004aff 28.4px,#0083ff 34.3px,#00b7ff 42.3px,#00d4ff 50.3px,#0ff 57.2px,#5fa 77.1px,#7eff81 90.1px,#fdff02 108px,#fe0 109px,#ff7b00 113.9px,#ff0100 121.9px,#e60000 133.8px,#e60000 201.5px)"></i><i style="background:linear-gradient(90deg,#e70000 3.5px,#f40000 11.5px,#ff2100 12.5px,#ff6d00 13.4px,#ff9e00 14.4px,#ffeb00 16.4px,#fcff03 17.4px,#d7ff28 19.4px,#b6ff49 20.4px,#7cff83 21.4px,#000fff 22.4px,#0034ff 23.4px,#0050ff 28.4px,#08f 34.3px,#00baff 42.3px,#00d6ff 50.3px,#00faff 56.2px,#80ff7f 90.1px,#fffb00 108px,#ff7800 113.9px,#ff0200 121.9px,#e60000 133.8px,#e60000 201.5px)"></i><i style="background:linear-gradient(90deg,#e70000 3.5px,#f40000 11.5px,#ff1300 12.5px,#ff5f00 13.4px,#ff9700 14.4px,#ffe500 16.4px,#ff0 17.4px,#ebff14 18.4px,#d7ff28 19.4px,#b2ff4d 20.4px,#61ff9e 21.4px,#000aff 22.4px,#0041ff 23.4px,#0057ff 28.4px,#008dff 34.3px,#00b8ff 41.3px,#00d8ff 50.3px,#00fcff 56.2px,#81ff7e 90.1px,#fbff04 107px,#ff7c00 113.9px,#fd0000 123.9px,#e50000 136.8px,#e60000 201.5px)"></i><i style="background:linear-gradient(90deg,#e70000 3.5px,#f40000 11.5px,#ff2300 12.5px,#ff6f00 13.4px,#ff9f00 14.4px,#ffec00 16.4px,#fcff03 17.4px,#d5ff2a 19.4px,#acff53 20.4px,#4fffb0 21.4px,#000cff 22.4px,#0045ff 23.4px,#0059ff 28.4px,#008eff 34.3px,#00b9ff 41.3px,#00d9ff 50.3px,#00fcff 56.2px,#7fff80 90.1px,#feff01 108px,#ff8300 113.9px,#fd0000 123.9px,#e60000 135.8px,#e60000 201.5px)"></i><i style="background:linear-gradient(90deg,#e60000 3.5px,#f40000 12.5px,#ff2f00 13.4px,#ff7c00 14.4px,#fff500 17.4px,#f1ff0e 18.4px,#daff25 19.4px,#aeff51 20.4px,#32ffcd 21.4px,#0013ff 22.4px,#0032ff 23.4px,#0049ff 28.4px,#0082ff 34.3px,#00b7ff 42.3px,#00d4ff 50.3px,#0ff 57.2px,#56ffa9 77.1px,#80ff7f 90.1px,#fff700 108px,#ff7900 113.9px,#fe0000 122.9px,#e60000 134.8px,#e60000 201.5px)"></i><i style="background:linear-gradient(90deg,#e60000 3.5px,#fd0000 12.5px,#ff8c00 14.4px,#fffb00 17.4px,#edff12 18.4px,#d7ff28 19.4px,#af5 20.4px,#31ffce 21.4px,#0012ff 22.4px,#0024ff 23.4px,#0037ff 27.4px,#007bff 34.3px,#00acff 41.3px,#00d0ff 50.3px,#00fcff 57.2px,#81ff7e 91.1px,#fff800 109px,#ff8000 114.9px,#fe0000 124.9px,#e60000 137.8px,#e60000 201.5px)"></i><i style="background:linear-gradient(90deg,#e60000 3.5px,#f50000 12.5px,#ff8400 14.4px,#fff800 17.4px,#efff10 18.4px,#d7ff28 19.4px,#a5ff5a 20.4px,#00bfff 21.4px,#0019ff 22.4px,#00acff 41.3px,#00d1ff 50.3px,#00fcff 57.2px,#7eff81 90.1px,#fcff03 108px,#fff100 109px,#ff8400 113.9px,#ff0300 122.9px,#e60000 135.8px,#e60000 201.5px)"></i><i style="background:linear-gradient(90deg,#e60000 3.5px,#f50000 13.4px,#ff8400 15.4px,#ffe200 17.4px,#fcff03 18.4px,#bdff42 20.4px,#5fa 21.4px,#01f 22.4px,#0032ff 23.4px,#004aff 28.4px,#0083ff 34.3px,#00b7ff 42.3px,#00d4ff 50.3px,#0ff 57.2px,#5fa 77.1px,#7fff80 90.1px,#feff01 108px,#ff7a00 113.9px,#ff0100 121.9px,#e60000 133.8px,#e60000 201.5px)"></i><i style="background:linear-gradient(90deg,#e60000 3.5px,#f40000 12.5px,#ff2e00 13.4px,#ff7b00 14.4px,#fff500 17.4px,#f1ff0e 18.4px,#d9ff26 19.4px,#abff54 20.4px,#0dfff2 21.4px,#0016ff 22.4px,#003eff 23.4px,#0052ff 28.4px,#0089ff 34.3px,#0bf 42.3px,#00d7ff 50.3px,#00fbff 56.2px,#82ff7d 90.1px,#feff01 107px,#ff8100 113.9px,#fe0000 124.9px,#e60000 138.8px,#e60000 201.5px)"></i><i style="background:linear-gradient(90deg,#e60000 3.5px,#f50000 13.4px,#ff8700 15.4px,#ffe400 17.4px,#fbff04 18.4px,#bf4 20.4px,#4effb1 21.4px,#0012ff 22.4px,#0046ff 23.4px,#0059ff 28.4px,#008fff 34.3px,#00baff 41.3px,#00d9ff 50.3px,#00fcff 56.2px,#82ff7d 91.1px,#fff800 109px,#ff8500 113.9px,#fe0000 122.9px,#e50000 134.8px,#e60000 201.5px)"></i><i style="background:linear-gradient(90deg,#e60000 3.5px,#f60000 13.4px,#ff8900 15.4px,#ffe500 17.4px,#fcff03 18.4px,#c8ff37 20.4px,#8dff72 21.4px,#0007ff 22.4px,#003eff 23.4px,#0056ff 28.4px,#008cff 34.3px,#00b8ff 41.3px,#00d8ff 50.3px,#00fbff 56.2px,#80ff7f 91.1px,#fcff03 109px,#fff000 110px,#ff7c00 114.9px,#f00 122.9px,#e50000 134.8px,#e60000 201.5px)"></i><i style="background:linear-gradient(90deg,#e60000 3.5px,#f40000 13.4px,#ff0700 14.4px,#ff9d00 16.4px,#ffcf00 17.4px,#fff900 18.4px,#eaff15 19.4px,#cbff34 20.4px,#79ff86 21.4px,#000dff 22.4px,#0037ff 23.4px,#004eff 28.4px,#0086ff 34.3px,#00b9ff 42.3px,#00d5ff 50.3px,#00feff 57.2px,#81ff7e 92.1px,#fdff02 110px,#ffeb00 111px,#ff7800 114.9px,#ff0200 120.9px,#e60000 129.9px,#e60000 201.5px)"></i><i style="background:linear-gradient(90deg,#e60000 3.5px,#f40000 12.5px,#ff1f00 13.4px,#ff6b00 14.4px,#ffc900 16.4px,#fff200 17.4px,#f6ff09 18.4px,#c8ff37 20.4px,#9f6 21.4px,#0052ff 22.4px,#0018ff 23.4px,#0af 41.3px,#00cfff 50.3px,#00fbff 57.2px,#7eff81 91.1px,#fcff03 109px,#fff100 110px,#f70 114.9px,#ff0400 121.9px,#fc0000 122.9px,#e60000 132.8px,#e60000 201.5px)"></i><i style="background:linear-gradient(90deg,#e60000 3.5px,#f50000 12.5px,#ff3500 13.4px,#ff8100 14.4px,#fff600 17.4px,#f2ff0d 18.4px,#beff41 20.4px,#80ff7f 21.4px,#0007ff 22.4px,#0005ff 23.4px,#00a1ff 41.3px,#00fcff 58.2px,#7dff82 91.1px,#faff05 109px,#fff300 110px,#ff7500 114.9px,#fe0000 121.9px,#e60000 131.9px,#e60000 181.6px,#ff3500 182.6px,#e60000 183.6px,#e60000 201.5px)"></i><i style="background:linear-gradient(90deg,#e70000 3.5px,#f40000 11.5px,#ff1500 12.5px,#ff6100 13.4px,#ff9800 14.4px,#ffe600 16.4px,#ff0 17.4px,#d7ff28 19.4px,#b0ff4f 20.4px,#57ffa8 21.4px,#000bff 22.4px,#0005ff 23.4px,#001eff 27.4px,#006aff 34.3px,#00a0ff 41.3px,#00fcff 58.2px,#7eff81 91.1px,#fbff04 109px,#ffec00 110px,#ff8600 112.9px,#f00 118.9px,#e60000 126.9px,#e60000 201.5px)"></i><i style="background:linear-gradient(90deg,#e60000 3.5px,#f80000 12.5px,#ff8900 14.4px,#fffa00 17.4px,#ef1 18.4px,#d8ff27 19.4px,#adff52 20.4px,#3dffc2 21.4px,#01f 22.4px,#002bff 27.4px,#0072ff 34.3px,#00a6ff 41.3px,#00fdff 58.2px,#7eff81 92.1px,#fffa00 111px,#ff7300 114.9px,#f00 119.9px,#e60000 127.9px,#e60000 201.5px)"></i><i style="background:linear-gradient(90deg,#e60000 3.5px,#f30000 11.5px,#fe0000 12.5px,#ff8c00 14.4px,#fffb00 17.4px,#edff12 18.4px,#d6ff29 19.4px,#a9ff56 20.4px,#2fd 21.4px,#0013ff 22.4px,#002cff 23.4px,#003dff 27.4px,#007fff 34.3px,#00afff 41.3px,#00d2ff 50.3px,#00fcff 57.2px,#7eff81 91.1px,#fff800 110px,#ff7300 114.9px,#ff0600 120.9px,#fc0000 121.9px,#e60000 130.9px,#e60000 182.6px,#ff6300 183.6px,#e60000 184.6px,#e60000 201.5px)"></i><i style="background:linear-gradient(90deg,#e70000 3.5px,#f40000 11.5px,#ff2d00 12.5px,#ff7a00 13.4px,#ffa500 14.4px,#fff000 16.4px,#faff05 17.4px,#d4ff2b 19.4px,#acff53 20.4px,#54ffab 21.4px,#000bff 22.4px,#0036ff 23.4px,#004eff 28.4px,#0086ff 34.3px,#00b9ff 42.3px,#00d5ff 50.3px,#0ff 57.2px,#31ffce 68.2px,#7eff81 91.1px,#fff900 110px,#ff7b00 114.9px,#ff0500 121.9px,#fc0000 122.9px,#e50000 132.8px,#e60000 181.6px,#ff7300 182.6px,#e60000 183.6px,#e60000 201.5px)"></i><i style="background:linear-gradient(90deg,#e70000 3.5px,#f40000 11.5px,#ff2900 12.5px,#ff7500 13.4px,#ffa200 14.4px,#ffef00 16.4px,#fbff04 17.4px,#cdff32 19.4px,#98ff67 20.4px,#0068ff 21.4px,#001aff 22.4px,#0045ff 23.4px,#0051ff 27.4px,#008dff 34.3px,#00b9ff 41.3px,#00fbff 56.2px,#7fff80 91.1px,#fff900 110px,#ff7300 114.9px,#ff0600 120.9px,#fc0000 121.9px,#e50000 130.9px,#e60000 182.6px,#ff7800 183.6px,#e50000 184.6px,#e60000 201.5px)"></i><i style="background:linear-gradient(90deg,#e70000 3.5px,#f40000 11.5px,#ff3100 12.5px,#ff7d00 13.4px,#fff100 16.4px,#f9ff06 17.4px,#cf3 19.4px,#9f6 20.4px,#0080ff 21.4px,#0018ff 22.4px,#0054ff 23.4px,#0063ff 28.4px,#0096ff 34.3px,#00bfff 41.3px,#00dcff 50.3px,#00feff 56.2px,#83ff7c 92.1px,#ff0 110px,#f70 114.9px,#ff0700 120.9px,#fc0000 121.9px,#e50000 130.9px,#e60000 201.5px)"></i><i style="background:linear-gradient(90deg,#e70000 3.5px,#f40000 11.5px,#ff1d00 12.5px,#ff6a00 13.4px,#ff9c00 14.4px,#ffea00 16.4px,#fdff02 17.4px,#d1ff2e 19.4px,#9dff62 20.4px,#00a2ff 21.4px,#0018ff 22.4px,#005fff 23.4px,#006cff 28.4px,#009cff 34.3px,#00c8ff 42.3px,#00faff 55.2px,#80ff7f 92.1px,#feff01 111px,#ff7600 115.9px,#ff0200 121.9px,#e60000 130.9px,#e60000 181.6px,#ff5e00 182.6px,#e50000 183.6px,#e50000 201.5px)"></i><i style="background:linear-gradient(90deg,#e70000 3.5px,#f40000 11.5px,#ff2f00 12.5px,#ff7b00 13.4px,#fff100 16.4px,#f9ff06 17.4px,#d1ff2e 19.4px,#a2ff5d 20.4px,#13ffec 21.4px,#0012ff 22.4px,#0059ff 23.4px,#0067ff 28.4px,#09f 34.3px,#00c1ff 41.3px,#00deff 50.3px,#0ff 56.2px,#34ffcb 68.2px,#84ff7b 92.1px,#fffb00 110px,#ff7400 114.9px,#ff0600 120.9px,#fc0000 121.9px,#e50000 130.9px,#e60000 182.6px,#ff4300 183.6px,#e50000 184.6px,#e50000 201.5px)"></i><i style="background:linear-gradient(90deg,#e80000 3.5px,#f40000 10.5px,#f10 11.5px,#ff5d00 12.5px,#ff9600 13.4px,#ffbe00 14.4px,#ffe500 15.4px,#fffc00 16.4px,#f0ff0f 17.4px,#bf4 19.4px,#72ff8d 20.4px,#0007ff 21.4px,#003eff 22.4px,#004aff 23.4px,#0054ff 27.4px,#0090ff 34.3px,#00baff 41.3px,#00fcff 56.2px,#82ff7d 92.1px,#ff0 110px,#ff7300 114.9px,#ff0100 120.9px,#e60000 129.9px,#e60000 201.5px)"></i><i style="background:linear-gradient(90deg,#e80000 3.5px,#f40000 10.5px,#ff0a00 11.5px,#ff5600 12.5px,#ff9200 13.4px,#ffe200 15.4px,#fffa00 16.4px,#f2ff0d 17.4px,#bf4 19.4px,#6dff92 20.4px,#0009ff 21.4px,#0035ff 22.4px,#0040ff 23.4px,#004cff 27.4px,#008aff 34.3px,#00b6ff 41.3px,#00d7ff 50.3px,#0ff 57.2px,#83ff7c 93px,#fdff02 111px,#ffe700 112px,#ff8000 114.9px,#ff1700 119.9px,#f00 121.9px,#e60000 128.9px,#e60000 181.6px,#ff5100 182.6px,#ffb800 183.6px,#e50000 184.6px,#e60000 201.5px)"></i><i style="background:linear-gradient(90deg,#e70000 3.5px,#f40000 11.5px,#ff2f00 12.5px,#ff7c00 13.4px,#fff100 16.4px,#f9ff06 17.4px,#c8ff37 19.4px,#91ff6e 20.4px,#001cff 21.4px,#001dff 22.4px,#004dff 23.4px,#0057ff 27.4px,#0092ff 34.3px,#00bcff 41.3px,#00fcff 56.2px,#83ff7c 93px,#fdff02 111px,#ffea00 112px,#ff9000 114.9px,#ff6500 116.9px,#ff1c00 121.9px,#fe0000 124.9px,#e60000 131.9px,#e60000 201.5px)"></i><i style="background:linear-gradient(90deg,#e70000 3.5px,#f40000 11.5px,#f20 12.5px,#ff6e00 13.4px,#ff9f00 14.4px,#ffec00 16.4px,#fcff03 17.4px,#d5ff2a 19.4px,#adff52 20.4px,#51ffae 21.4px,#000cff 22.4px,#005aff 23.4px,#0069ff 28.4px,#009aff 34.3px,#00c2ff 41.3px,#00feff 56.2px,#35ffca 69.2px,#81ff7e 93px,#feff01 112px,#ff8100 115.9px,#ff6100 119.9px,#ff0300 127.9px,#e60000 134.8px,#e70000 182.6px,#f60 183.6px,#fa0000 184.6px,#e50000 185.6px,#e50000 201.5px)"></i><i style="background:linear-gradient(90deg,#e70000 3.5px,#f40000 11.5px,#ff2100 12.5px,#ff6e00 13.4px,#ff9e00 14.4px,#ffeb00 16.4px,#fcff03 17.4px,#d5ff2a 19.4px,#adff52 20.4px,#51ffae 21.4px,#000cff 22.4px,#0049ff 23.4px,#005cff 28.4px,#0091ff 34.3px,#0bf 41.3px,#00fcff 56.2px,#80ff7f 92.1px,#faff05 110px,#fff500 111px,#ff9300 114.9px,#ff8a00 119.9px,#f80000 132.8px,#e80000 138.8px,#f30000 181.6px,#ffd700 182.6px,#ff5000 183.6px,#ff3600 184.6px,#ff0b00 185.6px,#e50000 186.6px,#e60000 201.5px)"></i><i style="background:linear-gradient(90deg,#e70000 3.5px,#f40000 11.5px,#ff1f00 12.5px,#ff6c00 13.4px,#ff9d00 14.4px,#ffeb00 16.4px,#fdff02 17.4px,#d5ff2a 19.4px,#aeff51 20.4px,#53ffac 21.4px,#000bff 22.4px,#0023ff 23.4px,#0037ff 27.4px,#007bff 34.3px,#00acff 41.3px,#00faff 57.2px,#7eff81 92.1px,#feff01 111px,#ffb200 113.9px,#ffb400 119.9px,#f60 128.9px,#ff1900 134.8px,#ff0300 138.8px,#ff0600 143.8px,#ff2500 150.8px,#ff3200 171.7px,#ff2800 181.6px,#ff7f00 182.6px,#ffb900 183.6px,#ff9d00 184.6px,#ff6e00 185.6px,#ff2f00 186.6px,#e60000 187.6px,#e60000 201.5px)"></i><i style="background:linear-gradient(90deg,#e70000 3.5px,#f40000 11.5px,#ff0800 12.5px,#ff9100 14.4px,#fffd00 17.4px,#ebff14 18.4px,#d5ff2a 19.4px,#a7ff58 20.4px,#14ffeb 21.4px,#0014ff 22.4px,#000aff 23.4px,#0021ff 27.4px,#006bff 34.3px,#00a1ff 41.3px,#00fbff 58.2px,#7fff80 93px,#fffe00 112px,#ffd600 113.9px,#ffdb00 118.9px,#ffd000 121.9px,#ff5f00 134.8px,#ff4700 138.8px,#ff4b00 143.8px,#ff6900 150.8px,#ff7300 171.7px,#ff6b00 182.6px,#5bffa4 183.6px,#7eff81 184.6px,#b8ff47 185.6px,#fffa00 186.6px,#ff3800 188.6px,#e60000 189.6px,#e60000 201.5px)"></i><i style="background:linear-gradient(90deg,#e70000 3.5px,#f40000 11.5px,#ff2900 12.5px,#ff7600 13.4px,#ffa200 14.4px,#ffef00 16.4px,#fbff04 17.4px,#d3ff2c 19.4px,#a8ff57 20.4px,#3effc1 21.4px,#000eff 22.4px,#000cff 23.4px,#0023ff 27.4px,#006dff 34.3px,#00a2ff 41.3px,#00fcff 58.2px,#7eff81 92.1px,#faff05 111px,#fff200 112px,#ffe800 113.9px,#fff100 118.9px,#ffd300 127.9px,#ff9b00 134.8px,#ff8a00 138.8px,#ffa400 150.8px,#ffa600 182.6px,#05fffa 183.6px,#1bffe4 184.6px,#5bffa4 185.6px,#afff50 186.6px,#ffed00 187.6px,#ff0900 189.6px,#e60000 190.6px,#e60000 201.5px)"></i><i style="background:linear-gradient(90deg,#e80000 3.5px,#f80000 11.5px,#ff8900 13.4px,#ffd900 15.4px,#fff600 16.4px,#f5ff0a 17.4px,#cbff34 19.4px,#9eff61 20.4px,#00f2ff 21.4px,#0012ff 22.4px,#002eff 27.4px,#0075ff 34.3px,#00a7ff 41.3px,#0ff 58.2px,#82ff7d 92.1px,#ff0 111px,#f6ff09 117.9px,#feff01 121.9px,#ffca00 138.8px,#ffd900 150.8px,#ffd900 182.6px,#05fffa 183.6px,#05fffa 185.6px,#5fffa0 186.6px,#c9ff36 187.6px,#ffc000 188.6px,#f40 189.6px,#e60000 190.6px,#e60000 201.5px)"></i><i style="background:linear-gradient(90deg,#e60000 3.5px,#f50000 12.5px,#ff3900 13.4px,#ff8300 14.4px,#fff700 17.4px,#f0ff0f 18.4px,#d9ff26 19.4px,#adff52 20.4px,#3fc 21.4px,#0013ff 22.4px,#002bff 23.4px,#003cff 27.4px,#007fff 34.3px,#00aeff 41.3px,#00d2ff 50.3px,#00fcff 57.2px,#81ff7e 92.1px,#daff25 106px,#e9ff16 111px,#dcff23 118.9px,#fffe00 131.9px,#ffef00 138.8px,#fff900 182.6px,#05fffa 183.6px,#05fffa 186.6px,#3dffc2 187.6px,#c2ff3d 188.6px,#ffb200 189.6px,#ff2500 190.6px,#e60000 191.6px,#e60000 201.5px)"></i><i style="background:linear-gradient(90deg,#e70000 3.5px,#f40000 11.5px,#ff1c00 12.5px,#ff6800 13.4px,#ff9b00 14.4px,#ffe900 16.4px,#fdff02 17.4px,#d4ff2b 19.4px,#a8ff57 20.4px,#38ffc7 21.4px,#0010ff 22.4px,#0038ff 23.4px,#004eff 28.4px,#0086ff 34.3px,#00b9ff 42.3px,#00d5ff 50.3px,#00feff 57.2px,#5fa 78.1px,#7fff80 92.1px,#bcff43 102px,#cf3 107px,#c2ff3d 118.9px,#eaff15 138.8px,#e2ff1d 182.6px,#05fffa 183.6px,#05fffa 187.6px,#84ff7b 188.6px,#ffe800 189.6px,#f50 190.6px,#e60000 191.6px,#e60000 201.5px)"></i><i style="background:linear-gradient(90deg,#e80000 3.5px,#f50000 11.5px,#ff3900 12.5px,#ff8300 13.4px,#fff300 16.4px,#f8ff07 17.4px,#d1ff2e 19.4px,#a6ff59 20.4px,#3cffc3 21.4px,#000eff 22.4px,#0041ff 23.4px,#05f 28.4px,#008cff 34.3px,#00b8ff 41.3px,#01fffe 57.2px,#acff53 102px,#7cff83 118.9px,#c2ff3d 138.8px,#b6ff49 150.8px,#b5ff4a 182.6px,#05fffa 183.6px,#05fffa 187.6px,#73ff8c 188.6px,#fff700 189.6px,#ff6200 190.6px,#e60000 191.6px,#e60000 201.5px)"></i><i style="background:linear-gradient(90deg,#e80000 3.5px,#f50000 11.5px,#ff8400 13.4px,#fff400 16.4px,#f7ff08 17.4px,#c9ff36 19.4px,#97ff68 20.4px,#0072ff 21.4px,#0019ff 22.4px,#0035ff 23.4px,#04f 27.4px,#0084ff 34.3px,#00b2ff 41.3px,#03fffc 58.2px,#2effd1 69.2px,#48ffb7 81.1px,#4fffb0 102px,#46ffb9 118.9px,#5fa 138.8px,#52ffad 182.6px,#05fffa 183.6px,#05fffa 187.6px,#68ff97 188.6px,#feff01 189.6px,#ff6a00 190.6px,#e60000 191.6px,#e60000 201.5px)"></i><i style="background:linear-gradient(90deg,#e70000 3.5px,#f40000 11.5px,#ff0800 12.5px,#f50 13.4px,#ff9100 14.4px,#fffd00 17.4px,#eaff15 18.4px,#d2ff2d 19.4px,#9aff65 20.4px,#0049ff 21.4px,#001dff 22.4px,#01f 23.4px,#0026ff 27.4px,#006fff 34.3px,#00a3ff 41.3px,#0ff 60.2px,#21ffde 77.1px,#2effd1 122.9px,#2effd1 182.6px,#05fffa 183.6px,#05fffa 187.6px,#63ff9c 188.6px,#f9ff06 189.6px,#ff6e00 190.6px,#e60000 191.6px,#e60000 201.5px)"></i><i style="background:linear-gradient(90deg,#e60000 3.5px,#f50000 12.5px,#ff8400 14.4px,#fff800 17.4px,#ef1 18.4px,#d5ff2a 19.4px,#9fff60 20.4px,#0063ff 21.4px,#001dff 22.4px,#0000f4 23.4px,#000fff 27.4px,#005fff 34.3px,#009fff 42.3px,#0ff 60.2px,#27ffd8 70.2px,#3dffc2 82.1px,#40ffbf 118.9px,#5cffa3 150.8px,#6f9 182.6px,#05fffa 183.6px,#05fffa 187.6px,#69ff96 188.6px,#ff0 189.6px,#ff6900 190.6px,#e60000 191.6px,#e60000 201.5px)"></i><i style="background:linear-gradient(90deg,#e70000 3.5px,#f40000 11.5px,#ff2000 12.5px,#ff6c00 13.4px,#ff9d00 14.4px,#ffeb00 16.4px,#fdff02 17.4px,#d3ff2c 19.4px,#a5ff5a 20.4px,#21ffde 21.4px,#0012ff 22.4px,#0000fb 23.4px,#0016ff 27.4px,#0064ff 34.3px,#009bff 41.3px,#00fdff 59.2px,#53ffac 80.1px,#7fff80 98px,#81ff7e 103px,#5affa5 118.9px,#92ff6d 137.8px,#c6ff39 149.8px,#d0ff2f 182.6px,#05fffa 183.6px,#05fffa 187.6px,#8f7 188.6px,#ffe500 189.6px,#ff5200 190.6px,#e60000 191.6px,#e60000 201.5px)"></i><i style="background:linear-gradient(90deg,#e60000 3.5px,#f30000 11.5px,#ff0100 12.5px,#ff8e00 14.4px,#fffb00 17.4px,#edff12 18.4px,#d8ff27 19.4px,#afff50 20.4px,#47ffb8 21.4px,#000fff 22.4px,#000eff 23.4px,#0025ff 27.4px,#006eff 34.3px,#00a3ff 41.3px,#00fcff 58.2px,#7dff82 92.1px,#b5ff4a 103px,#b8ff47 106px,#8eff71 118.9px,#c2ff3d 130.9px,#f3ff0c 150.8px,#fffe00 182.6px,#05fffa 183.6px,#05fffa 185.6px,#0efff1 186.6px,#ff0 188.6px,#f40000 190.6px,#e60000 191.6px,#e60000 201.5px)"></i><i style="background:linear-gradient(90deg,#e60000 3.5px,#f50000 12.5px,#ff3400 13.4px,#ff8000 14.4px,#fff600 17.4px,#f0ff0f 18.4px,#d9ff26 19.4px,#acff53 20.4px,#23ffdc 21.4px,#0014ff 22.4px,#0034ff 27.4px,#0079ff 34.3px,#0af 41.3px,#00feff 58.2px,#80ff7f 94px,#c6ff39 108px,#c1ff3e 118.9px,#ff0 142.8px,#ffe500 150.8px,#ffd600 182.6px,#ffd100 183.6px,#ff3f00 184.6px,#ff1400 185.6px,#e60000 186.6px,#e60000 201.5px)"></i><i style="background:linear-gradient(90deg,#e60000 3.5px,#f40000 12.5px,#ff2a00 13.4px,#f70 14.4px,#ffa300 15.4px,#fff400 17.4px,#f3ff0c 18.4px,#b6ff49 20.4px,#57ffa8 21.4px,#000eff 22.4px,#02f 23.4px,#0035ff 27.4px,#007aff 34.3px,#00abff 41.3px,#0ff 58.2px,#5fa 79.1px,#7fff80 93px,#c8ff37 105px,#daff25 110px,#d4ff2b 118.9px,#fffe00 133.8px,#ffd100 146.8px,#ffb200 150.8px,#ff8e00 182.6px,#ff4300 183.6px,#e60000 184.6px,#e60000 201.5px)"></i><i style="background:linear-gradient(90deg,#e60000 3.5px,#f40000 12.5px,#ff0f00 13.4px,#ff5b00 14.4px,#ff9500 15.4px,#fe0 17.4px,#f7ff08 18.4px,#df2 19.4px,#b3ff4c 20.4px,#3affc5 21.4px,#0014ff 22.4px,#0af 41.3px,#00feff 58.2px,#7fff80 94px,#d8ff27 109px,#edff12 114.9px,#e8ff17 118.9px,#fffe00 126.9px,#ffd900 138.8px,#ff6e00 150.8px,#ff5900 171.7px,#ff3e00 181.6px,#ffc000 182.6px,#7dff82 183.6px,#9fff60 184.6px,#d7ff28 185.6px,#fd0 186.6px,#ff2000 188.6px,#e60000 189.6px,#e60000 201.5px)"></i><i style="background:linear-gradient(90deg,#e60000 3.5px,#f40000 13.4px,#ff2000 14.4px,#ff6e00 15.4px,#ffd800 17.4px,#fffd00 18.4px,#e8ff17 19.4px,#cf3 20.4px,#8aff75 21.4px,#0009ff 22.4px,#002dff 23.4px,#0047ff 28.4px,#0081ff 34.3px,#00b6ff 42.3px,#02fffd 58.2px,#80ff7f 93px,#ff0 112.9px,#fdff02 119.9px,#ffdc00 130.9px,#ffb700 137.8px,#ff2000 150.8px,#f00 175.6px,#f30000 182.6px,#75ff8a 183.6px,#98ff67 184.6px,#d0ff2f 185.6px,#ffe400 186.6px,#ff2500 188.6px,#e60000 189.6px,#e60000 201.5px)"></i><i style="background:linear-gradient(90deg,#e60000 3.5px,#f40000 13.4px,#ff3400 14.4px,#ff8100 15.4px,#ffe000 17.4px,#feff01 18.4px,#c5ff3a 20.4px,#7f8 21.4px,#000cff 22.4px,#003fff 23.4px,#0054ff 28.4px,#008bff 34.3px,#00b7ff 41.3px,#00feff 57.2px,#80ff7f 94px,#fffe00 113.9px,#fff300 114.9px,#fff300 118.9px,#ffce00 128.9px,#ff7e00 138.8px,#ff0100 147.8px,#ed0000 150.8px,#e60000 181.6px,#ffc600 182.6px,#ceff31 183.6px,#ef1 184.6px,#fd0 185.6px,#f40 187.6px,#e50000 188.6px,#e60000 201.5px)"></i><i style="background:linear-gradient(90deg,#e60000 3.5px,#f40000 13.4px,#ff3000 14.4px,#ff7e00 15.4px,#ffde00 17.4px,#feff01 18.4px,#bdff42 20.4px,#4fffb0 21.4px,#0012ff 22.4px,#0045ff 23.4px,#0058ff 28.4px,#008eff 34.3px,#00b9ff 41.3px,#0ff 57.2px,#32ffcd 69.2px,#80ff7f 94px,#fffc00 113.9px,#ffe100 115.9px,#ffd500 122.9px,#ffb000 127.9px,#ff5600 137.8px,#fb0000 143.8px,#e60000 149.8px,#e60000 181.6px,#ff2e00 182.6px,#daff25 183.6px,#f9ff06 184.6px,#ffd200 185.6px,#ff3a00 187.6px,#e50000 188.6px,#e60000 201.5px)"></i><i style="background:linear-gradient(90deg,#e60000 3.5px,#f40000 13.4px,#ff2700 14.4px,#ff7500 15.4px,#fa0 16.4px,#ff0 18.4px,#bdff42 20.4px,#4affb5 21.4px,#0013ff 22.4px,#0035ff 23.4px,#004bff 28.4px,#0084ff 34.3px,#00b8ff 42.3px,#00fbff 57.2px,#81ff7e 95px,#faff05 113.9px,#fff300 114.9px,#ffda00 115.9px,#ffce00 119.9px,#ff8a00 127.9px,#ff3600 134.8px,#f70000 140.8px,#e60000 145.8px,#e60000 182.6px,#a4ff5b 183.6px,#c5ff3a 184.6px,#fbff04 185.6px,#ffbc00 186.6px,#ff0300 188.6px,#e60000 189.6px,#e60000 201.5px)"></i><i style="background:linear-gradient(90deg,#e60000 3.5px,#f40000 12.5px,#ff1000 13.4px,#ff5c00 14.4px,#ff9500 15.4px,#fe0 17.4px,#f6ff09 18.4px,#df2 19.4px,#b3ff4c 20.4px,#36ffc9 21.4px,#0014ff 22.4px,#0031ff 27.4px,#07f 34.3px,#00a9ff 41.3px,#00fdff 58.2px,#7eff81 94px,#fffc00 113.9px,#ffbd00 115.9px,#ffb700 118.9px,#ff8d00 123.9px,#f00 135.8px,#e60000 142.8px,#e60000 181.6px,#ffb700 182.6px,#fff200 183.6px,#ffd500 184.6px,#ffa400 185.6px,#f10 187.6px,#e60000 188.6px,#e60000 201.5px)"></i><i style="background:linear-gradient(90deg,#e60000 3.5px,#fd0000 13.4px,#ff8c00 15.4px,#ffe800 17.4px,#f8ff07 18.4px,#df2 19.4px,#adff52 20.4px,#00caff 21.4px,#001bff 22.4px,#0014ff 23.4px,#0028ff 27.4px,#0071ff 34.3px,#00a4ff 41.3px,#00fcff 58.2px,#80ff7f 94px,#fdff02 112.9px,#ffe500 113.9px,#ffa600 115.9px,#f90 116.9px,#f90 118.9px,#ff7500 122.9px,#ff0300 131.9px,#f70000 132.8px,#e60000 140.8px,#e60000 182.6px,#ffaf00 183.6px,#e70000 184.6px,#e60000 201.5px)"></i><i style="background:linear-gradient(90deg,#e60000 3.5px,#f50000 13.4px,#f80 15.4px,#ffe500 17.4px,#fcff03 18.4px,#c4ff3b 20.4px,#7aff85 21.4px,#000aff 22.4px,#0027ff 23.4px,#003bff 27.4px,#007eff 34.3px,#00aeff 41.3px,#00faff 57.2px,#7fff80 94px,#faff05 112.9px,#fff400 113.9px,#ff9a00 116.9px,#ff8a00 117.9px,#fa0000 129.9px,#e60000 135.8px,#e60000 201.5px)"></i><i style="background:linear-gradient(90deg,#e60000 3.5px,#f40000 12.5px,#ff0700 13.4px,#ff9100 15.4px,#ffeb00 17.4px,#f8ff07 18.4px,#b7ff48 20.4px,#4fb 21.4px,#0012ff 22.4px,#003fff 23.4px,#0053ff 28.4px,#008aff 34.3px,#00bcff 42.3px,#00d7ff 50.3px,#00feff 57.2px,#7fff80 93px,#fbff04 112px,#fff200 112.9px,#ff7c00 116.9px,#fd0000 126.9px,#e60000 133.8px,#e60000 201.5px)"></i><i style="background:linear-gradient(90deg,#e60000 3.5px,#f40000 12.5px,#ff2900 13.4px,#ff7600 14.4px,#ffcd00 16.4px,#fff400 17.4px,#f3ff0c 18.4px,#dbff24 19.4px,#b1ff4e 20.4px,#3fffc0 21.4px,#0012ff 22.4px,#04f 23.4px,#0057ff 28.4px,#008dff 34.3px,#00b9ff 41.3px,#00faff 56.2px,#7fff80 93px,#fbff04 112px,#fff300 112.9px,#ff7c00 116.9px,#ff1400 122.9px,#f00 124.9px,#e60000 132.8px,#e60000 201.5px)"></i><i style="background:linear-gradient(90deg,#e60000 3.5px,#f50000 12.5px,#ff3500 13.4px,#ff8100 14.4px,#fff700 17.4px,#f2ff0d 18.4px,#c3ff3c 20.4px,#95ff6a 21.4px,#003bff 22.4px,#0026ff 23.4px,#00b0ff 41.3px,#00fbff 57.2px,#7fff80 93px,#feff01 112px,#ff7500 116.9px,#ff0500 122.9px,#fe0000 123.9px,#e60000 131.9px,#e60000 201.5px)"></i><i style="background:linear-gradient(90deg,#e60000 3.5px,#f40000 12.5px,#ff0800 13.4px,#ff9200 15.4px,#ffec00 17.4px,#f8ff07 18.4px,#bfff40 20.4px,#6bff94 21.4px,#000cff 22.4px,#02f 23.4px,#0035ff 27.4px,#007aff 34.3px,#00abff 41.3px,#00feff 58.2px,#56ffa9 80.1px,#7fff80 94px,#fcff03 112.9px,#ffec00 113.9px,#ff8600 116.9px,#ff0100 122.9px,#e60000 130.9px,#e60000 201.5px)"></i><i style="background:linear-gradient(90deg,#e70000 3.5px,#f40000 11.5px,#ff0800 12.5px,#f50 13.4px,#ff9100 14.4px,#fffd00 17.4px,#ebff14 18.4px,#d4ff2b 19.4px,#a4ff5b 20.4px,#00e1ff 21.4px,#0016ff 22.4px,#0031ff 27.4px,#0076ff 34.3px,#00a9ff 41.3px,#00fdff 58.2px,#81ff7e 95px,#fcff03 113.9px,#ffe800 114.9px,#ff7000 117.9px,#ff0200 121.9px,#e60000 128.9px,#e60000 201.5px)"></i><i style="background:linear-gradient(90deg,#e60000 3.5px,#f30000 11.5px,#ff0400 12.5px,#ff8f00 14.4px,#fffc00 17.4px,#ecff13 18.4px,#d6ff29 19.4px,#a7ff58 20.4px,#15ffea 21.4px,#0014ff 22.4px,#00abff 41.3px,#00feff 58.2px,#81ff7e 95px,#fcff03 113.9px,#ffea00 114.9px,#ff8600 117.9px,#ff0100 123.9px,#e60000 131.9px,#e60000 201.5px)"></i><i style="background:linear-gradient(90deg,#e60000 3.5px,#f40000 11.5px,#ff0600 12.5px,#ff9000 14.4px,#fffc00 17.4px,#edff12 18.4px,#baff45 20.4px,#80ff7f 21.4px,#0005ff 22.4px,#0027ff 24.4px,#0036ff 27.4px,#007aff 34.3px,#00abff 41.3px,#00feff 58.2px,#7eff81 94px,#ff0 113.9px,#ff8200 117.9px,#ff0500 123.9px,#fc0000 124.9px,#e60000 132.8px,#e60000 182.6px,#ff6800 183.6px,#e60000 184.6px,#e60000 201.5px)"></i><i style="background:linear-gradient(90deg,#e60000 3.5px,#f40000 12.5px,#ff2f00 13.4px,#ff7b00 14.4px,#fff500 17.4px,#f3ff0c 18.4px,#bdff42 20.4px,#79ff86 21.4px,#0008ff 22.4px,#001aff 23.4px,#0032ff 27.4px,#07f 34.3px,#00a9ff 41.3px,#00fdff 58.2px,#7fff80 95px,#fffb00 114.9px,#ff7b00 118.9px,#fe0000 124.9px,#e60000 132.8px,#e60000 201.5px)"></i><i style="background:linear-gradient(90deg,#e60000 3.5px,#f40000 12.5px,#ff2700 13.4px,#ff7300 14.4px,#fc0 16.4px,#fff400 17.4px,#f5ff0a 18.4px,#c5ff3a 20.4px,#96ff69 21.4px,#0034ff 22.4px,#01f 23.4px,#00a7ff 41.3px,#00fcff 58.2px,#7fff80 94px,#fbff04 112.9px,#fe0 113.9px,#ff7100 117.9px,#ff0600 122.9px,#fc0000 123.9px,#e60000 131.9px,#e60000 201.5px)"></i><i style="background:linear-gradient(90deg,#e70000 3.5px,#f40000 11.5px,#ff2e00 12.5px,#ff7a00 13.4px,#ffa500 14.4px,#fff000 16.4px,#faff05 17.4px,#d5ff2a 19.4px,#b1ff4e 20.4px,#6bff94 21.4px,#0007ff 22.4px,#0024ff 24.4px,#03f 27.4px,#0078ff 34.3px,#0af 41.3px,#00feff 58.2px,#82ff7d 94px,#fffa00 112.9px,#ff7a00 117.9px,#ff0200 124.9px,#e60000 135.8px,#e60000 181.6px,#ff2800 182.6px,#e60000 183.6px,#e60000 201.5px)"></i><i style="background:linear-gradient(90deg,#e60000 3.5px,#f40000 12.5px,#ff2d00 13.4px,#ff7a00 14.4px,#ffa500 15.4px,#fff500 17.4px,#f2ff0d 18.4px,#dbff24 19.4px,#b3ff4c 20.4px,#47ffb8 21.4px,#0010ff 22.4px,#00a8ff 41.3px,#00fdff 58.2px,#82ff7d 95px,#fdff02 113.9px,#ffe500 114.9px,#ff7600 117.9px,#fd0000 122.9px,#e60000 129.9px,#e60000 201.5px)"></i><i style="background:linear-gradient(90deg,#e60000 3.5px,#f50000 12.5px,#ff8500 14.4px,#fff800 17.4px,#f1ff0e 18.4px,#bcff43 20.4px,#7cff83 21.4px,#0007ff 22.4px,#0027ff 27.4px,#0070ff 34.3px,#00a4ff 41.3px,#00fcff 58.2px,#7dff82 93px,#faff05 112px,#fff400 112.9px,#ff7a00 116.9px,#f00 122.9px,#e60000 131.9px,#e60000 201.5px)"></i><i style="background:linear-gradient(90deg,#e70000 3.5px,#f40000 11.5px,#ff1400 12.5px,#ff6000 13.4px,#ff9700 14.4px,#ffe500 16.4px,#ff0 17.4px,#d2ff2d 19.4px,#9dff62 20.4px,#008cff 21.4px,#0019ff 22.4px,#0005ff 23.4px,#001dff 27.4px,#0068ff 34.3px,#009fff 41.3px,#00feff 59.2px,#54ffab 80.1px,#7fff80 94px,#fdff02 112.9px,#ffe500 113.9px,#ff7d00 116.9px,#ff0b00 121.9px,#fd0000 122.9px,#e60000 130.9px,#e60000 201.5px)"></i><i style="background:linear-gradient(90deg,#e70000 3.5px,#f40000 11.5px,#ff0e00 12.5px,#ff5a00 13.4px,#ff9400 14.4px,#ffe300 16.4px,#fffe00 17.4px,#eaff15 18.4px,#d4ff2b 19.4px,#a4ff5b 20.4px,#00f0ff 21.4px,#0015ff 22.4px,#0000f6 23.4px,#01f 27.4px,#0060ff 34.3px,#00a0ff 42.3px,#02fffd 60.2px,#52ffad 79.1px,#7dff82 93px,#fdff02 112px,#ffe700 112.9px,#ff6f00 116.9px,#ff0700 121.9px,#fc0000 122.9px,#e60000 130.9px,#e60000 201.5px)"></i><i style="background:linear-gradient(90deg,#e60000 3.5px,#f50000 13.4px,#ff3500 14.4px,#ff8100 15.4px,#ffe000 17.4px,#fdff02 18.4px,#c1ff3e 20.4px,#63ff9c 21.4px,#000fff 22.4px,#0000f8 23.4px,#0013ff 27.4px,#0062ff 34.3px,#009aff 41.3px,#00fcff 59.2px,#7eff81 94px,#fcff03 112.9px,#ffeb00 113.9px,#ff7000 117.9px,#ff0600 122.9px,#fc0000 123.9px,#e60000 131.9px,#e60000 201.5px)"></i><i style="background:linear-gradient(90deg,#e70000 3.5px,#f40000 11.5px,#f20 12.5px,#ff6f00 13.4px,#ff9f00 14.4px,#ffec00 16.4px,#fcff03 17.4px,#d5ff2a 19.4px,#adff52 20.4px,#52ffad 21.4px,#000bff 22.4px,#0004ff 23.4px,#001dff 27.4px,#0069ff 34.3px,#009fff 41.3px,#00feff 59.2px,#52ffad 79.1px,#7eff81 93px,#fcff03 112px,#ffed00 112.9px,#f70 116.9px,#f00 122.9px,#e60000 131.9px,#e60000 201.5px)"></i><i style="background:linear-gradient(90deg,#e70000 3.5px,#f40000 11.5px,#f20 12.5px,#ff6f00 13.4px,#ff9f00 14.4px,#ffec00 16.4px,#fcff03 17.4px,#d5ff2a 19.4px,#adff52 20.4px,#52ffad 21.4px,#000bff 22.4px,#0004ff 23.4px,#001dff 27.4px,#0069ff 34.3px,#009fff 41.3px,#00feff 59.2px,#52ffad 79.1px,#7eff81 93px,#fcff03 112px,#ffed00 112.9px,#f70 116.9px,#f00 122.9px,#e60000 131.9px,#e60000 201.5px)"></i><i style="background:linear-gradient(90deg,#e70000 3.5px,#f40000 11.5px,#f20 12.5px,#ff6f00 13.4px,#ff9f00 14.4px,#ffec00 16.4px,#fcff03 17.4px,#d5ff2a 19.4px,#adff52 20.4px,#52ffad 21.4px,#000bff 22.4px,#0004ff 23.4px,#001dff 27.4px,#0069ff 34.3px,#009fff 41.3px,#00feff 59.2px,#52ffad 79.1px,#7eff81 93px,#fcff03 112px,#ffed00 112.9px,#f70 116.9px,#f00 122.9px,#e60000 131.9px,#e60000 201.5px)"></i><i style="background:linear-gradient(90deg,#e70000 3.5px,#f40000 11.5px,#f20 12.5px,#ff6f00 13.4px,#ff9f00 14.4px,#ffec00 16.4px,#fcff03 17.4px,#d5ff2a 19.4px,#adff52 20.4px,#52ffad 21.4px,#000bff 22.4px,#0004ff 23.4px,#001dff 27.4px,#0069ff 34.3px,#009fff 41.3px,#00feff 59.2px,#52ffad 79.1px,#7eff81 93px,#fcff03 112px,#ffed00 112.9px,#f70 116.9px,#f00 122.9px,#e60000 131.9px,#e60000 201.5px)"></i></div><b class="f" style="left:19.9px;top:28.9px;width:159.2px"></b><b class="f" style="left:19.9px;top:87.8px;width:159.2px;background:linear-gradient(90deg,rgba(30,45,30,.42) 52%,rgba(30,45,30,.2) 62%)"></b><b class="v" style="left:178.4px"></b></div>
<span class="t xt" style="left:288.5px;top:452.1px">0</span><span class="t xt" style="left:328.3px;top:452.1px">20</span><span class="t xt" style="left:368.1px;top:452.1px">40</span><span class="t xt" style="left:407.9px;top:452.1px">60</span><span class="t xt" style="left:447.7px;top:452.1px">80</span><span class="t xt" style="left:487.5px;top:452.1px">100</span><span class="t yt" style="left:265.0px;top:442.9px">0</span><span class="t yt" style="left:265.0px;top:403.6px">20</span><span class="t yt" style="left:265.0px;top:364.4px">40</span><span class="t yt" style="left:265.0px;top:325.1px">60</span><span class="xl" style="left:388.0px;top:465.6px">x(m)</span><span class="yl" style="left:264.5px;top:387.7px">y(m)</span><span class="lg" style="left:351.4px;top:428.4px">Length=80 m</span>
<div class="cb"></div><span class="ct" style="top:441.5px">0</span><span class="ct" style="top:397.9px">0.1</span><b class="tk" style="top:402.4px"></b><span class="ct" style="top:354.3px">0.2</span><b class="tk" style="top:358.8px"></b><span class="ct" style="top:310.7px">0.3</span><b class="tk" style="top:315.2px"></b><span class="ct" style="top:267.1px">0.4</span><b class="tk" style="top:271.6px"></b><span class="ct" style="top:223.5px">0.5</span><b class="tk" style="top:228.0px"></b><span class="ct" style="top:179.9px">0.6</span><b class="tk" style="top:184.4px"></b><span class="ct" style="top:136.3px">0.7</span><b class="tk" style="top:140.8px"></b><span class="ct" style="top:92.7px">0.8</span><b class="tk" style="top:97.2px"></b><span class="ct" style="top:49.1px">0.9</span><b class="tk" style="top:53.6px"></b><span class="ct" style="top:5.5px">1</span></body></html>
